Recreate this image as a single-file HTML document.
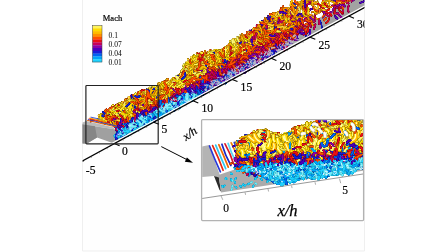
<!DOCTYPE html>
<html><head><meta charset="utf-8"><title>Mach iso-surfaces</title>
<style>
html,body{margin:0;padding:0;background:#fff;}
body{width:448px;height:252px;overflow:hidden;position:relative;font-family:"Liberation Serif",serif;}
svg{position:absolute;left:0;top:0;display:block}
text{font-family:"Liberation Serif",serif;fill:#000}
</style></head><body>
<svg width="448" height="252" viewBox="0 0 448 252">
<defs>
<clipPath id="cm"><rect x="82.5" y="0" width="282" height="250"/></clipPath>
<clipPath id="ci"><rect x="202.2" y="120.2" width="160.8" height="99.8"/></clipPath>
<filter id="od" x="80" y="-5" width="290" height="230" filterUnits="userSpaceOnUse" color-interpolation-filters="sRGB"><feGaussianBlur in="SourceGraphic" stdDeviation=".45" result="b"/><feComponentTransfer in="b" result="d"><feFuncR type="linear" slope=".5"/><feFuncG type="linear" slope=".5"/><feFuncB type="linear" slope=".5"/><feFuncA type="linear" slope="3.5"/></feComponentTransfer><feMerge><feMergeNode in="d"/><feMergeNode in="SourceGraphic"/></feMerge></filter>
<filter id="oc" x="80" y="-5" width="290" height="230" filterUnits="userSpaceOnUse" color-interpolation-filters="sRGB"><feGaussianBlur in="SourceGraphic" stdDeviation=".45" result="b"/><feComponentTransfer in="b" result="d"><feFuncR type="linear" slope=".68"/><feFuncG type="linear" slope=".68"/><feFuncB type="linear" slope=".68"/><feFuncA type="linear" slope="3.5"/></feComponentTransfer><feMerge><feMergeNode in="d"/><feMergeNode in="SourceGraphic"/></feMerge></filter>
</defs>
<rect x="0" y="0" width="448" height="252" fill="#fff"/>
<rect x="82.5" y="0" width="282" height="251" fill="#fefefe"/>
<path d="M82.5 0V251H364.5V0" fill="none" stroke="#efefef" stroke-width="1"/>
<g clip-path="url(#cm)">
<polygon points="114.3,129.3 366,-7.6 366,5.7 118,140.6" fill="#a2a2a2"/>
<polygon points="82,122.8 86.3,121 114.3,127.4 114.3,129.3 82,124.3" fill="#bababa"/>
<polygon points="82,124.3 114.3,129.3 118,134 124,139 114,143.6 97,137.6 87,143.6 82,143.6" fill="#a0a0a0"/>
<polygon points="82,124.3 95,126.3 97,137.6 87,143.6 82,143.6" fill="#868686"/>
<polygon points="90,122.7 94,121.3 98,119.1 102,116.6 106,114.3 110,112 114,110 116,109.5 120,107.5 124,105.1 128,102.7 132,100.3 136,97.9 140,95.5 144,93.9 148,92.3 152,91 156,89.2 160,86.5 164,84.8 168,84 172,84 176,81.1 180,78.3 184,73.4 188,65 192,62.2 196,59.3 200,56.5 204,55.9 208,55.3 212,54.8 216,54.5 220,54.2 224,52.3 228,49 232,45 236,41.6 240,39.6 244,38.9 248,37.3 252,35 256,31.7 260,27.8 264,23.8 268,20.6 268,44 264,46.2 260,48.4 256,50.6 252,52.7 248,54.9 244,57.1 240,59.3 236,61.4 232,63.6 228,65.8 224,68 220,70.1 216,72.3 212,74.5 208,76.7 204,78.8 200,81 196,83.2 192,85.4 188,87.5 184,89.7 180,91.9 176,94.1 172,96.2 168,98.4 164,100.6 160,102.8 156,105 152,107.1 148,109.3 144,111.5 140,113.7 136,115.8 132,118 128,120.2 124,122.4 120,124.5 116,126.7 114,124.8 110,123.7 106,122.6 102,121.5 98,120.4 94,119.3 90,118.2" fill="#b83a10"/><polygon points="116,126.7 120,124.5 124,122.4 128,120.2 132,118 136,115.8 140,113.7 144,111.5 148,109.3 152,107.1 156,105 160,102.8 164,100.6 168,98.4 172,96.2 176,94.1 180,91.9 184,89.7 188,87.5 192,85.4 196,83.2 200,81 204,78.8 208,76.7 212,74.5 216,72.3 220,70.1 224,68 228,65.8 232,63.6 236,61.4 240,59.3 244,57.1 248,54.9 252,52.7 256,50.6 260,48.4 264,46.2 268,44 268,56.5 264,58.7 260,60.9 256,63.1 252,65.2 248,67.4 244,69.6 240,71.8 236,73.9 232,76.1 228,78.3 224,80.5 220,82.6 216,84.8 212,87 208,89.2 204,91.3 200,93.5 196,95.7 192,97.9 188,100 184,102.2 180,104.4 176,106.6 172,108.7 168,110.9 164,113.1 160,115.3 156,117.5 152,119.6 148,121.8 144,124 140,126.2 136,128.3 132,130.5 128,132.7 124,134.9 120,137 116,139.2" fill="#50108c"/><polygon points="116,131.2 120,129 124,126.9 128,124.7 132,122.5 136,120.3 140,118.2 144,116 148,113.8 152,111.6 156,109.5 160,107.3 164,105.1 168,102.9 172,100.7 176,98.6 180,97.1 184,96.3 188,95.5 192,94.6 196,93.8 200,93 200,93.5 196,95.7 192,97.9 188,100 184,102.2 180,104.4 176,106.6 172,108.7 168,110.9 164,113.1 160,115.3 156,117.5 152,119.6 148,121.8 144,124 140,126.2 136,128.3 132,130.5 128,132.7 124,134.9 120,137 116,139.2" fill="#1088e0"/>
<g fill="none" stroke-linecap="round" stroke-linejoin="round">
<path filter="url(#od)" stroke="#ff5000" stroke-width="2" d="M285.5 33.8q1.7 2.6 4.8 2M285.7 27.4q-2.4 -1.4 -5.1 -1.1"/>
<path filter="url(#oc)" stroke="#1ed2ff" stroke-width="4.5" d="M156.4 108.1q-.1 3.5 3.3 4.3M182 102.1q-1.8 .1 -3 -1.3M132.7 128.1q-3.5 .3 -5.9 2.7M146.2 115.9q.7 -2.6 3.3 -2.3M150 121.1q.8 -2.6 1.7 -5.3M126.1 132.9q-2.3 -1.4 -1.3 -3.9M136.4 120.8q-2.2 4.2 1.9 6.6M149.6 118.2q2.2 -3.1 6 -2.3M174 101.6q3 -1.7 6.1 -.4"/>
<path filter="url(#od)" stroke="#ff9100" stroke-width="3.5" d="M229.7 59.8q1.4 -2 3.2 -3.5M170.2 90.8q-1.9 .4 -3.6 1.4M237.6 42.2q1.6 -1.3 3.7 -.9M250.8 43.9q-1.5 2 -.3 4.3M236.6 54.2q2.3 .3 4.4 1.3M278.1 20.5q1.3 1.8 1 4.1M129.8 112.3q-.3 2.4 -1.2 4.7M242.4 46.1q3 -1 5.6 .7M274.5 41.3q-1.7 1.1 -1.2 3.1M261.5 51.2q-3.1 -1.4 -3.9 -4.6M193.1 66.4q4 1.1 3.2 5.1M272.1 16.4q.2 -2.2 2.4 -2.3M213.9 58.2q-1.1 -1.5 -2.9 -1.5M124 120.6q-1.5 2 -3.9 2.9M265.9 31.1q3.4 .7 4.3 -2.6M263.4 40q-1.8 -2.1 -.9 -4.8M228 57.1q2 -1.2 1.1 -3.3M219.6 62.7q.9 2.4 -1 4.2M205.8 62q-.5 3.9 3.3 4.9"/>
<path filter="url(#oc)" stroke="#1ed2ff" stroke-width="3.5" d="M178.4 101.1q-1.9 -2.5 -4.3 -4.5M154 114.2q.9 2.3 2.8 3.9M177.9 104.7q-2.5 -2.8 -.2 -5.8M148 120.1q0 -2.8 2.8 -3.1M171.7 104.6q-2.6 -.5 -3.8 -2.8M115.5 135.9q2.7 -2.1 6 -2"/>
<path filter="url(#od)" stroke="#ffdc00" stroke-width="4.5" d="M202.1 61.4q-3 1.2 -4.3 4.2M174.3 84.9q3.3 .7 3.3 4.1M164.9 88.6q-1.7 -.5 -3.4 .1M202.6 75.1q2.8 2 1.1 5M228.4 55.2q-1.9 1.1 -2.4 3.3M202 61.3q-3 -1.5 -5.7 -3.4M117 109.5q2.8 -.4 3.6 -3.1M126.6 114.1q2.8 .6 4.3 -1.9M214.6 53.7q3.8 .1 6.2 3M222.8 64.8q-3.3 1.3 -5.3 -1.6M215.1 51.5q.8 2.8 -1.3 4.7M265.5 22.7q-.2 3.1 -2.8 4.8M155.6 90.3q-3.1 1.7 -6 -.4M258.8 34.4q-2.9 -1.4 -5.5 -3.3"/>
<path filter="url(#od)" stroke="#eb0f14" stroke-width="1.2" d="M303.3 .9q4.2 -1.1 3.1 -5.2"/>
<path filter="url(#od)" stroke="#ff9100" stroke-width="1.6" d="M306.8 -2.9q-1.8 3.1 -5.2 4.1"/>
<path filter="url(#od)" stroke="#ff5000" stroke-width="3.5" d="M247.5 62.5q2.8 -1.6 1.3 -4.4M271.2 29.8q-.2 3.8 -3.7 5.2M113.9 118.6q-1.3 2.2 -2.7 4.4M129.5 102.4q-.3 -3.3 2.6 -5M225.3 49.9q2.9 -.6 5.8 .1M118.5 116.5q1.7 2 .7 4.4M168 81.2q-2.8 3.1 -.4 6.6M154.7 111.2q1.6 -2.2 2.2 -4.8M208.1 53q-1.6 1.7 -1.5 4.1M198.8 65.4q-1.1 1.2 -2 2.5M271.8 28.2q-2.9 .5 -4.8 2.7M197.5 71.6q-2.3 .7 -4.5 1.3M224.8 68.2q2.5 -3.1 6.3 -2.3M127 113.8q2.3 -3.6 -.9 -6.5M135.3 103.4q-1.5 -2.1 -.2 -4.3M127.6 119.3q2.1 -1.2 2 -3.6M159 95.7q2.1 1.4 2.7 3.8M200.7 59.6q-3 -2 -1.3 -5.1M182 78.1q.5 -2.2 2.7 -2.8M260 26.3q-1.1 2.3 -2.9 4.3M132.9 102.9q-.5 1.7 -.5 3.5M217.9 58.6q-1.3 2.2 .3 4.3M226.6 75.1q-.2 -2.3 -1.3 -4.3M218.9 67.3q.8 -2.6 2.8 -4.6M231.9 47q-.7 -2.7 1.8 -3.8M161.1 102.8q2.2 1.2 3.3 3.4M158.8 102.6q2.5 -1.3 3.6 -3.9M222.2 52.8q1.6 2.6 4.3 4.1M109 118.1q1.7 2.1 3.4 4.1M278.8 33.3q2 2.1 .8 4.8M237.8 39.2q-2.4 2.2 -1.7 5.4M106.1 122.2q-2.6 -1.3 -1.9 -4.1M220.8 62.2q2.1 2.1 5.1 1.6M266.2 50.8q-2.4 .6 -3.6 2.7M113.3 110.9q-1.4 2.5 -4.1 1.5M251.1 58.3q2.5 -2.4 .1 -4.9M277.7 35.3q.4 -2.9 3 -4.1M162.9 86.8q-3.6 -.6 -4.4 2.9M145.2 107.1q2.1 -3.1 .3 -6.4M268.6 49.6q-1.4 -1.8 -.1 -3.8"/>
<path filter="url(#od)" stroke="#141ed7" stroke-width="1.6" d="M284 46.8q-2.3 -2.5 -1.7 -5.9"/>
<path filter="url(#od)" stroke="#eb0f14" stroke-width="3.5" d="M224.5 70.8q2 1.3 3.6 3.2M218.4 72.4q-2.7 1.9 -3.8 5M145.2 107.2q-2.4 -1.1 -2.6 -3.7M251.8 35.6q-2.8 .5 -4.1 -2.1M272.9 20.2q-2 -1 -3.7 -2.6M125.9 122.3q-.7 -3.1 -.1 -6.2M272.7 42.5q.8 -2.3 1.9 -4.4M131.6 104q1.9 1.5 .7 3.6M145.3 110.2q.4 -3.7 -3.1 -5M206 62.5q.9 4.1 5.1 4.7M278.5 38.6q-2.3 -2.3 -1.5 -5.4M172.7 95.5q3.2 -1.3 5.4 -4M158.4 93.8q-2.6 2.4 -5.2 .1M225.8 68.4q0 3.7 2.3 6.6M209.6 60.6q-.8 3.5 1.6 6.1M219.4 74.6q2 -.4 3.4 -1.7M186.1 80q-1.8 1.6 -3.5 -.2M209.5 79.5q-3.4 .4 -3.5 3.8M249.9 50.3q.2 2.4 -2 3.3M175.4 78.9q-1.6 4.1 2.2 6.4M156.1 93.9q-.4 2.7 2.2 3.3M215 72.9q-1.7 -1.3 -3.9 -.9M149.1 107.8q2.2 1.4 4.8 1.6M171.4 87.7q.1 -3.6 2.7 -6M245 45.3q-3 -1.3 -6 -2.4M171.5 88.3q1.4 1.7 3.5 2.1M138.8 98.2q-2.2 -.9 -3.3 1.2M128.7 106.7q3.7 1 6.3 -1.8M166.7 92.5q2.6 -2.2 .5 -4.8M184.3 75.8q-1.6 -.9 -2.4 -2.6M194.2 71q2.5 -1 3.6 1.4M166.9 88.3q-1.3 -1.2 -3 -1.3"/>
<path filter="url(#od)" stroke="#ffbe00" stroke-width="2" d="M293.9 9.6q-5.1 -3.5 -1.8 -8.7"/>
<path filter="url(#od)" stroke="#ff5000" stroke-width="4.5" d="M225 67.5q-3.6 .8 -6.7 -1.1M156.6 101.3q1.5 .9 2.7 2.2M183.9 82.1q3.8 .3 4.4 4M217.8 65.8q-2.3 1.5 -1.2 4.1M188.6 79.9q3 -.2 4.9 -2.5M236.8 50.4q-4 -2.2 -2 -6.3M102.5 116.9q1.2 -2.5 3.8 -1.5M258.6 45.8q-1.8 .2 -3.5 .7M107.7 121.4q2.6 .2 5.1 -.2M121.8 118.5q-2.1 -2 -3.9 -4.2M140.1 118.3q-2.1 .5 -4.2 -.3M192.5 79q-1.6 1.5 -1.3 3.6M176.9 89.3q0 2.9 -.6 5.7M191.9 67.1q0 2.9 .8 5.7M265.7 28.6q.5 1.8 .6 3.7M230.9 65.2q1.3 -.8 2.8 -1.2M263.9 45.4q-3 1.3 -6.2 .8M238.4 56q2.8 1 4.5 -1.4M125.8 115.3q2.6 1.9 4.8 -.3M232.3 60.5q3.4 2.6 .9 6.1M175.5 83.9q-2.8 -.2 -3.6 2.4M252 41q-.3 -2.6 .7 -5M178.6 93.1q-.4 3.4 2.7 4.7M250.5 33.2q2.1 1.9 1.4 4.7M168.3 94.1q1.5 -1.9 2.6 -4.1M215.3 56.4q-1.7 1.8 -.8 4.2M258 47.4q-1.3 -2 0 -4M115.7 112q3.3 1.4 4.7 -1.9M245.3 54.6q-3.2 2.1 -5.3 -1.1M251.8 54.6q-.4 3.4 -3.8 3.1M228.2 49.8q4.2 1.6 6.6 -2.3M190.1 72.5q-2.6 3 -5.9 .8M166 101q-3.3 -2.2 -6.6 -.1M181.8 77.3q2.2 -1 4.1 -2.4M118.1 121.7q2.4 -2.2 4.5 -4.6M243.4 51.3q2.4 -1.2 4.6 .4M248.4 55q-.3 2 -1 3.9M188.1 72.1q-2.6 .9 -5.1 -.4M137.7 112q1.1 -2.3 2.4 -4.5M265.6 37.8q-1.4 3.3 -4.5 5.3M237 43.9q1.9 -.7 3.9 -.3M227 70.5q1.5 -3 1 -6.3M208.2 55.4q2.2 2 4.7 .5M234 66.5q3 -1.3 1.8 -4.3M148.5 106.6q-1.9 3.3 -5.7 3.4M150.7 99.4q-3.1 1.3 -5.3 -1.3"/>
<path filter="url(#od)" stroke="#eb0f14" stroke-width="2" d="M296.1 31q2.5 -.5 3.7 -2.7"/>
<path filter="url(#od)" stroke="#4b00be" stroke-width="3.5" d="M143.2 109.7q3.2 -.3 6.3 .6M212.2 86.1q-1.2 -3.1 1.7 -4.8M203.3 87.6q2 -1.6 4.6 -1.4M161.1 105.8q.4 -2.4 2.9 -2.9M122.9 127.6q-.8 -2.6 -3 -4.1M224.4 75.9q-.6 -1.7 -2.5 -1.9M256.2 30.3q2.1 1.2 4.5 1.8"/>
<path filter="url(#od)" stroke="#fff45a" stroke-width="4.5" d="M215.5 55.4q1.2 2.1 1.9 4.4M214.2 61.6q4.5 -1.1 3.6 -5.7M209.5 64q.4 -3 3 -4.5M130.4 114.6q.7 2.9 3.6 2.5M196.5 65.5q1.6 1.3 3.4 .3M212.6 57q2.6 -.7 5.2 -.9M188.5 71.1q-1.1 -3.2 -3.7 -5.4"/>
<path filter="url(#od)" stroke="#ffbe00" stroke-width="4.5" d="M135.5 96.7q2.6 .5 5.1 -.6M210.7 60.7q-.1 2.8 1.6 4.9M180.6 75.6q1.4 3.2 4.9 3.4M161.1 93.7q-1.9 1.2 -2 3.5M194.7 68.8q-1.8 -1.2 -3.8 -.4M272.6 36.2q-1.5 -2.9 .7 -5.3M163.4 94.9q-2.9 1.9 -6.4 2.7M239.4 40.6q-2.1 .1 -3.5 1.6M140.5 96.4q-1.1 2.3 -3.7 2M181.3 83.3q-2.5 -3.1 -6.2 -1.5"/>
<path filter="url(#od)" stroke="#4b00be" stroke-width="1.6" d="M297.8 23.9q-1.1 -3.1 -2.1 -6.2"/>
<path filter="url(#od)" stroke="#4b00be" stroke-width="4.5" d="M247.7 59.7q1 4.1 5.1 4.3M266.6 37.4q-3.8 -1.3 -6.9 1.2M250.4 58.8q-.4 1.6 -1.2 3.1M215.9 74.8q3.4 -1.9 6.9 -.2M206.3 84.4q2.4 -.9 4.9 -1.7M270.1 54q-.4 -2.4 1.6 -3.8"/>
<path filter="url(#od)" stroke="#8c00a5" stroke-width="2" d="M294 38.7q-3.4 -.7 -5.8 1.7"/>
<path filter="url(#od)" stroke="#141ed7" stroke-width="4.5" d="M151 90.1q-4 .2 -5.1 4M261.5 55.6q-.5 2.6 1.9 3.5M134.2 106q-1.5 3.1 -2.3 6.5M116.4 118.9q-2.8 2.1 -6 3.2M177.3 92.8q-2.6 -1.4 -1.8 -4.3M137.8 118.8q-1.6 -.7 -2.3 -2.2M188.3 80.5q2.8 2.1 5 -.7M192.6 66.7q2.5 -1.6 5.5 -1.5M223.7 56q3.6 2.1 6.8 -.6M235 56q4 1.1 5.3 -2.9M194.1 86.5q-2.6 .5 -5.3 1M222.4 60.7q2.2 3.7 -1.3 6.1M127.1 100.7q1.8 1.9 3.7 3.7M130.8 105q-3.9 -2 -6.4 1.5M128.8 115.4q-2 .4 -1.8 2.4M128.2 100.6q.3 2.7 -2.4 3M176 92.8q.2 -2.9 3 -4M121.2 118q1.5 2.6 2 5.5M183.9 95.8q-.6 -1.8 -.9 -3.6M195.7 74.6q3.3 -.7 5.3 -3.5M133 118.9q1.5 -1.7 3.8 -2M164.2 89.7q1.3 -3.3 .4 -6.8M190.3 75.7q1.3 1.4 2.8 2.4"/>
<path filter="url(#od)" stroke="#ffdc00" stroke-width="3.5" d="M140.5 106.7q-2.7 1.8 -3.4 5M205.4 57.3q2.6 .3 4.9 -1M141.2 107.5q0 3.7 3.4 5.1M179.3 81.8q-1.1 3 .7 5.7M205 60q1.1 2.8 4 1.8M139.8 102.7q-3.4 1.7 -3.9 5.4M187.8 80.2q-1.1 -2.5 -3.9 -2.2M154.4 100.9q-3 2.7 -1.4 6.5M171.7 85.5q-1.9 -.6 -2.2 -2.6M161.7 96.9q1.1 2.7 3.9 2.4M122.4 104q-1.6 3.5 .2 6.9M191.4 66.7q3.8 -.9 4.8 2.9M165.4 86.3q-1.1 2 -2.9 3.3"/>
<path filter="url(#od)" stroke="#ffbe00" stroke-width="1.6" d="M288.9 23.5q0 2.3 -1.4 4.2"/>
<path filter="url(#od)" stroke="#fff45a" stroke-width="3.5" d="M241.7 49.7q.3 -2.5 1.5 -4.7M121.8 105.3q.7 2 2.1 3.6M120.7 122.5q-1.1 -1.8 -2.2 -3.6M134 101.1q2.4 -.3 4.8 -.9M125.6 113q-1.1 2.3 -.5 4.7M191.9 68.4q-1.8 1.1 -3.5 -.1M158.3 90.6q1.7 3.5 -.5 6.6M189.7 77.3q3.4 -.2 5.5 2.5M138.9 107.4q-2.3 3.5 .7 6.3M233 51.7q1.2 -2.1 -.4 -4"/>
<path filter="url(#od)" stroke="#c8005a" stroke-width="4.5" d="M255.7 47.2q1.6 .4 3.1 .8M219.3 72q-1.9 3.4 .1 6.7M261.1 45.1q-.6 1.6 -.8 3.4M242.1 59.2q1.1 3.1 4.3 3.7M182.3 91.7q3.6 -.1 5.2 3M258.4 46.1q2.2 1.8 5.1 1.8M245.2 63.7q-1.5 -1.5 -3.1 -2.9M262.8 55.2q-1 -2.5 -3.2 -4.1M256.2 49q-1.9 .4 -3.8 -.1M265.6 40.1q3.6 1.7 2.7 5.5M261 38q.3 1.9 1.3 3.5M250.7 50.8q2.1 1.1 2.9 3.4M216.5 67.1q2.4 1.2 2.3 4M175 96.5q-1.7 -1.1 -3.3 .1"/>
<path filter="url(#od)" stroke="#ff9100" stroke-width="2" d="M293.3 28.8q3.7 -.7 3.3 -4.5M283.7 12.2q2.6 -.7 3.4 -3.2M282.8 19.9q-3 2.5 -1.1 5.8M277.3 33.3q1.7 -4 6 -3.8"/>
<path filter="url(#od)" stroke="#4b00be" stroke-width="1.2" d="M302.9 7.3q-2.2 .1 -3.8 -1.5"/>
<path filter="url(#od)" stroke="#c8005a" stroke-width="3.5" d="M269.5 50q.4 -1.6 1.5 -2.8M257.6 25.7q1.9 .6 3.3 2M203.5 75.3q3.4 .2 6.5 1.7M128.7 121.1q-1.3 1.9 -3.1 3.4M189.4 89q2.7 -2.1 1.3 -5.3M253.4 54.6q-2 .5 -4 1.1M234.8 72.3q-.3 -2.6 0 -5.1M222.3 76.6q-2.2 -2 -5 -2.7M210.8 77.6q-.7 3 -.7 6.2M237.1 70.8q-1.1 -2.1 .1 -4.1M265.5 57.9q-3.1 -1.4 -4.8 -4.4"/>
<path filter="url(#oc)" stroke="#6ef0ff" stroke-width="4.5" d="M145.7 118q.4 -2.2 -1.4 -3.7M176.5 101.9q-3.5 1.7 -5.8 -1.5M151.4 115.2q-3.6 -.9 -6.6 1.4"/>
<path filter="url(#od)" stroke="#ff9100" stroke-width="4.5" d="M235.1 53.9q1.4 2 3.7 1M170.7 95.9q-2 .9 -4 -.3M143.7 101.7q0 1.6 .9 3M157.1 98.2q2.3 1.3 4.2 3M124.5 119.8q-1.8 .8 -2.3 2.7M206.7 74q-1.3 -1.2 -1.3 -3M243.8 52.2q-1 -1.5 -2.8 -1.1M183.5 77.9q1.3 3.3 4.6 4.4M175.2 80.2q1.8 0 3.6 .1M237.3 43.2q.4 -2.1 1.5 -4M186 70q2.6 -.9 4.5 -2.9M126.2 102.1q1.4 2.3 2.3 4.9M193.7 66q-3.1 1.6 -5.8 4M262.2 33.7q.2 2.3 0 4.6M249.6 44.3q-2.6 1.7 -4.6 4.1M131.8 104.2q2.2 .4 2.7 2.5M199.8 75.5q-2.3 2.1 -2.8 5.3M249.8 34.4q-1 2.3 -2.5 4.3M270 32.3q3.6 -1.2 5.7 2M114.9 112.8q.2 -2.5 -2.3 -3M254.1 41.7q3.2 1.9 3.4 5.6M254.5 44.8q-.9 1.2 -1.3 2.7M273.8 39.9q1 -4.6 -3.5 -5.8M250.2 37q.5 3.3 -.1 6.6M164.1 92.5q-1.7 -1.6 -3.8 -2.5M251.5 41.3q-1 3.2 2.1 4.6"/>
<path filter="url(#od)" stroke="#ffbe00" stroke-width="3.5" d="M252.6 32.4q1.1 4.7 5.8 3.7M201 64.3q-1.7 -2.8 -4.9 -1.8M104.7 120.7q.3 -4 -3.6 -4.8M169.8 83.9q-2.4 2 -5 .2M227.9 58.8q-1.8 1.4 -3 3.4M152.2 100.9q1.6 2.4 3.1 4.8M131 110.4q-2.4 1.5 -4.7 0M261.3 37.3q1.7 .4 3 1.5M245.4 47.4q1.6 2.8 3.2 5.6M191.3 80.4q2.6 2.4 .7 5.5M263.3 39.7q.7 -1.5 2 -2.7M104.7 113.6q0 2 2 2.2"/>
<path filter="url(#od)" stroke="#8c00a5" stroke-width="3.5" d="M129.9 121.5q-1 -2.6 -3.2 -4.4M194.6 93.9q3.1 -1 6.3 -.8M197 93.9q-1 -2.6 -.7 -5.4M218.4 76.7q2.5 1 5.1 1.7M250 62.1q-1.8 -2.3 -1.8 -5.2M167.4 102.8q2.8 .3 3.2 -2.4M204 92.3q-2.1 -1.9 -1.1 -4.5M247.4 55q.1 1.7 -.5 3.3M210.5 78q1.3 2.5 3.3 4.5M180.5 96.1q-3.2 -1.2 -5.9 1.1M149 94.5q3.1 3 6.8 .9M190.3 82.8q3.4 1.8 1.8 5.3M219.8 79.7q1.5 .4 3 .3M227.7 57.1q.5 -3.8 4.2 -4.8M274.3 36.8q-2.4 .9 -4.9 .5"/>
<path filter="url(#od)" stroke="#141ed7" stroke-width="2" d="M279 29.6q1.8 1.2 3 2.9M290.8 42.9q-2.6 -.9 -4.7 -2.6"/>
<path filter="url(#oc)" stroke="#00a5fa" stroke-width="3.5" d="M176.1 101.7q2.1 1.6 4.7 1.4M122.9 131.9q-2.1 -2.7 -5.1 -4.3"/>
<path filter="url(#od)" stroke="#0064f0" stroke-width="4.5" d="M192.5 88q-2.6 1.7 -4.3 4.3M183.3 92.1q0 2.4 -.1 4.8M160 115.7q.7 -3.2 -.9 -6.1M156.2 115.1q-.1 -3.1 -3 -4.1"/>
<path filter="url(#oc)" stroke="#00a5fa" stroke-width="4.5" d="M137.7 123.2q2.2 1.4 4.8 1.7M151.1 115.1q-.8 -1.5 -1.4 -3.2M126.4 130.9q-3.1 2.5 -6.7 1M172.6 99.2q3.1 .3 6.1 -.4M141.7 125.7q.2 -2.6 -.2 -5.1"/>
<path filter="url(#oc)" stroke="#6ef0ff" stroke-width="3.5" d="M158.9 110.4q2.9 3.4 -.4 6.5M127.8 126.6q2.9 -1.2 2.3 -4.2"/>
<path filter="url(#od)" stroke="#eb0f14" stroke-width="4.5" d="M233.2 52.6q1.4 -2.9 4.5 -2.1M260.8 54q-2.5 1.3 -4.1 3.6M121.6 109.7q2.9 -.2 4.5 -2.7M235.9 60.2q-1.3 1.5 -3.2 2.1M242 43q1.3 3.6 -1.9 5.8M226.1 60.2q2.7 -.3 4.6 -2.2M190 74.8q-1.6 -2.8 .1 -5.4M113 118.4q-.8 1.4 -2.1 2.3M136.5 98.9q1.7 3.1 .8 6.5M193.6 74.1q1.2 -2.7 -1.2 -4.3M190 81.7q2.5 2.1 5.7 2.5M256.2 35.7q1.2 1.9 1.2 4.2M206.7 70q2.6 -.9 5.3 -1.9M205.4 76.9q-1.6 -1.1 -3.3 -2M142 109.4q-.8 -3.2 -3.7 -4.9M216.6 69.1q.1 -2.8 1.2 -5.4M128.2 103.4q3.6 .2 4.1 3.7M158.7 99.8q-1.5 -2.3 -4.2 -3M124.8 114.2q2.4 1.8 5.4 2M160 101.5q-2.4 -.2 -4.6 -1.4M136.4 103.8q-1.4 1.3 -3.3 1.5M222.1 70.2q3 2.4 5.6 -.3M172 90.6q1.4 -1.9 3.8 -2M173.1 83.3q2.5 -.3 4.9 -.6M194.1 62.3q-1.7 1 -3.2 -.4M213.4 55.6q-1.6 .7 -3 1.5M256.8 52q-2 2.5 -5.1 1.7M261.3 42.6q-1.6 1.2 -1.4 3.1M116 106.9q3.5 -2.3 6.4 .6M168.1 93.7q3.1 .9 5.7 -.9M223 54.8q-2.4 1.3 -4.2 3.4M217.9 53.1q1.1 4.6 -3.3 6M222.3 73.1q2.6 -1.5 5.6 -2.3M143 111.1q-.2 -3.3 -3 -5.1"/>
<path filter="url(#od)" stroke="#ff5000" stroke-width="1.6" d="M296.7 9q2.9 -2.9 1.6 -6.7M295.4 23.5q-1.2 2.4 -3.8 2.8M309.5 2.5q-2.2 .2 -4.3 .5"/>
<path filter="url(#od)" stroke="#0064f0" stroke-width="3.5" d="M139.6 124.6q2 -1.5 4.1 -2.8M120.1 122.9q-.3 2.6 -2.9 2.8M155.1 114q1.5 -3.2 -1.4 -5.1M163.9 103.7q-2.2 -1.9 -.6 -4.4M189.4 90.8q.9 1.4 .5 3.1"/>
<path filter="url(#od)" stroke="#8c00a5" stroke-width="4.5" d="M194.8 92.9q2.4 -2 5.1 -3.4M235.1 68.1q3.1 -1.4 5.7 .7M149.2 98q-3.3 .5 -6 -1.5M164.5 89.8q-1.6 1.3 -3.2 0M164.6 92.3q1 -1.8 -.5 -3.2M228.3 68.5q3.8 3.1 .7 6.9M222 67.6q2 2.1 2.9 4.8M187.3 94.6q-.3 -2.5 .4 -4.8M132.3 96.5q3.9 -.2 4.2 3.7M247.3 50.4q-.5 -1.8 -2 -3M215.4 75.8q-2.2 .1 -2.5 2.3M234.2 53.7q-.6 2 .2 4M246.6 50.7q1.6 1.7 3.7 2.5M212.9 75.6q-.2 2.5 -2 4.3M204.5 67.8q1.9 3.1 5.4 2.3M216.5 57.8q-2.1 -1.2 -1.3 -3.4M259.5 31.7q-3.4 .1 -6.8 -.3M210 84.3q-2.5 -1.6 -3.2 -4.5"/>
<path filter="url(#od)" stroke="#141ed7" stroke-width="3.5" d="M162.2 111.6q-3.1 .1 -4.1 3M148 93.2q1.2 2.7 -.8 4.9M119.9 113.2q1 2.6 1.7 5.2M237.5 45.4q-1.6 1.7 -3.5 3M140.6 96.3q.8 1.9 2.5 2.9M191.7 94.8q3.2 -1.2 3 -4.5M132.6 117.8q-2.4 2.9 -6.2 3.2M116.2 123.3q-1.9 -1.5 -.5 -3.5M177.2 92.8q1.5 2.7 4.5 1.9M174.3 96.6q1.5 -.4 3 -.2M201.8 68.4q-.2 -3.2 -3.1 -4.7M128.2 105.7q3.8 2.1 2.8 6.3M159 95.9q3.2 -2.2 6.7 -.4M143.7 120.7q-1.9 -1.1 -3.4 .6M276.2 50.5q-.2 -3.6 2.8 -5.5M217.1 53.9q3.9 -.2 6.1 3M131.7 99.8q3.2 -.9 5 1.9M118.3 128.3q-1.1 2.4 .9 4.3M196.9 95.5q-.8 -2.1 -.3 -4.2"/>
<path filter="url(#od)" stroke="#c8005a" stroke-width="1.6" d="M311.4 24.7q-3.6 -2.2 -6.7 -5.2M315 -3.1q-1.1 5.3 -6.5 4.4M286.8 35.5q-.9 3 -2.2 5.9M298.9 19.1q2.9 .2 5.1 2.1M291.9 34.4q4.3 -.4 4.7 -4.8M301.9 28.4q-2 4 1.7 6.5"/>
<path filter="url(#od)" stroke="#eb0f14" stroke-width="2" d="M286.1 36q2.3 4.7 7.2 2.9"/>
<path filter="url(#od)" stroke="#ff5000" stroke-width="2.5" d="M205.9 62.8q-1.7 1.4 -3.5 2.7M122.1 124.8q1.6 1.8 .3 3.8M206.8 66.9q.9 1.4 2.1 2.5M257.7 31q-2.7 -.1 -3.4 -2.7M178.6 78.6q3.2 .9 2.3 4.1M142.9 97.9q-2.3 -3.9 .3 -7.7M268.8 44.6q-3.2 -.1 -4.3 2.9M153.9 100.3q-3.5 -.3 -3.7 -3.8M260.3 45.6q-1.5 3.7 -4.8 5.9M149.4 89.5q-1.3 3.2 -4.8 3.8M200.4 76.6q-.3 3.5 -1.7 6.8M238.2 48.5q-2.8 -1.8 -6.1 -2.4M250.2 49.9q1.6 -2.7 4.3 -4.1M250.5 39.3q-1.8 -3.4 -3.2 -6.9M188.1 84.3q-1.1 2.9 1.3 4.8M183.3 75.2q1.8 .1 3.4 .9M156.6 101.2q-2.3 .6 -3.6 2.6M251 34.2q.5 1.5 .3 3.1M136.9 108.3q.6 2.5 2.9 3.7M150.1 92.5q.7 -1.6 2.5 -1.7M161.8 88.7q4.4 -1.8 4.3 -6.5M168.2 100.7q-1 3 -4 2M128.5 100.9q3.1 4.1 -.9 7.2M114.7 126.1q1 -3.9 -1.8 -6.7M212.9 55.2q.6 -1.9 2.6 -2M234 57.9q1.9 -2.7 2 -6M263 49.2q-.3 2.6 -2.7 3.5M148.9 92q3.3 2 7.1 2M237.4 48.3q-.7 3.3 -2.5 6.1M174.9 94.3q1.1 1.7 -.3 3.2M245.9 49.8q-4.8 1 -6.4 -3.6M127.1 121.2q2.3 -.8 4.6 -.2M197.8 77.7q3.9 -2.3 6.4 1.5M240.7 58.2q-2.8 .7 -5.3 -.7M269.6 20.6q-1.6 -.9 -1.4 -2.8M234.1 47.4q.5 3.3 3.8 3.8M119.4 126.1q-.1 -4.2 3.9 -5.6M146.6 97.3q.4 2.6 3 2.8M186.6 87.7q3.2 .7 6.5 .4M211.1 59.7q-.6 -3.1 -3.6 -4.3M255.2 45q3.2 2.5 7.3 2.8M235.6 66.4q1.2 -2.1 3.7 -2M242.6 62.4q-1.8 -.3 -2.3 -2.1M270.3 17.9q.5 2 2.5 2.5M142.9 92.2q.7 1.9 1.9 3.5M250.5 46.9q-.1 2.2 -2.2 2.6M156.9 103.1q3.2 .8 4 -2.4M270.4 14.4q2 1.4 3.9 2.8M262.8 48.6q-.7 -1.8 -2.2 -3M253.9 41.8q2.6 1 5 -.5M187.3 86.2q1.3 2.9 4.4 2.6M133.4 112.5q2.5 .2 4.3 1.8M256.1 50.3q2.3 -1.3 4 .7M254.1 42q1 -2.5 3 -4.4M203.9 54.6q1 3.9 4.4 6M172 87.7q1.3 3.6 4.7 5"/>
<path filter="url(#oc)" stroke="#00a5fa" stroke-width="3" d="M167.7 104.7q2.2 1.7 1.5 4.5M171.3 108.4q1.6 -3.7 5.6 -4.5M157 110.7q-.5 2 -2.4 2.9M186.8 93.5q3.7 .6 6 3.6M151.7 115.2q.9 -1.6 2.7 -1.3"/>
<path filter="url(#od)" stroke="#141ed7" stroke-width="3" d="M170.6 97.2q-1.9 -2.6 -1.7 -5.8M195.8 89.8q2.8 2.4 6.2 .8M194.3 90.3q-2.6 -1.7 -5.1 .2M271.9 51.2q1.5 -1 2.9 -2.3M203.3 84.9q-1.7 -2.1 -3.1 -4.4M233.8 55.2q2.3 -.9 4.2 .7M178.9 96.5q1 1.5 2.6 2.3M187.7 96.4q-3.9 1.4 -3.8 5.5M171.2 87.7q2.7 2.9 5.1 6.1M129.7 120.3q-.9 -2.5 -3.5 -3.3M190.7 97.8q-2 -2.8 -5.3 -1.8M218.6 52.9q-3.6 1.1 -6.3 3.7M134.5 127.7q-.3 -4.4 3.3 -6.9M115.4 122.2q-1.6 -2.2 -4.2 -2M236.4 70q2.1 0 3.6 -1.6M215.4 55.1q1.9 -1 3.1 .7M135.1 122q1.9 -.1 3.8 .5M175.2 102.1q-.6 1.5 -1.6 2.7M128.6 126.2q-3.8 -1.9 -6 1.8M242.1 52.2q-.5 3.3 -3.9 2.9M184.7 75.1q.6 1.8 2.3 2.6M160.2 105.6q.2 5.2 5.4 5.2M186.8 97.1q-4.3 -.9 -6.3 -4.8M145.6 99.8q-1.6 -1 -3.1 0M261.2 32.3q.2 -3.8 2.5 -6.8M138.7 122.7q-2.8 -3 -6.8 -1.8M152.8 95.9q-2.3 -1.2 -1.7 -3.7M130.6 117.9q-3.5 -1.1 -6.6 1M135.5 95.6q-.3 3.7 3.2 5M140.5 96.1q-.6 1.5 -.6 3.2M163.3 102.7q-3 -1.2 -5.5 -3.2"/>
<path filter="url(#oc)" stroke="#1ed2ff" stroke-width="3" d="M150.9 114.8q4.6 -1.8 3.8 -6.7M137.2 124.6q-2.7 -.3 -4.6 1.7M121.4 135.4q-2 0 -3.4 1.5M175.3 100.8q-2.2 -.3 -4.2 .4M165 109.6q1.9 -1.4 2.7 -3.6M179.4 95.4q-.2 2.3 1.7 3.5M158.7 111.8q2.4 3.6 -.7 6.6M187 101.2q-3.8 -1.2 -7.3 .5M175.4 101.8q.9 3.7 4.1 5.8M176.2 100.5q1.5 2.4 1.2 5.2"/>
<path filter="url(#oc)" stroke="#00a5fa" stroke-width="2.5" d="M161.9 114.8q-3.4 2.1 -7.4 1.2M173.3 104.4q.4 -2.5 2.7 -3.5M131.8 130q-3.6 .7 -7.2 .6M166.7 103.6q3.1 2.1 4.4 5.6M154.6 113.8q1.4 -1.4 3.1 -.4M162.4 112.5q1.1 -1.1 1.5 -2.6M143.6 119.9q-3.5 -.9 -4.9 2.5M179 101.9q2.4 -3.1 2.4 -7M173.8 103.1q1.9 -3.4 5.7 -3.4M132.2 128.5q-5.3 -.1 -6 5.1"/>
<path filter="url(#od)" stroke="#ff9100" stroke-width="2" d="M284.1 11q4.4 3 2.8 8.1"/>
<path filter="url(#od)" stroke="#ffdc00" stroke-width="1.6" d="M296.4 11.7q-1.5 -2.4 -3.1 -4.8"/>
<path filter="url(#od)" stroke="#eb0f14" stroke-width="2.5" d="M269.6 42q-1.2 -1.5 -.5 -3.3M127.3 126.9q-1.7 -1.4 -3.9 -1.7M235.1 42.8q2.2 3.5 6.1 4.6M107.9 117.1q-1.8 .1 -3.5 .7M145.8 91.3q-2.3 3.4 -6.3 4M271.5 39.9q-1.7 1.6 -3.1 3.6M137.4 105.3q-2.1 2.1 -5 2.8M109.7 118.3q2 3.6 5.9 2.4M126.7 115.4q-2 .5 -4 1M147.6 109.5q-1.8 -3.7 .9 -6.7M231.3 43q-1.3 1 -1.6 2.6M251.4 34.1q-1.6 1.5 -3.2 0M213.2 67q-.7 3.8 .1 7.6M145.7 107.6q2 1.9 3.1 4.4M210 77.8q1.8 1.8 1.8 4.4M255.7 36q-3.9 -1.2 -6.7 1.7M263.8 50.2q0 -1.6 -.2 -3.1M240.4 56.9q-1 -2 .8 -3.3M238.4 49.4q-3 .1 -5.4 2M167.5 97.7q-.1 -3.2 3 -4M228.7 61.5q2.8 2.5 4.1 5.9M153.1 95.3q.5 -1.8 1.4 -3.6M156.7 106.2q-.7 2.2 .9 3.9M210 57.4q3 .3 2.9 3.4M170.7 103.5q-3.7 -1.6 -2.6 -5.5M142.1 107.5q-.9 -4.4 -5.2 -5.8M195.6 59.7q1.5 -.2 3.1 -.2M231.3 56.9q2.9 -4.6 7.4 -1.7M231.4 66.2q1.8 1.8 4.3 1.8M270 50.3q-.3 -3.6 -4 -3.9M125.9 127.3q-1 -1.5 -2.7 -2M121.4 125.4q1.3 3.8 -1.8 6.4M271.1 20.8q-.8 3.8 -2.8 7.2M244.3 61.5q-1.6 -3.7 -1.6 -7.7M209.4 69.9q-1.8 -.2 -3.3 -1.2M135.5 120.6q0 -2.6 -2.2 -3.9M163.2 94.6q-3.5 .1 -5.2 -2.9"/>
<path filter="url(#od)" stroke="#ff9100" stroke-width="3" d="M225.4 63.8q-.4 -2.1 1.3 -3.3M279.3 25.2q-.7 -2.8 -2 -5.4M228.5 61.2q2.2 -2.3 5 -.9M219.4 59.9q2.2 3.5 6.1 2.2M264.5 39.1q-2 -.4 -2.7 1.5M150.4 104.8q-.1 -2.1 .4 -4.2M174.4 87.7q-2.7 -2.8 -1.3 -6.5M119.1 119.9q-.9 -3.8 -4.7 -2.9M174.6 81.7q-1.9 .3 -2.6 2.1M190.4 69.6q.7 3.8 1.5 7.5M211.7 59.4q2.3 -.5 4.7 -.2M272.7 33.5q-1.5 .6 -3 1.1M268.9 40.2q2.8 -.4 4 2.2M269.8 21.5q-1.7 3.8 -5.9 3.4M197.6 63q-.7 2.4 1 4.1M227.4 46.5q.4 3 1.5 5.9M250.6 46.8q-1.2 -2.5 -3.1 -4.5M266.5 26.1q-2.2 -.3 -4.2 .6M250 37.4q2.2 -1.5 3.3 -4M111.6 119.2q-2.8 .2 -5 2.1M122.5 111.2q1.5 -3.8 5.6 -4.6M258.6 33.1q.8 2 2.1 3.8M263.2 26.7q3.2 3 1.7 7.1M259 25.5q4 1.6 3.5 5.9M260.4 47.7q.7 -4.7 -3.8 -6.5M270.8 30.4q2.4 3.1 5.1 6M225.6 57.8q-3.1 -.1 -5.7 -1.8M107 120.4q2.5 -3.4 -.9 -6M109.1 119.6q-3.4 0 -3.9 3.3M123.9 119.1q-2 .2 -2.8 -1.6M205.1 69.1q1.4 2.2 3.9 2.9M257.2 36.5q-3 -.3 -5 1.9"/>
<path filter="url(#od)" stroke="#ff5000" stroke-width="3" d="M147.6 110.4q-1.8 .9 -3.5 2M144.4 98.1q2.9 2.7 .2 5.6M137.1 112q.5 -2.2 -1.6 -2.8M220.1 75.5q1.8 -1.3 1.3 -3.5M231.1 59.9q-.6 -2 -1.7 -3.9M137.8 106.7q3.8 3.3 7.2 -.5M139.6 117q-3 -3.7 -6.8 -.8M276.3 19.9q-2.1 3.2 -5.9 3.2M194.2 72.5q-3.3 .4 -5.7 -1.9M210 78.1q-2 -.6 -4 -1M165.7 92.8q-2.6 .5 -5.1 1.6M201.6 63.9q-2.1 .9 -2.7 3.1M156.9 102.1q-3.7 -2.4 -7.9 -1M210.9 68q-3 1 -3.4 4.2M171.1 88.2q-4.5 1.5 -3.7 6.2M255.5 53.3q3.2 -.1 4.9 2.6M146.9 95.5q2.2 -.7 3.4 1.3M231.2 47.5q-1.3 .9 -1.8 2.4M216.9 69.6q1.8 -.9 1.1 -2.8M235.7 54q3.5 1.2 3.1 4.8M277.9 28q3.5 2.5 2.8 6.8M185.4 93.2q3.4 -3 1.3 -7.1M182.9 79.6q2.2 .7 1.7 3M250.4 53.7q3.3 -2.2 2.1 -6M141.2 111.4q-1.7 1.5 -2.1 3.7M273 36.4q4.2 .8 7.7 -1.6M124.2 107.4q1.6 -1.7 .2 -3.5M231.6 59.4q0 4.4 3.6 6.8M190.3 91.8q-.6 -3.6 2.5 -5.6M161.8 97.6q-3.7 2.7 -2.7 7.2M198.8 84.7q-1.8 -2.4 -3.9 -4.6M258.8 40.2q-1.4 1.5 -2.7 3.1M167.6 81.6q1.5 3.4 4.5 5.6M200.3 76.4q-1.9 -.2 -3.6 .4M126.5 104.7q-1.8 -2.8 .8 -4.8M189.2 62.9q-3 2.5 -3.1 6.3M171.9 94.5q2.9 -2.5 .5 -5.4M263 37.8q.7 2.5 -.3 4.9M183.5 83.8q2.2 -2.2 4.7 -.5M114.5 108.7q3.3 1.1 6.7 .5M242.6 43.8q.1 -2.4 1.1 -4.5M136.2 117.8q-.5 -5.1 -5.6 -5.4M233.5 50.5q3.2 .4 4.5 3.4M244.9 55.8q3.9 -1.7 6.6 1.7M172.2 99q.9 -1.7 2.8 -1.6M207.8 75.7q4.1 -2.3 6.5 1.7M131.7 111.5q1.3 -2.7 4 -3.6M207.2 60.5q-4.4 -2.2 -7.5 1.7M205.9 57.5q5.2 -1.2 4.5 -6.4M276.3 31.7q.2 3.8 2.4 7M130.6 105.3q2.7 1.1 5.5 .7M230.8 68.6q.6 -2.1 -1.1 -3.5M206.5 66q-2.7 -3.8 .5 -7.3M116.3 119.3q0 2.6 2.1 4.4M275.8 19.7q-2.2 3.3 -5.6 1.2M251.3 57.5q-2.4 .7 -4 -1.1"/>
<path filter="url(#od)" stroke="#ff5000" stroke-width="2" d="M282.8 26q.3 -3.1 -1.5 -5.7M283.2 15.4q2.4 2.7 4.8 5.4M298.7 22.4q-.7 4.1 -2.3 7.8"/>
<path filter="url(#oc)" stroke="#1ed2ff" stroke-width="2.5" d="M117.1 131.5q-.1 4.7 4.6 4.9M153.6 109.8q0 3.9 -2.9 6.5M132.3 130q-2 1.7 -4.6 1.3M118.8 129.8q3.1 1.5 5 -1.4M140.1 127.3q-1.8 -2.4 -2.1 -5.4M137.6 119.6q2.4 1.7 1.6 4.5M126.3 126.7q-3.6 1.3 -6.4 3.9M156.1 115.5q1.5 -3.1 -1.4 -4.9M163.6 112.6q-1.7 -2.1 -4 -3.6M132.9 122.2q2.5 -2.5 6 -1.6M183.7 97q4.6 2.4 7.5 -1.9M175.4 104.4q1.5 2.1 -.5 3.7"/>
<path filter="url(#od)" stroke="#4b00be" stroke-width="3" d="M272.3 36.8q-1.8 1.8 -.1 3.7M117.8 131.1q0 -4.2 3.8 -6M155.4 105.7q-1.5 1.6 -3.3 3M146.7 113.5q-.2 -2.9 2.5 -3.9M277.7 23.7q1.2 2.1 .1 4.4M252.5 58.3q-2.1 1.9 -2.2 4.7M195.2 89.3q3.9 1.2 5.2 5M206.2 76.5q-.1 -1.6 -.7 -3M230.2 75.1q.4 -4.9 5.3 -4.6M264.2 37.7q-1.5 -4.4 2.5 -6.9M227.6 67.2q-.9 -2.4 -3.3 -3.3M253.1 58.7q-.6 3.7 -3.6 5.9M190.1 95.5q-3.3 .2 -6 -1.7M219.8 84.4q-2.5 -3.8 -.1 -7.6M194.2 92.2q-2.7 .4 -5.2 -.8M244.9 71.8q-3.9 -1.9 -5.1 -6M232.7 72.7q2.7 -.8 4 1.7M223.7 72.3q-2.7 4.4 1.4 7.6M162 102.4q-3.6 .4 -7.1 1.4M134.8 114.8q-1.1 2 -2.4 4M156 104.3q3 2.4 3.2 6.2"/>
<path filter="url(#od)" stroke="#8c00a5" stroke-width="2" d="M282.2 31.6q1.6 4.1 -1.8 6.9M282 26.4q-.1 3.6 3.2 5.1M290.1 36.1q-3.8 -3.8 -.2 -7.8"/>
<path filter="url(#od)" stroke="#fff45a" stroke-width="3" d="M159.1 94.9q-.3 -4.5 4.1 -5.2M121.1 108.5q2.1 0 3.1 1.9M229.2 63.9q-2 -2.8 -5.5 -2.6M218.1 55.2q2.1 .3 3.9 -.8M124.1 119.8q-2.5 .4 -2.3 2.9M180.4 77.8q2.4 -2.8 5.6 -4.9M190.6 72q.2 2.3 2.5 2.1M158.1 97.9q-3 -.3 -4.9 1.9M106.6 118.8q-3 -1.5 -5.2 -3.9M208 58q-3.4 -1.9 -5.9 -5M206.5 65.1q-.2 3.5 2.5 5.6M182 77.9q3.4 -3 7.6 -1.4"/>
<path filter="url(#od)" stroke="#ffbe00" stroke-width="3" d="M197.3 75.2q2.5 1.5 3.3 4.4M260.6 35.5q-1.9 .3 -3.9 .1M157.9 98.1q1.1 3.7 -2.5 5.1M262.4 34q1.8 -4 -1.9 -6.4M246.2 46.4q1.7 1.6 3.9 .7M179.5 88.4q4.4 1.1 6.2 -3.1M254.1 33.9q1.1 2.3 1.1 4.8M251.7 35.5q2.1 .7 4.1 1.4M116.6 113.4q2.4 -3.1 .8 -6.6M174.9 87.8q0 3.1 -2.8 4.5M217.5 50.5q-.6 3.9 -.9 7.7M281.3 20.1q-4.3 -2.2 -6.8 1.9M180.1 87.1q-4.1 -.7 -5.1 -4.8M120.9 117.7q.5 -2.4 -1.5 -3.9M166 81.4q-2 2.2 -3.8 4.7M170.7 86.3q2.1 -1.8 4.6 -.8M217.7 64.9q-2.7 1.3 -4.7 -1M258.7 46q2.3 -1 2.2 -3.6M265.2 32.6q-1.7 -4.8 -6.8 -4M168.2 88.8q1.6 1 3.4 .6M163.6 98.7q-.1 -3.6 -1.8 -6.8M192.6 71.7q3.3 -.8 5.3 2M192.3 72.7q2.5 2.2 1.9 5.5M257.7 40.1q1.6 -3.2 3.5 -6.4M149.5 95.8q1.6 3.7 5.5 2.6M222.5 55.2q-3.4 -.9 -5.1 -3.9"/>
<path filter="url(#od)" stroke="#141ed7" stroke-width="1.2" d="M305.8 35.9q.4 -3.8 3.8 -5.5"/>
<path filter="url(#od)" stroke="#c8005a" stroke-width="2" d="M284.2 16.9q2.8 0 3.8 -2.7M283.1 29.5q-3.2 -2.8 -.6 -6.2M300 24.3q-.6 4.9 -5.6 5.1"/>
<path filter="url(#od)" stroke="#fff45a" stroke-width="2.5" d="M144.3 102.3q5.4 .6 4.9 6M209.2 70.4q.1 -3.4 -2 -6.2M159.1 97.2q-2 -.4 -2.8 -2.4M228.8 55.7q1.9 2.9 2.7 6.3M157.7 94.8q-.1 3.3 2.6 5.1M139.3 96.7q2.2 2.2 .3 4.7M228.1 59.7q.2 3.4 -2.8 4.8M181.5 80.6q2.9 -1.6 6 -.7M186 75.7q-1.7 -2.7 -4.2 -4.8M188.7 75.1q.3 3.4 -.8 6.7"/>
<path filter="url(#od)" stroke="#ffdc00" stroke-width="3" d="M167.2 99.1q-1.2 -4.2 -5.5 -3.6M218.6 57.4q1.5 3.8 -.4 7.5M209.3 68.1q.4 -2 1.3 -3.8M112.2 115.9q-.2 -1.8 .7 -3.4M158.2 88.4q-.3 2.8 2.4 3.6M147.7 93.4q-2 -.5 -4 -.4M202.9 71.3q2 1.7 4.5 1.3M142.3 110.1q.5 -1.8 1.1 -3.5M120 111.4q2.8 .2 4.4 2.5M165.2 85.6q-.7 3.3 -4 4.3M245.7 41.9q-3.1 .6 -6.1 1.6M232.7 61q-3.8 -1.7 -3.7 -5.9M144.3 94.6q3.5 1.3 6.7 -.6M225.5 53.4q-2.8 -1.1 -5.7 -.1M177.2 81.1q-2.6 3 -5.5 5.8M128.5 115.7q-3.6 -.5 -7.1 -1.6M195.4 64.4q.5 -3.1 -.7 -5.9M227.4 61.3q-2.4 -1.2 -4.4 -3.1M110 112.4q1.9 -.4 3.7 .5M233.6 44.3q3 0 5.6 1.6M215.5 66.8q-2.7 0 -4 -2.4M213.4 61.7q-2.7 -.6 -5.3 -1.3M151.2 105.1q-2.6 -.5 -5 -1.5M153.2 93.7q1.6 2 3.8 3.3M184.4 68q3.5 -2.6 7.8 -1.6M173.8 84.1q-3.4 1.9 -2.7 5.7M166.4 93.8q.6 2.2 -1.4 3.3M111.8 122.5q1.7 -1.7 3.9 -2.8M228.3 58.1q4 -.9 4.2 -5M121.9 112.1q1.6 2.3 4.4 2.1M211.8 58.8q4.3 2.8 2.4 7.6M104.7 117.3q1.6 1.9 4.1 2.3M225.6 59.4q-2 -2.6 -4.2 -5.1M134.2 103.8q-3 -.5 -4.1 -3.3M189.1 67.3q-2.8 0 -5.2 1.6M235.2 39.7q3.2 1 5.8 -1.2M202.5 55.9q1.1 2.4 -1 4M221.9 53.5q4.4 .5 6.7 -3.4M161.5 89q-1.9 -1.4 -3.3 .4"/>
<path filter="url(#od)" stroke="#ffbe00" stroke-width="2.5" d="M247.4 50.1q-2.8 2.5 -6.2 .9M185.4 79.3q-1.5 2.4 -2.6 5.1M110.2 113.2q1 2.2 3.3 1.6M231.1 51.9q3.8 -1.9 4.4 -6.1M212.1 61.9q-2.2 -.3 -3.3 1.6M272.6 38.9q-1.9 -2.5 -4.4 -.7M259.5 43.7q-2.9 -.1 -4.4 -2.5M128.9 112.3q-.9 1.4 -.8 3M255.5 41q2.4 -.3 4.6 -1.3M154.6 98.2q5 .7 4.6 5.7M252.1 46.4q1.9 .6 3 -1M229.1 47.2q2.6 -.3 3.6 2.2M164.7 87.6q1.1 1.9 -.5 3.4M191.5 60.3q2.5 2.9 6 4.5M264.3 22.4q-1.2 4.3 1.7 7.8M115.9 114.1q-2 -3 -5.4 -4.2M177.4 79.6q-1 -1.9 .5 -3.5M131.4 105.7q-4.2 1.4 -7.9 -1M117.1 122.5q-2.4 -1.3 -2.2 -4.1M208.7 64.8q1 1.8 -.4 3.3M138.2 97.7q4.8 .5 4.7 5.3M133.9 106.8q2.2 -1.4 1.6 -3.8M252.2 31.6q1.8 -.6 3.7 -.9M262.6 37.4q.8 -2 1.3 -4.1M202.8 72.7q2.4 -1.7 4.4 .5M254.7 31.5q1.4 .6 3 .8"/>
<path filter="url(#od)" stroke="#ff9100" stroke-width="1.6" d="M297.5 2.2q2.4 1.2 2.8 3.9M285.1 15.9q1.9 -1 3.8 -2.2M302.9 21.4q-3 -.5 -4.4 -3.1M283 20.5q-.1 2.9 -2.8 3.9M283.9 40.1q4.1 3 8.2 0M347.4 1.2q-3.5 -3 -8 -2.9M288.1 14.2q4.1 2.4 7.1 -1.3M296.4 3.4q4.5 -1.6 8.9 .4M289.1 14q2.1 -.7 4.3 -.9M291 8.4q-4.5 -1 -9 .4"/>
<path filter="url(#od)" stroke="#0064f0" stroke-width="2.5" d="M202.8 89.1q-2.9 -1.9 -4.4 -5.2M187.7 93.5q-2.7 .6 -5.4 0M269.9 53.8q-1.5 -.9 -3.2 -.5M121.4 127.9q2 .3 2.3 2.3M201.9 85.9q1.9 -1.1 3.8 -2.3M168.2 102.8q-2.9 1.2 -5.5 2.9M152.8 119.1q2 -1.3 2.5 -3.6"/>
<path filter="url(#od)" stroke="#eb0f14" stroke-width="1.6" d="M278.5 17.3q4.4 -1.6 6.7 2.6M301 25.4q-2 1.8 -2.5 4.3"/>
<path filter="url(#od)" stroke="#ff9100" stroke-width="2.5" d="M253.4 43.3q-2.6 .6 -4.4 -1.4M247 47.7q3 -.2 3.6 -3.1M268 46.5q-.8 -3.8 -3.3 -6.8M161.7 91.1q-1.4 -1.8 -3.5 -2.4M268.2 25.2q2.7 -2.8 5.6 -.1M127.5 120.2q.6 -2.2 1.8 -4M256.3 39.8q-2.2 .1 -3.7 -1.7M250.4 35.3q-.3 4.3 4 5.1M152.9 88.7q3.7 1.9 6 -1.7M144.5 102.3q-2.2 .7 -2.8 3M201.3 74.7q-1.4 -1.8 -3.7 -2.3M238.8 48.8q3.6 -1.7 7.5 -1.8M167 84.1q.6 -2.2 .5 -4.6M170.5 88.4q2.3 1.3 3.2 3.8M267.3 29.6q-2.3 .7 -4 -1.1M238.7 46q-1.7 -.9 -1.5 -2.8M219.1 59.4q-3.2 .5 -3.9 -2.7M249 46.7q1 -2.8 -.5 -5.3M193.8 66.3q0 3.3 1.8 6.1M199.4 55.3q-2.5 1.3 -3.6 3.9M144.9 103.5q-1.1 2.3 -3.6 3M163.1 89q-3.8 .5 -7.6 -.4"/>
<path filter="url(#od)" stroke="#c8005a" stroke-width="3" d="M266.5 43.5q.4 -2.5 -.2 -5.1M272.8 42.3q1.8 3.3 5.2 1.7M183.6 87.8q2.1 2.8 1.5 6.2M191.3 89.8q.1 -3.2 -2.7 -4.8M168.5 103.5q-2.3 1.5 -4.8 .4M258.9 41.8q1.7 -1.3 .9 -3.2M267.1 50.4q2.2 .5 3.2 -1.5M223.7 76q-2 2 -2.8 4.7M276.8 41.6q-1.1 -3.3 2.1 -4.8M235 65q-1.5 1.6 -3.7 1.2M242.6 60.1q-1 1.6 -2 3.2M235 56.7q3.3 1.7 7.1 1.3M238.9 56.6q1.4 3.6 5.2 3.1M185 88.9q-1.5 1.1 -1.8 2.9M268.8 48.8q-4.4 -2 -7.5 1.7M276.6 49.5q2 -1.6 4.5 -2M212.6 78.1q1.7 -1.5 3.8 -2.1M206.7 79.2q1.5 -1.4 3.4 -.4"/>
<path filter="url(#od)" stroke="#ffbe00" stroke-width="1.6" d="M281.4 10.7q.9 3.4 4.4 3.9M280.2 23.8q1.3 2.1 3.4 3.3M298.3 22.7q2.2 -3 1.7 -6.7M284.5 35.1q-2.3 -5.2 2.6 -8M313 -5.3q2 3.2 -.7 5.8M277.1 27.2q4 2.1 8.4 3"/>
<path filter="url(#od)" stroke="#4b00be" stroke-width="2" d="M297.6 39.4q-1.5 -2.2 -.6 -4.7"/>
<path filter="url(#oc)" stroke="#6ef0ff" stroke-width="2.5" d="M172.5 100.7q-.4 2.2 1.4 3.4M132.6 131.1q-2 -2.1 -4.8 -2.6M131.7 127.1q2.1 -2.2 5 -1.3M129.2 128.4q1.4 -1.1 2 -2.7M151.4 116q-3.7 -1 -6.7 1.3M162.3 107.8q3.9 -1.2 3.5 -5.3"/>
<path filter="url(#od)" stroke="#141ed7" stroke-width="2.5" d="M203.7 59.5q3.8 -.6 6.9 -2.8M121.1 136.1q3 -2.1 2.9 -5.8M256.3 35.8q-4.1 -1.4 -6 2.4M138.7 97.4q2 1.8 3.9 -.2M242.8 41.3q2.4 3.3 2.1 7.4M130.2 107.3q-3.8 .2 -5.8 -2.9M115.3 118.6q-1.9 2.1 -2.3 4.9M130.9 110.7q2.1 3.1 3.2 6.6M187.7 95.7q3.4 0 4.2 -3.4M196.9 88.1q-2 1 -4.1 1.2M152.6 113.7q2.9 -.8 3 -3.7M183.1 99.1q-2.4 2.6 -3.6 5.9M266.5 37.9q-1 -1.5 .1 -3M171.1 98.5q2.1 -3 1.6 -6.6M135.2 117.8q-.6 -2.2 -1.1 -4.5M177.2 101.6q-3 -1.8 -6.2 -3M191.5 83.2q.6 -2.8 3.4 -3.5M101.4 115.8q-.4 1.5 -.8 3M148.9 112.7q4 -.3 5.6 3.4M177.2 88q.8 2.7 -1.4 4.5M245.6 51.6q-1.1 1.7 -2.8 2.6M179.4 88.3q2.9 -1.8 6 -.1M141 97.7q4 .3 4.1 4.3M132.7 101.7q-3.4 2.6 -1.8 6.6M132.2 101.4q.9 -3 .3 -6M121.2 105.3q3.5 -.4 4.8 2.9M155.7 91.5q1.8 .7 2.9 -.8M164.5 113.7q-3.7 2.4 -6.5 -1"/>
<path filter="url(#od)" stroke="#eb0f14" stroke-width="3" d="M128.2 104.1q-3.6 2.3 -6 -1.2M136.2 107.1q2.1 2 4.4 3.8M245 57.1q-3.3 .9 -6.7 1.3M177.8 92.3q-1.9 -.5 -2.9 1.1M125.6 117.9q.7 5.3 6.1 5M190.6 86.5q-.5 1.9 -.9 3.9M129.2 118.2q0 1.8 -1.5 2.8M208.6 82.4q-.4 -3.9 -2.4 -7.4M155.3 105.4q-2.3 .1 -3.8 1.9M163.4 83.7q-.5 3.1 .8 6M216.2 71.1q2.9 -2.9 5.9 -.2M261.5 30.9q4 .8 7.6 -1.2M189.2 67.7q1.8 -1.6 1.3 -3.9M124.2 114.9q3.3 -.7 6.4 -2M155.2 96.2q1.3 3 -1.1 5.2M251.4 36.3q1.8 -.1 3.1 1.3M253.2 61.1q1 -2.9 -1.8 -4.2M142.4 96q3.1 -1.4 5.5 -3.7M155 88.9q-.8 2 -3 1.8M247.2 58.6q-2.8 -.3 -3.9 -2.9M143.8 97.6q5.3 -.4 5.8 4.9M249.3 59.3q1 -2 .5 -4.1M202.5 73.6q-4.7 1 -6.1 -3.6M213.1 75q-1 3.1 -4.2 3.7M145.6 110q-1.8 1 -3.9 1.2M216.8 71.1q-.6 2.8 -3.6 3M228.1 57.8q-.1 2.7 -2.8 3.2M250.9 55.8q3.8 -2.3 2.5 -6.5M170.9 105.1q-2.2 -3.9 -.2 -7.9M163.8 88.4q.8 -3.4 3.1 -6.2M120 129.4q-.8 -1.6 0 -3.2M141.8 91.1q3.2 1.9 2.9 5.7M242 61q-1.1 4.3 -5.5 3.7M250.1 59.4q-.6 2.2 -2.9 2.3M116.5 114.2q-.7 -2.9 -3.6 -2.4M240.6 58.7q-3.5 -1.1 -6.2 -3.6M171.3 94.4q1.9 2 4.2 .5"/>
<path filter="url(#od)" stroke="#8c00a5" stroke-width="2.5" d="M189.6 91.5q2 2.3 1.2 5.2M182.3 73.9q3.7 2.9 1.8 7.2M253 56.3q5.2 .5 4.9 5.8M229.4 67q-1.8 -.9 -3.7 -1.4M258.4 43.7q-.9 4 .3 7.8M258.1 55.3q1.9 -1.3 2.5 -3.5M269.8 31.4q-.7 1.9 .9 3.1M110.6 122.9q1.5 -1 3.2 -1.4M267.3 25.4q3.5 .9 5 -2.4M259.2 53.2q1.4 -1.7 .4 -3.6M223.2 65.9q-.3 1.8 .5 3.4M234.8 64.7q3.4 -2 6.1 -4.9M253.7 52q3.5 .2 6.9 -.9M252.1 61.7q-3.9 0 -6.5 2.8M190.8 95.2q-.1 -2.1 1.3 -3.7M144.7 115.5q2.8 -3.6 1.2 -7.9M219.8 65.3q-2.7 2 -2.5 5.4M114.2 120.6q-.2 2.2 -2 3.3M108.8 115.8q1 4.3 -3 6.1M206.8 86.5q-.1 1.8 -.1 3.7M160.7 98.1q1.2 3.6 1.6 7.4M176.6 98q-2.1 -.3 -3.3 1.5M172 86q2.1 2 4.9 1.3M238 68.2q-2.6 -1.6 -1 -4.2M260.3 54.3q.3 2 -1.7 2.5M127.2 122.9q.7 -4.2 4.1 -6.8M202.3 82.6q-.5 -1.4 -1 -2.8"/>
<path filter="url(#od)" stroke="#ff5000" stroke-width="1.6" d="M293.5 34.4q-.7 2.8 -2.7 5M294.7 .1q.3 2.6 2.8 3.6M291 34.1q3.8 1.4 4.7 5.4"/>
<path filter="url(#od)" stroke="#8c00a5" stroke-width="1.6" d="M279 35.2q2.2 3.2 3 6.9"/>
<path filter="url(#od)" stroke="#ffbe00" stroke-width="2" d="M292.9 19.8q4.1 -1.9 3.6 -6.5"/>
<path filter="url(#od)" stroke="#4b00be" stroke-width="2.5" d="M252.4 36.4q.6 -3.5 -2.4 -5.3M127.3 117.9q2.6 1.6 5.1 3.4M149.5 108.9q-2.5 -1.3 -4.9 .2M218.1 85.8q1.1 -3.6 .6 -7.4M218.5 73.2q1.4 1.1 3.1 .8M193.8 89.7q-4.3 2.1 -4.1 6.9M202.4 93.5q-.2 -3.8 2.6 -6.4M272.7 25.4q2.3 .6 2.7 3M142.1 113.3q.8 2.6 2.8 4.5M197.8 90.8q-.1 -4.3 3.2 -7M188.4 94.9q-2.6 3.7 -6.7 1.9M123.1 128.3q-3.9 -1.8 -6.5 1.6M239.9 69.4q-2.5 1 -4.4 2.8"/>
<path filter="url(#od)" stroke="#ffdc00" stroke-width="2.5" d="M188.6 76.3q.1 -2.3 2.1 -3.2M210.3 69.5q.1 -3.3 -1.7 -6.2M193.9 55.9q2.1 1.2 4.1 2.5M150.4 104.1q-2.1 1.6 -1.2 4.1M174.4 80.5q2.6 -.2 3.5 -2.7M199.9 75.8q-3.1 -2.7 -1.2 -6.3M213.5 62.7q-1.7 .5 -3.2 -.6M145.3 99q-1.3 2.6 -3.1 5M184.1 75.2q.8 -1.9 2.1 -3.4M132.1 102.3q-2.2 1.6 -3.8 3.7M217.8 60.5q-1.4 3 -4.4 4.4M206.9 69q-3 2.5 -3.7 6.4M144.9 110.4q-.8 -3.7 -1.5 -7.5M188.8 68.6q-1 3 -4.1 3.8M217.6 55.1q-3.8 1.5 -3.5 5.6M185.3 69.2q2.1 3.6 5.7 1.5M149.5 99.5q-3.4 1 -3.6 4.5M186.1 80.6q-1 -3.1 -.2 -6.2M176.4 89.8q1.5 -3 4.5 -4.3M156.6 89q1.7 .1 3.4 -.2M159 92.2q1.1 2.1 -.4 3.9M205.6 76.2q-2.9 1.5 -6 .9M203.4 60.8q-1.5 -1.6 -3.1 -3M137.7 97.5q1.6 -.4 3.1 -1M127.1 105.8q1.9 2.6 4.2 4.9M185.3 81.2q-.5 -2.3 1.5 -3.7M113.4 107.6q2.6 .3 4.1 2.4"/>
<path filter="url(#od)" stroke="#c8005a" stroke-width="2.5" d="M212.3 82.1q-.8 -1.6 -1.9 -3M232 70.9q-.7 -3 -3.8 -3.4M205.2 84.3q-1.2 -2.1 -.6 -4.3M128.7 119.6q-1.3 3.4 1.5 5.6M217.2 70.8q2.5 -2.2 5.7 -2.1M166.9 105.8q-2.3 -1.8 -4.7 -3.4M280.1 35.5q-2.2 -1.5 -4.4 -3M188.8 93.8q-2.9 -1.1 -4 -4M227.1 66.5q-2.9 3.5 .5 6.5M239.3 64.2q-3.6 -1.3 -2.3 -4.9M216.4 68.6q-2.3 3 -2 6.8M187.1 92.7q-.6 -2.2 -2.8 -3M263 34.3q4.5 -1.6 7.6 2.1"/>
<path filter="url(#od)" stroke="#141ed7" stroke-width="1.6" d="M294.9 5.2q-.1 2.4 1.7 4.1"/>
<path filter="url(#od)" stroke="#0064f0" stroke-width="3" d="M140.9 119.2q3.6 .2 3.5 3.8M168 108.3q-2.4 2 -5.4 1M155.2 112.2q1 -1.3 2.3 -2.4M127.8 128.2q-2.8 1.7 -6.1 1.6M135.1 120.8q-2.5 -1.2 -1.9 -3.9M258.1 54.8q2.8 -.1 3.7 2.5M196.8 84q2.9 -1.1 2.1 -4M160.6 108.2q-1.8 -2.3 -4.7 -2.3M174.9 97.9q3.8 .5 7.3 2.1M136.5 124.7q1.3 -4.1 -.7 -7.9"/>
<path filter="url(#oc)" stroke="#6ef0ff" stroke-width="3" d="M128.4 125.1q-2.6 .8 -5.1 1.7M179.1 96.8q-2.9 2.1 -1 5.1M149.6 117.7q-2.2 -.7 -3.9 .8M140.7 124.6q-4.5 -1.4 -4.1 -6.2M163.7 106.7q.5 -1.7 1.6 -3.1M127.8 121.9q.9 2.9 3.4 4.5M130.7 124.8q2 -.8 3 1.1M135.5 121.2q-.2 2.7 -2.9 2.6M168.1 101.7q-3 2.3 -3.3 6.1M173.1 102.3q-.6 -2.4 1.5 -3.7M145.9 119.7q-2.9 -1.2 -2.5 -4.3"/>
<path filter="url(#od)" stroke="#8c00a5" stroke-width="3" d="M179.3 87.3q-1.3 2.4 -4 2.9M243.4 64.6q4 1.5 7.6 -.7M221.4 80.8q2.8 -.6 2.4 -3.4M220.9 79.4q-.1 -1.9 -1.7 -2.9M237.8 66.8q1.6 -1.6 3.8 -1.5M132.6 124.5q2 -3.4 -.7 -6.4M237 60q-1.7 -3.4 .4 -6.5M254 59q-3 2.5 -6.9 2.2M249 55.6q1.5 .6 2.9 1.2M259.4 46.7q.1 2.9 2.9 3.5M246.5 63.7q-.1 -1.9 -1.6 -3M181.7 93.7q3.1 -3.3 .9 -7.3M249.3 32.8q-.3 2.4 1.8 3.6M249.5 54.6q.4 2.4 2.8 3M120.6 109.6q-2.2 2.8 -5.6 1.9M147.9 109.5q1.7 1 .9 2.9M209.4 86.4q-.9 -3.6 2.4 -5.3M129.4 123.9q1.6 -.8 2.9 -2M266.3 52.6q2.3 1.2 3 3.6M263.8 28.5q4.3 .6 5.8 -3.5M119.8 117.5q1.9 -3.5 5.9 -2.9M238.9 67.6q2.3 -3 6.1 -2.2M223.3 60.9q-.2 -2.7 -2.4 -4.3M182.4 95.3q-3 -1.2 -5.6 .7M243 57.1q-2 2 -1.9 4.9M226.2 71.9q-3.2 .8 -4.8 3.7M251.8 55.6q.9 -3.4 -1.1 -6.4M209.5 71.4q0 3.9 -3.3 5.9M252.9 64.8q1 -1.7 -.3 -3.1M189.6 84.9q.2 3.5 3.7 3.4M236.2 68q-.3 -2 -1.5 -3.5M216.4 84.3q-1.6 -2.3 .2 -4.5M247.2 59.3q-1.9 .3 -2.7 -1.5M225.4 65.2q.8 1.6 2.5 2"/>
<path filter="url(#od)" stroke="#141ed7" stroke-width="1.2" d="M320 20.6q2 4 2 8.4"/>
<path filter="url(#od)" stroke="#8c00a5" stroke-width="1.6" d="M337.3 12.9q1.9 3.2 5.2 5.2M285.8 47.2q-4 -1.8 -7.4 1"/>
<path filter="url(#od)" stroke="#c8005a" stroke-width="1.2" d="M335.1 1.6q1.6 -2 .1 -4.1M333.7 13q2.4 1.1 4.9 .3M303.7 13.6q1.2 -2.8 1.5 -5.8"/>
<path filter="url(#od)" stroke="#c8005a" stroke-width="1.6" d="M314 29.1q.6 -2.4 1.4 -4.7M278.2 46.5q1.3 3.2 4.7 2.9M341.2 7.5q-3.5 -.8 -3.2 -4.4M286.7 30.7q1.3 4 -.7 7.7M304.4 29.6q-2.4 -1.4 -4.6 .3"/>
<path filter="url(#od)" stroke="#ffdc00" stroke-width="2.5" d="M206.1 54.8q2.9 2.6 6.9 2.6M198 58.6q1.4 -2.8 -.8 -5M124.4 107.1q.9 1.9 .4 4M216.8 53.7q1.4 1.7 -.2 3.2M196.8 69q-1.1 -3.8 2.1 -6.1M215.1 59.5q1.9 -.9 3.5 .6M129.8 106.4q-2.4 .2 -3.5 2.3M196.8 61.9q-2.6 -.3 -5.1 .3M151.3 102.7q-2 -1.2 -3.3 -3.2M195.3 77.1q1.9 1.5 4.4 1.3M175.5 81.2q1.5 -1.6 3.4 -2.7M168.7 88q.2 3.3 -2.6 5.1M150.4 97.6q3 -2.9 6.4 -.5M200.2 67.3q.6 -2.7 3.4 -2.2M176.9 83.9q.9 3.6 4.6 4M209.9 68.2q-.6 -3 1.6 -5M175.8 92.4q-1.3 -1.3 -1.9 -3M246.9 44.9q-4.3 -.2 -7.2 3M202.1 72.7q-3.9 -.3 -4.8 -4.2M164 88.2q2.5 -.7 5.1 -1M202.4 56.9q-4.8 -1.5 -6.6 3.2M154.2 89.6q3.5 1.6 4.1 5.4M116.4 117.4q3.8 1.4 2.5 5.2M179.1 79.1q1.7 2.2 .4 4.7M177 85.8q-1.9 -1.5 -4.2 -.8M137.9 95.9q-1.5 1.2 -3.1 2.1M168.6 98.1q-.7 -2.1 -1 -4.2M149.9 105.2q-.3 -4.7 -4.7 -6.1M123.9 109.4q2.4 2.4 3.3 5.7M146.8 102.4q-1.5 2 -3.6 .8M223.2 55.8q-2.4 .6 -4.7 0M164.5 81.7q2.2 3.6 6.1 1.8M208.7 65.7q.2 1.9 2 2.4M211.9 51.7q2.9 1.6 2.5 4.9M214.8 54.3q1.4 -1.9 2.6 -3.9M144.9 105.8q.4 -1.5 .7 -3M216.9 69.2q-1.9 -2.1 -4.1 -3.8M247.7 42.7q-.9 2.4 -2.2 4.7M125.6 116q1.6 -.1 2.7 -1.4M223 56q1.3 -1.6 2.4 -3.3M114 113.5q-2.7 -3.6 -1.2 -7.8M172.8 88.4q2.8 2.3 4.6 5.6M123.1 117.7q3.1 -2 6.7 -1.2M217.4 57.7q1.6 -2.7 4.5 -3.9M143.7 106.3q-1 -2.5 -.8 -5.2M132.4 105.2q1.8 -1.4 3 -3.3M210.7 71.3q-2.9 -.3 -5.4 1.1M156.2 91.6q3.6 .6 4.5 4.1M241.5 56.5q-3 -3.5 -7.2 -1.5M190.9 75.1q-3 4.4 -7.7 1.7M204.3 54.8q2.8 3.2 -.3 6.2M212.1 71q1.3 -2.9 2.6 -5.7M163 90.8q-4.5 .2 -5 -4.2M208.3 56.4q3.1 -1.2 2.6 -4.4M225.4 54.6q-1.9 3.8 -5.8 2.3M246.8 46.1q-3 2.4 -1.8 6.1M167.2 95.5q-4.4 .5 -5.3 -3.9M243.6 40.2q.5 -2.5 2.5 -4.2"/><path stroke="#ffffb0" stroke-width=".8" transform="translate(-.3 -.3)" d="M206.1 54.8q2.9 2.6 6.9 2.6M198 58.6q1.4 -2.8 -.8 -5M124.4 107.1q.9 1.9 .4 4M216.8 53.7q1.4 1.7 -.2 3.2M196.8 69q-1.1 -3.8 2.1 -6.1M215.1 59.5q1.9 -.9 3.5 .6M129.8 106.4q-2.4 .2 -3.5 2.3M196.8 61.9q-2.6 -.3 -5.1 .3M151.3 102.7q-2 -1.2 -3.3 -3.2M195.3 77.1q1.9 1.5 4.4 1.3M175.5 81.2q1.5 -1.6 3.4 -2.7M168.7 88q.2 3.3 -2.6 5.1M150.4 97.6q3 -2.9 6.4 -.5M200.2 67.3q.6 -2.7 3.4 -2.2M176.9 83.9q.9 3.6 4.6 4M209.9 68.2q-.6 -3 1.6 -5M175.8 92.4q-1.3 -1.3 -1.9 -3M246.9 44.9q-4.3 -.2 -7.2 3M202.1 72.7q-3.9 -.3 -4.8 -4.2M164 88.2q2.5 -.7 5.1 -1M202.4 56.9q-4.8 -1.5 -6.6 3.2M154.2 89.6q3.5 1.6 4.1 5.4M116.4 117.4q3.8 1.4 2.5 5.2M179.1 79.1q1.7 2.2 .4 4.7M177 85.8q-1.9 -1.5 -4.2 -.8M137.9 95.9q-1.5 1.2 -3.1 2.1M168.6 98.1q-.7 -2.1 -1 -4.2M149.9 105.2q-.3 -4.7 -4.7 -6.1M123.9 109.4q2.4 2.4 3.3 5.7M146.8 102.4q-1.5 2 -3.6 .8M223.2 55.8q-2.4 .6 -4.7 0M164.5 81.7q2.2 3.6 6.1 1.8M208.7 65.7q.2 1.9 2 2.4M211.9 51.7q2.9 1.6 2.5 4.9M214.8 54.3q1.4 -1.9 2.6 -3.9M144.9 105.8q.4 -1.5 .7 -3M216.9 69.2q-1.9 -2.1 -4.1 -3.8M247.7 42.7q-.9 2.4 -2.2 4.7M125.6 116q1.6 -.1 2.7 -1.4M223 56q1.3 -1.6 2.4 -3.3M114 113.5q-2.7 -3.6 -1.2 -7.8M172.8 88.4q2.8 2.3 4.6 5.6M123.1 117.7q3.1 -2 6.7 -1.2M217.4 57.7q1.6 -2.7 4.5 -3.9M143.7 106.3q-1 -2.5 -.8 -5.2M132.4 105.2q1.8 -1.4 3 -3.3M210.7 71.3q-2.9 -.3 -5.4 1.1M156.2 91.6q3.6 .6 4.5 4.1M241.5 56.5q-3 -3.5 -7.2 -1.5M190.9 75.1q-3 4.4 -7.7 1.7M204.3 54.8q2.8 3.2 -.3 6.2M212.1 71q1.3 -2.9 2.6 -5.7M163 90.8q-4.5 .2 -5 -4.2M208.3 56.4q3.1 -1.2 2.6 -4.4M225.4 54.6q-1.9 3.8 -5.8 2.3M246.8 46.1q-3 2.4 -1.8 6.1M167.2 95.5q-4.4 .5 -5.3 -3.9M243.6 40.2q.5 -2.5 2.5 -4.2"/>
<path filter="url(#od)" stroke="#8c00a5" stroke-width="1.2" d="M312.4 15.7q-3 3.4 -7.5 3M307.1 32.2q-2.8 .9 -5.7 .6M300.1 29.8q3.6 1.1 6.5 -1.3"/>
<path filter="url(#od)" stroke="#eb0f14" stroke-width="2" d="M234.3 72.4q-2.5 -2.8 -3.6 -6.3M234.2 55.1q2.7 .3 5.4 .2M260.2 48.1q3.2 .7 3.4 4M132.8 117.6q-.1 2.2 -2.1 3.1M160.3 94.4q-1.1 -1.2 -1.2 -2.9M254.6 47.8q2.7 .6 3.8 -1.9M142.5 103.4q-1.9 .3 -3.5 1.4M243.7 64q-2.7 2.8 -5.9 .7M301.4 23.9q-4.1 -3.3 -8.3 0M217.9 71.9q3.3 -1.2 2.8 -4.6M266.2 46.9q-.9 -1.9 -2.6 -3.1M117.6 119.6q-3.6 -.5 -5.9 2.2M213.6 71.5q-1.6 -2.7 -1.1 -5.8M274.1 45.6q-1.3 1.8 -3 3.3M271.9 41.8q.4 2.8 2.1 4.9M152.4 111.9q3.4 -.6 3.7 -4M236.1 66q-1.1 1.5 -2 3.2M227.4 72.8q1.3 -1.8 .1 -3.6M261.8 47.6q.6 -4.2 4.5 -6M230.7 62.4q4.2 .7 4.4 4.9M267.4 51.4q-.5 -3 .5 -5.9M243.5 58.8q1.9 3.9 6.2 4.3M113.4 107.6q2.2 .4 2.2 2.7M127.4 123.7q-2.8 -4.5 -7.5 -2.1M216.5 78.2q-1.9 -3.1 -4.4 -5.6M136.5 114.4q2.2 4.4 6.9 2.8M194.1 83.1q.7 3.7 4.4 4.3M184.4 91.6q-4.3 -1.1 -4.4 -5.6M248.5 48.9q2.7 2 1.2 5.1M208 76.9q2.3 -4.7 7.3 -3.3M126.7 116.3q.5 1.8 -.6 3.2M219.3 56q-.3 2.3 -.9 4.5M260.3 42.2q2.1 2.9 .3 5.9M217.8 55.2q.7 2.5 -.6 4.7M223.9 66q.9 2.5 2.9 4.2M250.7 59q-2.5 -4 -7.1 -3.1M119.8 126.6q.1 -4.2 -3.8 -5.8M248.2 35.4q1.6 2.9 -.2 5.7M290.8 17.5q2.7 -1.6 1.2 -4.4M179.1 94.4q-1.8 2 .1 3.8M241.5 61.8q-1.4 -2.5 .9 -4.1M134.8 96q1.5 -.8 2.5 -2.1M266.3 44.5q-1.3 2.1 -3.7 2M145 95q-2.2 -1.7 -.6 -4.1M196.5 57.6q1.5 -1.1 1.5 -2.9M135.4 116.1q-2.5 -1.8 -.7 -4.3M261.7 54.4q-1.9 -3.1 -5 -1.3M151.8 106.1q1.4 2.3 .4 4.9M220 62.5q-1.1 1.5 -1.5 3.2M280.8 25.1q-1.7 -.8 -3.4 .1M186.7 92.7q-.7 -2 1.2 -2.9M175.7 99.2q3 -1.3 2.7 -4.5M125.9 110.1q3 -.3 5.5 1.5"/>
<path filter="url(#od)" stroke="#0064f0" stroke-width="2" d="M211.7 89.3q-2.8 -2.6 -1.9 -6.3M177.6 98.2q2.2 -.4 2.7 1.7M186.7 88.6q2.4 3.2 -.4 6.1M221.5 80.6q-3.2 .8 -5.2 -1.8M165.1 111.3q2.6 -2.8 .8 -6.1M172.4 100.1q1.8 -4.4 6.2 -2.6M223.9 80.8q-2.4 3.4 -6.1 1.3M171.6 103.3q-1.3 -3.1 1.5 -5M187.9 94.4q-1.8 1.3 -3.8 2.6M248.1 66.5q2.6 .3 3.5 -2.2M134.8 128.9q-2.6 -4 -6.8 -1.8M203.1 89.6q-1.1 -2.7 1.4 -4M258.9 58q3.3 -2.2 7.2 -2.1M159.2 106.3q-3.7 -2.4 -6.4 1.1M196.2 92.6q-.4 3.1 -3.5 3M225.6 83.1q-3.6 -2 -3.5 -6.1M202.6 87.8q2 -1.6 3.7 -3.7M230.7 74q-1.2 -2.3 -3.6 -3.1"/>
<path filter="url(#od)" stroke="#ff5000" stroke-width="2" d="M294 38.4q.4 -4.3 2.2 -8.3M253.6 38.2q.3 1.8 -1.1 2.9M130.7 123.3q0 -3.6 3.3 -5M262.1 36.8q-.1 3.1 2.2 5.3M238.1 61.3q-1.5 2.7 -4.4 1.5M292.2 16.3q4.3 3.2 8.9 .4M160.6 103.5q-1.9 -.2 -2.4 -2.1M131.5 112.8q2.3 -2.9 1.9 -6.5M219 61.7q1.7 -1.1 1.1 -3.1M283.3 45.1q-2.2 -2.3 -5.4 -2.4M222.9 73.2q1.5 1.5 1.1 3.6M187.4 91.2q-1.7 .5 -3.4 .4M282.4 31.1q-.2 4.4 -3.5 7.2M294 23.5q-1.2 3.6 -1.1 7.4M276.2 44.8q2.4 -1.5 1.3 -4.1M200.9 63.6q2.6 .2 5.2 1M192.1 77.7q-3.3 1.5 -3.1 5M209.3 74.5q1.4 -3.6 2.5 -7.4M149.4 97.7q2.7 -2.3 3.4 -5.8M206.8 54.5q3.1 -1.3 6.2 -2.5M224 62.2q.5 3.3 3.8 3.2M244.2 56.8q-1.5 .6 -2.5 1.8M269.7 29.8q-.8 -4.4 -5.3 -4.4M132.2 115.3q1.7 -2.6 4.7 -1.9M256 28.3q-3.2 3.6 -.5 7.6M287.8 14q-5 -1 -6.6 -5.8M216.8 78.2q-3.9 .8 -7.2 -1.5M241.2 54.4q-.4 4.6 -5.1 4.4M242.3 36.2q1.9 .8 3.9 .5M111 114q2.4 -2.1 5.5 -1M205.7 75.9q-2.8 2.8 -5.4 5.7M242.6 58.6q3.5 -1.4 6.5 .8M243.1 45.3q-.4 -2.9 2 -4.6M223.5 49.7q1.5 1.8 3.3 3.2M236.2 70.2q-2.5 -2.2 -5.9 -2.5M201.1 77.3q-1.3 -1.7 -3.2 -2.8M210.4 58.4q1.4 -1 2.3 -2.5M172.1 87q-3.9 0 -7.5 -1.6M146.4 105.3q-1.9 1.4 -3.9 .2M164.7 92.5q2.2 1.4 4.4 .1M264.8 44.5q3.1 2.9 3 7.1M118.3 121.3q2 -5.2 -3.2 -7.3M201.3 78q.2 -2.4 -1.4 -4.3M130.4 103.7q-1.3 -2.4 -1.8 -5M180.8 76.6q.3 5.1 -4.8 6M268.7 21.9q-2 -.1 -3.7 -1M147.1 105.7q-.9 1.7 -1.6 3.4M169.3 97.4q2.3 -.5 3.8 -2.3M171.4 99.8q.7 -2.4 -1.6 -3.3M157.8 89.2q-2.1 -.4 -4.2 -.8M238.5 65q-1.8 .9 -3 -.7M267.4 29.6q-1.1 3.9 -5 3.1M289.4 28q-3.2 -.1 -5.6 -2.1M256.1 31.6q3 3.8 -.2 7.4M216.5 64.4q-2.3 .1 -4.3 -1M191.8 79.7q1.1 4.5 -2.8 6.9M113.7 114.2q-3.4 -2 -3.8 -5.9M213.1 66.2q2.6 3.9 .4 8M187.4 88.2q-3 -1.9 -1.3 -5M106.6 123.1q-.4 -1.9 .4 -3.7M269.1 37.7q-1.7 -2.6 -4.8 -2.4M110.7 117.9q-3 -2.4 -1.3 -5.9M122.7 112.2q2.3 1 1.5 3.4M243.9 55.5q-2.6 1.9 -3.4 5.1"/>
<path filter="url(#od)" stroke="#141ed7" stroke-width="1.6" d="M296.3 16.4q2.5 2.1 4.7 4.5"/>
<path filter="url(#od)" stroke="#eb0f14" stroke-width="1.2" d="M305.7 19q2.3 2.6 3.9 5.7M336.8 4.5q.8 3 3.9 3.5"/>
<path filter="url(#od)" stroke="#ff9100" stroke-width="1.6" d="M284.1 33q.5 -4.2 3.9 -6.8M312.4 4.9q2.3 1.6 1.3 4.2M318.2 3.6q-4.3 -.4 -8.5 .1M328.3 7.6q2.2 -.1 3.9 -1.5M290.1 13.9q-3 1.2 -2.7 4.4M296.8 12.6q1.8 6.1 -4.3 7.9M346.9 -3.8q2.8 3.2 7 2.2"/>
<path filter="url(#od)" stroke="#ffbe00" stroke-width="1.2" d="M305.4 4.4q0 -3 2.5 -4.6"/>
<path filter="url(#od)" stroke="#eb0f14" stroke-width="2.5" d="M135.6 115.8q-1.1 -4.2 2.4 -6.9M200.5 64q-.3 3.3 -.9 6.5M277 43.8q2.2 1.5 4.6 .4M164.3 105q-1.7 0 -3.3 -.6M188.6 81.6q2.3 2.2 5.3 1.5M230.5 60.4q1.6 3.1 2.4 6.4M238.7 56.9q-2.1 -1.8 -4.1 -3.7M214.1 76.3q-3.8 .1 -6.5 2.8M175.6 88q-1.6 -.4 -3.1 .4M260.7 52.9q0 -2.6 2.6 -2.8M113.1 111.3q2.4 .7 2 3.1M128.4 116.5q3.6 -1 7.1 -2.2M148.9 108.4q0 -2.3 1.3 -4.1M135.3 104.1q-2.7 1.6 -3.3 4.7M235.3 60.5q-3.9 -.3 -7.9 -.1M200.7 56.5q4.4 1 7.1 -2.5M244.3 57.5q.7 1.4 1.7 2.6M251.4 33.6q-1.1 3.5 .3 6.9M206.5 78.6q-1.7 .3 -3 -.8M223.2 62.8q3.2 -2.5 6 .4M178.1 90.7q-1.6 2.4 -4.2 1.3M228.4 54.4q4 1.7 8 -.1M143.8 109.2q2.4 .1 4.7 .6M248.3 48.2q2.2 1.1 1.4 3.3M124.7 112q-1 -1.7 -2.6 -2.9M258.6 54.6q-.2 -2 -2.1 -2.4M266.7 25.3q.8 3.4 -.7 6.5M278.2 15.4q.6 1.7 1.7 3.2M143.3 98.3q-2.6 -3 -6.4 -3.7M266 30.4q-3.7 -3.5 -.9 -7.8M214.5 61.2q-2.3 -1.8 -4.6 -3.6M175 96.5q-1.9 -.3 -2.8 -2M153.8 107q3.6 -1.8 6.1 1.4M260.1 56q1.5 -2.8 2.9 -5.7M127.1 115.4q2 -.5 4 -1.1M119.6 118.2q-4.7 .3 -5.6 -4.3M183.1 91.7q1.8 -1.9 1.1 -4.4M161.7 90.9q.5 2 2.3 3M214.6 80.3q4 -.9 4.5 -5M119.3 106.5q1.6 -3.3 5 -2.1M138.6 103.3q1.5 -1.2 3 0M139.9 106.3q-1.5 1.5 -2.8 3.3M217.9 58.4q-1.2 3.1 1.1 5.5M159.9 86.6q-3.5 -.8 -6.4 1.3M244.2 57.2q-.5 1.6 0 3.2M223.2 55.5q-2.1 .9 -4.2 2M161.9 102.8q2.8 -1.3 5.9 -1.5M173.7 92.9q-2.4 2.4 -5.1 4.4M214.1 75.8q2.6 1.1 3.4 3.7M228.5 67q1.4 -1.2 .9 -3M162.2 102.6q3.3 -2.9 7.2 -.9M233.4 64.8q-2.2 2.7 -5.4 4.1M229.8 64.3q.6 2.9 -1 5.3M248.1 37q-.3 4.1 2.8 6.8"/>
<path filter="url(#od)" stroke="#141ed7" stroke-width="2.5" d="M126.1 123.5q2.7 1.3 2.3 4.3M178 76.6q1.7 .6 2.9 1.9M228.6 59.5q.2 -1.7 .8 -3.2M160.8 86.7q2.4 -2.5 5.8 -2.8M185.3 96.2q-1.5 -1.2 -1.9 -3.1M221.7 59.2q2.4 0 2.9 -2.4M120.4 108.5q-.1 -2.5 -.1 -5M116.6 115.5q3 -.2 5.8 .5M118.7 113.5q-.4 1.5 -.4 3.1M196.3 86.3q2.4 .1 4.7 -.6M200.8 87.5q-2 2.6 -2.8 5.9M214.3 83.9q-2 1.1 -3.7 -.3M153.4 102.2q2.1 3 5.5 4.7M229.9 74.1q-1.5 2.2 -4.1 1.7M132.8 105q-1.8 3.1 .3 6.1M200.2 82.6q-1.5 -2.7 -4.5 -1.8M119.5 135.1q-2 -2.9 .2 -5.7M141 101.1q-.5 3.9 -4.3 4.7M114.7 112q1.4 -1.7 1.5 -3.9M178 91.1q1.8 -1.8 4.4 -2.3M183.7 102.4q-4 0 -7.5 -2M190.8 93.5q-2.8 2.9 -5.8 .2M161.9 94.8q-3.2 -1.7 -6.7 -1M195.8 96.2q-3.4 3.3 -7.5 .9M188.1 89.2q2.3 3.2 .8 6.8M175.5 90.1q4.4 -.2 5.4 4M129.2 117.9q-1.9 -3.1 -.1 -6.2"/>
<path filter="url(#oc)" stroke="#1ed2ff" stroke-width="2" d="M119.7 130q4.1 -1.6 7.2 1.5M149.8 114.6q-2.2 .6 -3.8 2.1M161.6 114.4q2.9 -1 2.4 -4M145.7 124.6q-3.5 -1.3 -7.2 -1M161.6 110.5q2.8 1.1 5.8 1.3M175.7 101.7q-2 2.1 -2.6 5M186.5 93.4q0 3.6 .5 7.2M174.8 101.3q4.1 -1 7.4 1.6M123.7 133.5q1.1 -3.7 -1.4 -6.6M175.4 103.3q1.4 -.7 2.5 -1.8M148.1 115.5q-3 -.6 -4.9 1.9M162.4 105.5q.8 2.2 3 2.6M165.4 102.6q1.8 3.5 .9 7.3M168.3 108.2q2.9 1.4 5.6 -.4M147.2 115.8q-1.3 1.1 -2.5 2.4M168.6 103.7q-1 1.9 -3 1.2M121 126.9q-.9 3.2 .2 6.3M175.7 106.5q-1.9 -3.5 -5 -6.1M130.4 128.3q2.6 .4 4.9 1.6M162.8 113q.9 -3.3 1.8 -6.7M161.6 103.4q1.7 3.5 5.6 3.2"/>
<path filter="url(#od)" stroke="#ff9100" stroke-width="1.2" d="M337.3 -4q-1.6 3.7 .1 7.3M305.4 2.6q-1 4.4 -2.9 8.4"/>
<path filter="url(#od)" stroke="#ffbe00" stroke-width="2.5" d="M192.2 67.5q-1.8 1.7 -.7 3.9M129.4 110.4q2 -.2 2.7 1.7M150.4 100.3q3.6 1.9 7.6 2M250.1 43.7q-1.6 -1.1 -3.3 -2.2M129 97.3q.4 3.3 2 6.3M225.5 62.1q-.1 -4.1 -3.9 -5.6M270.3 26.1q-1.6 -2 -3.8 -3M192.3 80.1q1.7 -1.3 1.2 -3.3M115 117.6q-1 1.8 -3 2.3M171.1 83.9q2.6 .2 3.1 2.7M230.8 58.5q-1.3 -1.1 -2.8 -2M210 73.8q-4 1.1 -5.8 -2.6M231.3 54.9q1.3 1.3 1.2 3.2M246.7 51q-1 1.4 -1 3.1M196.5 66.1q.6 3 3.7 3.4M130.8 102.4q2.9 -.5 3.6 -3.4M240.2 44.3q3.4 -.5 5.4 -3.3M109.3 115q1.2 -2.3 1.3 -4.8M130.3 103.9q-1 1.9 -2.9 2.8M191.3 66.1q-.7 -2.5 -2.9 -3.9M128.4 112.4q-2 1.6 -2.6 4.1M154.6 96.9q-3.1 3.1 -6.6 .4M247.7 45.5q-1.9 -2.6 .2 -5.1M192.3 79.5q-4.8 -.6 -6.2 4M181 88.7q2.1 0 4.2 -.5M196.4 78.4q-.5 -1.6 -.9 -3.3M99.1 115.6q3.7 1.3 7.6 .7M170.8 85q3.3 -1.6 6 -4.2M112.3 116.7q.2 3.3 -.4 6.5M244.5 37.8q1.1 1.5 2.2 3M220.1 50.7q.5 2.7 -1.3 4.6M253.3 46.6q-2.8 -2.6 -6.3 -1.3M279.1 27q-1.3 -3 -.7 -6.1M233.8 39.3q2.9 .7 3.2 3.6M233.3 58.2q-3.3 -.9 -6.5 .2M229.6 44q1.4 2.1 2.5 4.3M121.7 117.9q-3.8 -1.5 -7.4 .3M124.4 115q-2.6 -.8 -5.4 -1.3M124.7 116.7q1.3 -.9 2.2 -2.1M265.6 39.6q1.7 1 3.5 .1M241.8 48.3q1.5 -1.3 3 0M236.9 53.7q.5 -2.5 .1 -5M198.4 66.9q0 2.6 -.5 5.1M255.6 31.7q.3 2.4 -2.1 2.7M158.7 83.8q3.7 .4 3.8 4.1M256 49q-2.2 -2.2 -4.1 -4.6M194.2 72.6q2.1 .6 3.1 -1.3"/><path stroke="#ffffb0" stroke-width=".8" transform="translate(-.3 -.3)" d="M192.2 67.5q-1.8 1.7 -.7 3.9M129.4 110.4q2 -.2 2.7 1.7M150.4 100.3q3.6 1.9 7.6 2M250.1 43.7q-1.6 -1.1 -3.3 -2.2M129 97.3q.4 3.3 2 6.3M225.5 62.1q-.1 -4.1 -3.9 -5.6M270.3 26.1q-1.6 -2 -3.8 -3M192.3 80.1q1.7 -1.3 1.2 -3.3M115 117.6q-1 1.8 -3 2.3M171.1 83.9q2.6 .2 3.1 2.7M230.8 58.5q-1.3 -1.1 -2.8 -2M210 73.8q-4 1.1 -5.8 -2.6M231.3 54.9q1.3 1.3 1.2 3.2M246.7 51q-1 1.4 -1 3.1M196.5 66.1q.6 3 3.7 3.4M130.8 102.4q2.9 -.5 3.6 -3.4M240.2 44.3q3.4 -.5 5.4 -3.3M109.3 115q1.2 -2.3 1.3 -4.8M130.3 103.9q-1 1.9 -2.9 2.8M191.3 66.1q-.7 -2.5 -2.9 -3.9M128.4 112.4q-2 1.6 -2.6 4.1M154.6 96.9q-3.1 3.1 -6.6 .4M247.7 45.5q-1.9 -2.6 .2 -5.1M192.3 79.5q-4.8 -.6 -6.2 4M181 88.7q2.1 0 4.2 -.5M196.4 78.4q-.5 -1.6 -.9 -3.3M99.1 115.6q3.7 1.3 7.6 .7M170.8 85q3.3 -1.6 6 -4.2M112.3 116.7q.2 3.3 -.4 6.5M244.5 37.8q1.1 1.5 2.2 3M220.1 50.7q.5 2.7 -1.3 4.6M253.3 46.6q-2.8 -2.6 -6.3 -1.3M279.1 27q-1.3 -3 -.7 -6.1M233.8 39.3q2.9 .7 3.2 3.6M233.3 58.2q-3.3 -.9 -6.5 .2M229.6 44q1.4 2.1 2.5 4.3M121.7 117.9q-3.8 -1.5 -7.4 .3M124.4 115q-2.6 -.8 -5.4 -1.3M124.7 116.7q1.3 -.9 2.2 -2.1M265.6 39.6q1.7 1 3.5 .1M241.8 48.3q1.5 -1.3 3 0M236.9 53.7q.5 -2.5 .1 -5M198.4 66.9q0 2.6 -.5 5.1M255.6 31.7q.3 2.4 -2.1 2.7M158.7 83.8q3.7 .4 3.8 4.1M256 49q-2.2 -2.2 -4.1 -4.6M194.2 72.6q2.1 .6 3.1 -1.3"/>
<path filter="url(#od)" stroke="#ff5000" stroke-width="1.6" d="M297.6 25.1q-2.2 -3.1 -5.6 -1.4M289.3 20.1q.3 -2.9 1 -5.8M293.2 22.3q-4.1 -1.3 -7.8 .9M291.9 16.4q2.8 3 1.1 6.8M331.8 -4.8q.9 4.8 5.7 6.1M283.2 6.3q-1.6 2.4 -2.2 5.3M287.1 30q-3 -1.4 -3.3 -4.8M300.5 18q1.2 2.5 2.3 5.1M308.9 9.4q-1.3 2.5 -4.1 3.2M283.1 7.7q-3.6 1.6 -3.1 5.5"/>
<path filter="url(#od)" stroke="#0064f0" stroke-width="2.5" d="M181.7 98.7q2.7 1.5 4.6 4M137.2 122.4q-4.1 -1.6 -7.5 1.1M125.2 131.9q.2 -3.2 3.4 -3.8M184.7 96q-3 .6 -6 1M200 85.6q1 -5.3 6.3 -4.3M205.6 88.1q-2.9 -1.8 -4.8 -4.7M229.1 77q-2.6 -.5 -4.4 -2.6M134.6 118.5q1.2 -2.1 3.7 -2.1M166.6 97q.3 3.5 -1.2 6.6M126.8 126.8q-3.2 -2.9 -1 -6.7M149.2 111.9q0 -2.6 1.1 -5M188.7 95.9q2.7 -2.3 2.4 -5.9M127.3 118.1q3.7 1 7.3 -.4M154.7 116.7q0 -3 .9 -6M152.4 107.6q.6 3.4 -1.9 5.7"/>
<path filter="url(#od)" stroke="#4b00be" stroke-width="1.2" d="M307 31.6q-3.2 3.2 -7.4 1.5"/>
<path filter="url(#od)" stroke="#8c00a5" stroke-width="2.5" d="M194.7 81q-2.7 3.1 -.2 6.3M160.6 103.8q1.7 -2.7 2.4 -5.9M218.3 80.9q2 -.9 4.1 -.6M209.7 85.1q-4 -.3 -4.9 -4.2M226.2 77.3q2.3 .7 3.4 -1.5M123.6 116.5q-1.5 3.9 -5.6 4.4M206.2 84.9q-.6 -2.4 1.8 -3.1M126.6 111.2q-.8 -1.4 -2.1 -2.2M150.2 100.8q-.3 1.9 -1 3.8M253.8 65.5q-2.3 -2.7 -4.1 -5.7M157.8 99.4q-1.4 1.1 -3.2 .6M274.3 45.5q1.8 -.5 3.6 -.7M246.3 58.6q2.2 -2.9 5.7 -2.6M234.4 64.4q-3.6 1.3 -6.5 -1.1M144.2 101.1q-2.7 3 -3.3 7M236.3 61.7q-4.8 1 -4.9 5.9M272.5 50q1.4 -2.2 4 -2.7M125.4 113.6q2.6 2.1 1.3 5.2M190.7 93.2q-5 -.9 -5 -6M211.8 77.5q-1.9 -3.7 1.8 -5.6M237.8 72.9q-2.1 -.1 -3.6 -1.6M190.3 92.5q-2.7 .6 -3.3 3.3M200.6 77.5q-2.9 .7 -5.7 1.7M196.5 87.9q-4.2 2.6 -1.7 6.9M208.1 74.2q2.6 2 4.4 4.7"/>
<path filter="url(#od)" stroke="#8c00a5" stroke-width="2" d="M221.1 73.7q-.5 1.8 .1 3.5M198.2 82.2q1.8 -.1 3.2 -1.2M201.7 85.7q2 -1.3 3.6 -3M218.8 78.8q-2.9 -.7 -5.6 -1.8M138.6 115.1q-.2 3.3 1.5 6.1M209.8 77.5q-3 0 -4.6 -2.6M250.6 58.2q.6 3 2.5 5.4M228.7 73.8q-2 2.2 -4.9 2.8M244.9 66.6q2.1 -1.1 4.5 -.7M295.9 39.8q-4.1 -2.3 -7.5 1M110.5 110.2q.6 2.5 1.4 5.1M144.2 110.2q-1.4 -4.2 1.5 -7.4M140.7 114.1q-.9 1.8 -2.9 1.3M227.2 71.5q2.5 -3.5 6.7 -2.3M198.2 87.2q4 .8 4 4.9M173.6 98.2q2.4 -.3 4.6 -1.2M162.1 104q-1.3 -4.5 3.1 -6.1M263.2 36q2.3 -2.2 1.3 -5.3M120.8 128.7q-.3 -2.4 -1.5 -4.6M235.4 58.9q3.9 1.6 6.8 -1.6M159.3 103.6q-2.7 -2.8 -6.7 -2.8M173.9 100.7q-1.3 -3 -4.1 -4.7M123 122.1q-.9 -1.6 -1.2 -3.4M241.1 57.9q-.3 2.7 -2.4 4.3M232.1 75.4q3.1 .4 4.2 -2.5M262.4 46.2q-2.1 2.2 -5.2 2.1M228.7 67.9q-.5 -1.9 -1.6 -3.4M186.6 94.4q3 -1.2 2.2 -4.3M254.5 54.7q.2 3.7 3.8 4.8M255.5 58.1q4.3 3 7.9 -.8M292.8 15.5q-2 -5 -7.1 -3.1M173.7 95.8q3.3 -.2 6.5 .1"/>
<path filter="url(#od)" stroke="#fff45a" stroke-width="2.5" d="M175.9 81q0 1.9 .5 3.8M196.6 71.3q-2.1 -3 -5.7 -2.7M227.2 55.5q.9 2.3 -1.3 3.5M164.6 99.1q-2.8 1.7 -4.9 -.8M120.1 112.6q3.8 2.7 7.3 -.4M151.3 91.7q2.2 -1.8 3.8 -4.1M222.2 52.1q3.8 2 2.5 6.1M172.3 83.3q-1.2 2.3 -.8 4.8M135.4 112.2q2.3 .1 3 2.3M190.4 81.8q-3.8 1.6 -4.7 5.7M188.9 77.6q-2 1.3 -.8 3.4M207 71.8q4.2 .1 7.3 -2.9M188.3 71.7q4.3 -.9 6 -5M119.7 103.3q.2 1.6 .6 3.2M200.5 71.8q.4 -2.1 -1.6 -2.7M128 100.6q-1.1 2.3 -.3 4.7M111.7 119q1 -2.7 -1.5 -4.1M180.9 79.7q-2.2 1.1 -2.5 3.5M220.7 63q-.1 -5 -4.9 -6.2M137.5 97.1q2.4 -.7 2.2 -3.2M201.2 65.6q.2 -3.3 1.9 -6.1M243.9 46.8q-.1 3.1 -3.2 3.4M181.8 78.1q1.4 -2.5 4 -3.6M138.7 105.1q-2.6 .9 -4.3 -1.2M150.5 99.4q-1.1 -1.6 -.8 -3.5M242.3 42.8q3 -3.7 -.5 -6.9M188.1 64.9q3.5 -1.1 4.7 2.3"/><path stroke="#ffffb0" stroke-width=".8" transform="translate(-.3 -.3)" d="M175.9 81q0 1.9 .5 3.8M196.6 71.3q-2.1 -3 -5.7 -2.7M227.2 55.5q.9 2.3 -1.3 3.5M164.6 99.1q-2.8 1.7 -4.9 -.8M120.1 112.6q3.8 2.7 7.3 -.4M151.3 91.7q2.2 -1.8 3.8 -4.1M222.2 52.1q3.8 2 2.5 6.1M172.3 83.3q-1.2 2.3 -.8 4.8M135.4 112.2q2.3 .1 3 2.3M190.4 81.8q-3.8 1.6 -4.7 5.7M188.9 77.6q-2 1.3 -.8 3.4M207 71.8q4.2 .1 7.3 -2.9M188.3 71.7q4.3 -.9 6 -5M119.7 103.3q.2 1.6 .6 3.2M200.5 71.8q.4 -2.1 -1.6 -2.7M128 100.6q-1.1 2.3 -.3 4.7M111.7 119q1 -2.7 -1.5 -4.1M180.9 79.7q-2.2 1.1 -2.5 3.5M220.7 63q-.1 -5 -4.9 -6.2M137.5 97.1q2.4 -.7 2.2 -3.2M201.2 65.6q.2 -3.3 1.9 -6.1M243.9 46.8q-.1 3.1 -3.2 3.4M181.8 78.1q1.4 -2.5 4 -3.6M138.7 105.1q-2.6 .9 -4.3 -1.2M150.5 99.4q-1.1 -1.6 -.8 -3.5M242.3 42.8q3 -3.7 -.5 -6.9M188.1 64.9q3.5 -1.1 4.7 2.3"/>
<path filter="url(#od)" stroke="#fff45a" stroke-width="2" d="M104.4 120.8q1.9 1.4 4.2 1.4M203.1 79.3q1.5 -2.4 3.5 -4.4M215.8 62.4q-4.1 .4 -7.3 3.1M176.7 77q-1.4 1.3 -1.1 3.2M216.5 60.6q-2.4 .5 -2.9 2.9M235.2 49.9q1.7 -2.9 3.7 -5.6M127.8 116.7q1.4 1 3.1 1M141.4 104.1q-2.5 1.8 -5.2 3.5M134.8 102.2q4.6 .6 6.3 -3.7M184.9 72q3.8 -1.5 7.2 .8M197.5 70.8q.1 -3.6 .4 -7.1M199.2 59.1q-.9 2.3 1.2 3.5M138.3 107.2q1.7 -.9 3.2 .4M240 39q-.9 -1.8 .1 -3.5M228.7 51.2q-2.1 3.5 .8 6.4M231 53.6q-.9 -1.2 -1.8 -2.6M154.9 90.2q1.4 -1.3 1.1 -3.3M135.9 99.2q-.5 1.9 1.3 2.9M150 100.4q.2 -2.2 1.6 -3.9M186.5 83.2q-3.5 -1.9 -4 -5.8M147.3 101.5q1.3 -1.8 3.4 -.9M141.8 94.3q-.6 3.8 .5 7.5M137.9 104.5q1.1 2.1 1 4.5M217 64.5q4 -.9 5.2 -4.8M252.4 37.4q1.5 -2.4 2 -5.2M184.5 68.6q-1.8 3.3 -.8 6.9"/><path stroke="#ffffb0" stroke-width=".6" transform="translate(-.3 -.3)" d="M104.4 120.8q1.9 1.4 4.2 1.4M203.1 79.3q1.5 -2.4 3.5 -4.4M215.8 62.4q-4.1 .4 -7.3 3.1M176.7 77q-1.4 1.3 -1.1 3.2M216.5 60.6q-2.4 .5 -2.9 2.9M235.2 49.9q1.7 -2.9 3.7 -5.6M127.8 116.7q1.4 1 3.1 1M141.4 104.1q-2.5 1.8 -5.2 3.5M134.8 102.2q4.6 .6 6.3 -3.7M184.9 72q3.8 -1.5 7.2 .8M197.5 70.8q.1 -3.6 .4 -7.1M199.2 59.1q-.9 2.3 1.2 3.5M138.3 107.2q1.7 -.9 3.2 .4M240 39q-.9 -1.8 .1 -3.5M228.7 51.2q-2.1 3.5 .8 6.4M231 53.6q-.9 -1.2 -1.8 -2.6M154.9 90.2q1.4 -1.3 1.1 -3.3M135.9 99.2q-.5 1.9 1.3 2.9M150 100.4q.2 -2.2 1.6 -3.9M186.5 83.2q-3.5 -1.9 -4 -5.8M147.3 101.5q1.3 -1.8 3.4 -.9M141.8 94.3q-.6 3.8 .5 7.5M137.9 104.5q1.1 2.1 1 4.5M217 64.5q4 -.9 5.2 -4.8M252.4 37.4q1.5 -2.4 2 -5.2M184.5 68.6q-1.8 3.3 -.8 6.9"/>
<path filter="url(#od)" stroke="#4b00be" stroke-width="1.6" d="M306.7 15.4q.6 -4.8 5.2 -6.6M308.2 37.2q2.9 -3 1.8 -7"/>
<path filter="url(#oc)" stroke="#00a5fa" stroke-width="2" d="M132.5 122.1q1.5 3.5 -1.2 6.2M137.5 120.3q3.4 1.4 6.8 2.9M127.1 123.5q2.6 1.7 5.7 2.2M178.4 99.8q-2.7 3.6 .8 6.5M150.5 116q1.4 3.1 3.8 5.7M165.7 111.7q-2.1 -.5 -4.2 -.6"/>
<path filter="url(#oc)" stroke="#6ef0ff" stroke-width="2" d="M129.6 127.4q3.1 -1.8 6.6 -3M153.5 111.5q3.3 1.4 5.1 4.5M142.3 120.2q3.1 .9 5.7 -1M191.8 98.9q-1.7 -.9 -3.3 -2.1M194.7 96.6q-2.3 .5 -4.6 .8M161.3 105.4q-.4 2.6 1.8 4.1M175.8 100.7q3.1 3.3 7.5 2.3M157.9 109.5q-.4 2.3 -2.1 3.8"/>
<path filter="url(#od)" stroke="#141ed7" stroke-width="2" d="M139.1 107.5q3.6 1.9 3.3 5.9M202.1 90q.5 -2.3 2.6 -3.2M149.7 118.3q-.3 -3 -3.3 -2.9M112.9 122.9q2.1 -.7 3.4 1.1M115.6 126.7q2.7 .8 5.4 .3M119.9 108.7q-2 1.8 -3.8 4M138.4 123.2q3.2 -1.1 6.6 -.9M258 30.4q1.8 -3.4 4.1 -6.5M105.9 120q1.7 2 4.3 2M209.8 81.8q1.8 2.5 -.5 4.6M266.5 23.7q-2.9 .1 -4.4 -2.4M174.5 91.5q1.5 2.6 3.7 4.5M151.8 112.1q-2.4 -.8 -2.9 -3.3M159 115q1.6 -3.2 1.4 -6.9M249 42.7q-2.8 1.5 -4.3 -1.3M131.2 111.3q-1.9 -.7 -1.4 -2.7M202.3 78.4q3.1 -.5 4.4 -3.4M242.1 66q3.4 .6 4.2 -2.7M196.3 92.3q-3.3 -2.9 -1.5 -6.9M168 91.5q2 .5 2.8 2.4M215.9 65.6q-.6 3.2 -2.1 6M121.6 125.8q-4.2 1.4 -3.1 5.8M200.4 91.8q-3.4 .5 -6.8 -.1M114.2 117.3q.1 1.9 1.4 3.3M134.7 115q-.7 -3 -.3 -6.1M214.6 56.9q-2.3 .7 -4.2 2.1M200.6 83.2q3 -1.1 4.2 1.9M163.4 98.6q.7 4.5 -3.4 6.4M174.8 95q2.7 -2.4 2.1 -6M184.6 86.2q-3.6 3.9 -7.8 .7M140.3 98.2q1.9 3.5 4 6.8M198.9 71.3q4 2 2.1 6.1M215.3 61.9q.8 -4.1 5 -4.1M157.8 100.5q.1 4.4 4.2 5.9M167.1 89.9q-.8 -2.6 -2.4 -4.7M248.7 61.4q3.8 -.4 7.2 -2M170.6 109.7q2.7 -.8 3.4 -3.6M155.2 109.3q3 -2.1 5 .9"/>
<path filter="url(#od)" stroke="#eb0f14" stroke-width="1.6" d="M283.7 35.4q4.3 .9 7.6 3.8M307.5 19.9q3.3 2.8 .9 6.4M284 37q.4 -3.7 4.1 -4.2M294.6 23.5q-1.2 2.3 -1.4 4.9"/>
<path filter="url(#od)" stroke="#ff5000" stroke-width="2.5" d="M270 24q-1.7 -1.4 -1.4 -3.7M200.3 81.1q-1 -2.5 -2 -5.1M202.1 55.3q2.3 2.8 5.9 1.9M241.7 49.1q-2.9 3.6 -7.3 2.1M227.7 57.5q1.4 4.5 -2.9 6.6M176 79.8q-3.3 .4 -4.4 3.5M233.9 49.3q.1 2.5 2.2 3.8M233.3 64.6q1.1 -3.7 4.5 -5.8M138.2 102.5q-2.5 .7 -3.9 -1.5M176.2 84.2q.2 2.2 2.4 2.2M178.8 92.9q-1.7 -3.1 -5.2 -3.4M229 63.7q-4.9 1.4 -4.6 6.5M250.8 47.5q1.6 -2.6 1.6 -5.7M166.8 96q-3.9 .9 -7.9 .6M209 58.6q1.9 1.6 4.2 1.1M238.8 54.6q.5 -2.4 -1.8 -3.4M108.9 117q2 -3 5 -4.8M250.7 38.7q3.8 -1.9 3.3 -6.1M256.5 46.4q-1.1 2.9 -3.1 5.2M266.3 22.3q-.4 1.9 -1.6 3.4M239.1 57.7q2.2 2.8 3.9 6M204.4 76.8q-3.4 -.8 -6.9 -1M134.3 101.5q-3.4 .7 -2.8 4.1M263.6 37.8q.5 4 4.5 3.6M104.8 118.4q3.1 -2.3 4.1 -6M153.6 105q1.2 -3.7 5.1 -4.1M265.3 43.3q-1.5 -3 .1 -6M200.9 59.6q1.5 2.9 1.6 6.2M111.7 107.8q-1 4.3 3.1 5.9M256.6 56.1q1.2 -2.8 3.4 -5M257 35.8q1 4.4 5.4 3.9M175.1 89.4q-3.1 2.6 -2.6 6.6M165.7 104.8q-2.3 -1 -4.4 .5M242.8 62.8q.6 -3.2 -2.4 -4.4M259.2 37.4q-1.6 .2 -3 1M247 43.5q-1.7 -3.4 -1 -7.2M182.5 84.8q-3.3 2.4 -1.1 5.9M232.9 54.6q-.2 3.5 3.1 4.7M265.8 29.1q1.3 -2.4 4.1 -2.1M219.1 53.9q-2.7 .7 -3.5 -2M232 64.2q1.8 2.5 -.4 4.8M245.2 55.4q-2.7 -.3 -3.8 -2.7M197.9 71.3q2.4 -2.3 4.8 -.1M159.8 95.8q.6 3.2 3.9 3.1M148.3 107.7q-4.3 .9 -5.8 5M178 95.4q-3.4 -.4 -6.1 -2.5M260.9 32.5q-2.1 .5 -4.2 .7M269.8 44.5q-.2 2.4 2.2 2.8M238.1 56.3q1.7 -2.5 .8 -5.3M229.8 68.6q2 2 3.2 4.5M177.6 90.9q-3.1 2.6 -4.4 6.3M188.2 81.4q-2.9 0 -4.8 -2.2"/>
<path filter="url(#od)" stroke="#c8005a" stroke-width="2" d="M244.8 63.5q-2.7 -3.9 1.3 -6.6M259.4 60.5q-2.2 -.9 -4.5 -.3M249.1 44.2q1.8 -1.3 3.9 -.7M279.3 38.6q2.4 3.4 6.3 1.9M273.2 43.7q-1 -2.2 .3 -4.2M239.6 67.2q-4.1 .2 -5.1 -3.7M124.4 123q-2.5 -.3 -4.9 .7M272.1 43.2q-1.3 3.2 .4 6.1M252.8 57q-3.8 .5 -7.5 1M296.3 25.2q-3.4 -.3 -6 1.8M272.8 41.6q-3.3 2.4 -6.8 .2M261 63.2q-.9 -3.7 -4.7 -4.4M142.3 113.8q-.2 -4.7 4.3 -6.1M285.2 38.9q3.4 .6 6.9 .8M249.7 48.3q-3.2 3.8 .3 7.4M233.6 57.7q.7 3.5 -1 6.7M180.8 93q4.4 1.2 6.4 -2.9M223.6 76.9q-3 -.8 -5.7 .7M286.1 43.2q2.1 4.4 -2 7M247.7 56.3q4.3 -2.7 2.2 -7.2M284.2 39.6q-2.9 -1.2 -4.4 1.6M138.6 112.7q2.5 1.3 4.3 3.4M160.2 110.3q-.5 -3.9 -2.4 -7.4M222.5 75.2q3.5 -2.5 6.2 .8M285.8 33.4q-4.3 1.8 -2.8 6.3"/>
<path filter="url(#od)" stroke="#ff9100" stroke-width="2" d="M155.6 91.6q-3.2 -.6 -5.8 1.4M240.6 54.3q3 -.6 3.9 -3.6M249.8 38.8q-2.9 -.8 -5.9 -.6M276.2 28.2q4.3 2.2 8.1 -.9M156.1 105.8q-2.2 -4.9 2.5 -7.6M233.6 59.4q-1.3 1.8 -3.6 2M120.8 125.1q1.7 -2.3 -.2 -4.5M250.2 44.2q1.2 2.4 3.4 3.9M239.9 48.2q2 1.5 3.9 -.1M164.1 96.1q0 3.4 -3.2 4.4M230.2 43.7q1.5 2.5 -.7 4.4M237.7 49q3.4 1.9 6.4 4.3M239.5 54.4q-4.1 -1.9 -2.6 -6.1M252.2 37.6q2.7 1.9 3.3 5.2M256.6 44q-.7 1.6 -1.5 3.1M229.6 56.4q2.1 -1.5 1 -3.9M206.5 66.3q2.1 4.7 -2.5 7M192.7 85q1 -1.7 2 -3.3M166 92.1q1.6 .5 2.5 1.8M171.9 81q.9 2.2 .3 4.5M255.3 49.6q-2.9 .5 -5.4 -.9M160.7 90.2q-.8 4.5 3.5 6.1M261.3 34.4q-2.4 -2.1 -5.4 -3.2M165.7 96.6q2.6 -1.2 1.8 -4M242.1 40.1q-2.5 2.6 -6 1.9M163.8 94.5q.5 -3 3.5 -3M264 44.5q-3.9 .5 -5.5 -3M265.4 39.6q-4.6 -.7 -5 -5.3"/>
<path filter="url(#oc)" stroke="#00a5fa" stroke-width="2.5" d="M125.2 125.6q3 .1 5.9 -.9M166 104.6q-1 3.2 1.3 5.7M163.1 115.1q-2.7 -.8 -5.3 -2M172.4 105.9q-2.2 1.8 -3.6 4.1"/>
<path filter="url(#od)" stroke="#ffbe00" stroke-width="2" d="M216.2 61.2q1.6 1.3 3.4 2.1M191.8 73.5q-5.3 .7 -4.9 6M269.8 39.4q-1.8 -3.3 -.2 -6.6M217.9 61q-4.4 -.6 -4.4 -5M198.4 75.2q-3 -.4 -5.8 -1.8M206.7 58.5q.4 -1.8 1.2 -3.5M226.9 53.4q1.6 -2.9 4.9 -3.1M206.9 69.6q-.3 4.3 3.8 5.7M296.7 15.9q.6 -3.9 -1 -7.6M148.5 99q0 2.4 2.2 3.4M260.1 26.2q-.7 2.8 -3.1 4.3M215.8 65.1q-1.7 -.8 -3.2 .2M179.3 77.2q-2.3 2.6 -4.9 4.9M195.4 68.7q-3 3.5 -6.7 .7M152.1 91.2q-.5 2.6 .9 4.8M262.8 38.2q3.3 -.8 6.7 -1M276.4 18.7q-3.3 -2.5 -7.4 -2.3M177.2 91.6q.4 -2.1 -.8 -3.8M276 25.9q-.9 2.8 -3.2 4.6M140.1 100.3q2.1 .6 2.8 2.6M176.6 92.6q-2 -.8 -3.5 .6M188.1 59.5q.3 3.1 .9 6.2M206 60.1q.4 1.5 1 3M203.5 68q-.8 -3 1.8 -4.6M156.5 92q-.1 2.7 2.1 4.2M226.5 51.2q1.2 2.5 -1.1 4M250.9 51q-1.1 -1.6 -2.5 -2.9M165.9 90.9q1.1 -2 3.2 -3M127.6 100.2q-1.2 1.6 -1.7 3.6M204.5 67.1q-3.2 -2.9 -7 -1M126.3 106.5q-2.7 -1.4 -5.6 -2.6M253.9 32.3q-.9 3.8 1.3 6.9M254.8 38.6q-1.9 2.8 -2.5 6.1M196.4 67.7q-4.2 -1.8 -7.3 1.6M235.5 44.4q2.8 .3 3.4 -2.4M163 86.2q4.1 .5 6.3 3.9M126.2 102.7q4.1 -.3 6.8 -3.3M242.1 44.2q-2.5 2.9 -6.2 1.9M160.7 97.3q-2.2 1.4 -1.9 4M155.4 92.1q3.4 -1.1 6.8 -.4M127.3 108.1q-1 -3.1 .3 -6.1M121.3 103.2q2.3 -1.8 5 -.6M257.7 39.2q-.7 -2.6 -1.6 -5.2M213.8 67.3q-.1 -3.9 -1.8 -7.5"/><path stroke="#ffffb0" stroke-width=".6" transform="translate(-.3 -.3)" d="M216.2 61.2q1.6 1.3 3.4 2.1M191.8 73.5q-5.3 .7 -4.9 6M269.8 39.4q-1.8 -3.3 -.2 -6.6M217.9 61q-4.4 -.6 -4.4 -5M198.4 75.2q-3 -.4 -5.8 -1.8M206.7 58.5q.4 -1.8 1.2 -3.5M226.9 53.4q1.6 -2.9 4.9 -3.1M206.9 69.6q-.3 4.3 3.8 5.7M296.7 15.9q.6 -3.9 -1 -7.6M148.5 99q0 2.4 2.2 3.4M260.1 26.2q-.7 2.8 -3.1 4.3M215.8 65.1q-1.7 -.8 -3.2 .2M179.3 77.2q-2.3 2.6 -4.9 4.9M195.4 68.7q-3 3.5 -6.7 .7M152.1 91.2q-.5 2.6 .9 4.8M262.8 38.2q3.3 -.8 6.7 -1M276.4 18.7q-3.3 -2.5 -7.4 -2.3M177.2 91.6q.4 -2.1 -.8 -3.8M276 25.9q-.9 2.8 -3.2 4.6M140.1 100.3q2.1 .6 2.8 2.6M176.6 92.6q-2 -.8 -3.5 .6M188.1 59.5q.3 3.1 .9 6.2M206 60.1q.4 1.5 1 3M203.5 68q-.8 -3 1.8 -4.6M156.5 92q-.1 2.7 2.1 4.2M226.5 51.2q1.2 2.5 -1.1 4M250.9 51q-1.1 -1.6 -2.5 -2.9M165.9 90.9q1.1 -2 3.2 -3M127.6 100.2q-1.2 1.6 -1.7 3.6M204.5 67.1q-3.2 -2.9 -7 -1M126.3 106.5q-2.7 -1.4 -5.6 -2.6M253.9 32.3q-.9 3.8 1.3 6.9M254.8 38.6q-1.9 2.8 -2.5 6.1M196.4 67.7q-4.2 -1.8 -7.3 1.6M235.5 44.4q2.8 .3 3.4 -2.4M163 86.2q4.1 .5 6.3 3.9M126.2 102.7q4.1 -.3 6.8 -3.3M242.1 44.2q-2.5 2.9 -6.2 1.9M160.7 97.3q-2.2 1.4 -1.9 4M155.4 92.1q3.4 -1.1 6.8 -.4M127.3 108.1q-1 -3.1 .3 -6.1M121.3 103.2q2.3 -1.8 5 -.6M257.7 39.2q-.7 -2.6 -1.6 -5.2M213.8 67.3q-.1 -3.9 -1.8 -7.5"/>
<path filter="url(#od)" stroke="#ff5000" stroke-width="1.2" d="M303.6 9.7q2.7 2.6 5.7 .5"/>
<path filter="url(#oc)" stroke="#1ed2ff" stroke-width="2.5" d="M120.2 129.3q-.6 3.7 -1.7 7.3M123.9 123.7q1.6 3.3 5.1 4.7M179.9 97.7q2 1.3 4.3 .9M136.1 127.4q-2 -.7 -4.1 -1.5M152.4 115.2q3.9 -.9 3.3 -4.9M173.1 103.8q.1 2.2 .5 4.4M177.5 103.7q-1.9 .6 -3.7 .1M189.9 99.8q-.9 -1.3 -1.6 -2.6M161.7 107.6q3.5 -.5 6 1.9M168.7 107.7q2.6 -4.2 7 -2M180.9 99.5q-1.9 1.7 -4.3 2.2M165.7 104.7q1.3 1.5 2.3 3.1M162.4 110.9q.1 -3.4 2.4 -5.8M162.6 113.3q-1.9 -2.7 -.7 -5.8M181.6 99.2q-2.3 -1.4 -4.6 0M133.3 131q3.8 -2.4 4.2 -6.8M123 126.6q2.3 2 4.8 3.9M128.4 128.2q-4.4 .6 -7.6 -2.5M156.4 113.1q1.7 -1.7 3.7 -3.1M168 109.4q-.7 -3.1 -2.8 -5.6M144.5 115.2q3.7 -1.5 6.6 1.3M134.4 126q-3.2 1.3 -6.3 2.9"/>
<path filter="url(#od)" stroke="#4b00be" stroke-width="2.5" d="M193 88.8q2.7 -2.5 6.4 -2.5M200 92.2q-1.7 2.4 -4.3 1M246.1 46.1q3.9 -.1 6.9 2.4M219.4 79q3.4 1.8 6.6 -.3M224.5 75.7q1.3 3.3 4.8 3.7M216.1 79.9q2.8 -2.1 5.2 .4M248 65.1q2.7 -3.8 7.3 -2.9M138.4 117.3q-4.5 -.5 -5.1 4M178 89.6q-.9 4 2.9 5.5M155.8 108.8q-1.6 -3.5 -5 -5.5M198.6 83.3q3.7 .4 4.3 4.1"/>
<path filter="url(#oc)" stroke="#6ef0ff" stroke-width="2.5" d="M161.1 111.1q2.1 1.7 2.1 4.4M156.4 113.8q.3 1.9 -.8 3.4M123.9 125.3q.7 3.1 -2.2 4.5M179.1 99.2q1.7 -2.2 4.4 -1.7M161.8 113.4q2.9 -3.9 -.2 -7.6M125 125.2q-2 1.7 -3.1 4.1"/>
<path filter="url(#od)" stroke="#c8005a" stroke-width="2.5" d="M225.6 70.4q2.8 -1.7 6 -2M211.4 77.9q-.1 -2.7 2.6 -2.8M207.8 83.1q.6 -4.6 5.2 -5.1M266.5 19q-3.4 1.7 -2.7 5.4M235.2 73.7q0 -3.9 -3.7 -5.1M116.4 129.3q4.5 .8 7.5 -2.6M276.6 46.3q-1.8 1 -3.9 .8M242.5 61.2q.4 -1.6 -.3 -3.1M238.6 63.7q2 1.9 3.9 3.8M253.2 59.8q-.8 -2.8 1.1 -4.9M207.1 77.7q3.8 -.4 7.7 0M274.5 33.7q2.3 3.2 4.5 6.5M254.6 47.6q3.3 .8 5.5 3.5M177.4 92.2q-2.5 .9 -3.5 3.3M250.1 54.1q-4 -.6 -6.1 2.9M224.5 70.8q-.9 3 2 4M228.4 60.9q.1 3.3 -2.3 5.7M204 83.3q-.4 -3.4 -3.8 -3.1M153.4 111.4q-3.3 -2.5 -2.7 -6.6M250.9 53.9q-.1 -2.6 1.6 -4.5M246.7 68.5q-4.1 -1.1 -6 -4.9"/>
<path filter="url(#od)" stroke="#4b00be" stroke-width="2" d="M218 84.9q-1.6 -3.3 -4.4 -5.5M229.8 72.8q1.6 3.6 5.2 2.3M186.8 95.6q-2.1 -1 -3 -3.3M254.9 62.4q.5 -4.4 4.9 -5.3M216.3 82.1q-1.3 -1.7 -1 -3.8M191.3 84.7q1.9 1.4 2.5 3.6M199.6 83.3q-.8 -1.7 -1 -3.5M125.4 120.8q4.3 -1.1 6 3M289.1 20.1q1.6 2 4.1 1.7M206.5 87.3q-1.1 1.9 -3.2 2.9M131.4 123.2q-2.6 -3.1 -1.6 -7M259.7 55.8q4.1 -.9 7.5 1.6M160.1 102.9q-1 1.9 .7 3.2M191.4 83.5q4.2 .4 6.9 3.5M132.3 124.4q.7 -5 -4 -6.9M213.6 75.5q-2.5 -2.9 -6.2 -3.9"/>
<path filter="url(#od)" stroke="#ffdc00" stroke-width="2" d="M181.5 77.9q-3.1 1.6 -6.5 2.5M217.2 54.1q1.8 -4 6.1 -2.7M131.8 100.7q-.5 1.8 .3 3.5M227.6 56.6q3.6 1.7 3.2 5.7M166.8 100q1.8 -2.4 1.2 -5.3M211.2 55.2q1.7 .9 1.5 2.9M115.7 114.3q-1.3 -1.3 -1 -3.2M204.6 69q.2 2.1 -1.4 3.5M219.6 51.4q-3.9 -.2 -5.4 3.4M134.8 112.7q-.2 -3.3 .4 -6.5M224.4 58.3q2 .7 4 .3M245.2 43.2q-1.5 3.1 -2.8 6.3M144.6 91.9q-1.4 3.4 .3 6.7M112.1 113.9q.1 2 0 4M114.3 124.5q2 -2 2.4 -4.9M187.4 65.3q-1.9 3.3 -2.6 7.1M198.9 79.2q1.3 -2.3 -.1 -4.6M237.5 55.7q-2.2 2.8 -5 5.1M129.1 102.1q-3.8 1.2 -7.6 2.2M181.3 89.9q2.2 -1 3.1 -3.3M101.8 118.8q1.1 2.9 3.9 4.3M191.9 61.1q1.8 -3 5.1 -1.8M140.3 92.5q-1.7 2.7 -4.4 4.4M232.1 46.2q1.2 -3.3 -2 -4.8M178.6 77.6q3.2 -2.4 7.1 -3.1M166.7 89q-4.6 -.7 -6.3 3.7M177.1 86.6q-1.9 -1.4 -3.8 -2.7M275.5 21.3q2.5 2.7 3.4 6.2M209.1 60.8q-.7 1.9 1 3.1M215.2 56.3q-2.5 1.4 -1.3 4M219.4 65.3q.2 -1.8 1.7 -2.8M188.7 78.2q-2.1 0 -4.2 .1M168 88.9q3.3 -.7 3.7 -4M114.7 107.6q-1.6 1.8 -3.5 3.3M117.1 114.4q1.3 2.2 3.7 3M178.2 83.6q-.5 -3 -1.1 -5.9M159.7 95.1q2.9 4.1 -1 7.3M209.4 60q2.6 -2.2 6 -1.8M177.1 87.9q-.2 3.8 2.7 6.3M118.5 112.3q2 -1.2 3.1 -3.2M238.3 47q2.9 2.3 .9 5.4M185.2 67.2q.9 4 5 4.1M194 62.2q1.2 3.2 0 6.4M171 93.5q.4 -2.1 2.6 -2.1M112.9 114.2q-3.8 1.9 -7.5 -.1M230.6 54.9q1.3 2.1 1.1 4.7M202.2 71.4q-2.2 -1 -4.6 -.4M165.7 85.5q-2.4 -.8 -4.2 1M156.7 92.7q-2.8 -1.1 -5.6 -.4M180 85.2q.7 -1.5 1.8 -2.8M190.8 84.9q-2.2 -.4 -4.4 -1M197.9 81.4q-2.3 -1.7 -1.1 -4.3M141.4 103.6q-.9 -3.3 2.1 -4.9M102.8 117.3q1 2.8 4 2.2M171.2 94q-3.2 .8 -4.9 -2.1M213.2 60.1q-1.7 3.2 1.5 5M195.9 69.4q-3.8 3 -6.9 -.7M272 27q-1.2 2.2 -3.6 3.3M138 97.3q-2.4 2.9 -5.9 4.1M161.3 85.5q2.6 -.1 5.2 -.1M178.3 85.4q-.8 3.3 -3 5.9M207.3 68q5 1.1 6.4 -3.9"/><path stroke="#ffffb0" stroke-width=".6" transform="translate(-.3 -.3)" d="M181.5 77.9q-3.1 1.6 -6.5 2.5M217.2 54.1q1.8 -4 6.1 -2.7M131.8 100.7q-.5 1.8 .3 3.5M227.6 56.6q3.6 1.7 3.2 5.7M166.8 100q1.8 -2.4 1.2 -5.3M211.2 55.2q1.7 .9 1.5 2.9M115.7 114.3q-1.3 -1.3 -1 -3.2M204.6 69q.2 2.1 -1.4 3.5M219.6 51.4q-3.9 -.2 -5.4 3.4M134.8 112.7q-.2 -3.3 .4 -6.5M224.4 58.3q2 .7 4 .3M245.2 43.2q-1.5 3.1 -2.8 6.3M144.6 91.9q-1.4 3.4 .3 6.7M112.1 113.9q.1 2 0 4M114.3 124.5q2 -2 2.4 -4.9M187.4 65.3q-1.9 3.3 -2.6 7.1M198.9 79.2q1.3 -2.3 -.1 -4.6M237.5 55.7q-2.2 2.8 -5 5.1M129.1 102.1q-3.8 1.2 -7.6 2.2M181.3 89.9q2.2 -1 3.1 -3.3M101.8 118.8q1.1 2.9 3.9 4.3M191.9 61.1q1.8 -3 5.1 -1.8M140.3 92.5q-1.7 2.7 -4.4 4.4M232.1 46.2q1.2 -3.3 -2 -4.8M178.6 77.6q3.2 -2.4 7.1 -3.1M166.7 89q-4.6 -.7 -6.3 3.7M177.1 86.6q-1.9 -1.4 -3.8 -2.7M275.5 21.3q2.5 2.7 3.4 6.2M209.1 60.8q-.7 1.9 1 3.1M215.2 56.3q-2.5 1.4 -1.3 4M219.4 65.3q.2 -1.8 1.7 -2.8M188.7 78.2q-2.1 0 -4.2 .1M168 88.9q3.3 -.7 3.7 -4M114.7 107.6q-1.6 1.8 -3.5 3.3M117.1 114.4q1.3 2.2 3.7 3M178.2 83.6q-.5 -3 -1.1 -5.9M159.7 95.1q2.9 4.1 -1 7.3M209.4 60q2.6 -2.2 6 -1.8M177.1 87.9q-.2 3.8 2.7 6.3M118.5 112.3q2 -1.2 3.1 -3.2M238.3 47q2.9 2.3 .9 5.4M185.2 67.2q.9 4 5 4.1M194 62.2q1.2 3.2 0 6.4M171 93.5q.4 -2.1 2.6 -2.1M112.9 114.2q-3.8 1.9 -7.5 -.1M230.6 54.9q1.3 2.1 1.1 4.7M202.2 71.4q-2.2 -1 -4.6 -.4M165.7 85.5q-2.4 -.8 -4.2 1M156.7 92.7q-2.8 -1.1 -5.6 -.4M180 85.2q.7 -1.5 1.8 -2.8M190.8 84.9q-2.2 -.4 -4.4 -1M197.9 81.4q-2.3 -1.7 -1.1 -4.3M141.4 103.6q-.9 -3.3 2.1 -4.9M102.8 117.3q1 2.8 4 2.2M171.2 94q-3.2 .8 -4.9 -2.1M213.2 60.1q-1.7 3.2 1.5 5M195.9 69.4q-3.8 3 -6.9 -.7M272 27q-1.2 2.2 -3.6 3.3M138 97.3q-2.4 2.9 -5.9 4.1M161.3 85.5q2.6 -.1 5.2 -.1M178.3 85.4q-.8 3.3 -3 5.9M207.3 68q5 1.1 6.4 -3.9"/>
<path filter="url(#od)" stroke="#ffbe00" stroke-width="1.6" d="M292 19.6q2.4 -1.4 2 -4.1"/><path stroke="#ffffb0" stroke-width=".5" transform="translate(-.3 -.3)" d="M292 19.6q2.4 -1.4 2 -4.1"/>
<path filter="url(#od)" stroke="#ff9100" stroke-width="2.5" d="M270.7 41.6q-.6 -2.1 -.5 -4.2M152.6 88.7q0 2 -.9 3.8M220.1 58.8q2.8 -1.7 5.9 -3M279.5 26.9q-3.9 .5 -6.2 3.7M237.5 41q3.2 -1.2 3.8 -4.6M237.7 44q-2.4 -.1 -2.8 2.3M219.6 52.9q-4.6 -1 -6.9 3.1M250.3 40.7q1.9 .8 3.5 -.5M106.5 120.3q-2.1 -.6 -4.2 -1.6M220.4 60.5q-2.3 1.8 -5 .7M245.2 47.2q-1.9 -2.3 -4.7 -3M246.9 37.9q.1 1.6 .7 3M179.9 80.5q-.4 4.4 3 7.2M252.2 39.2q-1.7 -.6 -3.4 -1.2M253.7 31.5q4.2 2.6 2.9 7.3M234.4 43.8q2 -.1 4.1 -.1M247.7 46.4q2.7 -1.5 1.2 -4.2M260.3 51.7q-2.2 3.1 -.4 6.4M277.2 45.5q-3.4 1 -6.8 1.9M243.5 41q-2.3 3.6 -1 7.8M261.7 35.9q-1.3 -1.2 -3 -1M236.3 51.9q-1.2 -1 -2.8 -1.4M165.8 83.1q2.5 0 3.7 2.2M217.3 61q-1.6 -.2 -2.7 -1.5M151.1 91.4q2.4 -1 4.9 -.5"/>
<path filter="url(#od)" stroke="#4b00be" stroke-width="1.6" d="M142.3 114.6q-4.6 -.1 -6.6 4M236 66.3q-2.1 2.4 -.2 4.9M208.6 87.3q-1.2 1.1 -1.4 2.8M207.3 90.5q-3.6 .4 -7.3 0M243.1 62.6q1.5 1.7 3.2 3.2M252.7 60.7q1.5 .8 3 .1M168.3 94.9q2.4 3.5 6.2 1.6M150.1 111q-4.4 0 -6.3 4M195.1 84.5q4 -.3 6 3.3M137.4 120.2q-.3 -1.9 1.1 -3.2M337.4 18.7q-1.6 -.9 -2.4 -2.6M294.2 28.1q-4 .9 -7.1 -1.8M249 69.9q-4.9 -1.2 -3.9 -6.1M297 24.5q.5 -4.9 -4.3 -5.7M216.5 82.5q-1.8 .7 -1.9 2.6M283.6 16.5q-1.6 -4 2.1 -6.3M174 101.1q.4 -3 2.9 -4.8M224.9 66.8q-3 .3 -6 -.4M233.1 63.6q1.4 5 6.4 3.7M216.6 75q2.3 -.8 1.8 -3.2M205.5 86.2q-2.1 1.2 -1.3 3.5M300 18.5q2.2 -2.2 4.4 -4.5"/>
<path filter="url(#oc)" stroke="#6ef0ff" stroke-width="2" d="M124.2 130.9q-.7 -1.8 -2.6 -1.8M128.7 124.8q-2 2.5 -1.2 5.6M173.7 106.6q-2.8 -1.4 -3.1 -4.5M146.1 121.6q-1.6 -1.3 -1 -3.3M171 108.3q-1.2 -1.5 -2.2 -3.1M154.1 110.5q2.4 2.5 -.1 5M153.5 118.7q-.9 -1.7 -1.4 -3.6M171.3 108.8q-2.2 -4.9 2.7 -7.1M163 107.9q-2.2 1.6 -4.8 1M161.1 115.6q.6 -2.8 -1.6 -4.7M153.6 117.7q-1.6 -3.3 -3.6 -6.3"/>
<path filter="url(#od)" stroke="#ffbe00" stroke-width="1.2" d="M312.5 1.1q-.6 2.1 -.2 4.3M312.9 -.6q-3.7 1.2 -7.1 -.7M312.6 2.9q2.6 -.6 5.1 -1.7"/>
<path filter="url(#od)" stroke="#eb0f14" stroke-width="2" d="M137.2 104.7q-1.2 3.3 -3.2 6.2M198.8 70.8q-1.7 -2.4 -2.4 -5.3M168.2 91.6q3.8 0 5.6 3.4M226.3 70.9q1.6 -2.5 4.4 -3.4M243.5 42.2q1.2 4.9 -3.6 6.3M259.1 53.6q-2.5 1.8 -5.4 2.9M101.3 120.3q2.6 -1.1 4.7 -2.9M174.1 93.4q2.5 -1.7 5.2 -2.7M272.6 31.3q1.3 -1.9 3.3 -.8M133 121.2q-.1 -1.5 -.2 -3M261.7 54.2q4.4 .6 6.3 -3.5M246.3 52.4q.4 4 -2.5 6.7M226.9 61.4q2 2.9 1.4 6.4M137.7 93.5q-1.9 2.8 -2.6 6.1M143.1 102.4q.5 4.2 4.1 6.6M118.7 126.4q-2.5 -3.2 -1.2 -7.1M154.2 105.8q-1.4 .8 -2 2.3M148.1 94.4q2 -3.5 5.4 -5.7M137.2 111.1q-1.3 -3.2 -4.7 -3.9M275 39.1q-1.5 -3.3 1.6 -5.3M266.6 22.3q1.2 1.1 2.2 2.4M161.6 92.8q2.2 -2.8 .6 -6M177.7 94.4q1 4.3 -3.2 5.8M247.3 53.5q1.5 1.9 3.3 3.5M152.6 107.5q-2.4 -.6 -3.4 -2.9M242 49.1q1.3 -2.8 1 -6M179.8 87.3q-4.4 3 -7.7 -1.3M270.3 46.8q2.2 2.3 4.7 .2M146.2 105q-.4 3.9 -2.3 7.3M199.3 61.4q-.3 4.7 3.9 7M259.8 48.5q-2 .1 -3.6 1.1M132.2 114.7q5.3 -.4 6.1 4.8M230 59.3q2.3 -1.5 3.2 -4.2M168.2 97.4q-.9 -1.3 -2 -2.3M196.5 61.4q3.8 -3.3 1.3 -7.7M226.8 67.6q.6 -1.9 2 -3.4M187.5 83.4q-1.4 2.7 -4.2 1.6M163.1 88.9q-1.3 -2.9 -4.2 -4M155.3 96q2.1 -1.4 2.8 -3.9M254.8 56.6q-2.2 -3.2 -3.2 -6.9M274.3 48.1q-3.9 -1.5 -6.6 1.7M140.7 98.5q-3.7 .8 -6.9 -1.5M138.4 115q3.4 1.2 6.7 -.4M106.5 120.2q2.2 -.8 4.5 -.3M255.2 33.6q.5 -2 -1 -3.6M133 104.9q-1.3 1.2 -1.5 2.9M214.1 82.5q.2 -4.4 -3.8 -6.2M120.3 112.1q-2.5 .4 -3.9 -1.7M148.9 108.4q1.7 .6 3.1 1.7M251 53.6q-3 -1.5 -1.7 -4.6M116.4 113.8q-1.5 -2.5 -4 -.9M228.6 60.1q-1.1 4.1 2.6 6.3M141.3 96.8q5.4 1.1 4.5 6.5M144.8 90.8q3.6 1.8 3.3 5.9"/>
<path filter="url(#od)" stroke="#ff5000" stroke-width="1.2" d="M308.1 17.9q1 3.3 1.3 6.8M348.9 1q1.8 -2.9 5.2 -2.3M305.5 15.1q-2.1 1.9 -4.1 3.9"/>
<path filter="url(#od)" stroke="#c8005a" stroke-width="2" d="M218.1 71q3.7 1.6 6.7 -1M253.5 52.4q3.3 1.5 4 5.1M210.9 70.5q1.6 2.9 4.7 4.1M134.7 117.1q2.6 .3 5 -.9M254.3 64.5q.3 -2.3 .1 -4.6M273.8 40.6q-1.6 -.9 -3 -2.1M175.7 97.1q-2.8 -.3 -5.6 -.7M234 67.5q2.7 1.6 5.6 .6M200.4 82.1q3.8 -1.1 5 -5M251.3 50.7q0 3 -2.8 4.2M234.7 66.5q-2.4 1.2 -3.8 -1.1M241.3 62.6q.5 -3.2 -.1 -6.3M239.8 67.5q-3.1 -3.2 .1 -6.4M159.1 107.5q-.4 -2.5 -2.4 -4.1M236.7 66.6q-2.1 3.4 -6.1 4M235.5 70q-1.2 -2.6 1.2 -4.1M259.2 43.9q-1.5 3.3 1.8 4.8M277.7 41.4q3.9 -1.4 7.3 -3.9M263.1 47.8q1.4 -1.4 1.8 -3.3M278 33.9q-1.2 3 .6 5.8M221.4 68.3q3.4 .3 6.8 -.2M212.6 76q.5 -2.1 2 -3.5M175.8 97.7q4.9 -1 4.7 -6M239.8 61.8q-1.7 -2.4 .4 -4.4M122.9 124.8q1.6 -.8 2.7 -2.2M232.4 68.6q-2.1 2.6 -4.1 5.3M216.9 75.8q-4.3 1.4 -3 5.7"/>
<path filter="url(#oc)" stroke="#1ed2ff" stroke-width="2" d="M156.3 117.5q1.9 -2.2 3.3 -4.7M178.8 102.8q-1.2 -4.7 3.3 -6.7M166.1 108.9q-1.8 .1 -2.6 1.7M176.6 100.7q3.7 -1.1 6.2 1.9M152.4 114.3q-1.6 2.6 -.6 5.4M171.3 104.9q2.7 3.7 7 1.9M119.1 127.7q2.4 2.4 2.3 5.8M166.4 108.7q-3.3 -3.5 -.4 -7.4M164.3 110q-4.5 2 -7.6 -1.9M138.2 119.7q-1 1.2 -2.5 1.8M174.9 101.3q1.6 -1.1 3.4 -1.9M128 129q-1.8 -.7 -2.9 .8M163.3 108.5q-.9 1.4 -1.9 2.6M164.4 112.5q-3.4 -1.8 -6.4 -4.2M162.5 107.1q-.6 5.1 4.5 5.9M134.1 123.8q-4.5 .8 -3.9 5.3M156.1 115.5q-3.4 .9 -6.3 -1.1M124.2 123.4q4 1.1 5.3 5.1M149 113.8q-2.9 -.1 -4.8 2.1M117.6 136.8q2.6 -.1 4.8 -1.6"/>
<path filter="url(#oc)" stroke="#6ef0ff" stroke-width="1.6" d="M178.9 96.7q3.1 .8 5.4 3.1M135.1 121.6q1.6 -.3 3.1 -1M130.2 121.4q3.9 -.3 7.9 -.1M127.2 125.7q-1.3 3.6 -4.8 5.2M158.7 110.7q-.8 3 -3.9 2.8M131.7 130.1q.2 -3.2 -2.2 -5.3M124.2 133.8q-1.9 .2 -2.7 -1.6M127.9 135.9q-4 -1.8 -3.1 -6.1"/>
<path filter="url(#od)" stroke="#4b00be" stroke-width="2" d="M270 20q2.4 2.2 .5 4.9M237 67.2q-4 1.3 -6.6 4.5M273.5 55.5q-.7 -3.7 -2.8 -6.9M186.2 88.1q3.7 1.5 7.4 -.1M262.7 42.7q-2.7 .5 -2.6 3.3M263.6 36.8q.9 -2.4 3.2 -3.4M147.5 110.1q.8 4.3 -3 6.4M215.7 73.6q3 -.7 4.2 2.2M204.1 81.5q-.8 3.3 -4.2 3.7M126.4 122.4q1.3 -2.6 1.7 -5.5M129.5 121.9q-1.7 -2.6 -1.2 -5.6M163.8 105.6q2.5 -2 4.7 -4.3M232.6 71.7q-1.8 -1.5 -3.6 -2.9M244.4 59.6q-3.6 -1.3 -7.3 -.1M185.8 97q2.8 -.3 3.4 -3.1M182.5 99.1q3.6 -1.9 3.5 -6M274.9 50.5q1.1 -2.8 -.1 -5.6M233.2 57.1q1.5 4.4 6.1 3.5M267.8 35.5q2.1 .7 3.8 2M127 117.1q2.9 1.5 3.5 4.8M179.6 95.6q1.9 .3 3.8 1M230.3 63.6q-2 1.7 -1.2 4.2M167.9 97.5q1.6 1.8 3.8 .9"/>
<path filter="url(#od)" stroke="#ffdc00" stroke-width="1.6" d="M124.7 102.3q-3.6 2.6 -1.9 6.7M220.3 53.5q1.5 -.8 2.9 -1.5M200.8 59.6q2.4 3.4 6.3 1.9M286.5 15.1q2.7 -3 2.9 -7M171.5 84q-.3 3.4 -.1 6.9M164.5 90.8q-2 -3.4 .1 -6.8M148.4 103.4q4 1.6 6.4 -1.9M255.5 40.7q-2.7 .7 -4.6 -1.4M138.6 108.6q-2.3 1.4 -4.8 .6M205.3 53.9q-.8 3.4 1.5 6M178.6 84.1q-2.4 2 -4.6 4.3M227.4 48.8q3 -1.7 4.8 -4.6M142.1 106.8q.3 -4.5 4.9 -4.6M194.1 78.7q-2.6 1.6 -5 3.6M181 77.5q1.3 -1.6 3.4 -1.5M235 41.2q1 2.1 .5 4.4M166 89.6q1.7 .2 3.2 .9M215.9 63.6q-1.3 -1.9 .4 -3.4M158.4 88.2q3 -.6 4.2 -3.4M170.6 87.8q-3.6 2.5 -6.8 -.4M175.5 84q-1.2 1.3 -1.2 3M221 53.8q-1.3 3.6 1.2 6.6M172.1 92.5q-2.4 -2.2 -3.2 -5.5M175.4 91q-2.4 -2.8 -6 -1.8M111.5 120.8q.4 -2.8 3.3 -2.8M289.4 14.3q-2.8 1.3 -4.1 4.2M113.5 124.7q1.7 -1.1 3.3 .2M235.3 50.1q-2.6 1.6 -4.5 4.1M149.9 91.9q2.8 1.8 3.8 4.9M157 93.9q-3.9 -.8 -6.2 -4.1M213.9 62.9q-1.8 3 .2 5.9M100.8 114.7q4.7 .6 4.7 5.4M116.1 109.6q1.9 -.7 3.9 -1.3M116.6 121.5q4 .9 8 -.4M143.1 104.5q-.6 -2 .2 -3.9M247.3 41.3q1.1 1.6 .1 3.2M163.2 92.3q-1.9 -3.4 -4.6 -6.2M120.3 117.3q-2.6 -.1 -3.9 2.1M136.8 110.6q2.6 -3 6.2 -4.5M196.2 72.6q-3.2 -.6 -6.5 -.8M223.2 57.3q2.2 1.8 3.7 4.2M195.2 69.9q-2.8 -2 -6.2 -2.3M159.6 87.5q1.5 -.7 2.2 -2.3M203.8 68.5q-1.3 -.9 -2.7 -1.6M173.5 87.9q-2.5 .6 -4.7 1.8M269.3 20q-1.6 1.1 -3.1 2.4M221.3 64q-2 1.9 -4.7 1.4M184.3 73.9q2.9 2.4 .6 5.3M139.8 92.8q2.4 2 5.4 1.1M182.7 80.9q-1.1 3.6 -4.7 2.6M182.9 69.8q-.4 4.4 3.8 5.5M127.9 112.7q-.1 -3.8 -3 -6.3M131.2 111.2q-3.2 -1.1 -4.6 2M233.3 39.9q2 -1.3 3.7 .4M202.8 65.9q.3 3.6 .6 7.2M201.6 66.3q3.5 1.7 7.3 2.6M224.7 62.3q-1.7 -2.4 -.1 -4.8M212.2 69.2q0 -2.2 -.7 -4.2M219 56.5q-.4 3.2 -3.6 3.3M162.6 85q-3.9 .9 -3.3 4.9M147.3 91.2q1.8 1.1 3.1 -.5M250.9 38.6q3.2 -3.6 7 -.6M224.7 55.9q-.7 1.6 .2 3M213.2 50.9q-3.1 1.3 -2.5 4.7M173.3 87.1q1.8 -3.6 3 -7.3M144.3 104.5q.6 -2.8 3.3 -3.9M154.1 101.9q-1.7 -3.4 -3.2 -6.8M126.6 103.6q2.4 -1.7 3.3 -4.5M106 119.7q2.6 1 4.8 2.6M153.5 101.3q-1.6 4 2.3 6M105.3 122.8q1.6 -.5 3.1 0M107.9 122q-2.3 -2.8 -5.8 -3.5M203 62.3q-2.3 3.2 -5.9 1.5M134.2 98.5q-1.6 1.5 -3.4 2.8M213.4 57.1q-3.8 1.4 -6.4 4.6M166.2 80q-.1 2.1 -1.6 3.6M272.6 28.9q-4.7 .9 -3.9 5.6M156.9 91.4q.9 -3 1.7 -6.1M123.9 115.6q3 .8 4 -2.1M215.9 58.1q1.6 .5 3.2 .9"/><path stroke="#ffffb0" stroke-width=".5" transform="translate(-.3 -.3)" d="M124.7 102.3q-3.6 2.6 -1.9 6.7M220.3 53.5q1.5 -.8 2.9 -1.5M200.8 59.6q2.4 3.4 6.3 1.9M286.5 15.1q2.7 -3 2.9 -7M171.5 84q-.3 3.4 -.1 6.9M164.5 90.8q-2 -3.4 .1 -6.8M148.4 103.4q4 1.6 6.4 -1.9M255.5 40.7q-2.7 .7 -4.6 -1.4M138.6 108.6q-2.3 1.4 -4.8 .6M205.3 53.9q-.8 3.4 1.5 6M178.6 84.1q-2.4 2 -4.6 4.3M227.4 48.8q3 -1.7 4.8 -4.6M142.1 106.8q.3 -4.5 4.9 -4.6M194.1 78.7q-2.6 1.6 -5 3.6M181 77.5q1.3 -1.6 3.4 -1.5M235 41.2q1 2.1 .5 4.4M166 89.6q1.7 .2 3.2 .9M215.9 63.6q-1.3 -1.9 .4 -3.4M158.4 88.2q3 -.6 4.2 -3.4M170.6 87.8q-3.6 2.5 -6.8 -.4M175.5 84q-1.2 1.3 -1.2 3M221 53.8q-1.3 3.6 1.2 6.6M172.1 92.5q-2.4 -2.2 -3.2 -5.5M175.4 91q-2.4 -2.8 -6 -1.8M111.5 120.8q.4 -2.8 3.3 -2.8M289.4 14.3q-2.8 1.3 -4.1 4.2M113.5 124.7q1.7 -1.1 3.3 .2M235.3 50.1q-2.6 1.6 -4.5 4.1M149.9 91.9q2.8 1.8 3.8 4.9M157 93.9q-3.9 -.8 -6.2 -4.1M213.9 62.9q-1.8 3 .2 5.9M100.8 114.7q4.7 .6 4.7 5.4M116.1 109.6q1.9 -.7 3.9 -1.3M116.6 121.5q4 .9 8 -.4M143.1 104.5q-.6 -2 .2 -3.9M247.3 41.3q1.1 1.6 .1 3.2M163.2 92.3q-1.9 -3.4 -4.6 -6.2M120.3 117.3q-2.6 -.1 -3.9 2.1M136.8 110.6q2.6 -3 6.2 -4.5M196.2 72.6q-3.2 -.6 -6.5 -.8M223.2 57.3q2.2 1.8 3.7 4.2M195.2 69.9q-2.8 -2 -6.2 -2.3M159.6 87.5q1.5 -.7 2.2 -2.3M203.8 68.5q-1.3 -.9 -2.7 -1.6M173.5 87.9q-2.5 .6 -4.7 1.8M269.3 20q-1.6 1.1 -3.1 2.4M221.3 64q-2 1.9 -4.7 1.4M184.3 73.9q2.9 2.4 .6 5.3M139.8 92.8q2.4 2 5.4 1.1M182.7 80.9q-1.1 3.6 -4.7 2.6M182.9 69.8q-.4 4.4 3.8 5.5M127.9 112.7q-.1 -3.8 -3 -6.3M131.2 111.2q-3.2 -1.1 -4.6 2M233.3 39.9q2 -1.3 3.7 .4M202.8 65.9q.3 3.6 .6 7.2M201.6 66.3q3.5 1.7 7.3 2.6M224.7 62.3q-1.7 -2.4 -.1 -4.8M212.2 69.2q0 -2.2 -.7 -4.2M219 56.5q-.4 3.2 -3.6 3.3M162.6 85q-3.9 .9 -3.3 4.9M147.3 91.2q1.8 1.1 3.1 -.5M250.9 38.6q3.2 -3.6 7 -.6M224.7 55.9q-.7 1.6 .2 3M213.2 50.9q-3.1 1.3 -2.5 4.7M173.3 87.1q1.8 -3.6 3 -7.3M144.3 104.5q.6 -2.8 3.3 -3.9M154.1 101.9q-1.7 -3.4 -3.2 -6.8M126.6 103.6q2.4 -1.7 3.3 -4.5M106 119.7q2.6 1 4.8 2.6M153.5 101.3q-1.6 4 2.3 6M105.3 122.8q1.6 -.5 3.1 0M107.9 122q-2.3 -2.8 -5.8 -3.5M203 62.3q-2.3 3.2 -5.9 1.5M134.2 98.5q-1.6 1.5 -3.4 2.8M213.4 57.1q-3.8 1.4 -6.4 4.6M166.2 80q-.1 2.1 -1.6 3.6M272.6 28.9q-4.7 .9 -3.9 5.6M156.9 91.4q.9 -3 1.7 -6.1M123.9 115.6q3 .8 4 -2.1M215.9 58.1q1.6 .5 3.2 .9"/>
<path filter="url(#od)" stroke="#eb0f14" stroke-width="1.6" d="M136.5 112.8q3.4 2.5 6.4 -.4M262.3 29.4q-3.1 1.3 -4.9 4M222.2 65.5q3.9 1.8 7.8 -.1M306.1 6.2q1.2 2.6 2.9 4.9M161.9 93.5q1.9 3.3 4.7 6M191.9 82q1.9 3 4 6M123.9 117.4q2.4 1.1 4.1 3.2M259.5 43.4q-2 1 -2.3 3.2M259.7 46.6q-2.7 -2.6 -5.7 -4.7M212.5 73.5q-3.8 -.3 -5.5 3.1M148.8 98.2q-3.3 -1 -5.9 1.2M166.7 106.6q1.3 -3.6 -.3 -7.1M201.1 83.8q-3.6 0 -6.8 -1.7M261.1 36.6q-.6 -3.8 2.1 -6.5M174.3 84.2q-.4 3.6 -2.8 6.4M289.8 31.6q-2.9 -1.6 -1.7 -4.6M283.3 34.4q-3.3 1.8 -6.5 3.9M123.7 112.4q-.6 -3.3 -4 -3.8M284 39.7q-1.8 3.1 -5 4.7M206 78q2.6 1.3 5.5 2.2M242.1 62q-2.6 -4.3 -7.2 -2.3M299.1 23.3q1.3 3.2 4.5 2.2M201.4 65.9q-2.1 -1.6 -2.6 -4.2M136.5 96q-2.3 .4 -2.2 2.7M233.8 70.2q-3.3 .8 -4.9 -2.2M183.7 92q-2.1 -2.4 -2.4 -5.7M245.6 59.1q2.5 1.8 1.5 4.7M237 56.4q-2.3 -1.7 -5 -2.7M287.5 35.8q3 1.4 5.6 3.5M220.1 72.4q-2.7 -2.3 -5.8 -.4M239.5 66q-1.5 -2.2 .6 -3.8M214.4 61.1q-3.4 .2 -4.8 -2.8M246.6 50.3q1.3 -4.2 5.7 -3.9M338 .2q4.4 -.4 5.7 3.9M243.6 54.1q-2.2 .6 -1.8 2.8M273.2 47.6q-1.8 1 -3.3 -.5M153.9 91.8q3.1 2.1 2.3 5.7M212.1 62.9q3.2 2.6 7.2 1.5M130 122.3q-1.7 -.8 -3.5 -1.3M270.5 18.6q1.6 1.1 1.3 3M335.2 1.7q-.9 3.8 2.3 6M264.4 22.3q2 -2.7 5.3 -3.2M286.7 39.4q-2.4 1.1 -4.4 -.6M254.9 52.2q3 -.3 5.5 -2M242.8 56.7q-2 .9 -2.9 2.9M225.7 66.4q-.7 1.9 -.7 4M210.3 71.6q4.3 1.3 7.7 -1.6M252.9 55.7q-1.4 1.6 -1.8 3.7M152.7 108q-2.3 2 -.8 4.6M219.1 75.3q-.8 -2.1 -3 -1.5M241.2 43.7q-1.7 -1.1 -1.6 -3.1M124.9 108.7q1.7 .5 3.3 -.3M173.4 97.5q-1.8 .4 -3.7 .7M119.3 117.4q-.8 -2.4 .6 -4.5M329.3 9.3q-3 2.1 -6.6 1.9M306.1 34.1q0 -3.7 -2.8 -6.2"/>
<path filter="url(#od)" stroke="#fff45a" stroke-width="2" d="M204 76.7q.8 -2.2 -1.1 -3.5M193.6 63.4q.8 -2.2 3 -2.8M236.6 43.6q-2.7 .3 -3.7 -2.2M168.1 90.2q-2.5 3.1 -6.4 3.2M183.8 79.5q-2.9 -1 -5.1 1.2M132.6 101.3q-.4 3.7 -3.9 5M147.3 101.8q1.6 3.6 5.3 5M201.8 63.2q.5 1.9 .4 3.9M169.4 83.8q1.8 -.9 3.7 -.1M246.8 36.8q-3.8 1.4 -3.5 5.4M198.8 75q-2.7 3.1 -.6 6.6M143.9 100.1q2.8 .9 5.8 1.1M142.4 103q.2 2 .2 4M162.5 103.1q-.7 -2.6 -.7 -5.3M146.2 95.3q3.9 -1.6 7.3 .9M142.2 105.2q-1.5 -2.1 -1.7 -4.6M114.5 117q-.6 -4.3 -4.9 -4.6M235.1 58.2q-1.9 -3.4 .7 -6.3M169.6 84.5q2 2.3 4.8 1.3M218.3 61.2q1.8 .6 3.2 -.8M113.5 113.9q-1.2 1.7 -1.8 3.8M158.2 102.9q2.5 -.9 1.7 -3.5M210.5 68.1q-2.3 -1.5 -5 -.9M136.1 108.1q-1.9 .8 -3.8 1.3M193.5 77.3q-2.1 -.3 -3.8 1M229.9 52.3q2.4 -1.4 4.9 -2.7M226.6 61.6q-.5 1.9 -2.1 3.1M200.7 71.8q-.9 2.8 -3.8 2.8"/><path stroke="#ffffb0" stroke-width=".6" transform="translate(-.3 -.3)" d="M204 76.7q.8 -2.2 -1.1 -3.5M193.6 63.4q.8 -2.2 3 -2.8M236.6 43.6q-2.7 .3 -3.7 -2.2M168.1 90.2q-2.5 3.1 -6.4 3.2M183.8 79.5q-2.9 -1 -5.1 1.2M132.6 101.3q-.4 3.7 -3.9 5M147.3 101.8q1.6 3.6 5.3 5M201.8 63.2q.5 1.9 .4 3.9M169.4 83.8q1.8 -.9 3.7 -.1M246.8 36.8q-3.8 1.4 -3.5 5.4M198.8 75q-2.7 3.1 -.6 6.6M143.9 100.1q2.8 .9 5.8 1.1M142.4 103q.2 2 .2 4M162.5 103.1q-.7 -2.6 -.7 -5.3M146.2 95.3q3.9 -1.6 7.3 .9M142.2 105.2q-1.5 -2.1 -1.7 -4.6M114.5 117q-.6 -4.3 -4.9 -4.6M235.1 58.2q-1.9 -3.4 .7 -6.3M169.6 84.5q2 2.3 4.8 1.3M218.3 61.2q1.8 .6 3.2 -.8M113.5 113.9q-1.2 1.7 -1.8 3.8M158.2 102.9q2.5 -.9 1.7 -3.5M210.5 68.1q-2.3 -1.5 -5 -.9M136.1 108.1q-1.9 .8 -3.8 1.3M193.5 77.3q-2.1 -.3 -3.8 1M229.9 52.3q2.4 -1.4 4.9 -2.7M226.6 61.6q-.5 1.9 -2.1 3.1M200.7 71.8q-.9 2.8 -3.8 2.8"/>
<path filter="url(#od)" stroke="#c8005a" stroke-width="1.6" d="M231.4 67.8q.2 -2.4 -1.7 -3.9M249.8 50.3q1.2 2.8 4.2 3.6M199.8 83.7q4.3 2.2 6.6 -2.1M197.2 87.6q-.8 -1.6 -.1 -3.3M241.2 56.4q-2.5 1.8 -4.6 4.1M231.9 65.8q-2.9 3.8 .1 7.6M245.1 61.1q-1.7 1.3 -.7 3.2M319.3 18.9q-.5 2.7 .1 5.4M278.2 44.2q1.2 1.6 -.2 3.1M272.1 37.8q-.7 3.3 1.5 6M348.5 11.7q-1.2 -3 .1 -5.9M191.7 89.3q-5.4 .6 -6.4 -4.8M262.2 50.4q.1 -3.3 2.4 -5.7M318.9 11q1.5 -.9 1.7 -2.7M145.2 112.4q-2.7 2.7 -6.3 3.7M246.7 63.9q-2.3 -.1 -4.5 -.6M236.8 65.1q-3.1 -3.2 -7.3 -1.8M244.4 55.9q2.2 -3.6 6.1 -2M205.5 75q2.5 -2 5.4 -.5M184.7 90.2q2.6 -1.1 1.5 -3.7M267.4 30.8q-1.4 .9 -1.7 2.6M342.6 13.9q1 -3.9 .5 -8M280.4 41q3.4 -3.2 2.8 -7.9M224.7 72.2q4 -.1 5.9 3.5M337.1 6.7q-1.6 1.9 -3.5 3.7M295.8 27.9q-1.5 4.6 2.5 7.3M251.5 53.5q-.5 2.6 2 3.4M335 2.8q1.4 3.7 5.2 4.4M307 5.6q.5 -2.2 2.8 -2.3M261.7 23.8q-1.7 1 -1.5 2.9M211.7 72.8q3.9 -.7 7.5 1M136.3 119.5q.7 -2.3 3.1 -2M343.9 -.3q1.6 2.8 4.6 3.8M218.5 76.7q-2.9 -1.4 -5.9 -2.3M261.8 54.9q2.8 -1.8 6 -1.5M212.3 83.9q1.3 -3.5 3 -6.9M219.8 70.9q-3.3 2.7 -1.6 6.6M209.7 80.1q1.8 2.8 2.7 6"/>
<path filter="url(#od)" stroke="#ff5000" stroke-width="1.6" d="M313.1 7.4q2.6 1.6 3.3 4.6M207.9 69.3q2 .4 4 .3M237.1 70.1q.4 -2.8 -1.3 -5.1M225.2 56.5q1.2 1.7 3.2 2M283.2 20.6q1.8 2 1.2 4.6M213.6 74.1q-4.5 -1.3 -7 2.6M202.5 55.1q2.6 4.5 -1.7 7.5M258.3 50.1q-.8 3 -3.8 2.4M152.1 98.6q-2 -.7 -3.7 -1.9M156.8 92.7q1.7 .5 3.5 .7M227.4 71q-3 1.8 -4.1 5.1M162.3 95q.8 -2.4 1.9 -4.7M107.3 112.2q-.3 -1.9 1.4 -2.7M179.6 85.3q-1.2 1.4 -.5 3.2M258.3 29.9q.8 -2.9 3.8 -2.9M292.1 10.1q.1 -1.7 -.7 -3.1M288.8 33.7q2.6 -3.1 .7 -6.6M240.9 38.8q.1 -1.9 1.8 -2.7M118.1 120q3.7 1.8 2 5.6M250.1 43q3.1 -.9 4.3 -4M178.4 90.9q1.4 1.2 2.5 2.6M259.5 43.1q-2.6 -.9 -5.2 -1.5M244.3 48.8q.9 1.5 .7 3.3M161 107.1q4.5 -1.1 3.5 -5.7M148 92q2.4 .2 3.9 2.1M245.2 35.3q5 -1.8 7.4 3M304.6 5.7q-2.3 2.3 -.4 4.8M190.8 85.6q-4.2 .8 -7.7 -1.7M165.5 89.6q-1.8 4.3 -6.3 3.5M125.7 120.4q-.7 1.7 -.7 3.5M340.2 2.8q3.4 2 2.9 6M189.4 80.7q-2.7 1.5 -4.8 3.7M215.1 74.6q-2.9 1.8 -6.4 1.9M274.2 18.2q-.4 2.2 -2.7 2.1M228.2 69.1q.7 1.9 2.7 2.1M246.4 60.9q-.2 1.9 1.2 3M175.5 89.8q1.7 3.5 1.5 7.5M141.8 103.7q.9 -2.9 2.6 -5.4M138.2 92.4q.5 2.8 -1.7 4.6M281.5 35.5q-1.2 1.7 -1.9 3.7M186.8 81.4q2 1.8 4.1 3.6M251.1 40.3q3.2 1.1 4.8 4.1M146.5 116.2q-1.5 -1.1 -1.3 -2.9M151.6 93.1q-1.1 3.1 -1.5 6.4M125.2 109.7q-5 1.2 -4.1 6.3M247.2 62.6q-1.3 -1.5 -2.2 -3.3M187 72.8q.7 -3.9 -1.4 -7.2M251.2 32.7q3.8 -.4 6.4 2.5M323.2 2.2q.7 -3 -2.1 -4.3M288.8 27.8q5.4 -2.1 8.5 2.7M120.2 122.4q1 -3.9 -1.4 -7.1M281.3 26.5q.8 2 2.9 2.4M228.3 59.9q1.4 4.3 5.8 3.2M180.9 81.9q-1.9 .3 -2.1 2.3M123.1 122.4q-3.5 -1 -5.1 2.3M128.1 117q-3.1 -1.7 -1.7 -5M255.1 56.9q-1.8 -.4 -3.7 -.3M138 108.8q-2.3 2.2 -3.8 5.1M105.5 110.1q-2.6 4.6 1.6 7.8M202.8 71.9q-.6 -2.2 -2.5 -3.6M324.5 13.4q-1.8 -1.5 -3.2 -3.3M159.8 89.9q2.2 3 1.4 6.7M263.6 47.4q-3 2.8 -7.1 2.2M270.6 24.8q-3.3 .1 -5.2 2.7M131.1 103.6q-2.7 3.1 -.3 6.5M105.7 117.4q3.8 -2 6.2 1.6M128.8 106.2q-2.5 -2.7 -4 -6.2M281 23.3q-1.9 3.7 .6 7M249.3 35q-1.9 -.6 -3.3 .8M279.4 35.4q1.4 1.1 2.7 2.2M265.4 45q-3.5 -.8 -5.4 -3.9M347.7 .2q2.3 -5.1 7.5 -3.3M237.1 47.3q-3.3 -1.9 -7 -2.8M166.9 102.1q-2.4 .3 -3.6 -1.7M299.3 25.6q4.6 .4 8.4 -2.1M210 80.4q-4.7 .2 -6.7 -4M238.5 54.8q.6 5.3 5.9 5.1M202.1 55.7q-.7 2.3 1.1 3.9M145.8 93.8q-1.1 4 -5.1 4.9M135 106.9q3.5 -3.2 7.4 -.5M133.1 94.9q4 -.9 5.9 2.6M104.3 122.6q-.9 -1.5 -2.6 -2M271.2 41.3q-.7 -3.6 -4.2 -4.5M190.5 81.5q-.2 -3.5 -2.4 -6.1M222.9 72.6q1.2 -1.9 -.5 -3.5M241 44.4q-1.6 5 3 7.4M161 95.6q-3.7 2.8 -2.8 7.3M250.4 40.6q2.5 3.3 -.1 6.5M174.3 90.7q4.4 -2.1 6.7 2.1M214.4 64.5q-1.7 2.8 -3.5 5.5"/>
<path filter="url(#od)" stroke="#ff9100" stroke-width="1.6" d="M293.3 2.9q-1.4 4.4 1 8.4M345.5 1.8q-5 1.2 -8.7 -2.5M115.7 124.7q1.6 -1.2 3.1 .2M312.7 25.1q-2.2 -3.8 -.8 -8M249.5 61.4q.4 -2.4 1.5 -4.7M117.3 117.5q1.8 1.3 3.9 .4M286.1 22q3.2 .5 6.3 1.3M271.5 20.2q1.2 -3.4 4.4 -5M162.2 97.9q-.1 -3.2 2.5 -5.2M278.9 32q-1.3 1.9 -1.2 4.1M297.6 21.6q-1.4 -1.7 -3.3 -.5M130.9 103.9q-.1 2.6 2.5 3M280.6 20.3q.9 -1.3 1 -2.9M155.1 98q0 -2.5 2.4 -3M282 25.2q.9 -1.6 .8 -3.4M292.8 18q-1.1 -4.2 3 -5.6M239.4 51.9q.6 -1.9 -1 -3.1M221.4 55.8q-.1 -1.7 -.3 -3.4M320.9 9.7q-3.4 1.1 -5.5 4M244.3 44.6q-.4 1.6 -.5 3.2M209.7 67.4q-2.2 -.7 -2.9 -2.9M146.8 96.6q.8 3.8 .1 7.7M266.8 28.6q-1.6 1.2 -1.2 3.2M267.3 43.4q2.6 -1.8 2.6 -4.9M205.7 68.4q1.3 -.9 2.1 -2.3M155.5 98.6q.9 1.9 1.5 3.9M264.9 18.4q.2 2.7 -.6 5.3M250.4 47.5q.1 2.3 1.8 3.8M108.1 116.4q1.2 2.9 2.5 5.8M163 96.7q-3.5 1.6 -3.9 5.3M290.8 19.1q2.5 -3.1 2.1 -7.2M122 119.3q-3.5 .8 -6.4 3.1M260.8 32.6q1.9 -.7 3.1 .9M194.5 83.7q.5 -1.5 1.4 -2.8M289.6 20.8q2.1 1.9 2.3 4.7M167.7 85.4q-1.7 1.2 -2.3 3.2M251.8 35q2.1 1.1 3.7 -.7M263.1 33.1q4.6 0 6.8 4.1M164.6 90.5q3 .9 2.6 4M146.1 93.1q3 2.3 5.4 -.6M211.7 72.7q2.2 -3.3 3.1 -7.2M187.7 71.8q-2.9 .7 -4.9 2.9M272.5 22q-2.5 1.7 -5.4 1.9M261.2 42.6q3.8 -3 2.4 -7.6M167.4 86.2q1.2 3.5 4.1 5.8M254.5 51.1q.5 -3.1 -.1 -6.3M226.6 47.8q1.8 -4.3 6.5 -4.2M261.2 32.6q2.2 -1.3 4.3 -2.6M142.4 95.5q-1.5 -1.7 .2 -3.2M209.7 50.8q2.4 1.8 2.4 4.8M277.4 19.2q-.8 -1.8 -.8 -3.8M136.4 112.6q.9 1.3 2 2.3M216.9 66.2q1.4 -3.2 -.2 -6.3M240.5 50.2q1.2 -2.5 .6 -5.1M241.1 60q1.4 -.5 2.9 -1.1M219.8 60.1q-1.5 1.2 -2.5 2.7M250.5 38q1.2 3.6 2.9 6.9M257.2 48q-.2 -2.8 2.4 -3.9"/>
<path filter="url(#od)" stroke="#0064f0" stroke-width="2" d="M247.4 66.7q-3.6 -.5 -3.5 -4.1M192.2 90q-2.3 -1.1 -4.8 -1.7M188.5 93.2q-3.9 2.9 -7.9 .1M192.9 88.8q1.9 -2.2 1.3 -5.1M255.5 58.2q2.7 -2.4 6.2 -1.4M174.5 97.3q-2.8 .1 -2.8 2.9M174.6 110.3q-3.5 -3 -1.1 -7M227.2 74q.6 2.4 3 2.8M214.8 79.6q3.5 1.4 5.3 4.7M199.3 94.8q-.6 -2.6 -1.7 -5.1M151.9 109.7q3.2 -1.7 6.4 0M128.2 122.4q-2.2 2.9 -3.3 6.4M156 118.8q-2.4 -3.2 -6.3 -2.9"/>
<path filter="url(#od)" stroke="#fff45a" stroke-width="1.6" d="M210.6 70.5q2.8 -.6 5.6 -.8M182.6 77.2q-3.5 2 -6.4 -.8M208 63.8q1.1 -2 .7 -4.2M232.9 56.4q.8 -3.8 -.3 -7.5M140.9 94.7q3.1 2.6 2.7 6.6M180.1 78.4q-1.4 3.5 1.2 6.2M236.5 47.9q-1.9 -4.1 .6 -7.9M303.9 14.4q1.8 -2.6 4.8 -3.8M216.6 63.5q-1.5 1.8 .1 3.6M140.4 104.5q-2.9 -.5 -3 -3.4M126.4 109.6q-1.7 3.6 -5.7 3.2M139.3 97.9q2.2 3.8 6.5 3.2M242.4 47.8q-3.4 -.2 -6.2 1.8M217.9 60.2q-.7 4.5 3.7 5.6M175.8 76.7q3.1 2.6 1.9 6.5M198.6 71.1q2.7 -1.6 5.8 -.8M107.4 120q1.2 .9 2.7 1.5M222.9 50.5q1.4 -2.1 3.6 -1M176.5 85.6q-2 1.4 -.6 3.4M166.4 92.5q3.3 -3.6 7.7 -1.5M143.4 98.4q-1.5 1.2 -1.8 3.1M219.1 53.9q-1.1 2.7 -3.4 4.6M143.9 106.6q.4 -3.5 2.8 -6.2M192.7 64.7q-1.4 -3.4 -5 -3.2M242.1 50q-2.1 1.8 -4.9 1.6M138.8 95.4q2.6 -.9 5 .4"/><path stroke="#ffffb0" stroke-width=".5" transform="translate(-.3 -.3)" d="M210.6 70.5q2.8 -.6 5.6 -.8M182.6 77.2q-3.5 2 -6.4 -.8M208 63.8q1.1 -2 .7 -4.2M232.9 56.4q.8 -3.8 -.3 -7.5M140.9 94.7q3.1 2.6 2.7 6.6M180.1 78.4q-1.4 3.5 1.2 6.2M236.5 47.9q-1.9 -4.1 .6 -7.9M303.9 14.4q1.8 -2.6 4.8 -3.8M216.6 63.5q-1.5 1.8 .1 3.6M140.4 104.5q-2.9 -.5 -3 -3.4M126.4 109.6q-1.7 3.6 -5.7 3.2M139.3 97.9q2.2 3.8 6.5 3.2M242.4 47.8q-3.4 -.2 -6.2 1.8M217.9 60.2q-.7 4.5 3.7 5.6M175.8 76.7q3.1 2.6 1.9 6.5M198.6 71.1q2.7 -1.6 5.8 -.8M107.4 120q1.2 .9 2.7 1.5M222.9 50.5q1.4 -2.1 3.6 -1M176.5 85.6q-2 1.4 -.6 3.4M166.4 92.5q3.3 -3.6 7.7 -1.5M143.4 98.4q-1.5 1.2 -1.8 3.1M219.1 53.9q-1.1 2.7 -3.4 4.6M143.9 106.6q.4 -3.5 2.8 -6.2M192.7 64.7q-1.4 -3.4 -5 -3.2M242.1 50q-2.1 1.8 -4.9 1.6M138.8 95.4q2.6 -.9 5 .4"/>
<path filter="url(#od)" stroke="#0064f0" stroke-width="1.6" d="M139.3 118.6q1.8 1.4 .9 3.5M219.5 80.6q1.6 -.3 2.9 -1.3M211.9 82.2q.7 3.2 -1.6 5.6M139.7 121.9q-3.1 -2.9 -7.4 -2.4M224.2 78.7q1.9 -2.5 4.6 -4.3M135.9 120.4q-1.6 1.9 -1.3 4.4M175.8 101.5q-.8 -2.7 -3.7 -2.6M121.2 131q3.1 -1.9 4.6 -5.3M175.6 95.9q3.7 .2 4.7 3.7M206.7 86.2q2.5 2.7 6 1.5"/>
<path filter="url(#od)" stroke="#ff5000" stroke-width="2" d="M134.3 116.5q-4.7 -1.6 -3.7 -6.4M124.9 102q-1.4 2.2 -2.7 4.4M228.4 59.5q-5.4 -1.1 -6.6 4.3M177.1 87q4.7 -1.4 3.9 -6.2M183.7 71.3q-.7 2.3 .7 4.3M172.8 101.7q3 -3.1 .1 -6.2M144 104.5q3.3 .5 5.4 3.1M257.6 44.5q-2 -2.3 -2.2 -5.4M171.1 97.6q1.6 -1.3 .9 -3.2M156.3 93.6q5.2 -1.7 7.2 3.3M131.1 111.7q-3.5 -1.5 -7.1 -.7M247.8 57.4q4.3 1.4 6.1 -2.7M259.4 43.4q2.8 3.5 7 2.1M148 107.5q1.4 1.5 .4 3.3M251.8 56.3q.8 -3 -2.2 -3.8M182.6 93.7q-2.2 -2.9 -5.2 -.8M194.6 63.6q3.8 1.9 2 5.8M126.2 112.8q3.9 -.1 6.7 -2.8M264.6 30.1q2.3 -1.9 4.3 -4M135 102.7q-1.1 -2.5 1.1 -4.2M228.1 50.2q-1 2.2 -1.4 4.7M265.4 37q-2.7 -.6 -4.4 -2.9M255.3 50.3q2.3 .4 4.7 .8M157 87q1.7 .9 3 -.5M147.9 92.5q.1 -2.2 2 -3.2M246.1 40.4q-2.1 .7 -3.6 -.9M248.9 46.4q-2.5 -.9 -2.9 -3.5M107.2 110.9q0 3.9 .1 7.7M240 51.6q2.7 -1.5 3.5 -4.5M261.8 45.2q2.1 .8 3.8 2.2M111.1 115.9q-3.7 .6 -3.2 4.2M232.8 54.6q1.1 -3.9 -1.9 -6.6M266.4 32.4q.9 2.8 3.1 4.9M141.1 118.3q.8 -2.8 -2 -3.6M202.1 52.4q-2.4 2 -3.4 4.9M168.3 83q-2.9 -2.9 -6 -.3M123.8 117.1q3 -.8 6.2 -1.1M204.9 77q1.9 .4 3.6 -.6M179.3 91.6q3.8 3.7 7.7 .1M165.5 87.6q-.6 -2.4 -1.3 -4.7M138.2 103q-3.2 .4 -5.3 -2.1M237.1 43.5q.6 3 2.2 5.5M201.7 79.9q-2.3 -4.3 1.8 -6.9M256.9 38.3q-3.1 -.2 -6.2 -.2M188.5 92.1q-4 1.2 -8 -.2M194.5 80.8q-.8 1.6 -2.5 2.2M249 47q1.7 4 -.5 7.6M160.8 93q.1 4.1 -3.7 5.8M250.8 31.9q2.3 -.1 3.7 1.7M225.7 56.9q-2.6 3.5 -6.7 1.9M142.8 109.8q-2.1 -1.2 -3.4 .9M153.3 93.1q-1.6 -1.1 -3.5 -.7M233.2 59.2q-3.6 2 -2.7 6M163.9 100.2q-2.5 -1.7 -3.9 -4.3M268.1 36q2.8 .2 5.7 .2M132 122.8q-1.1 -3 -1.6 -6.2M254.9 48.3q2 -1.2 4.2 -1.9M274.6 39.2q.7 3.3 4 2.7M220.6 72.3q2 -4.2 6.6 -4.1M261.6 40.4q-3.4 -1.6 -2.7 -5.2M181.9 86.8q-1.5 2.4 -2.2 5.2M272.2 37q-1.6 -3 .9 -5.4M166.9 83.8q-1.4 4.6 -6.2 4.8M129.6 112.4q1.6 .2 3.1 .6M277.6 34.1q0 2.9 -2.2 4.6"/>
<path filter="url(#od)" stroke="#ffbe00" stroke-width="1.6" d="M278.9 32.1q-3.6 -1.7 -5.2 -5.3M116.6 125.5q1.2 -1.1 2.6 -2.1M115.2 114.2q-1.1 -1.9 -3.1 -2.8M248.8 47.9q2.8 -3.2 1 -7.1M198.3 60.4q.1 3.9 2.2 7.2M149.3 92.7q-3.1 .8 -6 -.4M191.8 56.8q2 2.3 2.4 5.3M252.9 48.7q2.6 -.8 2.6 -3.5M315 6.9q1.3 1.7 1.7 3.7M301.6 8.5q2.9 2.6 .6 5.7M276.3 26.2q.8 2.7 2.8 4.8M230.3 54.4q2.9 -1.9 1.5 -5.2M317.2 9.3q2.4 -3.4 .2 -6.9M195.8 80.7q-1.6 -1.5 -.2 -3.2M298.6 1.8q2 .6 3.4 2.3M161.4 96.6q2.5 -2 3 -5.1M232.1 53.1q4 .1 5.4 3.8M296.4 14.8q-3.9 .6 -4.9 -3.1M173.1 80.6q1.7 3 4.8 1.5M180.7 73.6q-1 2.9 1.7 4.4M134.4 109.5q-2.2 -2 -2 -4.9M141.3 98.3q-2 3.7 -6.1 3.1M270.3 42.5q-3.3 -3.5 -.5 -7.4M204.6 72.4q-2.2 .7 -4.5 .4M245.1 44.4q-1.4 1.9 -3.1 3.5M224.7 56.8q-3.6 .7 -6.9 -1M195.2 57.1q3.1 -2.9 6.6 -.4M186.3 74.2q1 2.3 3.1 3.6M160.9 101.9q.2 -3.7 3.3 -5.7M152.3 87q.3 3.3 3.3 4.6M118.4 108.8q-2.3 2.3 -3.2 5.4M221.5 60.4q2.4 -3.8 6.8 -3.1M217.8 53.8q2.8 -.3 5.6 -.4M203.2 70.8q.2 -3.4 3.2 -4.7M203.7 74.9q1.5 3.2 -.3 6.3M126.1 109q2.2 -.5 3.4 -2.4M337 3.3q5.4 .3 7.4 -4.8M258.2 33.2q-1.1 -2.3 -3.2 -3.8M235.8 54.8q1.2 -3.7 4.4 -6M209.8 64.1q2.8 -1 2 -3.8M237.4 37.3q-3.8 3.3 -1 7.5M307.8 12q-.7 2.4 .4 4.6M179.1 90.1q-2.7 -2.6 -6.2 -1.6M193.3 77q.1 2.1 -.6 4.1M326.2 1.3q-4.1 .6 -5.1 4.6M146.9 101.5q1 -1.5 1.5 -3.3M247.6 37.2q3.6 -1.8 7.3 -.4M245.5 51q1.4 -1.1 1.4 -2.8M199.7 73.5q1.8 -1.2 3.6 -2.3M190.8 57.6q3.7 .2 4.4 3.8M227.1 64.2q1.3 -1.7 -.2 -3.1M264.8 21.6q4.2 1 5.9 5M180.6 85.2q2.1 3.4 5.5 5.6M228 58.9q-3.7 .1 -7.3 -.8M308.7 17.6q5.6 .4 7.1 -5M131.9 112.9q2.1 -.8 4.2 -1.7M281.4 32.5q-2.8 -2 -5.4 .4M224.7 47.5q3.9 -.9 7.3 1.2M226.1 63.3q-2.2 -3.5 -5.7 -1.5M218.4 53.3q2.6 -.6 4.8 -2M149.1 100q2.5 4.2 -1.5 7M282.9 12.3q2.1 1.6 4.7 1.1M257.7 41.2q.8 3.3 -2.2 4.7M238.5 46.8q.6 -3.5 4.1 -4.1M125.5 119.7q-4.5 -.1 -6.4 -4.2M148.4 101.7q3.9 .2 5.7 3.6M194 81q-2.1 2.1 -4.6 3.9M268.5 40.5q-.6 -2.2 1.3 -3.5M205.3 71.4q-.7 -2.1 .7 -3.8"/><path stroke="#ffffb0" stroke-width=".5" transform="translate(-.3 -.3)" d="M278.9 32.1q-3.6 -1.7 -5.2 -5.3M116.6 125.5q1.2 -1.1 2.6 -2.1M115.2 114.2q-1.1 -1.9 -3.1 -2.8M248.8 47.9q2.8 -3.2 1 -7.1M198.3 60.4q.1 3.9 2.2 7.2M149.3 92.7q-3.1 .8 -6 -.4M191.8 56.8q2 2.3 2.4 5.3M252.9 48.7q2.6 -.8 2.6 -3.5M315 6.9q1.3 1.7 1.7 3.7M301.6 8.5q2.9 2.6 .6 5.7M276.3 26.2q.8 2.7 2.8 4.8M230.3 54.4q2.9 -1.9 1.5 -5.2M317.2 9.3q2.4 -3.4 .2 -6.9M195.8 80.7q-1.6 -1.5 -.2 -3.2M298.6 1.8q2 .6 3.4 2.3M161.4 96.6q2.5 -2 3 -5.1M232.1 53.1q4 .1 5.4 3.8M296.4 14.8q-3.9 .6 -4.9 -3.1M173.1 80.6q1.7 3 4.8 1.5M180.7 73.6q-1 2.9 1.7 4.4M134.4 109.5q-2.2 -2 -2 -4.9M141.3 98.3q-2 3.7 -6.1 3.1M270.3 42.5q-3.3 -3.5 -.5 -7.4M204.6 72.4q-2.2 .7 -4.5 .4M245.1 44.4q-1.4 1.9 -3.1 3.5M224.7 56.8q-3.6 .7 -6.9 -1M195.2 57.1q3.1 -2.9 6.6 -.4M186.3 74.2q1 2.3 3.1 3.6M160.9 101.9q.2 -3.7 3.3 -5.7M152.3 87q.3 3.3 3.3 4.6M118.4 108.8q-2.3 2.3 -3.2 5.4M221.5 60.4q2.4 -3.8 6.8 -3.1M217.8 53.8q2.8 -.3 5.6 -.4M203.2 70.8q.2 -3.4 3.2 -4.7M203.7 74.9q1.5 3.2 -.3 6.3M126.1 109q2.2 -.5 3.4 -2.4M337 3.3q5.4 .3 7.4 -4.8M258.2 33.2q-1.1 -2.3 -3.2 -3.8M235.8 54.8q1.2 -3.7 4.4 -6M209.8 64.1q2.8 -1 2 -3.8M237.4 37.3q-3.8 3.3 -1 7.5M307.8 12q-.7 2.4 .4 4.6M179.1 90.1q-2.7 -2.6 -6.2 -1.6M193.3 77q.1 2.1 -.6 4.1M326.2 1.3q-4.1 .6 -5.1 4.6M146.9 101.5q1 -1.5 1.5 -3.3M247.6 37.2q3.6 -1.8 7.3 -.4M245.5 51q1.4 -1.1 1.4 -2.8M199.7 73.5q1.8 -1.2 3.6 -2.3M190.8 57.6q3.7 .2 4.4 3.8M227.1 64.2q1.3 -1.7 -.2 -3.1M264.8 21.6q4.2 1 5.9 5M180.6 85.2q2.1 3.4 5.5 5.6M228 58.9q-3.7 .1 -7.3 -.8M308.7 17.6q5.6 .4 7.1 -5M131.9 112.9q2.1 -.8 4.2 -1.7M281.4 32.5q-2.8 -2 -5.4 .4M224.7 47.5q3.9 -.9 7.3 1.2M226.1 63.3q-2.2 -3.5 -5.7 -1.5M218.4 53.3q2.6 -.6 4.8 -2M149.1 100q2.5 4.2 -1.5 7M282.9 12.3q2.1 1.6 4.7 1.1M257.7 41.2q.8 3.3 -2.2 4.7M238.5 46.8q.6 -3.5 4.1 -4.1M125.5 119.7q-4.5 -.1 -6.4 -4.2M148.4 101.7q3.9 .2 5.7 3.6M194 81q-2.1 2.1 -4.6 3.9M268.5 40.5q-.6 -2.2 1.3 -3.5M205.3 71.4q-.7 -2.1 .7 -3.8"/>
<path filter="url(#od)" stroke="#8c00a5" stroke-width="1.6" d="M250.9 56.1q3.1 -2.6 7.2 -2.4M245.3 54.1q-1.5 1.9 -3.6 .6M224.9 61.7q4.5 -.4 7.3 3M125.3 124.7q-1.5 -3.7 1.2 -6.7M135.3 106q2.2 -3.1 5.5 -1.2M248.5 61q-1.1 2.6 -.3 5.3M166.9 96.7q1.8 -.9 3.2 .6M244.7 38.3q3.8 -.1 3.9 -3.9M132.5 109.6q4.1 -1 5.4 -5M228.6 74.5q1 2.6 .9 5.5M145.4 113.8q-1.8 1.1 -1.6 3.3M228.3 69.4q1.2 -3.3 2.1 -6.6M297 26q-.8 -3.9 2.3 -6.5M279.6 22.5q-4.6 .4 -6.6 -3.7M254.6 61.2q-1.5 -.6 -3.1 -.1M341.2 4.7q2.2 .1 3.7 1.7M222.1 81.2q-1.5 -.8 -2.3 -2.3M298.4 32.2q.2 -2.5 1.7 -4.4M267.5 47q1.9 3 4.4 5.5M192 91.5q2.1 1.5 4.6 1.4M125.5 123.8q2 -.5 3.4 -2.1M176.6 97q2.1 -2.2 5.1 -1.3M307.7 16.3q3.6 1.1 6.2 3.8M294.5 27.2q.3 -3.1 -1 -6M285.8 41.4q.2 -2.1 .3 -4.3M136.4 113.3q2 2.1 4.9 1.9M129.5 101.6q2.2 2.1 1.9 5.2M241.3 62.6q.8 2.4 2.5 4.3M323.4 11.2q2.7 3.4 -.5 6.3M137.8 107.3q3.9 -.2 5.4 -3.7M172.7 94.8q-.4 2.5 -1.6 4.7M318.2 10.6q-.6 2.6 -3.3 2.5M248.4 57.4q.8 -2.8 3.7 -3.2M196.9 85.1q0 4.1 -3.4 6.3M256.4 51.5q.9 -1.9 2 -3.7M338.3 7.6q-3.7 -1.2 -5.6 2.2M236.2 61.4q-1.6 2.3 -3.5 4.4M118.3 113.9q-2.1 -.5 -1.8 -2.7M285.3 43.5q-.3 -3 -1.9 -5.5M226 69q-1.8 1.7 -.2 3.6M279 19.7q-1.3 4 1.9 6.6M234.5 77.7q-.2 -5 -5.3 -5.2M249.4 58.3q.3 2.1 2.4 2.6"/>
<path filter="url(#od)" stroke="#ffdc00" stroke-width="2" d="M253.2 43.7q1.9 1.1 4 .6M114.6 117.5q2.4 -1.7 2.1 -4.6M248.2 45.6q.3 2.7 -2.4 3.2M172 92.9q-1.8 -1.8 -1.7 -4.4M154.5 104q-1.2 -2.9 -1.4 -6M132.6 105.5q-.5 -2.4 -3 -2.5M148.5 99q-.4 2.1 .9 3.9M184 81.8q2.1 -1.5 4.1 .1M242 53q-1.7 -2.1 -4.1 -1M192.7 73.4q1.2 2.3 2.6 4.6M204.8 57.2q0 -3.9 -3.8 -4.5M199.6 73.9q2.2 2.8 5.6 3.7M122.1 111.4q-2 -3.1 -5.4 -4.7M226.2 53.9q0 2 -1.1 3.7M148.9 90.7q2.4 -.1 4.7 -.7M193.7 60.3q.8 -3.6 4.2 -5.1M133 109.4q.2 1.6 -.6 3M120.4 120q-2.5 1.6 -4.6 -.6M120.6 110.7q3.7 -.1 6.4 -2.7M164.8 85.1q2.7 2.8 .4 6M200.3 57.3q3.4 2 7 3.6M157.2 96.5q-4 2.7 -7.5 -.7M154 92.4q-3.1 .3 -6.1 1.1M229.2 52.8q2.7 2.2 5.9 3.6M122 107.7q-2.9 -.9 -2.4 -3.9M102.3 119q-.7 3.6 2.9 4.3M194.3 65.5q1.4 1.4 3 2.6M193 76.3q-3.9 -.5 -3.4 -4.4M126.3 111.1q.7 -2 2.7 -1.4M158.6 90.4q.7 -2.1 -.4 -4M227.2 56.9q.7 2.2 3 1.8M239.3 45.8q-.4 1.8 -1.1 3.5M139.6 98.5q1.3 3 4.5 3.6M176.6 85.9q1.9 -4.2 6.5 -3.4M281.3 21.9q3.8 -1.1 6.7 -3.8M252.6 45.8q-3.8 -1.4 -4.1 -5.4M216.1 72.4q-.5 -4.9 -5.4 -5.3M179.4 90.7q-.1 -3 2.6 -4.4M205.8 70.6q-.5 3.7 -3.3 6.2M194.8 80.4q-4.7 1.8 -3.7 6.7M219.9 52.6q-.4 2.8 -3.2 3M224.9 62.5q-.6 -2.1 -2.1 -3.7M220.1 56q-2.3 2.7 -1 6.1M119.9 113.3q-2.7 2.7 -5.5 .2M199.7 64.3q-.2 -3.5 1.9 -6.3M213.4 52.3q-1.9 .5 -2.4 2.4M173.4 94q-1.2 -2.6 0 -5.3M232.8 52.8q-.2 -3.3 -1.4 -6.3M110.3 110.2q2 1.8 4 .1M167.9 85.2q.7 -3.4 3.4 -5.5M97.9 121.5q2.7 -2.5 4.7 -5.6M167.4 86.9q-2.1 -2 -4.8 -1M209.4 63.2q-2 3.9 -6.4 3.8M240.4 48.4q4 -1.9 4.9 -6.2M124.8 104.4q-1.7 2.7 -.6 5.6M139.9 113q1.1 -3 3.3 -5.4M137.5 113q2.3 -3.7 -1 -6.7M124.5 114.4q-1.6 3.4 -3.8 6.3M115.7 117.8q.9 1.7 1.5 3.6M131.4 105.1q-1 -2.1 -1.4 -4.4M203.7 79.5q.3 -3.1 1.5 -6M171.2 81.1q-2.5 1.1 -5.1 2M211.3 52.6q-1.1 1.6 -1.1 3.5M158 97.7q-.8 2.9 1.9 4.2M115.6 109q2.4 .4 4.7 1.3M243 42.9q-2.1 -3.5 .1 -7M141 102.4q1.8 -2.5 2.8 -5.4M247.7 47.9q1.5 -.3 3 -.4M149 90.6q-1.1 1.8 0 3.7M127.5 103.7q2.4 4.1 -1.6 6.7M165.1 92.8q1.1 1.6 2.9 2.6M170 94.6q3.6 -3.1 .7 -6.9M135.6 93.6q-2.1 4.1 1.1 7.4M162.6 99.5q-1.8 -1.6 -4.1 -2M110.5 121.3q-.1 2.2 -2.2 2.7M214.9 56.1q-2.6 -2.2 -6 -1.9M243 52.2q-2.4 2.1 -5.4 3M109.1 119.7q.4 -3.7 1.2 -7.4M213.9 60.6q-.2 1.5 -1 2.9M145.5 91.7q.9 -1.4 1.9 -2.7M232.5 43.8q1.5 -2.1 3.3 -3.9M210.1 56.6q-2.2 -1.8 -1.4 -4.5M136 107.4q-.2 -1.9 1.5 -2.7M198.1 70.9q2.3 -1.8 4.8 -.2M243.8 47.9q1.2 3 4.3 2.5M185.3 90.2q-2 -1.8 -1.6 -4.5M218.9 63.8q-1.8 -4.2 -6.5 -4.4"/><path stroke="#ffffb0" stroke-width=".6" transform="translate(-.3 -.3)" d="M253.2 43.7q1.9 1.1 4 .6M114.6 117.5q2.4 -1.7 2.1 -4.6M248.2 45.6q.3 2.7 -2.4 3.2M172 92.9q-1.8 -1.8 -1.7 -4.4M154.5 104q-1.2 -2.9 -1.4 -6M132.6 105.5q-.5 -2.4 -3 -2.5M148.5 99q-.4 2.1 .9 3.9M184 81.8q2.1 -1.5 4.1 .1M242 53q-1.7 -2.1 -4.1 -1M192.7 73.4q1.2 2.3 2.6 4.6M204.8 57.2q0 -3.9 -3.8 -4.5M199.6 73.9q2.2 2.8 5.6 3.7M122.1 111.4q-2 -3.1 -5.4 -4.7M226.2 53.9q0 2 -1.1 3.7M148.9 90.7q2.4 -.1 4.7 -.7M193.7 60.3q.8 -3.6 4.2 -5.1M133 109.4q.2 1.6 -.6 3M120.4 120q-2.5 1.6 -4.6 -.6M120.6 110.7q3.7 -.1 6.4 -2.7M164.8 85.1q2.7 2.8 .4 6M200.3 57.3q3.4 2 7 3.6M157.2 96.5q-4 2.7 -7.5 -.7M154 92.4q-3.1 .3 -6.1 1.1M229.2 52.8q2.7 2.2 5.9 3.6M122 107.7q-2.9 -.9 -2.4 -3.9M102.3 119q-.7 3.6 2.9 4.3M194.3 65.5q1.4 1.4 3 2.6M193 76.3q-3.9 -.5 -3.4 -4.4M126.3 111.1q.7 -2 2.7 -1.4M158.6 90.4q.7 -2.1 -.4 -4M227.2 56.9q.7 2.2 3 1.8M239.3 45.8q-.4 1.8 -1.1 3.5M139.6 98.5q1.3 3 4.5 3.6M176.6 85.9q1.9 -4.2 6.5 -3.4M281.3 21.9q3.8 -1.1 6.7 -3.8M252.6 45.8q-3.8 -1.4 -4.1 -5.4M216.1 72.4q-.5 -4.9 -5.4 -5.3M179.4 90.7q-.1 -3 2.6 -4.4M205.8 70.6q-.5 3.7 -3.3 6.2M194.8 80.4q-4.7 1.8 -3.7 6.7M219.9 52.6q-.4 2.8 -3.2 3M224.9 62.5q-.6 -2.1 -2.1 -3.7M220.1 56q-2.3 2.7 -1 6.1M119.9 113.3q-2.7 2.7 -5.5 .2M199.7 64.3q-.2 -3.5 1.9 -6.3M213.4 52.3q-1.9 .5 -2.4 2.4M173.4 94q-1.2 -2.6 0 -5.3M232.8 52.8q-.2 -3.3 -1.4 -6.3M110.3 110.2q2 1.8 4 .1M167.9 85.2q.7 -3.4 3.4 -5.5M97.9 121.5q2.7 -2.5 4.7 -5.6M167.4 86.9q-2.1 -2 -4.8 -1M209.4 63.2q-2 3.9 -6.4 3.8M240.4 48.4q4 -1.9 4.9 -6.2M124.8 104.4q-1.7 2.7 -.6 5.6M139.9 113q1.1 -3 3.3 -5.4M137.5 113q2.3 -3.7 -1 -6.7M124.5 114.4q-1.6 3.4 -3.8 6.3M115.7 117.8q.9 1.7 1.5 3.6M131.4 105.1q-1 -2.1 -1.4 -4.4M203.7 79.5q.3 -3.1 1.5 -6M171.2 81.1q-2.5 1.1 -5.1 2M211.3 52.6q-1.1 1.6 -1.1 3.5M158 97.7q-.8 2.9 1.9 4.2M115.6 109q2.4 .4 4.7 1.3M243 42.9q-2.1 -3.5 .1 -7M141 102.4q1.8 -2.5 2.8 -5.4M247.7 47.9q1.5 -.3 3 -.4M149 90.6q-1.1 1.8 0 3.7M127.5 103.7q2.4 4.1 -1.6 6.7M165.1 92.8q1.1 1.6 2.9 2.6M170 94.6q3.6 -3.1 .7 -6.9M135.6 93.6q-2.1 4.1 1.1 7.4M162.6 99.5q-1.8 -1.6 -4.1 -2M110.5 121.3q-.1 2.2 -2.2 2.7M214.9 56.1q-2.6 -2.2 -6 -1.9M243 52.2q-2.4 2.1 -5.4 3M109.1 119.7q.4 -3.7 1.2 -7.4M213.9 60.6q-.2 1.5 -1 2.9M145.5 91.7q.9 -1.4 1.9 -2.7M232.5 43.8q1.5 -2.1 3.3 -3.9M210.1 56.6q-2.2 -1.8 -1.4 -4.5M136 107.4q-.2 -1.9 1.5 -2.7M198.1 70.9q2.3 -1.8 4.8 -.2M243.8 47.9q1.2 3 4.3 2.5M185.3 90.2q-2 -1.8 -1.6 -4.5M218.9 63.8q-1.8 -4.2 -6.5 -4.4"/>
<path filter="url(#oc)" stroke="#00a5fa" stroke-width="1.6" d="M125.3 135q-2.5 -1.8 -1.9 -4.8M150.6 115.7q2 1.5 3.6 -.3M187 97.9q2.6 -1.2 4.1 -3.5M152.9 117.1q-.8 -4.3 3.3 -5.6M177.7 100.5q2 -1.8 4.2 -3.3M124.3 133.5q-2.4 .8 -3.1 -1.6M120.8 131.6q3.5 1.9 3.8 5.9M171.7 106.3q1.3 1.9 3.6 2M132.3 123.4q2 -1.2 3.8 -2.4M159.8 109.8q-1.6 1.5 -2.8 3.3M159.1 111.2q-2.1 -2.2 -4.8 -.7"/>
<path filter="url(#oc)" stroke="#00a5fa" stroke-width="2" d="M145.3 120.6q-4.3 -.9 -5.4 3.3M174.3 99.1q1.7 1.3 3.8 1M162.1 114.6q3.4 -2.9 2.2 -7.2M179.8 95.6q.9 3.1 2.7 5.8M173.4 98q2.9 .8 5.9 1.1M122 131.9q-.8 -3.9 2 -6.8M137.9 119.7q5 1.8 3.5 6.9M168.7 103.9q0 1.8 .6 3.5M161.7 107.3q1.6 -2.2 3.9 -.8M123.2 132.4q-2.1 -2.2 0 -4.4"/>
<path filter="url(#od)" stroke="#8c00a5" stroke-width="2" d="M259.3 57.1q.3 -2 .5 -3.9M256.2 52q-2.1 -2.4 -5 -1.1M220.1 70.9q-2.2 1.8 -5 1.3M233.8 64q1.1 -1.3 1.7 -3M120.1 130.9q-2.4 -3.9 -.3 -7.9M230.3 71.5q-4.2 .5 -7 -2.7M240.3 58q-2.1 .3 -3.5 1.7M232.4 71.6q1.7 -3.4 1.2 -7.2M187.7 89.1q-3.3 -2.9 -.7 -6.4M230.4 71.5q1.6 2.3 4.2 3.1M185.1 97.1q-3.4 -2.8 -1.2 -6.7M200.7 86.7q.7 3.4 4.2 3.3M257.8 49.4q.9 -2.8 3.8 -2.2M276.1 48.4q-2 -3.6 1.4 -5.9M289.9 29.6q2.3 .9 4.3 2.5M168.2 101.3q-4.3 .3 -4.4 4.6M174.4 93.6q-3.4 2.5 -4.1 6.7M213.3 81.4q.4 -1.9 1.9 -3.2M205.4 81.6q1.5 .5 3 1M217 76.8q.1 3.6 -3.4 4.3M266.9 29.2q1.4 -4.7 -3.2 -6.2M226.5 73q3 .3 4 -2.6M209.9 74.9q4.6 -1 6 3.4M258.8 52.1q2.5 -3.1 6.3 -2.1M177.6 87.2q2.5 3.5 6.8 3.9M203.2 86.8q3.4 1.4 5.6 -1.4M135.1 106.3q3.3 -1.3 5 1.8M278.9 44q.7 -2.1 2.2 -3.7M171.3 101.7q-2.9 -2.4 -6.5 -1.2M188 91.5q3.1 -1.9 4.6 -5.2M218.8 73.7q1.3 -2.1 3.5 -3.1M187.3 90.3q2.7 1.1 1.7 3.8M214.5 69.6q-3 .1 -3.4 3M241.3 59.4q3 -1.2 4.2 1.8M270.8 26.7q-2.2 1 -3.7 2.9M229.4 77.2q1.2 -4.7 -3 -7.2M153.8 105.2q4.3 .7 4.1 5.1M140 101.9q.1 -3.3 2.6 -5.6M183.1 94q-.5 1.9 -1.8 3.3M119.2 116q2.5 1.6 3.4 4.5M142.6 114.9q.3 -3.1 2.1 -5.7M161.8 100.9q-4.1 2 -4.5 6.5"/>
<path filter="url(#od)" stroke="#141ed7" stroke-width="2" d="M151.2 89q3.8 -1.4 5.4 2.3M170.9 100.5q-2 -.7 -3 -2.6M161.4 108.9q-2.1 -4 1.6 -6.5M100.8 116.6q1.3 -1.4 3.1 -.7M168 86.6q4.2 1.2 6.1 5.1M162.8 109.4q-1.7 2.2 -4.1 1M116.4 139q-1.6 -4.8 3.2 -6.7M245.7 50.4q1.1 1.5 1.2 3.3M226.6 63.2q-1.8 1.3 -3.7 2.5M155.9 104.8q-1.9 3.3 -3.9 6.5M181.3 101.3q-3.2 3.2 -7.5 1.7M136.6 105q-4 -1.4 -2.7 -5.4M237.3 51q.8 1.7 1.9 3.4M174 96.3q-3.3 1 -6 3.1M271.5 26.1q1.3 -1.2 3 -1.1M202.3 92.3q.6 -1.7 2.2 -2.5M126.3 118.2q-1.4 -4.4 -6 -3.6M231.5 70.5q-.3 2.5 1.5 4.2M192.8 85.4q1.8 -.2 3.5 -1M182.7 90.4q2.6 0 5.1 .4M144.5 113.7q.5 -3.8 2.2 -7.3M125.4 134.8q-3.8 1.1 -7.2 -.8M193.8 97.5q-1.8 -1.5 -.8 -3.7M203.3 87.3q-.8 -1.5 -2.1 -2.6M268.4 25.7q-3.7 -3.1 -1.4 -7.4M174.9 96.3q.2 -1.8 .5 -3.5M185.1 98.6q-1.4 .8 -2.5 2M175.4 100.9q-3.3 -.1 -6.2 -1.6M158.1 108.2q3.4 1.7 6.5 3.9"/>
<path filter="url(#od)" stroke="#141ed7" stroke-width="1.6" d="M273.8 53.1q-2.1 -.3 -1.9 -2.4M161.6 100.3q-3 -2.2 -1.2 -5.4M131.4 111.1q-1 -3.3 -.9 -6.7M160.8 107.1q2.5 -.2 5.1 .1M181.3 99q1.4 -.9 1.9 -2.5M172.6 105.4q-1.2 -1.2 -2.7 -2M169.7 107.8q-.9 3.7 -4.6 4.7M234.9 47q.1 2.7 1.3 5.2M160.8 108.2q1.8 1.4 3.2 3.2M294.1 28.4q-4.3 2.4 -7.2 -1.6M154.4 114.9q-.2 3 .1 6M259.1 63.8q-4.5 1 -6.9 -2.9M247.4 62.1q2.4 -1.1 4.9 -.4M108.9 116.2q-3.5 -1.2 -6 -4.1M239 64.4q5.1 .6 4.9 5.7M177.9 101.1q-3 2.6 -4.6 6.3M119.7 110.3q2.4 1 5 .8M281 44.6q2.1 1.9 .7 4.4M202.4 83q-2.6 -3.7 -.9 -7.8M196.8 71.4q-2.5 1.3 -4.7 -.4M270.6 47q1 2.2 2.5 4.1M295.9 7.6q-1 -2 -2.1 -4M273.7 54.3q-2.5 .3 -5.1 .4M195.3 92.7q.1 -2.9 -2.3 -4.5M200.2 84q-.8 -2.1 1.2 -3.2M279.3 15.5q2.2 1.3 4.1 -.5M127.8 124.4q.5 4.4 -3.1 6.9M137.7 112.3q2.6 -2 5.5 -.6M255.9 58q-1.1 2.2 -3.3 1.3M223 77q-.6 2.2 1.1 3.8M189.3 91.6q-.9 3.2 -1.4 6.5M137.9 120.1q-.9 2.5 -3.4 1.6M209.7 88.6q-.5 -3.3 -3.3 -5.3"/>
<path filter="url(#od)" stroke="#ff9100" stroke-width="2" d="M166.4 98.5q-1 -3.1 1.5 -5.2M106 118.4q1.6 -2.1 3.8 -3.5M240.4 52.7q-1.6 3.3 -2.8 6.6M223.9 54.3q-.4 2.8 -2.2 4.9M254 36.1q-2.1 -2 -4.4 -3.9M258.2 30.2q-2.3 -.9 -4.7 -1M262.4 25.8q-2 .4 -3.9 .7M158.2 98.9q.9 -3.6 4.7 -3.2M199.7 79.6q1.1 -3.9 1.6 -7.8M235.5 52.4q-3.6 3.1 -7.7 .7M197.9 73q1.5 -3.3 2.3 -6.8M263.1 29.6q2 2.2 4.7 3.2M142.7 101.1q-2.3 -.4 -4.6 -.2M134.6 104.4q2.3 4.4 -1.3 7.8M294.5 16.8q2.7 -2.7 2.9 -6.6M139.8 97.9q2.6 1.9 4.9 4.2M200.4 74.2q-2 .8 -4 1.6M271.6 32.5q1.4 3.3 4.3 5.4M199 61.9q2 -1.7 3.7 .2M136.4 97.1q3.5 .1 4.4 -3.4M267.9 39.1q-2.6 -1.4 -4.8 .5M272.6 37.8q2.4 .9 3.5 -1.4M293.9 19.5q-4.1 0 -7.2 -2.7M101.3 121.1q-1 -2.3 -3.3 -1.6M125 116.8q-2.5 .7 -3.4 3.1M152.9 93.5q1.1 1.9 2.4 3.6M116.9 120q-.5 2.6 -1.7 4.9M247.2 42.4q4.1 -.7 7.8 1.4M273.4 37.6q-4.7 -.1 -6.4 -4.4M239.1 54.4q-.6 -2 -2.4 -3M197.1 66.5q-2.3 .4 -2.4 2.7M273.8 17q1.7 -.9 3.5 -.2M243.2 43.4q3 .1 5.3 -2"/>
<path filter="url(#od)" stroke="#ffbe00" stroke-width="2" d="M239.4 53.6q-4.2 -2.3 -6.8 1.8M189.7 80.3q-3.6 -3.1 -1.9 -7.6M241.9 47.5q-.7 -2 .4 -3.8M141.3 95.7q2.4 .8 4.3 2.6M237.4 45.6q3.8 .3 6.7 2.8M245.6 39.8q4.2 .6 6.7 -2.7M118.7 105.4q2.1 .7 4.1 -.2M115.6 118.4q-2.6 2.6 -5.9 1M103.5 120.9q3.5 -2.2 2.5 -6.2M255.4 43.8q.9 3.2 4.1 4.1M160.1 88.9q-3.6 -.2 -7.1 -.6M235.7 47.3q-4.1 1.2 -3.7 5.4M198.1 57.9q4.2 .2 4.4 4.4M202.4 68.7q-.8 2.1 -3 1.7M166.6 93.6q1 -4 5 -3.2M245.4 43.7q-2.4 -1.8 -4.2 -4.2M258 44.9q-.9 -3.2 -1.4 -6.6M196.5 67.8q2.1 -.7 4 -1.8M225.2 64.5q-1 -1.7 -2.4 -3.2M226.4 59.8q-2 -3.4 .3 -6.6M187.8 66.1q2.8 -1.8 4.4 -4.7M133.2 100.6q-2 4.4 -6.6 3M211.6 63.6q-.2 -3.6 -3.4 -5.5M126.7 113.4q-1.4 1 -1.7 2.7M264.3 26.9q.3 -3.4 -2.8 -4.6M173 89.8q-4.8 1.9 -7.5 -2.6M259.8 39.8q3.5 2.8 7.1 .2M145.8 103.9q-1.7 2.5 -2.4 5.5M130.7 103.8q.8 -2.2 3 -1.6M212.2 56.1q1.5 1.4 3.2 2.6M191 64.8q1.8 -1.6 3.8 -3M130.1 112q2.2 1.4 2.9 3.9M267.8 27.1q3.2 -3 7.5 -1.6M197 60.1q-4.1 1.8 -4.6 6.2M156.2 99.6q-.5 1.8 -.5 3.7M257.3 39.8q2.8 2.8 6.6 3.8M279 15.6q.7 -2.1 -1.2 -3.2M125.4 108.3q-.1 3.5 3.3 4.5M139.9 104.3q2.9 .6 4.7 -1.8M175.1 87.2q-4.8 .6 -4.4 5.4M262.1 22.6q2.2 1 4.4 .1M269.4 34.7q-4 .8 -4.7 4.8M140.9 102.8q5.2 -.4 6.3 4.7M163.2 94.7q-2.9 -.7 -4.6 -3.2M262.3 39.8q-1.3 1.5 -3.2 1.8M221.1 52q1.5 2.6 .8 5.5M240.2 47.4q3.6 -1.6 5.4 1.9M231.6 42.2q1.9 1.3 3.5 3M178 85.9q2.8 1.9 5.3 -.3M146.8 110.1q1.9 -2.3 -.1 -4.6M260.5 21.9q.6 2.4 1.9 4.6M255.1 43.1q2.6 -.1 5.2 -.5M252.9 49.2q-2.3 -.8 -3.6 -2.9M120.7 109.8q-2.1 -1.5 -4 .2M134.5 100.6q2.1 2 1.6 4.9M261.5 39.4q3.3 -.7 6.2 1M193.6 64.5q-3.1 -2 -6.8 -2.6M189.8 79.9q-.6 -3.8 -2.5 -7.2M184.7 83.6q2.4 .6 3.7 2.8M276.5 28.3q3.2 -1.7 4.7 -5M202.3 75.4q1.5 -1.7 3.7 -1M205.5 62.6q1.5 .4 3 .8M195.6 61.3q-4.3 1.5 -2.9 5.8M116 118.7q2.5 -1.5 4.4 .6"/><path stroke="#ffffb0" stroke-width=".6" transform="translate(-.3 -.3)" d="M239.4 53.6q-4.2 -2.3 -6.8 1.8M189.7 80.3q-3.6 -3.1 -1.9 -7.6M241.9 47.5q-.7 -2 .4 -3.8M141.3 95.7q2.4 .8 4.3 2.6M237.4 45.6q3.8 .3 6.7 2.8M245.6 39.8q4.2 .6 6.7 -2.7M118.7 105.4q2.1 .7 4.1 -.2M115.6 118.4q-2.6 2.6 -5.9 1M103.5 120.9q3.5 -2.2 2.5 -6.2M255.4 43.8q.9 3.2 4.1 4.1M160.1 88.9q-3.6 -.2 -7.1 -.6M235.7 47.3q-4.1 1.2 -3.7 5.4M198.1 57.9q4.2 .2 4.4 4.4M202.4 68.7q-.8 2.1 -3 1.7M166.6 93.6q1 -4 5 -3.2M245.4 43.7q-2.4 -1.8 -4.2 -4.2M258 44.9q-.9 -3.2 -1.4 -6.6M196.5 67.8q2.1 -.7 4 -1.8M225.2 64.5q-1 -1.7 -2.4 -3.2M226.4 59.8q-2 -3.4 .3 -6.6M187.8 66.1q2.8 -1.8 4.4 -4.7M133.2 100.6q-2 4.4 -6.6 3M211.6 63.6q-.2 -3.6 -3.4 -5.5M126.7 113.4q-1.4 1 -1.7 2.7M264.3 26.9q.3 -3.4 -2.8 -4.6M173 89.8q-4.8 1.9 -7.5 -2.6M259.8 39.8q3.5 2.8 7.1 .2M145.8 103.9q-1.7 2.5 -2.4 5.5M130.7 103.8q.8 -2.2 3 -1.6M212.2 56.1q1.5 1.4 3.2 2.6M191 64.8q1.8 -1.6 3.8 -3M130.1 112q2.2 1.4 2.9 3.9M267.8 27.1q3.2 -3 7.5 -1.6M197 60.1q-4.1 1.8 -4.6 6.2M156.2 99.6q-.5 1.8 -.5 3.7M257.3 39.8q2.8 2.8 6.6 3.8M279 15.6q.7 -2.1 -1.2 -3.2M125.4 108.3q-.1 3.5 3.3 4.5M139.9 104.3q2.9 .6 4.7 -1.8M175.1 87.2q-4.8 .6 -4.4 5.4M262.1 22.6q2.2 1 4.4 .1M269.4 34.7q-4 .8 -4.7 4.8M140.9 102.8q5.2 -.4 6.3 4.7M163.2 94.7q-2.9 -.7 -4.6 -3.2M262.3 39.8q-1.3 1.5 -3.2 1.8M221.1 52q1.5 2.6 .8 5.5M240.2 47.4q3.6 -1.6 5.4 1.9M231.6 42.2q1.9 1.3 3.5 3M178 85.9q2.8 1.9 5.3 -.3M146.8 110.1q1.9 -2.3 -.1 -4.6M260.5 21.9q.6 2.4 1.9 4.6M255.1 43.1q2.6 -.1 5.2 -.5M252.9 49.2q-2.3 -.8 -3.6 -2.9M120.7 109.8q-2.1 -1.5 -4 .2M134.5 100.6q2.1 2 1.6 4.9M261.5 39.4q3.3 -.7 6.2 1M193.6 64.5q-3.1 -2 -6.8 -2.6M189.8 79.9q-.6 -3.8 -2.5 -7.2M184.7 83.6q2.4 .6 3.7 2.8M276.5 28.3q3.2 -1.7 4.7 -5M202.3 75.4q1.5 -1.7 3.7 -1M205.5 62.6q1.5 .4 3 .8M195.6 61.3q-4.3 1.5 -2.9 5.8M116 118.7q2.5 -1.5 4.4 .6"/>
<path filter="url(#oc)" stroke="#1ed2ff" stroke-width="1.6" d="M185.6 99.7q-2.3 -.9 -3.4 1.4M171.7 103.6q.9 2.9 .1 5.9M123.2 134.2q-.8 -2.8 1.2 -4.9M131.4 124.7q2.8 -1.3 1.9 -4.3M130.3 129.8q2.5 -.8 5.1 -1.2M169.6 105.3q2.8 -2 1.7 -5.2M154.7 114.7q2.2 -1.8 1.8 -4.5M165.6 105.1q2.4 -1.7 4.3 -4M174.8 106.8q-3.3 -1.4 -6.9 -1.2M142.9 118.4q1.7 2.4 3.9 4.3M165.6 111.8q-1.6 -4.6 2.9 -6.4M148.9 123.6q-3.4 -2 -7.2 -3.1M143.8 115.9q3.8 .1 4.2 3.9M121.3 128.9q-.9 3.3 1.7 5.6M200.1 92.6q2.5 -2.7 6.2 -2.3M171.1 101.4q2.8 -.3 4.4 -2.6M159.4 110.2q3.3 .4 5.2 3.2M151.9 119.8q-2.8 -.3 -2.6 -3.1M168.4 106.7q0 -2.1 -1.5 -3.6M183.3 100.6q-.9 3.7 -4.3 5.3M122.8 134.9q-.4 -4.7 -5 -5.7M143.9 119.6q.1 2.5 1.9 4.2M173.7 101.7q-2.5 -.6 -4.7 .6"/>
<path filter="url(#od)" stroke="#eb0f14" stroke-width="1.2" d="M305.2 14q2.1 -3.8 2 -8.2M339.1 7.5q-.5 4.5 3.8 5.7"/>
<path filter="url(#od)" stroke="#ff9100" stroke-width="1.6" d="M211.4 68.8q1.3 1.7 1.1 3.9M242.3 40.3q-.8 2.1 -2.1 4M198 71.4q-2.1 .7 -3.5 -1.1M319.7 12.4q-.3 -1.4 .2 -2.8M151.2 97.1q-.3 1.7 -1.9 2.2M224.4 50.9q1.1 -1.8 2.6 -3.1M266.7 26.2q1.5 -1.9 3.5 -3.3M247.6 47.7q1.2 -3 3.3 -5.5M267.4 35.8q1.7 .1 2.7 1.5M285.1 31.9q-2.5 .6 -4.2 -1.3M163.1 95q1.8 .6 3.1 2.1M257.8 26.7q1.5 -1.8 3.7 -.8M135.8 110.1q-1.5 2.4 -2.6 5M314.6 16.3q.7 -2.7 2.1 -5.2M282 24.6q-2.8 .8 -5.7 .6M193.7 63q-2.3 .9 -4.7 .9M266.9 25.5q.5 -3.3 -.9 -6.4M307.7 2.1q-2.3 1.5 -4.8 2.7M205.6 80.2q-3.6 -1.8 -3.7 -5.9M263.3 44.3q-2.1 -1.5 -3.3 -3.7M266.7 47.6q3.9 .1 4.2 -3.8M240.6 52.8q-3.9 1.1 -5.4 -2.7M280.9 21.8q-.5 -2.7 1.2 -4.9M248.6 37.6q-2.4 0 -4.5 -1M261.9 33.3q1.5 -2.1 .2 -4.3M307.7 14.9q1.9 1.1 3.7 -.2M263.8 34q2.3 -1.9 3.2 -4.7M252.1 45.4q2.4 .4 3.5 -1.8M231.3 53.5q-.7 -1.6 -1.1 -3.2M228.8 62.7q-.6 -2.5 -2.1 -4.6M210.2 59.3q1.6 -1.5 3.8 -1.3M284.4 31.4q-1.2 -.3 -1.8 -1.3M299.4 28.2q.2 -3 -1 -5.7M284.2 32.2q1.3 -1.8 2.4 -3.7M259.4 32.3q-.8 2.8 1.7 4.2M257.4 45.1q1.9 .6 3.8 .1M246.5 44.2q-1 -.6 -1.2 -1.7M328 6.4q-1 -1.2 -1.7 -2.7M297.6 7.3q2.9 -.5 3.1 -3.4M149.5 91.7q2.5 -1.3 5.4 -1.2M235.2 56.9q-1 1.7 -2.9 2.2M212.5 68q-2.1 -.8 -4.2 -.1M207.6 71.2q2.3 -.3 4.4 -1.1M245.2 56.4q2.8 -1.2 4.7 -3.4M276.7 28.2q-1.6 3.4 -5.3 2.7M136.4 97.2q1.6 0 2.8 -.9M322.9 4.5q1.4 1.9 3.7 2M274.8 16.9q2.2 .9 2 3.3M264.4 36.8q-1.9 1.8 -4.4 1.2M262.5 42.2q-1.4 -.6 -2.2 -1.9M260.5 39.6q.7 2.3 2.4 3.9M186.6 84q1.3 .8 2.8 .7M289.6 11.8q-.7 -1.1 -.1 -2.4M171.3 88.1q.4 1.6 -.7 2.7M243.1 48.9q-1.8 1.6 -1.7 3.9M345.3 .8q-2.4 -1.8 -4.5 .3M296.6 24.8q-1.5 -.2 -2.3 -1.6M292.1 3.8q.7 2 2.8 2.1M150.1 102.4q1 .8 1.7 1.8M251.2 50q-.7 -1.2 .1 -2.3M282 29.3q-3.3 -.1 -6.6 -.7"/>
<path filter="url(#oc)" stroke="#1ed2ff" stroke-width="1.2" d="M134.2 126.9q-.9 -1.4 -.8 -3M125.2 128.8q0 -1.5 1.4 -2.1M183.9 103.3q-2.2 -2.8 -2.9 -6.4M168.7 111.9q1.6 -3.7 -2 -5.5M194.8 95.8q3.9 0 4.8 -3.8M140.7 120q1.7 -2.2 4.2 -3.4M125.5 134.5q-2.2 .4 -3.3 -1.6M130.5 127.8q.2 4 4.2 3.9M178.5 98.9q-2.3 .7 -4.5 1.7M120.5 135.7q.5 -2.1 -.3 -4.1M187.1 98.2q-.1 1.5 -1.6 1.9M155.1 110.1q-1.8 2.1 -.7 4.7M179.4 104.1q-2.2 -1 -3.8 .9M152.7 119q-1 .2 -2 .1M165.4 107.4q1.2 3.6 -.8 6.9M125.7 127.6q1 .4 1.8 1.2M182.5 94.5q-1.1 2.1 -.2 4.3M120.9 131.2q-.8 1.1 -2.2 .7M142 121.8q-1.2 -.7 -2.1 .3M186.9 95.5q2 3.1 5.5 2.2M125.9 129.2q-2.4 2.6 -.3 5.4"/>
<path filter="url(#od)" stroke="#fff45a" stroke-width="1.2" d="M192.7 82q-.6 2.1 -2.8 2.3M204.3 59.7q-1.9 1.3 -4 2.4M124.1 104.2q.6 -2.4 2.7 -3.8M132.2 107.3q-2.9 -2 -5.4 .6M139.4 93.9q3.4 .2 4.6 3.3M196.3 62.2q2 -2.3 2.4 -5.4M298.5 7.1q1.8 2.6 1.6 5.8M176.1 84.3q-.4 1.5 -1.8 2.4M199.4 79.7q-2.7 -.1 -2.8 -2.8M175.1 89q-1.2 3.4 -4.7 4M146 110.7q-.3 -2.3 -2.3 -3.5M198.7 73.8q-1.4 -.1 -2.5 -1M208.6 56.6q-.5 -4.3 3.7 -5M168.7 93.7q.2 3 3.1 3.7M208 54.3q.8 1.2 .8 2.6M188.1 70.1q.9 -1.1 1.3 -2.5M202.8 74.2q-1.3 .3 -2 1.4M135.3 106q4.3 -.4 5.3 -4.6M121.8 119.1q.3 -3.1 1 -6.1M154.9 89.5q1.5 -.3 2.6 .7M168.5 86.8q-1.3 .5 -2.2 1.6M205 57.9q0 -1.8 -.4 -3.6M185.8 69.6q2.9 -1.8 5.7 -3.7M118.8 107.9q1.5 -2 3.1 -3.9M229.4 55.2q-3.1 1.1 -5.9 2.9M229.6 48.6q1.6 -2.1 4 -3.5M156 95.7q2.3 -1.9 5.3 -2M213.7 51.9q1.6 3.1 3.9 5.7"/>
<path filter="url(#od)" stroke="#ffbe00" stroke-width="1.6" d="M239.2 47.9q.6 -1.2 1.7 -1.9M162 86.7q-.9 1 -2.3 1.1M245.9 35.8q1.2 .7 2.5 .1M285.3 20.4q2 -2.8 2.8 -6.2M212.3 56.5q-.2 -1.7 .6 -3.1M224.9 56.5q2.9 -.2 4 -2.9M175 91.2q-1.8 -2.4 -4.1 -4.3M122.4 104.8q-1.5 .1 -3.1 .4M126.3 105.8q-1.4 2.1 0 4.2M284.2 27.1q-.5 2 0 4.1M118.8 105.8q-.4 3.8 -3.9 5.2M214.7 57q-1 2.8 -3.4 4.6M331 -.6q3.1 .2 4.8 2.8M116.3 120.4q1.9 -.6 3.7 .3M165.6 88.2q-2.2 -2.1 -.4 -4.5M186.7 66.6q1.7 -.1 2 1.7M222.1 54.4q1.7 -2.2 1.5 -4.9M179.2 87.9q1.7 -3.3 .5 -6.9M274.6 17.2q1.3 -1.8 2.3 -3.8M246.5 42.7q2.9 -1.1 4.6 1.5M254.3 41.4q3.5 2.2 2.8 6.3M241.3 53.4q-2.3 -1 -3.5 1.2M274.4 19.9q1.8 1.1 1.4 3.1M241 45.4q-.4 1.9 -.7 3.8M275.6 17.3q2.9 -1.6 5.9 -2.9M269.8 30q1.1 -1.1 1 -2.8M155.1 104.9q-2.7 -.2 -2.6 -2.9M139.4 107.9q-.9 3.1 -4.1 3.6M125.9 109.4q.9 1.6 1.9 3.1M234.6 49.3q-1.8 2.1 -3.8 4.1M167.7 85.3q1.6 -1.7 2.8 -3.8M277.6 27.2q2.8 .4 5.5 -.5M126.6 104.5q2.2 1.2 2.1 3.8M234.2 50.8q.5 1.2 0 2.4M297.3 18.8q-.4 -2.9 1.4 -5.3M220.6 55.6q-1.4 .9 -2.9 .2M122 103.5q-1.5 1.5 -3.3 2.6M321.6 6.3q-.2 3.8 3.5 4M270.3 39.7q.9 -3.8 4.8 -4.7M165.6 87.2q-1.1 -1.6 -.9 -3.5M212.6 56.3q-3.2 -.2 -3.9 -3.2M173.7 90.3q-2.3 -1.1 -4.4 -2.4M286.2 26.5q-1.6 3.6 1.6 5.8M183.2 76.1q2.8 .3 4.9 -1.7M305.1 12.5q-1.5 -1 -1.7 -2.8M233.5 56.7q-1.5 -1.8 -3.4 -3.1M150.7 102.9q-1.1 -3.4 -4.5 -2.7M140.3 109.4q.9 .8 1.8 1.6M122.3 114.7q-3.5 1.4 -4.3 5M111.3 119q-.5 1.9 -2.4 2.2M163.3 84.7q1.4 -.1 1.3 -1.5M139.1 106.1q3.2 -.6 4.8 2.3M146.2 94.3q-1 -2.3 .1 -4.6M247.9 37.8q-.3 -2.8 .9 -5.4M230.9 55.6q-1.4 1.9 -3.3 3.5M201.7 70q-2.4 -.1 -3.3 2.1M261.6 45.8q-2.5 -2.2 -.7 -4.9M138.2 101.7q.5 3.5 3.6 5.3M223.1 54.8q-1.2 .7 -1.4 2M165.8 99.4q1.4 -1.7 .6 -3.7M148.8 105.4q-1.8 -3.7 1.6 -5.9M121.3 106.4q.5 -1.3 0 -2.5M184.7 73.7q-4.4 1.8 -2.9 6.3M266.6 23.5q3.1 1.6 6.5 2.3M233.8 50.7q1.6 2.9 .6 6.1"/><path stroke="#ffffb0" stroke-width=".5" transform="translate(-.3 -.3)" d="M239.2 47.9q.6 -1.2 1.7 -1.9M162 86.7q-.9 1 -2.3 1.1M245.9 35.8q1.2 .7 2.5 .1M285.3 20.4q2 -2.8 2.8 -6.2M212.3 56.5q-.2 -1.7 .6 -3.1M224.9 56.5q2.9 -.2 4 -2.9M175 91.2q-1.8 -2.4 -4.1 -4.3M122.4 104.8q-1.5 .1 -3.1 .4M126.3 105.8q-1.4 2.1 0 4.2M284.2 27.1q-.5 2 0 4.1M118.8 105.8q-.4 3.8 -3.9 5.2M214.7 57q-1 2.8 -3.4 4.6M331 -.6q3.1 .2 4.8 2.8M116.3 120.4q1.9 -.6 3.7 .3M165.6 88.2q-2.2 -2.1 -.4 -4.5M186.7 66.6q1.7 -.1 2 1.7M222.1 54.4q1.7 -2.2 1.5 -4.9M179.2 87.9q1.7 -3.3 .5 -6.9M274.6 17.2q1.3 -1.8 2.3 -3.8M246.5 42.7q2.9 -1.1 4.6 1.5M254.3 41.4q3.5 2.2 2.8 6.3M241.3 53.4q-2.3 -1 -3.5 1.2M274.4 19.9q1.8 1.1 1.4 3.1M241 45.4q-.4 1.9 -.7 3.8M275.6 17.3q2.9 -1.6 5.9 -2.9M269.8 30q1.1 -1.1 1 -2.8M155.1 104.9q-2.7 -.2 -2.6 -2.9M139.4 107.9q-.9 3.1 -4.1 3.6M125.9 109.4q.9 1.6 1.9 3.1M234.6 49.3q-1.8 2.1 -3.8 4.1M167.7 85.3q1.6 -1.7 2.8 -3.8M277.6 27.2q2.8 .4 5.5 -.5M126.6 104.5q2.2 1.2 2.1 3.8M234.2 50.8q.5 1.2 0 2.4M297.3 18.8q-.4 -2.9 1.4 -5.3M220.6 55.6q-1.4 .9 -2.9 .2M122 103.5q-1.5 1.5 -3.3 2.6M321.6 6.3q-.2 3.8 3.5 4M270.3 39.7q.9 -3.8 4.8 -4.7M165.6 87.2q-1.1 -1.6 -.9 -3.5M212.6 56.3q-3.2 -.2 -3.9 -3.2M173.7 90.3q-2.3 -1.1 -4.4 -2.4M286.2 26.5q-1.6 3.6 1.6 5.8M183.2 76.1q2.8 .3 4.9 -1.7M305.1 12.5q-1.5 -1 -1.7 -2.8M233.5 56.7q-1.5 -1.8 -3.4 -3.1M150.7 102.9q-1.1 -3.4 -4.5 -2.7M140.3 109.4q.9 .8 1.8 1.6M122.3 114.7q-3.5 1.4 -4.3 5M111.3 119q-.5 1.9 -2.4 2.2M163.3 84.7q1.4 -.1 1.3 -1.5M139.1 106.1q3.2 -.6 4.8 2.3M146.2 94.3q-1 -2.3 .1 -4.6M247.9 37.8q-.3 -2.8 .9 -5.4M230.9 55.6q-1.4 1.9 -3.3 3.5M201.7 70q-2.4 -.1 -3.3 2.1M261.6 45.8q-2.5 -2.2 -.7 -4.9M138.2 101.7q.5 3.5 3.6 5.3M223.1 54.8q-1.2 .7 -1.4 2M165.8 99.4q1.4 -1.7 .6 -3.7M148.8 105.4q-1.8 -3.7 1.6 -5.9M121.3 106.4q.5 -1.3 0 -2.5M184.7 73.7q-4.4 1.8 -2.9 6.3M266.6 23.5q3.1 1.6 6.5 2.3M233.8 50.7q1.6 2.9 .6 6.1"/>
<path filter="url(#od)" stroke="#fff45a" stroke-width="1.6" d="M152.6 95.4q-2.2 2.4 -5.4 3.2M176.1 86.1q.5 1.1 -.2 2M223 67.1q-.4 -2.4 -2.3 -3.8M194 80.9q2.2 -2.8 -.2 -5.3M172.1 82.2q2.2 .4 4 -1.1M137.1 101.5q3.9 -1.6 2.3 -5.5M235.9 46.4q-1.3 -2.7 -2 -5.5M144.1 96.2q-.1 2.2 1.3 3.8M196 73q-1.7 .7 -3.5 1M151.6 96.6q1.7 -1 3.4 -.1M139.6 104.9q2.3 -3.1 -.3 -6M130.5 112.5q-2.1 .1 -4 1M234 44.6q-1.9 -2 -1.9 -4.7M106.3 120.9q-1.8 -.3 -2.6 -2M203.9 66.5q-2 -.5 -4 .2M184.1 90.5q-.9 -2.3 .2 -4.6M153.1 102.3q-2.5 .3 -4.9 .4M211.3 52.6q-1.1 1.7 -3 .9M198.8 56.8q-.8 1.2 .4 2.1M153.5 98.8q-1.4 -.4 -1.5 -1.9M180.1 81.2q1.5 .1 2.6 -.9M236.9 37.5q1.1 2.3 2.4 4.6M245.1 51.2q-1 1 -.7 2.5M201.5 72.3q-2.4 -2.2 -5.4 -3.6M121.4 118.9q-.7 -1.7 .9 -2.5M176.6 89.3q1.6 -1.6 2.2 -3.7M271.3 28.9q-1.2 1.8 -3.1 .7M118.8 111.3q-.6 -1.9 -2.6 -1.9M134.5 108.6q.1 3.1 3.1 3.5M114.5 111.2q4 -.3 4.8 3.7M195 76.9q.3 3.4 -3 4.4"/><path stroke="#ffffb0" stroke-width=".5" transform="translate(-.3 -.3)" d="M152.6 95.4q-2.2 2.4 -5.4 3.2M176.1 86.1q.5 1.1 -.2 2M223 67.1q-.4 -2.4 -2.3 -3.8M194 80.9q2.2 -2.8 -.2 -5.3M172.1 82.2q2.2 .4 4 -1.1M137.1 101.5q3.9 -1.6 2.3 -5.5M235.9 46.4q-1.3 -2.7 -2 -5.5M144.1 96.2q-.1 2.2 1.3 3.8M196 73q-1.7 .7 -3.5 1M151.6 96.6q1.7 -1 3.4 -.1M139.6 104.9q2.3 -3.1 -.3 -6M130.5 112.5q-2.1 .1 -4 1M234 44.6q-1.9 -2 -1.9 -4.7M106.3 120.9q-1.8 -.3 -2.6 -2M203.9 66.5q-2 -.5 -4 .2M184.1 90.5q-.9 -2.3 .2 -4.6M153.1 102.3q-2.5 .3 -4.9 .4M211.3 52.6q-1.1 1.7 -3 .9M198.8 56.8q-.8 1.2 .4 2.1M153.5 98.8q-1.4 -.4 -1.5 -1.9M180.1 81.2q1.5 .1 2.6 -.9M236.9 37.5q1.1 2.3 2.4 4.6M245.1 51.2q-1 1 -.7 2.5M201.5 72.3q-2.4 -2.2 -5.4 -3.6M121.4 118.9q-.7 -1.7 .9 -2.5M176.6 89.3q1.6 -1.6 2.2 -3.7M271.3 28.9q-1.2 1.8 -3.1 .7M118.8 111.3q-.6 -1.9 -2.6 -1.9M134.5 108.6q.1 3.1 3.1 3.5M114.5 111.2q4 -.3 4.8 3.7M195 76.9q.3 3.4 -3 4.4"/>
<path filter="url(#od)" stroke="#0064f0" stroke-width="1.2" d="M156.9 106.7q1.1 -2 -.7 -3.4M200.9 91.9q-.3 -1.8 -2 -2.5M228.1 75.5q2.3 .8 2.4 3.2M127.2 121.5q0 2.3 -2.2 2.9M241.8 68.8q1.2 -1.4 2.6 -.3M219.1 82.7q-.7 -3 2.3 -3.8M150.9 118.6q-2.4 -1.1 -4.7 -2.5M232 75q-.8 1.1 -2.2 .9M250.7 63.9q.8 -1.7 -.5 -3M255.1 59.1q-.5 1.7 .1 3.4M214 78.5q-.1 1.9 .2 3.8M233.5 72.6q.6 1.9 2.1 3.3M119.7 123.1q-.2 1.1 .2 2.1M173.9 98.7q-.4 2.2 -.9 4.3M134.1 119.7q.7 -2.3 3.2 -1.9M195.1 89q3.5 1.5 3.2 5.2"/>
<path filter="url(#od)" stroke="#8c00a5" stroke-width="1.6" d="M175.2 97.2q2 -.9 3.5 -2.5M189.4 72.7q-1.6 1.4 -3.5 2.3M174 97.9q-3 .4 -3.4 -2.6M241.9 64.7q-3.2 2.7 -.9 6.2M215.4 77.8q-.8 -2.6 -2.8 -4.4M237 65.8q-.2 -2.8 -2.9 -3.7M247.3 68.9q-2.2 -1 -3.2 -3.1M257.6 61.9q-3.4 -.1 -3.9 -3.5M268.3 47.1q-1.1 -2.7 .6 -5.1M184.3 90.3q.5 -1.1 .3 -2.2M201.6 70.5q-3.6 -2.3 -2.4 -6.4M240.8 42.7q3.1 -.5 6.3 -.4M331.5 12q-1.9 1.3 -4.2 1.3M179.3 97.3q-1.7 -1 -1.2 -2.9M258.7 52q-.2 -2.6 1.7 -4.2M228.7 63.6q.7 -1.4 1.8 -2.5M352.9 .5q1.4 -1.9 3.7 -2.6M131.6 117.1q1.6 1 .8 2.6M218.8 73.4q2 -1.8 1.5 -4.5M230.1 68.5q.6 -2.6 1 -5.2M135 110.4q-.6 1 -1.2 1.9M201.3 81.4q1 -1.6 2.5 -2.9M197.6 85.3q3.1 -.9 6.3 -.6M249.2 55.6q.8 -2 2.9 -1.5M235 57.4q1.9 1.1 1.5 3.2M129.5 119.9q-.1 -2.2 1.8 -3.2M248.8 63q-.7 3.1 2.1 4.7M205.8 82.9q1.4 .5 2.4 1.6M210.5 83.7q-.2 -3.2 -1.4 -6.2M161.8 103.4q.8 -1.1 .6 -2.4M260.3 29.5q2.8 -.5 3 -3.4M208.8 80.8q-1.3 1.5 -1.7 3.5M128 116.1q-1.4 -.5 -2 -2M252.2 35.7q.4 2.2 -1.2 3.8M217.2 73.4q1.6 1.9 4.1 2M283.4 41.4q2.6 .4 3.6 -2M143.1 115.9q-2 .5 -4 .5M275.8 26.9q-.5 .9 -.6 1.9M205.2 85q-1.1 -1 -2.1 -2M155.9 108.3q3.4 1 5.1 -2.1"/>
<path filter="url(#oc)" stroke="#1ed2ff" stroke-width="1.6" d="M164.6 114.8q-2.5 -2.4 -2.9 -5.9M155.6 114.3q1.9 1.8 4 3.2M171.5 101.2q.2 3.5 -2.4 5.7M171.9 105.7q-1.1 -.5 -2.2 -.2M127.4 132.3q2.3 -1.4 1.5 -3.9M161.1 110.1q-.4 -1.6 -1.9 -2.3M178.4 103.5q-1.1 .4 -2 1M167.4 105.6q.1 1.7 1.8 2.1M196 96.4q-1.2 -.4 -2.4 -1M179.7 98.7q-1.9 .8 -3.8 1.7M127.3 130.8q-1.8 1.1 -3.8 .9M183.2 96q-.5 1.1 -1.6 1.4M175.5 100q1.6 0 3.1 .3M176.2 106.8q-2.6 -2.5 -1.3 -5.8"/>
<path filter="url(#od)" stroke="#eb0f14" stroke-width="1.6" d="M205.1 52.3q-1.1 2 -2.7 3.6M277.9 32.3q1.4 1.5 3.1 .3M204.6 82.8q.2 -3.1 -1 -6M209.2 79.6q-.8 2.7 -.6 5.5M222.9 60.4q2.5 2.8 .9 6.1M277.8 44.3q-1 -.8 -.9 -2M255.7 52.3q2.1 .3 3.6 -1.1M146.1 97.1q1.3 1 .7 2.5M270.9 40q-1.8 1.3 -3.2 3M148.7 102.7q-2.2 2.1 -.8 4.7M198.9 70.1q-1 -.4 -2.1 -.9M219.6 75.6q-1.9 -2.5 -4.5 -4.2M153.3 103.5q1.6 .3 3.1 .5M264.2 55.9q-.5 -3.1 -2.7 -5.3M139.6 102.9q2 1.5 4.6 1.9M289.6 27.1q-1.8 3.3 1.3 5.4M230.3 61.5q.7 3.2 -.3 6.2M307.2 32.2q2.1 -2.5 0 -5M223.9 70.2q.2 3.6 3.1 5.7M202.9 80.7q.6 -4.5 -3.8 -5.6M173.2 100.2q-1.6 .8 -3 -.1M204 79.6q1.8 .2 3.7 .4M128.9 115.2q-.6 1.5 -2.1 1.2M194.9 85.4q-1 -.5 -2.1 -1M280.4 22.4q.5 -1 .1 -2.1M164.5 103.3q1.9 -1.6 3.1 -3.8M203.4 59.6q-2.8 .6 -4.8 2.5M251.1 52.7q-.9 1.8 -2.9 1.4M231 46.8q-2.2 3.9 1.6 6.3M171 88.4q-.7 -4 3.1 -5.4M131.2 105.6q1.3 .6 1.2 2M248.3 53.3q-1.4 1.8 -3.7 1.9M318.2 3.9q3 1.7 5.4 4.3M144.2 107.4q2.4 -1.3 4.7 .3M163.6 108.4q-1.5 -2.9 -.8 -6.1M141.2 110.9q-1.6 -1.7 -3.5 -.5M206 79.7q.1 -2.3 -1.9 -3.6M280.7 40.8q-1.7 .8 -1.1 2.5M218.7 76q-2.8 1.5 -5 3.8M107.2 115.5q1.5 -1.1 1.4 -3M158.7 93.7q.9 -2.3 .6 -4.7M237.5 58.4q.2 -1.2 0 -2.3M259.3 40.2q.6 -2.8 3.2 -4M331.4 15.6q-1.3 -3.3 -4.9 -3.1M119.5 127.2q-3 -1.6 -1.5 -4.6M214.2 70.4q-.2 1.3 .5 2.5M261.5 31.2q2.2 -3 .6 -6.3M172.2 97.5q1.4 .6 2.3 -.6M286.3 31.7q-2 1.1 -3.5 2.9M121.6 123.3q.1 2.1 1.9 3.2M235.3 62.4q2.8 2.2 5.7 .1M267 44.7q-1.8 2 -4.4 1.9M228.5 66.8q2 .8 3.3 -.9M240.1 59.5q-2.6 .3 -4.4 -1.6M126 122.2q-1 -1 -1.5 -2.3M128.9 118.7q1.3 1.1 2.9 1.4M276.6 41.2q.9 1.4 -.4 2.4"/>
<path filter="url(#od)" stroke="#141ed7" stroke-width="1.2" d="M264.8 26.6q.6 3.6 3.6 5.6M166.3 102.8q1.7 -1.2 2.5 -3.1M126.7 125.1q-.5 2 1 3.5M176.5 94.3q1.1 2 3.3 1.4M260.7 33q-.3 -2 -1.9 -3.1M247.2 63.1q-2.2 -.6 -3.4 1.4M148.1 114.9q1.6 2 3.8 .6M131.7 106q1.5 -1.8 1.5 -4.1M193.2 91.9q-2.3 -2.2 -1.2 -5.2M171 106.3q1.5 1.4 2.9 0M158.9 94.9q1.3 3 -.4 5.7M174.5 99.7q-2.5 -2.1 -5.6 -1.1M287.7 45q-3.4 .1 -5.8 -2.3M213.3 83.1q1.3 .7 2.5 1.7M184.9 91q2.2 -2.4 5.2 -3.8M157.3 105.9q3.7 -1 3 -4.7M127.3 124.4q1.3 -1 1.5 -2.6M153.6 118q-3 .1 -4.5 2.6M122.8 133.4q-.2 -3.8 -3.9 -4.7M131.6 122.5q-1.7 .4 -3.2 1.5M242.4 66.5q1 -.9 2.4 -.9M242.2 49.1q.7 -1.9 2.8 -2.2M275.5 29.9q-1 -1.9 -.1 -3.9M279 48.5q-2.4 -2.1 -1 -5.1M199.2 88.2q0 1.7 1.3 2.9M223.4 62.9q3.6 -.2 4.1 -3.7M135.5 108.7q-1 -2.4 -.7 -5M156.5 106.7q-.9 -1.5 -2.7 -1.1M142.9 97.2q-1.2 -2.2 -3.6 -1.5M246.5 64.9q-3.9 -.7 -4.7 3.2M123.4 112.6q-2.4 -1.7 -4.2 .6M163.3 104.5q2.5 0 3.7 2.1M105.4 116.4q2.5 -.6 4.9 -1.5M193.2 92.8q-2.1 -2.8 -.8 -6M271.4 15.7q-1.1 .6 -1.4 1.8M218.3 81.1q-2 -1.9 -4.6 -.8M174.5 107.9q-1.8 -1.1 -1 -3M173.8 96.9q-1 -1 -.8 -2.3M277.6 46.2q-2.9 .4 -4.8 2.7M122.2 124.4q-2.3 -3 -.7 -6.5M135.6 119.3q-2.7 0 -5.3 -.7M140.8 121.6q-.1 2.2 -.2 4.5M156.4 101.8q-.9 -3.3 .6 -6.4M214.1 52.7q-1.2 2.8 -3.6 4.5"/>
<path filter="url(#od)" stroke="#4b00be" stroke-width="1.2" d="M208.6 82.6q1.9 1.8 4.2 .4M304.8 2.7q1.4 -3.2 -1.4 -5.1M241.8 68.7q-2 1.4 -3.6 -.5M249 44.6q4 -.7 5.7 3M182.4 95.8q-.2 -1.7 -1.9 -1.8M265.7 36.5q2.6 1.1 5.3 1.8M222.5 76.6q-.6 -1.1 -1.2 -2.1M230.3 70.5q.9 2.2 -1.1 3.4M291.6 43.5q-4.3 -1.8 -2.6 -6.1M175.6 94.6q1.7 -.2 2.1 1.5M205.3 85.5q0 1.9 -1.7 2.4M301.7 14.1q-2.8 -1 -4.4 1.5M203.7 90.6q-2.1 -1.7 -3.8 -3.8M215.3 75.9q4 -.3 6.2 3M247.9 58.6q-1.5 0 -3 0M221.3 79.7q2.9 1.1 5.8 .4M260.9 24.4q1.6 .9 3.1 0M279.1 29.1q1.4 2.9 3.1 5.5M199 87.6q-2.5 .3 -2.3 2.8M268.2 15.8q2.1 3.3 -.5 6.1M232.1 74.5q2.4 0 4 -1.7M158.3 105.1q.2 -1.4 .6 -2.7"/>
<path filter="url(#od)" stroke="#ff9100" stroke-width="1.2" d="M245.1 52.8q-1 2.3 -3.5 2M272.4 38.9q.8 -2 2.9 -1.6M309 19.5q-1.5 -1.4 -.8 -3.4M141.1 105.2q-1.7 -1 -3.3 -2.2M284.4 37.4q1.3 1.6 3.4 1.4M235.3 50.3q-2.9 1.1 -6 .9M198.9 62.5q2.3 2.1 4.4 4.3M118.1 104.8q.4 2.2 -1.7 3M126.2 104.6q.4 1.7 .7 3.4M343.7 -2.8q-.1 2.5 -1.4 4.7M154.7 91.4q-2 1.7 -4.6 1.4M242.1 33.7q1.6 3.1 3.7 5.9M245.5 36.3q-2.4 2.5 -5.9 3M235.9 49.7q1.5 .5 2.1 1.9M249.1 38.5q-2.2 2 -5.2 2.5M264.4 34.5q-.8 2.9 1.1 5.1M128.1 118.1q-3.2 .4 -5.9 -1.2M317.9 18.8q-2.8 -.5 -5.4 -1.4M149.8 95.2q2.9 .2 5.3 1.9M223.4 64q-1.3 -.5 -2.6 -.2M205.1 50.6q-1.1 2.9 .8 5.5M154.7 93q2 -2.6 5.2 -3.2M145.3 108.2q1.1 -2.6 -1.3 -4.2M262.2 39.8q-1.4 -1.1 -3.1 -1.3M283 8.1q.5 1.9 1.9 3.2M247.8 35.7q1.8 -1 3.9 -.5M312.1 12.1q2.6 -1.4 4.3 1M198.3 73.1q-2.7 .9 -2.3 3.8M301.7 17.5q-2 -.5 -4 -.2M239.5 48.8q1.8 -2.3 3.3 -4.8M112.5 113.2q-2 3.7 -6 2.6M284.6 12.4q-.6 3.1 -.2 6.2M281.6 22.9q1.3 -1.2 3.1 -1.5M266.1 22.4q-1.5 2.8 -3.3 5.5M258.6 29.7q1.2 .2 2.1 1M193.1 61.7q1.3 2.3 2.3 4.8M257.9 35.3q3.4 -.6 6.6 -2M265.7 32.2q-4.1 .4 -5.7 -3.3M242.2 52q2.2 2 5 2.9M242 51.9q-3 1.3 -6.2 .6M235.8 53.2q-2.8 2 -6.2 1.2M268.6 38.4q1.7 -1.6 1.6 -3.9M214.5 61.6q1.2 1.5 1.7 3.5M130.3 104q-4.3 -.5 -5 -4.8M315.3 14q1.5 0 2.5 -1M113.2 121.7q.1 2.7 2.8 2.8M217.4 64.7q-2.7 1.4 -2.1 4.3M155 100q-2.9 2.6 -2.3 6.4M257.5 31.3q-2.1 0 -4.1 -.6M265.2 26.9q1.6 -3.1 2.7 -6.4M159.4 92.8q2.3 1.7 4.9 .8M264.9 22.1q-.4 -1.7 .1 -3.4M340.3 -1q.6 -3 3.6 -3.1M215 65.2q-1.9 .3 -3.4 -1"/>
<path filter="url(#oc)" stroke="#00a5fa" stroke-width="1.2" d="M166.6 109.8q-1.8 1.3 -3 3.2M153.4 114.2q-3.2 0 -3.8 3.1M168.4 108.5q1.6 -2.9 4.1 -5.1M118.6 131.6q2.5 1.8 2.7 4.8M163.4 112.9q-.1 -2.9 -3 -3.2M179.7 103.1q-1.1 -2.3 -3.4 -3.5M189.3 94.8q.4 3.6 2.7 6.4M146.4 124.6q1.8 -2.7 1.3 -5.9M180.5 100.6q-2.9 1.7 -6.3 1.1M163.5 103.5q-2.6 1.9 -1.7 5M158.6 114.6q-1.3 -.7 -2.3 -1.8M137 125.9q-4 .5 -5.6 -3.2"/>
<path filter="url(#oc)" stroke="#6ef0ff" stroke-width="1.2" d="M170.9 99.7q3.1 1.5 3 5M181.9 97q3 -.8 5.2 1.4M174 102.6q1 .3 2 .3M187.6 94.2q-.9 1.7 .4 3.1M195.5 96.3q.5 -1.2 .2 -2.5M136.1 123.5q.3 1.4 1.7 1.8M165.8 105.8q-1.4 2.3 -3.3 4.3M168.7 102.4q2 2.5 3.8 5.2M134.2 125.4q-1.1 -3 -.5 -6.1M162.8 109.6q.7 3.3 -1.9 5.5M141.4 125.7q.7 -1.8 0 -3.6M143 117.5q-1.2 1.3 -2.7 .4M157.7 110.7q-2.7 -1.5 -4.6 .8"/>
<path filter="url(#od)" stroke="#ffdc00" stroke-width="1.6" d="M128.8 117.4q3.8 -.5 3.6 -4.3M225.6 57.6q.2 1.1 -.1 2.1M209.7 52.6q1.2 1.6 3.3 1.5M204.9 65.7q1.1 -1.1 2.5 -.6M140.3 112.9q-1.9 -1.1 -3.7 0M163.3 86.6q1.3 -.3 1.8 1M246.5 41.5q-.8 -2.4 -3.3 -2.3M212.1 65.1q-3 0 -5.3 1.9M142.8 94.9q3.6 1.8 6.3 -1.1M242.3 56q.6 -1.9 .7 -3.9M119.2 115.8q.9 -2.4 2.8 -4.1M225.9 50.4q2.2 -.2 2.1 -2.4M197.8 58.2q-.9 -.9 -.7 -2.2M194.4 63.9q2.6 1.5 4.9 -.5M115.6 116.6q-1.4 .5 -3 .5M225.8 51.6q-.5 -2.2 -.6 -4.4M181.2 88.3q-3.8 2.6 -6.6 -1.1M189 79q.5 -.9 1.2 -1.7M121.4 109.3q2.8 -1.6 3.7 -4.6M194.8 76.1q2.8 -2.2 6.2 -2.9M172.2 83.8q-2.1 -1.6 -4 .3M180.6 81q-.5 -2.2 1.1 -3.9M206.1 60.1q2.3 -.4 3.1 1.7M226.8 52.4q-1.7 -1.2 -.9 -3.1M244.6 48.2q-4 .5 -4.8 4.4M277.1 31.8q3 0 5.8 -1.1M253.3 29q-.1 3.1 -.9 6.2M241.9 46.5q3.9 -1 6.5 2.1M130.4 110q1.6 2.7 .4 5.7M177.3 88.8q-.2 -2.8 2.6 -3.4M118.8 105q-.9 3.7 2.5 5.5M225.5 55.2q-.6 -3.5 -3.2 -5.9M106.9 109.8q.5 2.2 2.5 3.2M172.6 86.7q4.2 1.8 2.5 6M175.1 86.7q.5 -1.2 .2 -2.5M162.9 85.3q.3 -1.5 1.8 -1.6M151.9 90.7q-2.2 -.9 -2 -3.2M205.6 61.3q4.6 -.7 5.7 3.8M204.3 66.5q-2.8 3.9 -6.8 1.4M147.5 95.3q.9 -1.6 2.4 -2.6M127 107.2q-1.5 -2.2 -4.1 -2.5M145.9 93.5q2.3 0 3.9 1.6M152 103.7q-1.2 -.2 -2.3 -.3M179.5 80.7q1.2 2.1 3.3 3.2M179.6 82.9q-1.7 .2 -2.3 -1.5M210.9 54.5q3.1 2.3 2.9 6.1M228.7 55.5q-1.4 1.2 -.6 2.9M161.4 92.6q1.7 1 3.4 2.1M172.1 90.2q-1.2 -.3 -1.9 .8M138.3 102.2q.5 2 -1.5 2.6M197.4 79q.6 -2.2 .7 -4.4M234.2 43.9q1.8 3.2 .6 6.6M186.4 72.4q.5 1.3 1.9 1.6M269.1 29.4q1.7 3.6 -1.7 5.6M227.5 54.8q-3.2 -2.1 -2.8 -5.9M119.4 112.8q2.3 .3 4.6 -.5M116.5 110.3q1.3 -2.2 3 -4.2M215 60.3q-1.7 -2.7 -4.4 -4.4M194.7 62.4q2.7 -2.3 1.4 -5.5M290.2 18.3q-1.3 1 -2.9 1.1M217.6 68.1q-.7 -1.6 -2.4 -1.4M124.8 112.4q1.8 1 .9 2.7M162.3 96.2q.3 1.3 .9 2.4M202.9 78.8q-3.4 -1 -6.3 1M157.8 99.1q2.3 -1.3 4.6 0M197.1 64.7q-3.4 -.8 -6 1.5M184.7 82.5q-2.9 1.2 -5.1 3.4M163.9 97.6q-1.5 -.5 -1.7 -2.1M199.8 67.8q-1.2 -1.9 .3 -3.6M153.6 86q1.1 3.4 4.8 3.2M226.6 57.3q-.3 -1.6 .6 -2.9M143.9 101.9q2.1 1.2 2.1 3.6M158.2 86.6q1.4 3.2 -1.2 5.5M147 96.8q-.5 -1.7 -2.2 -2.2M173.1 83.8q-1.9 .9 -3 2.7M123.6 118.7q1.6 -1.3 .8 -3.1M175.9 93q-.1 -1.8 .7 -3.5"/><path stroke="#ffffb0" stroke-width=".5" transform="translate(-.3 -.3)" d="M128.8 117.4q3.8 -.5 3.6 -4.3M225.6 57.6q.2 1.1 -.1 2.1M209.7 52.6q1.2 1.6 3.3 1.5M204.9 65.7q1.1 -1.1 2.5 -.6M140.3 112.9q-1.9 -1.1 -3.7 0M163.3 86.6q1.3 -.3 1.8 1M246.5 41.5q-.8 -2.4 -3.3 -2.3M212.1 65.1q-3 0 -5.3 1.9M142.8 94.9q3.6 1.8 6.3 -1.1M242.3 56q.6 -1.9 .7 -3.9M119.2 115.8q.9 -2.4 2.8 -4.1M225.9 50.4q2.2 -.2 2.1 -2.4M197.8 58.2q-.9 -.9 -.7 -2.2M194.4 63.9q2.6 1.5 4.9 -.5M115.6 116.6q-1.4 .5 -3 .5M225.8 51.6q-.5 -2.2 -.6 -4.4M181.2 88.3q-3.8 2.6 -6.6 -1.1M189 79q.5 -.9 1.2 -1.7M121.4 109.3q2.8 -1.6 3.7 -4.6M194.8 76.1q2.8 -2.2 6.2 -2.9M172.2 83.8q-2.1 -1.6 -4 .3M180.6 81q-.5 -2.2 1.1 -3.9M206.1 60.1q2.3 -.4 3.1 1.7M226.8 52.4q-1.7 -1.2 -.9 -3.1M244.6 48.2q-4 .5 -4.8 4.4M277.1 31.8q3 0 5.8 -1.1M253.3 29q-.1 3.1 -.9 6.2M241.9 46.5q3.9 -1 6.5 2.1M130.4 110q1.6 2.7 .4 5.7M177.3 88.8q-.2 -2.8 2.6 -3.4M118.8 105q-.9 3.7 2.5 5.5M225.5 55.2q-.6 -3.5 -3.2 -5.9M106.9 109.8q.5 2.2 2.5 3.2M172.6 86.7q4.2 1.8 2.5 6M175.1 86.7q.5 -1.2 .2 -2.5M162.9 85.3q.3 -1.5 1.8 -1.6M151.9 90.7q-2.2 -.9 -2 -3.2M205.6 61.3q4.6 -.7 5.7 3.8M204.3 66.5q-2.8 3.9 -6.8 1.4M147.5 95.3q.9 -1.6 2.4 -2.6M127 107.2q-1.5 -2.2 -4.1 -2.5M145.9 93.5q2.3 0 3.9 1.6M152 103.7q-1.2 -.2 -2.3 -.3M179.5 80.7q1.2 2.1 3.3 3.2M179.6 82.9q-1.7 .2 -2.3 -1.5M210.9 54.5q3.1 2.3 2.9 6.1M228.7 55.5q-1.4 1.2 -.6 2.9M161.4 92.6q1.7 1 3.4 2.1M172.1 90.2q-1.2 -.3 -1.9 .8M138.3 102.2q.5 2 -1.5 2.6M197.4 79q.6 -2.2 .7 -4.4M234.2 43.9q1.8 3.2 .6 6.6M186.4 72.4q.5 1.3 1.9 1.6M269.1 29.4q1.7 3.6 -1.7 5.6M227.5 54.8q-3.2 -2.1 -2.8 -5.9M119.4 112.8q2.3 .3 4.6 -.5M116.5 110.3q1.3 -2.2 3 -4.2M215 60.3q-1.7 -2.7 -4.4 -4.4M194.7 62.4q2.7 -2.3 1.4 -5.5M290.2 18.3q-1.3 1 -2.9 1.1M217.6 68.1q-.7 -1.6 -2.4 -1.4M124.8 112.4q1.8 1 .9 2.7M162.3 96.2q.3 1.3 .9 2.4M202.9 78.8q-3.4 -1 -6.3 1M157.8 99.1q2.3 -1.3 4.6 0M197.1 64.7q-3.4 -.8 -6 1.5M184.7 82.5q-2.9 1.2 -5.1 3.4M163.9 97.6q-1.5 -.5 -1.7 -2.1M199.8 67.8q-1.2 -1.9 .3 -3.6M153.6 86q1.1 3.4 4.8 3.2M226.6 57.3q-.3 -1.6 .6 -2.9M143.9 101.9q2.1 1.2 2.1 3.6M158.2 86.6q1.4 3.2 -1.2 5.5M147 96.8q-.5 -1.7 -2.2 -2.2M173.1 83.8q-1.9 .9 -3 2.7M123.6 118.7q1.6 -1.3 .8 -3.1M175.9 93q-.1 -1.8 .7 -3.5"/>
<path filter="url(#od)" stroke="#ffdc00" stroke-width="1.2" d="M212.3 63.6q-3.7 -2.5 -1.5 -6.3M122.7 114.7q2 -1 4.1 -.3M315.6 12.9q-1.3 -.3 -1.2 -1.7M127 114.7q-.8 3.7 -4.6 3.6M187.8 76.6q1.6 .4 3.2 .6M135.5 103.2q2.4 -4.1 6.6 -1.9M130.3 104.8q1.6 -1.8 3.7 -.7M134.7 101q.8 1.8 .6 3.8M191.5 60.5q1.3 -1.3 1.9 -3.1M158.7 93.6q0 1.6 -.6 3.1M227.8 59.2q1.3 -.2 1.9 .9M133.1 108.2q-2.3 -1.2 -4.7 -2M224.9 56.6q-1.1 -1.8 -2.8 -3.1M127.7 112.8q3 1.5 5.1 -1.2M119.1 111q-3.3 3.1 -6.8 .3M139.6 91.4q-.3 2 1.6 2.8M186.5 83q-3.6 -2.9 -1.2 -6.9M106.8 119.3q1.6 -1.5 1.5 -3.6M167.9 92.2q-.4 1.5 .9 2.4M230.5 54.1q1.4 1.3 3.1 .3M105.6 116.8q1.2 3.9 -2.2 6.2M152.9 98.4q-.1 -1.2 -.7 -2.2M144.7 101.9q1.7 -.9 3 .4M121.1 113.5q2.3 .6 3.6 -1.4M135.4 104.3q1.4 .2 1.3 1.6M279.3 15.6q1.9 .7 1.4 2.6M139.5 97.9q.7 1.9 .4 3.9M192.2 70.3q1 1.6 .1 3.2M148.1 94.8q.6 1.7 0 3.4M109.4 110.9q-2.2 .9 -1.6 3.2M174.4 90.8q-2.6 -.5 -5.2 -.2M225.5 63q.7 -2.1 1 -4.3M121.9 111.8q2.1 .9 4.2 0M122.5 105.9q-.5 -1.1 -1.2 -2.1M134.1 113.5q-2.7 -.5 -3.4 -3.1M206.9 64.6q-1.4 2.1 -.2 4.2M117.1 104.5q-2.3 2.1 -1.7 5.1M100.4 116.5q-.8 1.9 .7 3.3M162 82.2q1.6 1.3 3.3 .2M111.6 121.6q2.3 -.5 1.8 -2.8M127.2 107.1q2.1 -2 4.5 -.4M138.2 104.6q-1.8 -3.4 -5.6 -3.7M211.8 54.7q-1.2 0 -1.6 1.1M144.5 96.2q2.6 -1.2 5.2 -.2M263.2 38.5q-1.1 3 -4.3 2.6M108 113.5q.5 -1.1 -.1 -2.2M125.9 108.8q-.8 -2.6 1.7 -3.5M251 34.4q0 4.2 -4 5.2M200.1 57.3q-3.5 .4 -6.6 -1.1M181.6 77.2q-1 3.9 -4.9 3.4M111.8 116.2q-2.3 -2.2 -.3 -4.7M218.8 56.7q.7 -3.7 -2.3 -6.1M188.2 76.4q-.5 -3.9 3.4 -4.7M235.2 52.7q-1.5 3.1 -5 3.1M187.5 79.6q-1.9 2.5 .1 5M227 54.7q.2 1 .2 2.1M156.6 87.2q-2 2 -4.1 3.7M180 92.1q-.9 -3.7 2.8 -4.7M186.1 62.9q2.5 -.3 4.9 -1.1M151.5 99.7q.8 -2.3 3.2 -2.8M164 91.4q1.2 2.7 .1 5.3M131.3 104.2q-.8 3.2 -.9 6.6M102.2 118.6q-2.7 -1.7 -1.3 -4.6M241.5 39.2q2.7 .6 5.1 -.9M285.5 15.1q2.3 3.2 .6 6.8M144.6 96.9q.7 -2.1 2.9 -2M169.6 94.3q.3 1.2 0 2.4M102 121.8q-2.9 -1.2 -3.3 -4.2M162.9 86.7q-.9 1.1 .2 2.1M308.6 14.4q-.1 -3.4 -.4 -6.9M165.4 83.9q-2.8 .1 -4.9 1.9M190.9 63.5q-3 .2 -5.7 1.5M220.7 58.3q-3.9 .8 -4.8 -3M328.7 5.9q-3.1 1.2 -6.3 .2M178.2 82.2q-3.6 -1 -5.4 -4.3M158.2 98.9q-2.6 1.1 -2 3.9M230 43.4q1.5 2.2 3.8 3.6M145.1 108.5q-1.9 .8 -2.4 2.8M303.6 11.5q-.9 4 3.1 4.9M106.5 120.4q-1 -2.9 1.8 -4.3M184.1 82q-.2 -1.3 -1.5 -1.6M129 111.8q.2 -3.1 1.6 -5.9"/>
<path filter="url(#od)" stroke="#c8005a" stroke-width="1.6" d="M223.2 65.2q2.9 0 5.7 -.5M236.5 65.9q-1.4 3.9 -5.3 2.7M255.3 38.9q-.6 -3 1.4 -5.3M219.6 70.7q-1.4 0 -1.8 -1.2M236.5 68q.7 -.8 1.1 -1.8M326.2 14.1q.9 2 3.2 2M258.8 47.8q2.5 -1.6 5 -.1M292.6 38.7q-1.6 -2.3 -2.1 -5.1M260.7 51.8q-2.3 -.9 -1.9 -3.3M192.3 86.7q2.5 -.2 2.6 -2.7M201.3 84.6q-1.4 -2.1 -3.8 -2.9M281.2 33.8q2.3 .3 2.5 2.5M240.2 62.3q-3.7 -1.3 -4.1 -5.2M250.4 46.5q1.2 2.4 3.4 3.9M186.4 90.9q-2.2 -1.2 -3.5 .9M244.4 62.9q2.9 .3 5.7 -.5M269.9 51.7q-1.9 -2.8 -5.1 -1.6M266.2 25q.8 1.4 .6 3M189.6 87.7q.8 1.2 1.2 2.6M182.4 88.7q.3 1.7 2 1.8M344.4 .7q-2.5 .8 -3.9 -1.4M281.8 43.8q2 -1.2 4.4 -1.4M182.4 89.8q.4 4 -3.4 5.2M309.5 22.5q-2.8 -1.7 -3.9 -4.8M223.3 73q1.3 2.4 3.7 1.2M227.5 74.2q.9 -3 -2 -4.3M256.8 57.9q-.9 1.6 -2.7 2M242.2 65.3q-3.4 2.2 -5.7 -1.2M211.2 76.1q2.4 -.8 4.7 .1M276.3 33.5q1.5 1.5 3 3.1M215.5 77.1q-.1 2.1 .7 4M233.7 64.4q-.3 2.5 -.4 5.1M258.5 54.6q2.6 -1.4 1.9 -4.3M282.8 19.6q-.5 3.1 -3.7 2.6M194.6 86.2q-2 1.4 -4.3 2.1M154.6 105.8q-2.3 -.7 -3.2 1.5M292 34.7q-.4 -1.5 -1.3 -2.7M135 120.8q-.9 -3.6 2.3 -5.4"/>
<path filter="url(#od)" stroke="#8c00a5" stroke-width="1.2" d="M249.3 57.7q-1.3 1 -2.7 1.6M190.4 89.1q3.5 -.9 6.7 1M222.8 78.1q-2.9 -1.4 -5.6 -3.1M120.7 128.1q-.9 -.8 -.6 -1.9M236.4 73q-1.3 -.8 -2.7 -1.6M265.7 52q-2.9 -1.7 -2.5 -5.1M207.8 85q3.1 -2.7 6.5 -.3M255.9 55.3q2.2 .6 3.7 2.4M173.4 98q1.9 -.5 3.6 -1.4M198.8 92.1q-1.5 -2.9 .5 -5.4M199 80.3q-.8 1.7 -2.7 1.9M218.8 75.8q-.8 -1.6 -2.4 -.9M175.7 91.7q-1.8 -.8 -2.5 -2.8M160.1 106.9q-.5 1.7 -2.2 1.8M336.1 5q2.1 1.2 3.4 -.8M116.8 118.4q-3.1 .2 -5.4 2.4M275.8 43.6q-2.8 -1.5 -5.4 -3.2M231.8 62.1q-2.4 .5 -3 2.9M291.3 33q.5 -3.2 -2.6 -4.1M215.2 74.1q.6 -1.4 -.7 -2.1M182.4 96q2 -1.9 2.8 -4.6M236.7 63.4q.9 2.1 -.6 3.8M139.3 109.9q-2.4 -2.5 -1.2 -5.8M234.8 63q-.9 -2.3 0 -4.7M193.9 87.5q-1.6 -2.9 -4.7 -3.6M147.3 113.3q-1.9 2.1 -4.7 1.7M239.2 59.2q-2.6 .7 -4.6 -1.3M133.3 111.7q3.3 1.1 4.8 4.2M244.3 54.1q-.2 2.7 .5 5.3M181 94.3q1.2 -.2 2.4 -.4M171.4 99.8q2 -1.2 3.7 .6M121.6 120q.7 4.6 -3.9 5.8M236.7 55.4q1.6 2.4 1 5.2M146.2 107.1q-1.7 -1.5 -3.9 -2.3M258.3 50.1q-1.4 -1.4 -1 -3.3M207.8 68.2q-1.3 2.3 1 3.6M245.1 54.3q-.8 1.9 -2.9 1.7"/>
<path filter="url(#od)" stroke="#141ed7" stroke-width="1.6" d="M191.6 89q-.2 1.5 -.4 3M140.8 96.1q-2.8 1.8 -5.7 .2M267.2 56.6q1.4 -.2 1.4 -1.6M130.1 122.3q1.2 -2.4 3.2 -4.1M126.4 106.3q1.8 -1.2 3 -2.9M191.6 97q.4 -2.5 -1.9 -3.4M184.7 72.9q1.2 4.2 -2.8 6M249.3 64.2q-1.6 -.4 -3.1 .5M252 60.2q.7 -1.1 1.9 -.7M193.8 98.7q-.6 -3.6 1.2 -6.8M148.4 113.5q-1.7 1.5 -4 1.7M160.1 101.9q0 1.9 -1.5 3.2M183 99.9q-.7 -1.1 -.3 -2.4M151.6 94.3q-1.5 -3.3 -4.9 -4.7M150.4 118.3q2.6 -3.5 -.8 -6.2M239.7 43.1q1.7 .1 2.8 -1.1M179.3 99.6q-2.9 3.4 -.1 6.8M251.7 61.4q.8 2.1 3 2.7M184.8 97.2q-.2 -2 -.9 -3.9M197.1 85.9q0 2.8 -1.2 5.4M226.2 61.9q-2.1 -1.4 -1.1 -3.8M219 65.4q1.5 1 3.4 1M145.3 108.9q1.2 .9 2.2 -.1M181.3 99.6q1.9 .4 3.3 -.9M137.5 126.3q-1.1 .1 -1.9 .9M227.1 76q-.8 -.8 -2 -.7M149.8 117q1.5 -1.1 3.4 -.6M241.8 67.6q.1 2 -1.8 2.8M131.7 122.5q.1 -2.6 -2.2 -3.8M206.8 83.9q-1.4 2.6 -4 3.9M154.3 88.6q-1.7 1.1 -1.9 3.1M133.9 124.9q-1.2 2.5 -2 5.1M206.7 63.1q-.5 1.7 -1.1 3.3"/>
<path filter="url(#oc)" stroke="#00a5fa" stroke-width="1.6" d="M194.7 96.2q-1.4 -.4 -2.8 -1.1M140.4 125.5q-3.8 -1.1 -3.5 -5.1M159.3 117q1.4 -3.1 -1.6 -4.6M146.7 116.3q2.3 2.5 5.6 3.5M142.9 124.8q-.6 -.9 -1.5 -1.4M153.7 115.1q-.8 1.1 -1.6 2.2M160.5 115.7q1.6 -1.3 .8 -3.2M143.4 125.1q-2.4 -2.7 -5.3 -.7M147.9 112q1.2 2.7 4.2 2.5M166.8 111.2q-3.8 .9 -6.6 -1.8M183.2 95.8q2 3.2 .7 6.8"/>
<path filter="url(#od)" stroke="#eb0f14" stroke-width="1.2" d="M152 100.1q-1.4 -2.8 -4.4 -2.2M205.6 79.2q2.4 -.9 2.3 -3.4M253.9 30.4q-.5 1.5 -2 2M175.4 99.7q-.9 -1.3 -2.3 -2.2M186.8 80.4q-2.1 .1 -3.3 1.7M248 58q-2.7 -.7 -4.5 1.4M266.7 37.8q-1.2 -1 -.3 -2.2M154.1 102.6q1.9 2.3 4 4.6M119.2 110.4q-1.2 .5 -2.5 1M146 106.7q-2.3 2.7 -.5 5.7M243.7 50.2q.9 -1 2.2 -.6M240.1 54.6q2.1 1.1 4.4 1.8M116.9 121.5q.7 1.1 .1 2.2M252.7 50.2q.1 1.2 -.3 2.3M271.8 44q-.5 -2.2 -2.2 -3.5M276.2 48q2.3 -3 1.3 -6.6M275.6 46.9q1.1 -2.1 -.4 -3.9M258.2 41.8q1.2 2.2 3.7 2.4M111.8 117.3q-2.5 .8 -3.7 -1.6M348.2 -1.7q-1.4 .9 -2.6 2.1M242.3 58q-.9 3.2 -3.2 5.7M250.2 53q1.7 -.4 2.9 -1.7M178.9 93.4q-2 -2.5 -3.3 -5.4M287.6 39q-.3 -1.1 -1.3 -1.8M237.5 59.8q-1.9 -1.2 -.8 -3.3M299.7 25.8q.1 1.9 -1.3 3M324.3 2.9q.9 2.6 3.4 3.7M231.9 66.9q1.2 -2.6 2 -5.3M114.6 115.3q.6 2.9 3.5 3.3M283.5 40.2q1.9 3.1 -1.1 5.1M201.9 57.8q-1.9 1.8 -4.4 1.4M230.8 52.2q.9 2.2 -1.1 3.4M199.6 82.9q-.6 -2.8 -.1 -5.7M176.7 92q1 -.6 2.1 -.9M325.6 23.3q3.3 -1.5 3.5 -5.1M219.7 71.8q-1.2 -.9 -.5 -2.1M245.5 35.5q.3 1.5 1.6 2.3M167.8 89.6q.7 -1.3 -.3 -2.3M181 89.7q-2.4 -.9 -4.9 -.3M115.5 108.3q3.1 -.2 3.2 -3.3M138.2 99.9q0 1.4 0 2.8M138.2 108.9q-2.1 .4 -4 1.3M275.2 29.9q1.3 -1.1 3.1 -1.1M297.8 33.6q-1.9 -.3 -2.3 1.5M220.4 64.7q2.1 -1.5 4.2 .1M334.1 13.8q1.2 -2.3 .7 -4.9M187 84.8q1.4 1.1 2.6 -.1M176.4 99.5q-1.3 -.6 -2.1 -1.8M212.3 71.1q1.2 1.8 2.6 3.6M211.1 76.3q.8 -1.4 2.2 -2.2M123 119.6q-.4 -3.3 -3.4 -4.5M107.5 121.8q4.5 0 5 -4.4M293.1 30.8q2 1 3.1 -.9"/>
<path filter="url(#od)" stroke="#ff5000" stroke-width="1.2" d="M146.8 115.1q-1.4 -1.3 -.2 -2.7M199.7 54.3q.2 2.9 -2.2 4.6M222.8 53.7q-.1 -3.3 1.2 -6.2M282.5 31.2q3.3 .7 6.1 -1.3M260.7 41.8q-2.5 -.3 -2.6 -2.8M186 83.8q1.5 .7 2.7 -.4M106.3 109.2q1.5 1.8 3.6 3M146.7 101.1q-1.7 -2.8 -2.7 -5.9M281.2 34q2.5 1.3 2.3 4.2M333.8 1.8q1.1 1.8 3.1 2.3M111.3 118q-2.5 -1.6 -4.2 .8M196.1 84.1q1.6 .4 2.4 1.8M192.5 64.3q-3.3 -1.1 -2.3 -4.4M223.7 56.2q-.2 -2.8 .1 -5.6M237.9 54.8q1.7 2 -.3 3.6M214.6 58.4q-.8 -3 -3.9 -3.2M324.6 14.7q-1 1.1 -1.9 2.2M173.3 94.9q-1.6 .6 -2.8 -.6M140.7 92.6q-.5 1.1 .1 2M243.6 42.8q-.8 2.2 -.8 4.5M339.2 1.4q-4.1 -.4 -5.7 3.4M259.8 48.9q0 2.3 -1.6 3.9M153.8 102.1q3.5 -.6 5.6 -3.4M294.1 31.1q.8 -2.8 -1.3 -4.9M289.7 31q3 .9 5.8 2.3M213.8 69.1q-2.6 -.7 -4.8 -2.2M168.5 90q-1.4 1 -3 .3M148 104.4q-.7 1.5 -2.1 2.2M247.3 57q-1.5 -1.9 -3.5 -3.3M339.5 .9q1.9 .3 3.1 1.8M250.2 44.6q.5 1.3 .9 2.7M271.8 47q-1.7 -1 -3.7 -.9M261.6 39.2q1 1.4 2.3 2.5M145.8 108.3q-2.5 -1.2 -3.9 1.2M243.3 47.3q-1.7 .8 -3.4 -.1M266.9 30.4q1.5 .4 3 .1M142.1 97.5q.7 -1.6 0 -3.3M271.8 34.7q.7 4.4 5.1 4.1M137.4 113.7q-2 1.7 -4.2 .2M240.9 61.6q3.2 -.1 5.5 2.2M245.9 55.4q-.2 -1.2 .6 -2.1M187.2 75.5q3.4 -1.9 6.9 0M257.2 48.5q-2.3 1.3 -4.7 .4M275.4 25.9q-1 -1.5 0 -2.9M138.8 102.2q2.2 -1.6 4.3 .2M306.5 13.5q-1.2 -2.7 -3.3 -4.8M125.1 112.5q-1.1 -.6 -1 -1.8M147.1 111q.8 -2.2 1.4 -4.3M205.3 63.5q-1.1 -2.3 -1.7 -4.8M245.6 47.8q-.2 -3.9 -4.1 -3.8M296.2 21q.8 1.9 .7 4M215.7 69q-.7 -2 -2.7 -2.2M186.3 83.1q1.5 1.1 .4 2.6M294.6 31.5q.1 -2 .6 -4M199.5 65.1q2.6 .8 4.2 3M188.8 83.8q2.2 -2.7 5.6 -2.1M183.7 72.3q-1.3 3 -3.5 5.4M175.7 82.9q.1 1.7 -1.5 2.2M231.4 59.4q3.1 -1.8 4.9 1.3M281.1 39.5q.6 3 3.6 2.4M221.8 74.8q-2.7 -1.2 -1.6 -3.9M248.7 43.9q1.6 1.9 2.2 4.3M135.7 102q1.8 2.4 2.9 5.2M260.5 33.6q1.9 1.2 2.2 3.4M157.5 98.6q2.2 -1.9 4.7 -3.4M183.4 94.6q1.9 -1.4 2 -3.8M250.3 46.5q1.3 .3 2.4 1.1"/>
<path filter="url(#od)" stroke="#0064f0" stroke-width="1.6" d="M188.6 94.9q-2.6 -1.6 -5.6 -1.1M142 112.8q-2.5 1.4 -2.4 4.3M249.6 65q2.1 -2 5 -2.3M173.4 98.4q.2 2.9 -2.6 3.6M229.3 71.2q2.8 2.9 6.6 1.4M166.8 112q-.6 -2.6 -.3 -5.3M130.2 121.6q-.3 -1.3 -1.5 -1.9M173.9 108.1q.8 -1.3 1.7 -2.5M203 95.1q-3.7 -1.2 -5 -4.9M207.5 87.5q-.5 -3 2.4 -4.1M216.9 80q-2.5 .6 -3.6 2.9M176.9 96.2q4 1.6 6.4 -2.1M139.3 120.8q2.8 .8 4.8 2.9M202.6 82.5q1.2 -3.5 -2.1 -5.2M168 99.2q1.2 1.9 .2 3.8M147.5 115.3q1 -.8 1.1 -2.1M160.1 104.4q1.1 -1.8 .5 -3.9M247.4 63.6q-.9 1.2 -2.1 2M229.4 72.4q-2 2.5 .1 4.9"/>
<path filter="url(#od)" stroke="#ffbe00" stroke-width="1.2" d="M249.5 45.8q-.1 3.8 3.4 5M219.7 55.8q.6 -3.4 -2.6 -4.7M141.2 98.4q-1.4 1.4 -2.9 2.8M220.8 61.8q-1.8 3 -.1 6M194 67.3q-1.5 -1.6 -3.6 -1.3M259.5 26.7q2.6 2.7 2 6.4M154.5 95q-1.6 -.1 -3.2 0M321.4 4.2q.1 -2.2 2.3 -2.6M192.7 63.4q2.9 -.3 5.1 -2.1M259.2 45.2q-2.1 -.9 -3.7 .8M108.3 116.9q2.7 1.4 2 4.4M169.6 84.9q1.7 -1.9 1.6 -4.5M257.5 39.8q1.5 .7 2.7 1.8M145.6 99.8q-1.8 2.5 -4.4 4.1M161.5 83q-.2 1.2 -1.3 1.6M289.1 28.7q-1.7 -1.2 -3.3 .1M281.4 19.7q1 -.2 1.9 -.8M129.6 119.5q1.5 -3.6 -2 -5.2M228.8 46.4q.4 3.3 -1.6 6M221.3 49.5q.9 3.4 .8 6.9M212.5 64q-1.9 -.6 -3.4 -2M141.3 94.8q0 -1.5 1.5 -2M200.9 67.5q2.8 -2.4 5.3 .3M168.4 89.8q2.1 1.6 .6 3.8M276.4 19.4q-1.3 -3.7 -5.2 -3.8M125.5 101q1.3 0 2.5 .6M329.4 2.2q-.2 1.3 .2 2.6M217.5 59.5q.5 1.6 .9 3.3M333.6 3.7q2.1 -2.3 .2 -4.8M141.7 108.1q4.3 .4 4.9 -3.9M259 40.5q1.4 1.3 3.1 .3M270.8 33.5q-1 3.7 -4.8 4.2M187.6 76.4q1.1 1.1 2.7 1.4M151.4 88.9q-1.3 1.9 -.2 4M151.9 91.5q-1.8 .4 -1.7 2.3M156.6 95.5q-1.8 -3.5 1.6 -5.4M193.1 64q-1.3 1.3 -2.8 2.2M260.8 36.3q-2.4 -1.1 -2.5 -3.8M196.7 77.8q-.8 -1.1 -2 -1.8M164.9 92.3q-1.2 -.1 -2 -.9M140.5 97.6q2.1 2.2 4.4 .2M188 75.5q.4 -2.1 2.4 -2.4M160.1 87.4q-1.3 -.3 -2.4 -1.1M148.4 102.7q-.3 1.1 -1.1 2M150.7 89.4q.9 1.4 2.4 1.1M211.1 56.8q-2.1 -3.2 -5.7 -1.8M326 2.1q3.4 -2.8 6.8 .1M155.1 94.5q.9 -4 5 -3.3M222 56.7q-.9 -2.6 1.4 -4.3M153.2 98.7q3 1.9 5.6 -.6M146.1 101.8q-1.6 2.9 -1.1 6.1M234.5 54.7q-.7 1.8 1 2.7M241.7 36.4q2 3.1 1.1 6.7M228.3 58.3q-1.7 .3 -3.4 .1M277 18.3q-1.2 2.2 -3.7 1.7M116.7 108.4q1.7 -2.7 4.5 -1.1M155.3 96q.5 2.5 -1.5 4M201.6 68.4q2.4 -1.5 4.8 .1M241.4 38q.9 1.6 2.6 2.5M246.5 44.6q2.5 .3 5 1M239 45.7q-2.3 2.9 -.5 6.1M266 35.2q.1 -2.3 2.3 -3.1M250.6 50.1q.7 -2.5 -.1 -5.1M202.3 79.5q-2.3 -1.4 -4.8 -.4M267.4 37.1q-.3 1.2 -1.6 1.3M300.8 7.9q.5 -3.3 .3 -6.5M188.2 68.4q2.7 2.4 2.5 6.1M289.1 27.4q2.5 -.7 4.8 -1.8"/>
<path filter="url(#od)" stroke="#c8005a" stroke-width="1.2" d="M158.6 104.5q-1.5 -.4 -1.4 -2M227.2 64.1q2.5 .8 4.8 -.3M232.2 59.2q2.7 -1.1 5.4 -.3M210.6 83.3q1.2 .9 2.7 1.1M268.2 52.1q-2.4 -1 -5 -1.6M210 74.6q-2.1 .2 -4.1 -.5M229.1 64.5q.2 -1.6 -1.1 -2.4M216 77.9q.9 -2.7 .8 -5.5M231.9 70.1q.9 -2 3.1 -1.9M211.9 71.3q.6 3.4 4 4.1M168 104.8q-2.6 -2.2 -4.5 -5.2M173 96.2q1.1 -1.6 2.7 -2.7M264.9 49.5q-1.5 .2 -2.5 -1M250.7 58.2q-2.6 -.8 -4.5 1.1M332.1 5.3q2.2 1.1 4.5 2M314.7 15.4q1.7 3.5 -.5 6.8M290.4 19q.9 -1.4 1.8 -2.9M209.5 76.2q3 .2 5.5 1.8M150.5 105.1q1.1 2.2 .6 4.6M236.9 71.7q1.5 -.2 1.8 -1.7M211.7 70.2q.1 3.3 -2.9 4.7M210.3 79.7q1.2 -.6 1.5 -1.9M275.1 47.1q1 .3 2.1 .5M235.2 60.9q-1.4 -1.1 -2.6 -2.6M253.4 36.5q-.3 2.2 -.7 4.3M308.4 22.4q2.7 1.6 2.4 4.7M170.2 98.5q2.7 2.9 6.6 2.1M351.6 -3.5q0 2.7 -.1 5.3M276.8 36.1q-2.1 2 -2.5 4.9M351.1 -1.4q-1.2 -.3 -1.5 -1.4M257.2 46.2q1 .3 1.9 .8M262.1 53.6q-2.2 -1.3 -1.6 -3.8M260.1 51.5q-1.9 -.9 -3.7 -2.1M301.4 24.2q2.1 .7 3.8 2.3M225.6 67.1q1.3 .5 1.1 1.9M272.9 45.1q1 -.7 2.1 -1.3M149.1 112.8q-1.2 -1.1 -2.6 -2"/>
<path filter="url(#od)" stroke="#ff5000" stroke-width="1.6" d="M251.9 40.3q1 1 2.3 .3M343.3 -.9q-1.4 -1.2 -2.2 -2.8M293.9 38q-1.9 -.9 -3.2 -2.4M247.7 58.4q-.9 -1.6 -2.7 -1.4M317.6 11.1q-1.1 -.3 -2.3 -.8M268.5 36.2q2.8 1.9 6.1 1.2M201.4 79.1q-3.4 1.4 -6.7 -.1M251.4 33.2q-1.8 -.7 -2.8 .9M348.2 -2.9q-1.5 1.2 -3.4 .9M164.1 95q-2.7 1.4 -3.3 4.3M139.1 102.6q-1.8 -2.3 -3.8 -4.3M206.1 62.8q.1 -1.1 .9 -2M223.9 57.4q-3 -1.7 -4.3 -4.9M166.5 89.6q-.3 -1.9 0 -3.7M150.3 98.3q1.8 1.1 3.8 .5M311.7 21.7q-3.1 -.1 -5.8 -1.8M271.7 48.7q1.2 -.9 2.8 -1.3M213.6 55.4q-1.5 .5 -2.8 -.5M147.1 96.3q-2.3 2.8 -.3 5.9M250.6 53.9q-.3 -2.1 -2 -3.4M234.9 61.9q-2.6 2.3 -6 3.1M233.1 59.2q-1.5 1.6 -2.4 3.6M199.7 62.6q0 3.6 -1.7 6.8M272.1 45.2q1.2 -1.8 3.1 -.8M155.6 100.9q.4 1.4 0 2.8M105.4 115.6q1.2 1.7 .3 3.5M164.5 83.1q2.8 3.2 -.1 6.2M235.4 68.1q-1.7 -.6 -1.6 -2.3M255.6 45.7q-3 1.4 -3.8 4.6M247.2 52.7q2.7 -2.4 2.7 -6M270.6 33.4q-2 -.7 -4 .1M256.3 51.9q1.6 .7 3.2 -.1M148.8 97.2q1.2 -3.9 -1.7 -6.7M269.2 49.8q-1.5 -.8 -2.6 -2.2M305.4 30.2q1 -.7 1.3 -1.9M281.5 30.5q1.3 1.2 2.7 0M253.7 34.8q1 -.9 .2 -2M288 25.6q.7 -1.7 2.5 -1.8M204.8 78q-1.7 .4 -2.7 -1M264.1 39.1q3.5 .1 5.1 3.2M151.7 104.9q1.1 .6 2.4 .4M248 46q1.6 2.1 .3 4.3M324.2 20.5q.2 -1.7 1.8 -2.1M166.6 93.5q1.8 -1.9 1.9 -4.4M240.7 59.2q1.7 -3.8 5.7 -2.8M275.8 29q-.5 2.5 -2.7 3.9M189 80.6q1.7 -.4 3.4 -.8M215.3 60.9q-2.7 -1.6 -3.4 -4.7M205.8 63.6q1.8 .1 3.4 .9M195.3 77.1q-3.9 .9 -4.9 4.8M131.5 102.1q2.4 -.5 3.3 1.8M147 103.6q-.9 1.6 -2.4 2.8M329 -2.5q-3.2 2.8 -6.9 .7M241.2 48.2q.5 3.2 -2.4 4.7M287.4 16.8q-2 -2 -.5 -4.4M229.9 58.8q2.9 -.9 5.9 -.9M128.5 121.5q-1 -2.1 -1.1 -4.3M265.2 34.2q1.2 -2.8 -1.1 -4.8M173.5 91.8q-.5 1.3 -1.9 1.1M218.7 64.6q3.1 -1 6 .6M147.2 93.4q-.1 3.4 3.3 4.1M206.6 75.5q-.9 2 .2 3.8M166.8 98.9q-.4 1.5 .3 2.9M114 116.1q-3.4 .6 -4.3 3.8M261.2 22.9q2.3 .5 4.5 1.4"/>
<path filter="url(#oc)" stroke="#6ef0ff" stroke-width="1.6" d="M135.9 126.4q-3.8 1.1 -5.8 -2.3M186.4 99q-1.2 -2.2 .5 -4M179 99.1q.1 -1.3 1 -2.2M165.8 105.1q2.5 .5 4.4 -1.2M141.9 118.9q-1.3 .7 -2.1 -.5M167.5 109.1q-.3 -2.1 -2.5 -1.9M141.8 124.3q1.1 -1.8 2.6 -3.3M140 125.8q1.1 -3.2 -2 -4.6M167.9 107.9q-.4 -2.1 -1.8 -3.7M143.4 120.8q-2.1 -1.1 -2.6 -3.4M187.3 100.8q.7 -3.4 .4 -6.9M167.5 107.8q3.5 -.9 6.2 1.4M192.6 98.9q2 -2.2 1.8 -5.2M131.6 124.2q-1.6 2 -.4 4.3M159.1 108.7q1.9 2.1 4.5 2.9"/>
<path filter="url(#od)" stroke="#4b00be" stroke-width="1.6" d="M250.3 59.2q2.9 -2.6 5.8 0M121.9 126.7q-2.2 .9 -3.6 -1.1M218.3 72.8q-2 3.3 1.3 5.3M279.7 12.4q3.2 -.9 5.9 1.1M191.9 89.6q-1.8 -.4 -2.2 -2.2M278.4 48q-2.3 -1 -2.7 -3.4M264.3 60q-.1 -2.8 -.2 -5.5M205.1 83.6q-1.8 .9 -3.8 .3M141.2 113.3q1.9 -3.9 5.8 -2.2M137.5 113.2q-.7 2.3 .1 4.7M195.1 92.4q-1.8 -1.6 -4.1 -1.5M246.8 66.4q-.2 -1.3 -1.6 -1.6M252.2 42.5q-1.2 -1.4 0 -2.7M208.3 82.2q1.9 2.3 4.9 2.5M274.8 35.3q-2.4 1.6 -4.5 -.2M360.3 2.8q2.9 -.4 4.9 -2.5M335.1 .6q-1.1 -1.8 -3.2 -1.2M304.6 3.3q.5 1.6 .5 3.4M250.4 64.7q-2.4 .4 -4.2 2M149.5 112.6q2.5 -1.8 5.2 -3.4"/><path stroke="#b8b8cc" stroke-width="1" d="M286.1 42.6l.6 1M259.1 55.9l1 .6M211.8 83.8l.8 -.9M255.1 63.7l-1.2 -.2M231.7 76.6l-1.2 .1M266.8 51.9l-1.1 .4M298.5 37l.1 -1.2M221.8 79.1l-1.1 .5M255.6 58.6l1.2 -.3M260.4 60.6l1.2 .2M227.5 74l-.3 1.1M258.4 60.8l-.8 .9M267.5 52.9l.9 -.8M219.1 82.8l.9 -.8M267.9 53.3l-.2 1.2M230.6 75.3l-.3 1.2M264.8 58.3l-.3 1.2M215 80.2l-1.2 .2M253.9 64l1.2 .3M254.7 63.3l.2 -1.2M236.6 74.6l1.2 -.2M265.3 52.2l-.6 -1M282.7 44.7l.1 1.2M286.8 43.9l.9 -.7M205 89.1l1.2 -.1M287.4 44.3l-1 .7M261 57.3l.6 -1M271.1 54.5l.4 1.1M212.6 80.9l1.2 0M248.3 63.1l.8 .9M232.8 75.9l-1.2 .2M260 60.1l-1.1 -.5M223.7 81.4l.7 1M263.5 56.8l.7 -.9M286 43l-.7 1M261.9 53.5l-1.1 .5M222.4 78.5l.2 1.2M254.1 59.6l0 1.2M272.8 52.9l-1 .6M255.4 64.1l1.2 .1M234.8 73.8l.2 -1.2M291.4 40.3l-1.1 .4M228.1 73.6l.7 1M207.6 85.4l-.7 -1M209.7 87.2l.8 -.9M235.3 73.7l.9 -.7M298.9 36.2l.1 1.2M287.5 45.2l.4 -1.1M234.5 72l.7 -1M222.4 82l-.1 1.2M212.6 85.4l-.9 .8M222.8 74.8l1.2 -.2M255.8 62.5l.1 1.2M233.7 71.8l.9 -.8M298 39.8l.8 -.9M271.3 52.2l-.5 1.1M241.5 67.4l-.7 .9M234.6 70.1l1.1 .3M225.1 78.3l.6 -1M281.7 48l1.1 .5M211.6 84.3l-1 -.6M270.4 50.8l-.5 -1.1M251.4 62l-1.2 -.1M289.6 41.7l1 .6M251.6 63.7l.4 -1.1M210.6 87.8l-.7 1M245.9 66.1l-1.1 .5M279 49.7l1.2 -.1M218.8 83.6l-.8 .9M230.5 77.8l-1.1 -.5M231.1 74.7l-.5 1.1M235.4 68l1.2 .3M211.1 81.5l1 -.6M294 36.4l-1.1 .4M269.9 53.5l.4 1.1M282.8 44.4l.7 -.9M285.5 47.7l-.1 -1.2M247.6 61.4l1.2 .3M279.3 45.7l1 .7M246.6 68.8l.3 1.2M209.8 86.6l-.6 -1M238.1 70.6l.4 -1.1M254.3 59.8l.9 -.8M226 77.3l-.4 -1.1M251.9 60.4l.8 .9M251.3 62l-1.1 -.5M290.9 42.2l1.2 .2M252.5 65.3l-1.2 -.2M226.2 78.9l.2 1.2M268.9 54.6l-1.2 -.1M264.2 59.4l.4 1.1M257.9 60.8l-1 .6M278.8 49.2l-1 .7M269.8 53.5l.4 -1.1M230.6 72.4l-1 .7M264.7 54.4l-.1 1.2M286.1 46.4l-1 -.6M291 43.4l.3 1.2M229.5 72.8l-.4 -1.1M205.6 90.6l.4 -1.1M237 72.1l-1.2 0M209.7 86.5l.3 -1.2M271.7 48.5l.3 -1.2M269.5 54.8l-.9 -.8M278.2 51.3l-1.1 -.5M279.5 49.3l-.7 1M269.1 54.1l.3 1.2M232 75.8l-1.2 -.1M254.9 63.4l.5 -1.1M231 72.3l.2 1.2M280.6 44.1l-1 .6M291.1 44.4l-1.2 .2M273.7 47.6l1.2 0M285.3 45.1l1.2 -.2M287.4 41l-1 .6M261.8 53.8l-.5 -1.1M220 82.7l-.1 1.2M256.4 57.5l-.3 1.2M281.3 50.1l.6 1M269 51l-.9 .8M238.6 67l-.9 .8M260.3 57.2l-.6 -1M251.1 60.3l-.8 -.9M239.8 70.2l-.3 1.2M253.7 62.5l.5 1.1M248 62.6l0 -1.2M274 48.1l-.9 -.8M213.2 84.4l-1.2 .1M280.5 46.7l1 -.6M294.6 36.2l.2 -1.2M258.5 62.1l.1 1.2M253.6 62.9l.5 -1.1M249.9 64.7l-.3 -1.2M255 57.4l-1 .6M259.6 59.8l.2 -1.2M246.6 65.9l-.3 -1.2M254.9 61.9l-.7 1M293.2 36.9l.9 -.8M278.1 47.5l-1 -.7M229.4 73.5l.9 -.8M295.8 35.7l-.7 -1M221 77.8l-1.2 -.1M279.7 50l1.1 -.5M205.9 90.2l.1 -1.2M206.4 86.8l-.2 1.2M206.7 85.1l.8 .9M231.1 70.9l1.2 -.1M231.6 74.5l.2 -1.2M239.6 72.3l.8 .9M250.7 62l-.5 1.1M210.8 87.5l-.4 -1.1M236.8 68.1l1.1 -.4M279.1 48.9l.8 .9M217 79.5l.6 1M254.3 59.9l-1.1 -.4M242 66.8l.6 1.1M248.5 66.7l-.4 -1.1M276.1 49.4l.5 1.1M265.6 52.3l-.4 1.1M288.7 39.8l-.2 1.2M221.4 80.7l.9 -.8M244.2 65l-.8 .9M255.2 61.4l-1 .6M254.7 61.3l.8 -.9M219.1 81.9l-1.1 .6M287.7 44.5l.3 -1.2M272.4 52.7l.3 1.2M292.4 41.2l1 -.7M269.3 55.3l-1 .6M266.9 55.8l.5 -1.1M227.8 72.6l.9 .8M254.4 61.8l1.1 -.4M243.2 69.1l-1.2 0M266 52.8l-1 .7M240.2 69.6l1.2 .3M250 60.3l-.4 -1.1M269.4 49.7l-.1 -1.2M232.5 70l-.7 -1M218.5 82.5l.2 -1.2M290.4 38.5l.4 -1.1M241.5 71l1.2 .3M236.1 72.6l-1 -.6M234.5 68.9l.3 1.2M265.8 55.2l1 .7M272.7 47.9l-1.1 -.5M296.3 36.7l-.4 1.1M232.4 71.4l-.2 -1.2M291.4 42l.8 -.9M243.7 68l.8 -.9M239.1 65.9l-.9 .8M214.9 83.5l-.4 -1.1M223.5 79.2l-1.2 -.2M238 67.2l-1.1 -.5M295.1 42.3l-.1 1.2M213 87.3l-.2 -1.2M217.4 84.6l.7 -1M216.2 81.2l-1.2 .2M240.4 69.1l.9 -.8M211.5 87.3l.9 -.8M249.3 65.6l1.1 .4M206.3 85.3l-1.2 .1M265.3 52.6l-.7 1M210.9 81.2l.9 .7M239.8 70l-.7 .9M225.9 80l-.8 .9M255.3 57.4l.1 -1.2M216.2 83.3l-.2 1.2M277.3 50.2l.3 1.2M247.9 61.3l.9 .8M278.4 50.7l.6 -1M259.4 61.7l1.2 0M288 42.8l.6 -1M212.8 83.8l.1 1.2M205.5 85.1l-1.2 -.1M225.5 79l-.4 -1.1M216.7 82l-.8 -.9M231.1 74l.4 1.1M289.1 40.6l-.1 -1.2M227.8 76.6l.2 1.2M217.1 81.8l1 -.7M244.4 70l-1.2 -.1M233.2 71.8l0 1.2M212 83.9l0 -1.2M216.9 83.9l.7 -1M249.7 66.4l1.2 0M241.1 65.7l-.4 -1.1M269.7 50.8l-1.2 .3M265 58.8l.6 -1M218.9 82.5l-.5 1.1M290.3 41.6l0 -1.2M215.7 81.9l-.4 -1.1M284.6 46.2l-.6 -1.1M253.7 64.2l-.9 .8M280.9 46.8l-.3 1.2M244.8 63l1.1 .4M268.5 53.2l1.1 -.6M227.9 71.9l1.1 .4M251.3 60.3l1 -.6M298 39.9l-1.2 -.2M293.1 42l-1.2 0M289.5 40.5l1.2 .2M228.3 78.6l-1.2 .2M270.1 52.3l.2 -1.2M218.7 77.6l-1.2 .1M214.9 80.5l.7 1M270.3 53.4l.8 -.9M251 64.4l.8 -.9M230.3 75.6l-1.2 .3M213 84.6l-.9 -.8M224.6 73.8l-1.1 .4M239.5 72.2l.3 1.2M235.7 73.9l-.2 1.2M285 41.3l.9 .7M294.7 38.6l1.2 .2M213.5 84l-.5 -1.1M288.9 43.5l-.8 .9M293.6 36.7l-.2 -1.2M259.4 61.2l1.1 -.5M237.9 72.6l-1.2 -.1M228.6 74.2l1.2 .1"/><path stroke="#b4eeff" stroke-width=".9" d="M129 125.7l-.8 -.9M174 103.8l.5 -1.1M171.6 107l1 -.7M187.5 92.9l-1 .6M188.5 100l-.2 1.2M159 108.8l.9 .8M191.7 93l1.2 .2M145.1 121.5l-.4 1.1M165.3 106.4l.6 -1M120.9 131.3l-.5 1.1M144.8 118.2l-.7 1M121.7 128.7l.5 1.1M161.3 108.5l-.4 -1.1M186.7 94.1l-1.1 .4M163.6 108.1l-1.1 -.6M117.1 135.3l1 -.7M142.7 116.6l-1.2 -.3M132.7 128.5l.1 -1.2M151.4 115.4l-1.2 .3M117.1 136.8l-.6 -1M156.5 113l.8 -.9M177.5 101l1.1 -.5M173 108.4l.9 -.8M132.6 123.4l-.5 -1.1M130.2 128.5l-.1 1.2M164.1 110.3l.4 -1.1M150.4 120.2l-.3 1.2M172 100.4l-.4 -1.1M192.1 95.1l-.9 -.8M118 133.9l.7 1M119.2 134l.1 1.2M146.6 117.1l.1 1.2M165.2 110l-.6 1M174.4 100.4l-.3 -1.2M175.8 104.7l.2 1.2M151.5 117.1l-.3 -1.2M161.2 107.1l0 -1.2M182.7 95.5l-.8 -.9M167.3 105.7l-1 .7M140.4 123.7l-.8 .8M150.8 114.1l.2 -1.2M121.3 128.6l.9 -.8M168 103.8l-.9 -.8M125 134.2l-1.2 -.2M191.6 90l1.1 .6M174.5 107.3l.7 -1M182.9 100l0 1.2M163.9 108.7l-.8 .9M189.8 95.3l.5 1.1M187.2 98.7l-1.1 .5M121.5 134.5l-1 -.6M171.9 102.3l-1.2 -.3M142.5 116.6l-.5 -1.1M185.9 100.9l-1.2 .3M145.4 123.7l1.2 -.3M141.8 116.8l.1 -1.2M177.1 106.1l1.1 -.5M138.2 120l-1.1 .5M148.9 113.1l1 .7M149.1 115.4l-1.1 .5M141.9 125.5l.8 -.9M175.6 99.4l1.1 .5M129.3 126.3l-.3 -1.2M193.5 92.2l-.8 -.9M164.2 108.3l.6 -1M171.6 102.1l0 -1.2M157.3 111.6l-.4 1.1M123 131.4l-.1 1.2M136.6 121.3l-1.2 -.2M184.3 100l.8 .9M189.3 98.9l1.1 .5M173.3 99.6l.5 -1.1M129.7 125.5l.2 1.2M164.7 111.8l.4 1.1M120.4 134.4l-.6 -1M180.9 99.9l.6 1M131.9 125.1l1.2 .1M157.7 112.2l-1.2 .2M127.2 129.1l1 -.6M131.3 129.7l-1.2 .2M170.3 104.5l-1.2 0M180.6 101.2l.1 1.2M122.6 135.7l1.2 0M185.6 101.4l1.2 .2M129.8 127.6l.4 1.1M138.7 118.4l-.3 -1.1M129.4 125.9l1.2 -.3M128.9 126l.4 -1.1M166.3 104.9l-1.2 .2M165.1 109.4l-.1 -1.2"/>
<path stroke="#e86000" stroke-width="1" d="M87.5 120.4L115.5 126.8"/>
<path stroke="#2838c8" stroke-width=".9" d="M88.3 119.6L116 125.9"/>
<path stroke="#e83010" stroke-width="1" d="M89.1 118.8L110 123.4"/>
<path stroke="#f8a000" stroke-width=".9" d="M90 118L104 121.2"/>
<path stroke="#3048d8" stroke-width=".9" d="M91 117.2L100 119.2"/>
</g>
<path d="M82 159.7L365 5.8" stroke="#fff" stroke-width="1.3" fill="none"/>
<path d="M82 161.2L365 7.3" stroke="#000" stroke-width="1.25" fill="none"/>
<path d="M114.3 143.6l5.3 2.1M153.7 122.2l5.3 2.1M193 100.8l5.3 2.1M232.2 79.5l5.3 2.1M271.1 58.3l5.3 2.1M310 37.2l5.3 2.1M348.7 16.1l5.3 2.1" stroke="#000" stroke-width="1.1" fill="none"/><path d="M82.7 161.1l1.2 .6M90.6 156.8l1.2 .6M98.5 152.5l1.2 .6M106.4 148.2l1.2 .6M122.2 139.6l1.2 .6M130.1 135.3l1.2 .6M138 131.1l1.2 .6M145.9 126.8l1.2 .6M161.6 118.2l1.2 .6M169.5 113.9l1.2 .6M177.3 109.7l1.2 .6M185.2 105.4l1.2 .6M200.9 96.9l1.2 .6M208.7 92.6l1.2 .6M216.5 88.3l1.2 .6M224.3 84.1l1.2 .6M240 75.6l1.2 .6M247.8 71.3l1.2 .6M255.6 67.1l1.2 .6M263.4 62.9l1.2 .6M278.9 54.4l1.2 .6M286.7 50.2l1.2 .6M294.5 45.9l1.2 .6M302.2 41.7l1.2 .6M317.8 33.3l1.2 .6M325.5 29.1l1.2 .6M333.2 24.8l1.2 .6M341 20.6l1.2 .6" stroke="#444" stroke-width="0.6" fill="none"/>
<text x="90.7" y="174.4" font-size="11.6" text-anchor="middle" stroke="#000" stroke-width=".2">-5</text>
<text x="124.9" y="154.5" font-size="11.6" text-anchor="middle" stroke="#000" stroke-width=".2">0</text>
<text x="164.5" y="133.4" font-size="11.6" text-anchor="middle" stroke="#000" stroke-width=".2">5</text>
<text x="207.3" y="112" font-size="11.6" text-anchor="middle" stroke="#000" stroke-width=".2">10</text>
<text x="246.4" y="90.7" font-size="11.6" text-anchor="middle" stroke="#000" stroke-width=".2">15</text>
<text x="285.3" y="69.5" font-size="11.6" text-anchor="middle" stroke="#000" stroke-width=".2">20</text>
<text x="324.3" y="48.6" font-size="11.6" text-anchor="middle" stroke="#000" stroke-width=".2">25</text>
<text x="362.7" y="28.1" font-size="11.6" text-anchor="middle" stroke="#000" stroke-width=".2">30</text>
</g>
<rect x="92.5" y="25.5" width="9.5" height="3" fill="#fff45a"/>
<rect x="92.5" y="28.3" width="9.5" height="3" fill="#ffdc00"/>
<rect x="92.5" y="31.1" width="9.5" height="3" fill="#ffbe00"/>
<rect x="92.5" y="33.9" width="9.5" height="3" fill="#ff9100"/>
<rect x="92.5" y="36.7" width="9.5" height="3" fill="#ff5000"/>
<rect x="92.5" y="39.5" width="9.5" height="3" fill="#eb0f14"/>
<rect x="92.5" y="42.3" width="9.5" height="3" fill="#c8005a"/>
<rect x="92.5" y="45.2" width="9.5" height="3" fill="#8c00a5"/>
<rect x="92.5" y="48" width="9.5" height="3" fill="#4b00be"/>
<rect x="92.5" y="50.8" width="9.5" height="3" fill="#141ed7"/>
<rect x="92.5" y="53.6" width="9.5" height="3" fill="#0064f0"/>
<rect x="92.5" y="56.4" width="9.5" height="3" fill="#00a5fa"/>
<rect x="92.5" y="59.2" width="9.5" height="3" fill="#1ed2ff"/>
<rect x="92.5" y="25.5" width="9.5" height="36.5" fill="none" stroke="#444" stroke-width="0.5"/>
<text x="112.5" y="21" font-size="8.5" text-anchor="middle" stroke="#000" stroke-width=".2">Mach</text>
<text x="108.5" y="38" font-size="7.5">0.1</text>
<text x="108.5" y="47" font-size="7.5">0.07</text>
<text x="108.5" y="56" font-size="7.5">0.04</text>
<text x="108.5" y="65" font-size="7.5">0.01</text>
<text transform="translate(190.3,134.3) rotate(-35)" x="0" y="3" text-anchor="middle" font-size="12" font-style="italic" stroke="#000" stroke-width=".2">x/h</text>
<rect x="85.9" y="85.5" width="72.3" height="58.3" rx=".8" fill="none" stroke="#222" stroke-width="1.2"/>
<path d="M161.3 146.6L188 160.2" stroke="#000" stroke-width="1" fill="none"/>
<polygon points="193,162.8 184.8,161.7 186.9,157.6" fill="#000"/>
<rect x="201.6" y="119.6" width="162" height="101" rx="1" fill="#fff" stroke="#b2b2b2" stroke-width="1.3"/>
<g clip-path="url(#ci)">
<polygon points="202,146.5 209,145 221.3,179 214,176.1 202,177" fill="#b4b4b4"/>
<polygon points="214,176 219,177.5 221,191.5 219.5,190" fill="#2a2a2a"/>
<polygon points="218.5,175 236,169 260,164 364,150 364,170.7 221,192.4" fill="#ababab"/>
<polygon points="238,141.2 242,139.4 246,138.2 250,137 254,135.7 258,134.3 262,133 266,133.8 270,134.6 274,135.5 278,136.5 282,137.5 286,136.9 290,134.7 294,132.5 298,130.2 302,127.8 306,125.9 310,125.6 314,125.3 318,125 322,124.7 326,124.3 330,124 334,123.9 338,123.7 342,123.6 346,123.5 350,123.6 354,123.7 358,123.8 362,123.9 366,124 366,150.8 362,151 358,151.2 354,151.5 350,151.7 346,152 342,152.2 338,152.4 334,152.7 330,152.9 326,153.2 322,153.4 318,153.6 314,153.9 310,154.1 306,154.4 302,154.6 298,154.8 294,155.1 290,155.3 286,155.6 282,155.8 278,156 274,156.3 270,156.5 266,156.8 262,157 258,157.2 254,157.5 250,157.7 246,158 242,158.2 238,158.4" fill="#b83a10"/><polygon points="238,157.4 242,157.2 246,157 250,156.7 254,156.5 258,156.2 262,156 266,155.8 270,155.5 274,155.3 278,155 282,154.8 286,154.6 290,154.3 294,154.1 298,153.8 302,153.6 306,153.4 310,153.1 314,152.9 318,152.6 322,152.4 326,152.2 330,151.9 334,151.7 338,151.4 342,151.2 346,151 350,150.7 354,150.5 358,150.2 362,150 366,149.8 366,159.8 362,160 358,160.2 354,160.5 350,160.7 346,161 342,161.2 338,161.4 334,161.7 330,161.9 326,162.2 322,162.4 318,162.6 314,162.9 310,163.1 306,163.4 302,163.6 298,163.8 294,164.1 290,164.3 286,164.6 282,164.8 278,165 274,165.3 270,165.5 266,165.8 262,166 258,166.2 254,166.5 250,166.7 246,167 242,167.2 238,167.4" fill="#50108c"/><polygon points="250,165.7 254,165.5 258,165.2 262,165 266,164.8 270,164.5 274,164.3 278,164 282,163.8 286,163.6 290,163.3 294,163.1 298,162.8 302,162.6 306,162.4 310,162.1 314,161.9 318,161.6 322,161.4 326,161.2 330,160.9 334,160.7 338,160.4 342,160.2 346,160 350,159.7 354,159.5 358,159.2 362,159 366,158.8 366,168.9 362,169.5 358,170.1 354,170.7 350,171.3 346,171.9 342,172.5 338,173.1 334,173.7 330,174.3 326,175 322,175.6 318,176.2 314,176.8 310,177.4 306,178 302,178.6 298,179.2 294,179.8 290,180.4 286,181 282,181.5 278,180.3 274,179.1 270,177.9 266,176.7 262,175.5 258,174.4 254,173.2 250,172" fill="#1898e8"/>
<g fill="none" stroke-linecap="round" stroke-linejoin="round">
<path stroke="#2838d8" stroke-width="1.7" d="M209.5 146q4.9 12.9 10.9 25.8"/>
<path stroke="#e82810" stroke-width="1.7" d="M212.6 145.6q6.1 12.3 10.5 24.7"/>
<path stroke="#30c8f0" stroke-width="1.7" d="M215.7 145.1q4.9 11.8 10 23.6"/>
<path stroke="#f06800" stroke-width="1.7" d="M218.8 144.7q5 11.2 9.5 22.4"/>
<path stroke="#1828c8" stroke-width="1.7" d="M221.9 144.2q3.1 10.7 9 21.3"/>
<path stroke="#d81828" stroke-width="1.7" d="M225 143.8q5.7 10.1 8.6 20.2"/>
<path stroke="#58d8f8" stroke-width="1.7" d="M228.1 143.3q2.9 9.6 8.1 19.1"/>
<path stroke="#f08000" stroke-width="1.7" d="M231.2 142.8q4.8 9 7.6 18"/>
<path stroke="#3040d0" stroke-width="1.7" d="M234.3 142.4q2.6 8.5 7.2 16.9"/>
<path filter="url(#oc)" stroke="#6ef0ff" stroke-width="4" d="M367.5 160.4q-2.1 2.4 -5 1M269.2 179.9q-3 -3.9 0 -7.9M295.8 163.3q0 4.1 -2.6 7.3M308.6 174.1q-.1 -3.4 -2.2 -6.2"/>
<path filter="url(#oc)" stroke="#1ed2ff" stroke-width="5" d="M335.5 169.9q-3.4 -1 -5.8 -3.7M293.7 171q-1.3 2.4 .5 4.4M326.1 172.1q-.3 1.6 -1.5 2.8M273.5 165.2q3.6 .6 5.1 3.9M327.5 163.7q-3.3 1.9 -4.8 5.4M278.3 173.6q-2 3.3 -4.9 5.7M267.4 162.6q1.6 4.8 -2.6 7.6M323.8 170.5q-.2 4.2 -4.4 4.2M299.9 177.1q-1.5 -4.3 2.5 -6.4M307.9 168.8q2 -1.6 .7 -3.9M314 171.8q2.3 -.1 3.3 2M277.9 165.8q-2.3 2.8 -5.8 3.7"/>
<path filter="url(#od)" stroke="#8c00a5" stroke-width="5" d="M330.6 160.3q.5 -4.2 3.5 -7.2M355.1 154.7q1.9 2.7 -.3 5M300.5 138.1q-.7 4.1 -4.7 5.3M358.9 154.9q2.9 -.1 5.8 -.8M314.3 134q1.4 -2.5 1.8 -5.4M322.8 156.8q.3 3.5 -2.7 5.2M249 143.4q1 -2.8 1.6 -5.7M330.6 142.9q-2.1 2.5 -5 1.1M320.4 132.3q3.4 -2.9 2.1 -7.2M286.1 160.9q-1.2 -2.8 -1.4 -5.8M310 153.5q1.7 -2.2 4.5 -2.9M343.5 153.7q1.5 2.9 -.4 5.5"/>
<path filter="url(#od)" stroke="#c8005a" stroke-width="4" d="M248 163.2q-.9 2 -1.8 4M316.7 159q-3.8 -2 -4 -6.3M307.3 159.8q-.1 -3.2 -2.3 -5.6M254.9 168.1q1.9 1.6 3.5 3.4"/>
<path filter="url(#oc)" stroke="#00a5fa" stroke-width="4" d="M358.1 136.7q-.9 2.5 -3.6 2M304.8 174.8q4.3 -1 6.8 2.7M325.8 172.9q1.5 .3 3 .9M316.9 168.8q2.2 -2.9 3.6 -6.3M363.4 163.2q-.2 -2.3 1.6 -3.8M307.7 170.6q4 -.9 5.2 -4.8M365.3 166.2q-2 -2.4 -4.5 -.5M364.1 167.3q-1.7 -2 -4.1 -2.9M348.4 166.4q-2.2 -3.2 -.4 -6.6M273.9 174.9q-2.4 -1.4 -3.8 -3.9M309.6 173.1q.1 -2.9 -2.8 -3M312.8 135.9q-2.7 .6 -3.5 -2M280.5 178.1q-.9 -1.9 -.5 -3.9M271.6 175.4q-2 -1.7 -4 .1M329.2 154.2q-5 .2 -6 -4.7M303.8 163.9q3.1 -.3 5.6 -2.1"/>
<path filter="url(#od)" stroke="#8c00a5" stroke-width="4" d="M288.5 147.9q-1.2 1.5 -.4 3.2M345.3 154.7q.3 3.4 -1.5 6.4M340.5 145.3q-3.3 2.2 -6 -.7M309.6 146.6q-4 3 -7.5 -.5M258.1 133.4q1.2 4.2 -1 7.9M312 152q-2.1 -1.6 -2.3 -4.2M338.1 153.1q-1.9 1.2 -1.3 3.4M245.5 163.3q-2.4 -.6 -4.8 -.2M339.8 135.6q-1.9 -.2 -3.3 1"/>
<path filter="url(#od)" stroke="#eb0f14" stroke-width="5" d="M255.2 162.5q3.2 -1.8 6.9 -1.4M274.9 142.2q2.9 -4.7 7.6 -1.9M267.7 152.1q2.5 .3 3.2 2.8M271.6 155.7q-3.9 1.2 -5 5M311.3 129.4q-.2 3.8 3.4 4.8M241.8 143.9q3 -1.1 5.7 .7M342.1 147.9q-2 .6 -3.7 1.7M347.5 143.6q-2.6 3.9 -6.7 1.5M334.6 149.3q-1.2 3.2 -4.5 4.2M329.5 126.1q4.3 -.2 5 4M255.3 135q-1.3 2 -3.4 3.1M323.6 129.8q-1.2 1.5 -3 2M278.7 157.7q-2.7 1.2 -5.4 0M257.6 158q3.5 1.4 6.9 3.1M363.5 131.4q-.3 -4.3 3.8 -5.6M301.9 135q-2.1 -3.4 -3 -7.2"/>
<path filter="url(#od)" stroke="#fff45a" stroke-width="4" d="M351.2 141.1q3.6 -1.8 7 .3M347.5 130q-1.9 .8 -3.8 -.2M353.3 145.5q-2 .9 -3.5 -.8"/>
<path filter="url(#od)" stroke="#c8005a" stroke-width="5" d="M354.1 153.6q-2.1 1.1 -4.2 2.2M363.7 149.9q-2.4 -.2 -3.8 1.8"/>
<path filter="url(#od)" stroke="#ffbe00" stroke-width="4" d="M262.7 144.7q.5 3.7 -3.1 4.7M316.6 138q.9 -2.2 2.5 -3.9M248.8 158.6q-1.9 1.8 -1 4.2M256 141.2q3.6 2.1 7.2 0M265.1 145.3q1.4 3.4 4.3 5.7"/>
<path filter="url(#od)" stroke="#ffbe00" stroke-width="5" d="M329.3 141.5q-2 -3.8 -6.3 -3.4M325.7 136.2q1 -3.5 .1 -7.1"/>
<path filter="url(#od)" stroke="#141ed7" stroke-width="5" d="M269.5 146.9q-2.4 -.5 -2.3 -2.9M263.1 141.1q-2.9 3.9 -6.9 1.2M347.9 133q1.3 -3 0 -6.1M258.2 154.9q2.2 -.6 2.9 1.6M364.5 158.2q.8 -1.6 -.1 -3.1M351.4 134.7q-.9 -1.3 -2 -2.5M267.5 160.4q1.4 -3.5 -.7 -6.6M348.4 139.6q-1.8 -1.7 -1.6 -4.1M286.9 144.2q2.1 -.1 4.2 -.8M345.5 155.2q2.6 -2.7 5.8 -.7M254.2 142q1.7 .8 3.6 1.2M349.3 152.8q-3.3 -2.3 -7 -.8M329 149q3.9 .1 7.7 -1.2M290.9 140.5q-1.6 3.4 -.3 7M254.5 144.2q.6 -2.8 3.4 -3.6"/>
<path filter="url(#od)" stroke="#0064f0" stroke-width="4" d="M265.4 152.8q-1.4 .7 -2.7 1.7M313.9 163.1q-1.1 -1.8 -3.3 -1.7M350.9 154.6q1.9 1.8 .2 3.8M337.1 138.5q-1.9 -1 -4 -.9M285.4 160.1q-3 -.1 -3.3 -3.1M325.6 128.2q1.5 2 1.7 4.5M329.3 169.5q1 -4.2 -2.4 -7M258.5 164.2q-1.9 -2.5 -3.7 -5.1M363.2 167.4q-1.6 -2.6 -4.6 -2.3M290.8 162.2q-3.2 3.1 -.5 6.6M300.6 174q-1.5 2.2 -2.5 4.7M262.9 167.2q3 2.7 5.2 6M291.1 168q1.7 -1 1.6 -2.9"/>
<path filter="url(#od)" stroke="#ffdc00" stroke-width="5" d="M312.6 146q-4.7 -.7 -6 3.8M266.2 150.9q-.2 -2.1 -1.1 -4.1M323.7 147.1q-3.9 1.5 -5.4 5.4M334.4 135.7q2.6 -1.4 4.4 -3.7M367.3 134.8q-1.8 -.1 -3.6 -.2M296.7 129.9q1.3 2.2 .5 4.7M365.7 132.1q-2.8 0 -3.7 -2.7"/>
<path filter="url(#od)" stroke="#ff9100" stroke-width="5" d="M254.3 147.2q-3.2 -2.2 -6.4 -4.4"/>
<path filter="url(#od)" stroke="#eb0f14" stroke-width="4" d="M298.9 148.5q-1.2 1.2 -2 2.6M342.3 145.5q3.2 1.9 6.8 3M265.2 137.4q.6 -2.3 -.1 -4.5M245.3 143.5q1.7 3.5 4.4 6.2M259.2 158.6q2.8 -.1 5.1 1.4M312.8 136.4q3.6 -2.3 6.8 .5M354.7 133.2q-3.6 0 -6.7 -1.8M343.2 124.8q.6 -1.5 1.3 -3M338.9 121.8q1.5 .5 2.6 1.6M266.9 142.4q.9 -2.2 -.5 -4M352.3 131.9q2.2 .5 4.3 1.3M339.6 160.9q4.1 -.1 7.3 -2.6M249.6 137.3q-2.7 1.6 -2.6 4.7M253.8 143.4q-3.1 .7 -3.1 3.9M288.6 150.8q-3.3 1.5 -6.6 3.2M327.3 135.7q-3.8 1 -5.9 -2.3M304.8 150.9q1.9 1.6 1.6 4M345.1 146.2q-.8 2.3 -3 3.2M278.7 145.8q-.1 1.9 -1.7 3.1M308.1 144.1q3.6 2.7 3.1 7.1M283.6 143.7q1.9 .8 2.2 2.9M317.5 122.3q-3.7 1.8 -4.1 5.9M319.1 148.3q-1.7 -1 -3.6 -1.7"/>
<path filter="url(#od)" stroke="#ff5000" stroke-width="5" d="M359.7 140.2q-1.7 2.2 -.8 4.8M320.6 157.3q-1.4 -3 -.9 -6.3M347.2 136.1q2.3 -.2 4.6 -.6M340.4 140.2q2.6 .4 5.1 1.1M247.6 150.3q2.3 -3.7 -1.1 -6.5M313.8 133.7q-2.4 2.4 -3.4 5.7M309.6 149.9q.8 2.8 -1.4 4.7M323.5 152.3q-1.7 -1.9 -.2 -4M334.2 153.2q2.9 -2.3 3.1 -6M342.9 124.6q-.5 1.8 -2.1 2.7M279.3 161.4q2.4 -.7 4.7 .3M290.9 155.3q1.5 1.2 3.2 .2M247.5 148.4q-3.4 1.6 -5.9 4.4M320.3 153.5q-1.6 -2.3 -4.2 -3.1"/>
<path filter="url(#od)" stroke="#0064f0" stroke-width="1.5" d="M235.1 160.4q.8 0 1.5 -.3"/>
<path filter="url(#od)" stroke="#0064f0" stroke-width="5" d="M355.6 137.8q2.2 2.9 5.7 3.7M318.7 132q-1.2 5.2 4 6.6M290.5 171.4q.9 -1.9 -.2 -3.6M259.7 157.4q4.4 1.8 3.4 6.4M345.7 130.8q2.3 3.6 6.5 3.4M273.9 178.4q-1.4 -3.7 .4 -7.2M353 126.5q1.8 1 3.5 -.2M356.4 158q.7 3.3 4.1 3.7M321.9 136q.4 -2.9 2.8 -4.6M318.8 159.6q.9 -2.7 -1.6 -4M349 158.5q-5 -1.5 -7 3.4M257.9 145q-.1 1.8 1.4 2.8"/>
<path filter="url(#oc)" stroke="#6ef0ff" stroke-width="5" d="M356.3 166.2q1.6 -.6 3.3 -1.1M312.2 175.6q-1.4 -3.9 1.4 -6.9M296.9 171q-2.9 -.7 -5 -2.9M292.1 161q-3.4 1.7 -2 5.3M357.4 156.6q1.5 3.5 .8 7.3M347.9 159.3q.3 2.7 -2.3 3.6M337.6 167q-.8 -3.1 -.1 -6.2M286.4 177.1q.6 -1.6 1.8 -2.8M275.3 179.3q2.3 -1.7 4 -4M332.6 169.4q-3.1 -2.2 -3.4 -6M282.7 173.6q-3 1 -4.6 3.8"/>
<path filter="url(#od)" stroke="#ff5000" stroke-width="4" d="M245.3 155.4q-1.7 1.5 -.4 3.4M260.7 136.4q-1.8 1.7 -4.1 .9M252.2 134.4q2.2 1.4 4.5 2.6M306.1 142.7q2 -1.5 2.9 -4M361.3 160q3 -1.4 2.2 -4.6M265.4 144.9q-3.3 -.2 -3.3 -3.6M347.9 122.4q4.1 -.3 5 3.7M270.5 164.1q-1.8 -.5 -2.7 -2.3M323.3 125.8q-3.8 2 -3.6 6.3M302.1 130.5q.7 -1.8 1 -3.7M263 149.3q-1.9 -.3 -3.3 -1.4M298.8 134.8q-2.7 -2.7 -4.2 -6.3M336.6 158.3q-3.3 -.7 -2.9 -4.1M291.6 138.9q-1.6 -1 -2.7 -2.5M304.5 144.6q3.8 .5 4.9 4.1M324.6 143.2q0 -2.7 -2.4 -3.7M287 155.2q-1.1 -2.6 .9 -4.5"/>
<path filter="url(#od)" stroke="#4b00be" stroke-width="5" d="M269.3 159.5q.6 3.6 -1.1 6.9M297.7 156.8q2.7 -2.2 5 -4.7M362.2 157.6q-3.9 -1.1 -4.9 -5.1M299.1 160.3q2.8 2.3 5.9 .6M346.2 154.3q-4.5 -.1 -7.1 3.6M339.9 158.2q-2 -.7 -3.1 1.1M360.1 134.3q-2 -2.7 -5 -1.2"/>
<path filter="url(#od)" stroke="#ff9100" stroke-width="4" d="M360.5 125.5q-4.4 -.2 -4.6 -4.6M238.4 165.4q3.1 -2.9 2.2 -7.1"/>
<path filter="url(#od)" stroke="#4b00be" stroke-width="4" d="M355.1 160.7q4.6 .1 6.8 -3.9M290.5 141.9q-2.2 -1 -1.2 -3.2M251.7 143.1q3.8 1.8 6.8 -1.1M325.6 156.5q.7 -3.3 1.9 -6.5M283 138.8q2 -1.2 1.1 -3.4M303.2 165q-1.6 -3.4 1.7 -5.1M344.9 145.1q1.2 1.1 2.7 1.9M351.1 152.1q-5 .8 -6.6 -4"/>
<path filter="url(#od)" stroke="#fff45a" stroke-width="5" d="M261.6 132q-1.1 3 -4 4.1M257.4 148.9q1.3 -2 1.2 -4.5"/>
<path filter="url(#od)" stroke="#4b00be" stroke-width="1.5" d="M236 155.6q.4 -.8 1.3 -.7M236.5 142.2q.3 -.7 .5 -1.4"/>
<path filter="url(#oc)" stroke="#00a5fa" stroke-width="5" d="M306.6 170.8q-.4 -2 -2.1 -3.2M278.1 182.4q4.5 -2.2 3.1 -7M274.2 175.8q-1.7 .1 -3.2 -.8M289.9 177.2q-2.3 1.1 -3.8 -.9M276 150.9q1.9 -.9 3 -2.7M270.5 176.6q2.2 -3.5 6.3 -3.7M315.5 173q2.4 1.8 4.8 .1M356.2 130.2q1.5 -3.1 -.4 -5.9M266.7 174q3.7 -1.1 5.9 -4.3M279.2 167.2q-2.7 -.3 -5.3 -.9M364.2 162.4q.9 2 3 2.2M286 172.3q2.4 -1.9 5.3 -2.7M336.6 147.9q-1.6 -.8 -2.8 -2.2M364.4 147.5q-.4 -3.9 -1.2 -7.7M283.6 145.8q-4.4 .1 -5.4 -4.2M281.2 179.8q-1.2 -1.9 .1 -3.8M333.6 140.4q0 2.6 -2.1 4M340.8 125.4q2.2 2.7 5.2 .9M279.6 170.3q-3.1 -.8 -6 .3"/>
<path filter="url(#od)" stroke="#141ed7" stroke-width="4" d="M343.5 127.4q.4 2 1.7 3.6M308.1 156.8q2.9 .2 4.3 2.6M241.7 158.8q1.9 -1.7 2.5 -4.2M302.3 127.9q.6 3.6 .7 7.3M364.3 141.5q2.6 -2.7 1.1 -6.2M346.7 122.9q1.3 1 3 .7M286 153.3q-.7 1.5 -.8 3.2M327.7 129.1q3.3 -1.7 5.8 1.1"/>
<path filter="url(#od)" stroke="#ffdc00" stroke-width="4" d="M313.7 149.5q5.2 -1.5 3.8 -6.8M312.7 140.3q2.7 1.9 4.9 -.5M354.1 123.3q-1.5 1.9 -.3 3.9M340.4 153.9q-.7 2.1 0 4.1M267.2 135.1q-1.3 3.3 -4.7 2.3M247.8 158.5q-2.7 1.7 -5.7 .7M276.4 146.6q-3.3 1 -4.9 4.1M304.4 146.5q2.1 2.7 5.1 4.3M308.2 154.7q-1.6 -1.2 -2 -3.1M285.8 145q-1.1 -2.6 -4 -2.4M320.5 140.8q-.2 -3.1 2.8 -3.8M341.7 135.3q.3 3.4 1.1 6.8M249.8 145.8q-1.7 3.5 -3.4 7"/>
<path filter="url(#oc)" stroke="#1ed2ff" stroke-width="4" d="M270.9 171.1q1.2 -1.8 2.4 -3.6M299.4 170.3q1.7 -2.9 2.8 -6.1M339.1 172.2q2.7 -2.1 5.9 -3.4M318.2 172q2.2 1 3.9 -.6M280 178.3q-2 .3 -2 2.2M337 173.9q-1.1 -4.6 3.1 -6.9M331.4 164.4q1.9 -3.1 5.3 -4.4M342.6 166.2q2.5 -2.7 5.9 -1.4M298.3 179q-1.9 -2.9 -5.2 -1.8M281.7 166.7q.4 -4.5 4.7 -5.9M307.6 164.4q0 2.4 -.4 4.8M347.9 158.6q.7 3.2 3.9 4.1M257.7 162.7q-1.6 3.6 -3.7 7M305.2 160.9q1.8 2.5 4.7 3.5"/>
<path filter="url(#od)" stroke="#8c00a5" stroke-width="3" d="M313.5 129.5q1.6 1.2 3.3 2.1M321.7 140.1q-2.2 -1.3 -4.1 -3M347.9 131.6q1.3 -1.2 1.8 -3M345.8 161.9q2.3 -1.9 3.9 -4.4M328.8 154.4q3.2 1.8 5.6 -1M344 156.1q4.9 .1 5 5M248.7 170.6q2.5 .9 3.6 -1.6M288.5 136.4q2.7 1.7 3.8 4.7M305.1 127.6q1.4 3.5 .7 7.2"/>
<path filter="url(#od)" stroke="#8c00a5" stroke-width="4" d="M263 161.2q-4 1.9 -2.4 6M293.1 147.1q-3.3 2.9 -6.6 .2M360.1 155.8q4.5 -.2 5.7 -4.6M314.6 162.9q.8 -2.1 .6 -4.3M284.9 136.5q-3 1.5 -2.4 4.8M262.6 173.4q-3.4 -1 -3.2 -4.5M327.2 155.7q-.9 2.2 -.1 4.4"/>
<path filter="url(#od)" stroke="#ffdc00" stroke-width="4" d="M266.9 141.2q.1 2 -1.7 2.8M353.1 125.5q-5 .7 -6.6 -4.1M329.3 129.9q-1.1 2.4 .6 4.4M317.3 137.1q-1.2 3.7 -5.1 3M305.6 142q-1.5 -.8 -2.8 -1.9M365.3 127.5q-4.7 .5 -5.6 5.2M364.8 134.9q-.3 -2.4 1.4 -4M329.4 133.2q-1.4 -5.2 3.3 -7.6M355.4 140.5q-3.8 1.7 -2.9 5.7M349.6 144q-1.2 -4 2.1 -6.4M310.4 132q-4.5 1.5 -8.6 -.8M361 124.4q-.2 3.1 1.2 5.9M357.4 130.4q-3.5 -.8 -6.6 .9M252.1 145.2q5.7 -1.5 7.3 4.2M307.3 137.5q-2.1 3.1 -3.5 6.7M364.9 150.7q-2.7 .1 -3.8 2.6M327.2 130.5q-.5 -1.8 .8 -3.1M284 141.5q3.6 1 6.3 -1.6M281.7 162.3q1.6 -1.6 0 -3.3M330.3 146.1q2 -2.2 0 -4.5M244.9 138q1.6 -.7 3.4 -.3"/>
<path filter="url(#od)" stroke="#ff5000" stroke-width="3.5" d="M317.8 129.8q-.2 -2.2 1.7 -3.3M364 139.7q0 -3.1 -3.1 -3.7M330.1 134.7q4.8 -2.2 4.1 -7.4M340.9 128.6q-2.4 .6 -4.2 2.3M361.4 135.2q-1.1 3.2 -2.5 6.3M367.5 125q-4.9 1.4 -3.6 6.4M283.1 155.7q1.6 1.8 3.8 .7M309.1 124.6q-.1 1.7 -.7 3.2M265.2 136.1q-1.5 3.5 -4.8 5.6M254.2 143.7q-3.4 -3.8 -8.4 -2.7M258.4 143.9q-1.7 -.2 -3.1 -1M293.8 162.5q2.4 .6 4.7 -.5"/>
<path filter="url(#od)" stroke="#4b00be" stroke-width="3" d="M246.3 157.9q-.3 3.7 1.9 6.7M287 136.6q0 4.1 -3.4 6.2M318.7 124.6q1.5 -1.1 1.1 -2.9M246.5 151.4q-3.6 -2 -7.5 -.5M296.9 134.5q-4.8 1 -5.7 5.9M273.2 151.7q-2 1.3 -4.3 2M278.9 156.8q2.6 1.8 5.8 1.9M312.2 130.5q-3.8 1.2 -5.5 -2.3M317 156.6q.8 1.8 -.3 3.5M353.9 157.2q1.5 -1.8 1.3 -4.1"/>
<path filter="url(#od)" stroke="#eb0f14" stroke-width="3" d="M364.9 138.2q1.3 -3.4 .6 -7M359.1 144.4q2.9 1.3 4.2 4.2M265 140.7q2.4 3 -.3 5.7M250.3 162.4q3 -.3 5.5 -2M298.1 159.2q-2.4 -.2 -3.4 2M342.3 131.3q2 -2.2 4.8 -1.2M314.6 155q3.8 2.3 2.8 6.6M270.9 161.2q-1.3 1.7 -3.1 .7M347.6 135.2q-.4 -2.8 -1.5 -5.5M334 132.2q-3.6 -1.9 -3.9 -6M326.6 139.1q-4.2 1.1 -7.6 -1.7M309.5 128.2q-4.1 -1.1 -5.7 2.8M356 151.3q-2.4 -4 -7 -3.7M359.1 147.7q2.1 -3.4 .6 -7.2M353.3 137.6q-2.5 -1.9 -1.1 -4.8M367.1 122.8q-2.4 -.7 -4.9 -.6M308.8 129q-1.1 2.3 -3.1 4M259.8 164.6q-5.3 -.2 -7.2 4.7"/>
<path filter="url(#od)" stroke="#4b00be" stroke-width="4" d="M338.8 149.4q5.1 -.2 5.4 4.9M324.7 120.5q1.6 3.9 -.9 7.2"/>
<path filter="url(#oc)" stroke="#00a5fa" stroke-width="3.5" d="M334.5 164.6q-3.9 2.4 -8.3 3.2M333.7 124.8q2.6 2.5 6 1.5M300.1 166.5q-1.8 1 -4 1.1M257.5 162.5q.3 4.4 -3.6 6.5M285.7 168.9q.6 -2.9 3.6 -3.1M327.4 167.2q-.8 4.1 2.6 6.5M317 133q.7 2.5 1.7 4.9M256.2 176.2q-1.2 -3.8 1.8 -6.5M272.2 164.1q-2.8 3.7 -7.4 4.7M309.7 165.3q-.2 -2.1 1.8 -2.8M291.9 170.5q1.7 -1.1 3.6 -1.6M289 172.5q-1.8 -1.5 -3.9 -.4M299.5 175.1q2.2 .1 3.6 -1.6M346.1 162.8q-2.7 1.8 -5.3 .1M304.7 169.3q0 3.6 -2 6.6"/>
<path filter="url(#oc)" stroke="#1ed2ff" stroke-width="3.5" d="M344.6 172.1q2 -3.2 5.3 -5M342.2 172q-1.7 .4 -3.3 0M320.8 170.6q2.3 1.4 4.9 .9M260.6 162.7q4.2 1.7 5.3 6.1M328.2 166.8q3.1 -.9 6.2 -1.1M335.9 159.9q-4 1.2 -8.1 2.1M353.2 160.9q1.9 3.2 3.5 6.7"/>
<path filter="url(#od)" stroke="#c8005a" stroke-width="3" d="M261.8 163.3q2.6 2 5.8 1M316 153.4q.5 2.1 2.6 1.8M244.3 164.2q-.9 -2.6 -1.5 -5.3M341.1 153q-1.8 -.9 -3.2 .4"/>
<path filter="url(#oc)" stroke="#1ed2ff" stroke-width="3" d="M355 159.9q.3 3 -.8 5.8M335.6 160.9q-3.6 1.4 -7.5 1.6M294.7 180.5q-3 -3.1 -1.7 -7.2M237.4 170.5q4 -1.5 8.1 -3.1M306.6 170.7q-2.4 1.2 -5.1 2M356.5 161.3q-1.9 1.4 -3.9 .2M285.8 174.2q-4.3 .3 -6.7 3.9M273.6 167.7q2.9 3 6.1 .2"/>
<path filter="url(#od)" stroke="#141ed7" stroke-width="3.5" d="M347.3 127q2.1 -2 4.7 -.6M270.3 152.2q2.6 1.7 4.9 3.8M260.8 156.6q-1.9 -1.4 -4.4 -1.4M271.7 148q2.7 -.6 4 1.8M277.7 160.8q.3 -1.5 1.1 -2.9M264.3 155.8q3.7 -2.1 7.8 -3.3M265.9 158.6q.5 3 -2.5 3.8M273.8 161.4q-3.3 -.9 -6 -3.1M318 150.8q1.6 3.5 -1.3 6.1M336 154.5q-.5 -3.7 -4 -4.9M341.4 147.9q2.1 1 4.5 1.1M268 156.4q2.6 2.2 5.1 4.5M305.9 162.9q2.6 -.7 5 -1.9"/>
<path filter="url(#od)" stroke="#4b00be" stroke-width="3.5" d="M295.7 157.6q-4 3.6 -7.7 -.4M317 138.7q.5 4.3 -1.2 8.3M303.4 161.1q-2.2 -3.3 -6.1 -2.9M282.9 160.5q.8 -3.7 4.1 -5.5M248.6 156.5q-2.6 -1.4 -2.3 -4.3M319 145q-3.1 -.7 -5 -3.3M255.5 139q0 1.9 -.2 3.7"/>
<path filter="url(#oc)" stroke="#6ef0ff" stroke-width="3.5" d="M291.7 176.3q-2.8 -2.2 -6.4 -2.4M337 161.9q-4.1 .4 -5.1 4.4M270 177.5q-.2 -3 0 -5.9M312.8 167.6q-2.5 -1.9 -4.7 -4.1M288 181.3q-4.3 0 -4.5 -4.3M317 173.4q2.8 -1.8 3.4 -5.1"/>
<path filter="url(#od)" stroke="#0064f0" stroke-width="3" d="M317.2 136.2q-1.1 3.6 1.5 6.3M292.3 134.4q3.2 -.1 5.8 1.6M352.1 155q2.7 -3.8 -.8 -7M319.5 165.3q4.6 -2.5 3.2 -7.5M252.7 152q.9 1.3 2.2 2.2M272.3 174.8q-3.9 .3 -4.6 4.1M357.7 142.2q-2.4 1.4 -4.6 3.1M259 138.3q-2 -.4 -3.9 .5M330.5 162.6q-2.1 -3.7 .2 -7.3M258.7 151.5q2.1 -1.3 2.1 -3.8M307.5 166.4q3.5 2.9 2.5 7.4M340.1 131.4q3 -2.6 3.4 -6.5M360.7 154.2q-2.5 2.5 -1.1 5.8M332.9 124q-2.3 -1.2 -4.9 -.6M272.1 165.9q2.1 3.1 2.7 6.9"/>
<path filter="url(#od)" stroke="#ff5000" stroke-width="3" d="M311.5 139.7q3.9 -.3 4.6 3.6M263.9 154.9q1 -3.9 -2.7 -5.7M319.1 131.1q1 -1.8 2.9 -2.7M329 145.8q2.8 -4.2 7.5 -2.4M322.5 128q2.5 -2.3 5.9 -2.5M324.8 141.8q.3 -3.4 -.1 -6.9M314.2 148.7q-1.2 -4.5 -4.9 -7.2M313.8 128.2q1.9 -3.5 2.7 -7.4M300.5 136.6q-1.8 -3.6 -5 -6M277 155q1.5 2.9 1.2 6.1M263.1 141.2q-1.1 2 -3.3 2.7M338.4 141.1q-.7 -1.4 -1.7 -2.6M335.8 135.6q.9 2.3 3.4 2"/>
<path filter="url(#od)" stroke="#eb0f14" stroke-width="3.5" d="M354.5 147.5q-2.4 3.2 .7 5.6M339.3 143.4q1.9 -.5 3.4 -1.6M243.5 141.2q0 2.4 -.8 4.6M294 151.9q1.7 5.1 6.8 3.4M291.8 158.7q.3 -2.5 -1.9 -3.8M281.9 139.6q1.6 1.5 3.7 1.4M354.4 156.9q2.2 .1 3.7 -1.6M358.8 130.5q0 -4.8 4.6 -6M245.4 150q3.3 .9 6.7 1"/>
<path filter="url(#od)" stroke="#8c00a5" stroke-width="3.5" d="M285.5 134.8q2.6 .3 4.9 1.6M260.1 164.1q1.2 1.9 3.3 2.4M249.7 167.4q2.1 -4.7 -2.6 -6.8M321.2 141.9q-2 -3.6 -5.7 -5.4M364 153q1.3 -1.5 3 -2.2M255 159.3q.8 -1.6 .2 -3.4M328.9 155.4q-2.5 -2.7 -6.2 -2.7M317.3 162.8q.8 -2 .4 -4.2"/>
<path filter="url(#od)" stroke="#fff45a" stroke-width="3.5" d="M331.4 138.2q3.3 .1 6.2 -1.5M304.1 139.8q4 -1.7 8.4 -1.5M243.9 145.1q-2 3.8 1.2 6.7M251.8 140.7q1.4 -2.9 -1.2 -4.9M357.5 147.3q3.1 -2.7 6.6 -.6M263.6 142.8q4.2 -.7 5 -4.9M349.9 126.6q-3.6 2.1 -6.8 -.5M366.9 123.4q-2.6 -.2 -5.1 -1M282.9 145.9q4 -1.9 8.4 -2.6M244.8 146.4q3.2 -1.4 5.4 1.4M316.4 130q-.9 2.6 -1.1 5.3"/>
<path filter="url(#od)" stroke="#141ed7" stroke-width="4" d="M304 160.2q-2.6 0 -4.8 1.3M246.2 135.9q.2 5.6 5.8 6.4M258.3 140.4q-1.6 4.2 -4.6 7.7M362.3 125.4q-1.8 4.9 2.8 7.3M348.1 131.7q4.5 -1.1 6.9 -5.1M321.2 145.4q-1.6 -2.6 -4.3 -4M255 156.8q.9 3.3 -1 6.2M354 141.7q1.6 1.4 1.1 3.5M306.4 136.6q.4 2.6 1.1 5.1M263.5 145.4q3.2 -2.5 7.2 -2.1"/>
<path filter="url(#od)" stroke="#ffdc00" stroke-width="1.5" d="M238 141.2q-.7 .2 -1.4 .4"/>
<path filter="url(#oc)" stroke="#6ef0ff" stroke-width="3" d="M323.8 164q.1 4.1 3.2 6.8M307 171.7q-4.1 -1.7 -8.4 -.7M273.7 177.6q1.9 -.8 4 -1M280.8 169.3q-3.3 1.1 -4 4.5M334.5 167.6q-1.6 -1.5 -3.6 -.8M282.4 170.6q1.2 1.4 2 3.1M313.3 170.3q-.3 2.3 -2.5 3.1M343.5 166.2q1 -4.1 -2.5 -6.5M342.2 174.7q-2 -3.1 -.3 -6.4M276.5 165.7q2.1 1.8 3.7 4.1"/>
<path filter="url(#od)" stroke="#fff45a" stroke-width="4" d="M315.8 128.5q2.2 .5 3.1 -1.5M349.7 150.8q-2.5 -2.5 -.5 -5.5M286.4 145.2q-.1 3.3 -2.9 5.1M272.7 154.6q1.1 -1.8 3.2 -1.6M258.3 144q2.3 1.3 2.9 3.9M327.2 129.3q-.6 4.6 4 5.4M317.9 148.7q-1.3 -5.6 -7.1 -5.5"/>
<path filter="url(#od)" stroke="#ffdc00" stroke-width="3.5" d="M259.5 142.1q-2.8 .9 -2.5 3.9M303.1 135.4q1.2 3.3 2.5 6.5M358.6 124.4q1.9 -1.1 3.7 .1M301.9 142.1q3.9 -1.1 3.8 -5.2M333.7 139.8q-.2 -3.3 3 -3.9M255.7 133.1q-3 1.8 -3.7 5.2M285.1 137.6q1.6 5 -3.3 7.1M348.8 146.3q3.4 1 6.8 -.2M336.6 149.1q-3.2 .6 -4.3 3.6M276.2 140q2.4 2.4 .9 5.4M292.9 136.2q-3.1 -.5 -3.1 -3.6M324.3 143.4q-.3 1.8 -1.8 2.9M335.9 130.5q-.3 1.5 -1.1 2.9M316.3 143.3q-.2 2.6 -2.7 3.3M251.8 147.5q-.4 1.9 -1.7 3.5"/>
<path filter="url(#od)" stroke="#eb0f14" stroke-width="4" d="M338.3 150.4q.3 -1.7 1.6 -2.9M261.4 134.5q-2.7 -.6 -3 -3.4M332.3 133.6q-2.4 2.6 -5.4 4.5M283.1 159.3q-1.2 -2 .4 -3.6M264.5 152.3q3.7 -.3 6 -3.2M326.3 131.6q2.5 -1.9 5.3 -.5M267.4 145.5q2.8 -4 -.8 -7.3M305.3 160.9q-3 -.1 -5.3 -2M320.5 147.7q2.5 -1.6 4.4 .8M335 124.2q-2.1 -.1 -4.1 -.9M352.1 155.7q-2.6 2.9 -.3 6M250.8 149.3q1 -2.1 3.2 -2.7M242.9 146.9q2.7 -.2 5.3 .4M297.6 159.1q2.6 -4 1.4 -8.7M361.5 141.4q-2.8 -2.4 -.7 -5.4"/>
<path filter="url(#od)" stroke="#ff5000" stroke-width="4" d="M276.2 144.9q-.9 1.5 -2.3 2.5M291.2 149.2q3.6 1.7 6 4.9M346.5 151.6q1.9 -4.5 6.7 -5.4M274.3 137.4q-2.9 -.5 -3 -3.4M362 159q3.1 .4 5.9 -.8M362 134.8q2.1 3.5 4 7M242.5 161.5q4.1 -.7 8.1 -2M264.1 147q-2.9 -.6 -4.7 1.7M326.6 153.3q-1.4 -1.9 -2.6 -3.9M294.1 151.9q-.7 2.4 -1.1 4.9M320.2 139.3q1.3 3.2 4 5.3M321.9 153.3q1.8 -4.8 -2.1 -8M328.9 155.4q-2.3 -1.9 -4.8 -3.5M245.8 141.8q-2.6 -.6 -5 .6M344.9 137.4q2.1 -.8 3.8 .8M355.1 144.4q4.5 -2.1 3.9 -7M260.5 156.3q-.8 -2.1 -1.1 -4.3M355.6 138.1q2.5 .9 4.1 3"/>
<path filter="url(#od)" stroke="#c8005a" stroke-width="1.5" d="M236.1 166.6q0 -.7 0 -1.5"/>
<path filter="url(#od)" stroke="#ff9100" stroke-width="4" d="M263.7 149q-2.4 -3.5 .3 -6.9M352.7 139q2.5 .2 4.4 1.8"/>
<path filter="url(#oc)" stroke="#00a5fa" stroke-width="3" d="M352.6 167.4q-1.2 3.7 -4 6.4M298.6 142.9q2.1 .9 1.2 3.1M336.8 166.2q1.5 1.7 3.4 2.8M303.9 164.4q.2 1.7 .4 3.3M272.3 166.9q2.4 1.2 5 1.3M344.3 171.2q-1 -5.2 -6.3 -5.2M280.2 168.1q-2.9 .8 -5.5 -.8M328.8 142.9q-1.1 2.2 1 3.5M288.7 173.4q.9 -4.5 -1.5 -8.4M367.5 143.6q-1.8 .7 -3.4 1.7"/>
<path filter="url(#od)" stroke="#141ed7" stroke-width="3" d="M321.3 133.1q1.2 -3.3 3.7 -5.8M251.6 172.9q3.2 -3.1 7.5 -4.2M296.4 148.3q3.2 2.8 2 6.8M260.6 150q2.2 -2 .9 -4.6M296.5 157.7q2.2 -.3 3.9 1.1M245.8 161.2q-.5 5.5 -6 5.5M317.4 158.4q1.5 .3 3.1 -.1"/>
<path filter="url(#od)" stroke="#fff45a" stroke-width="3" d="M292.2 154.4q-2 -1.8 -4.5 -.7M269.1 135.3q-2.9 -2.6 -6.8 -2.2M329 130.4q4.6 2.8 2.1 7.6M288.2 151.8q4.7 2.5 7.9 -1.8M358 135.7q-1.2 4.6 -5.2 7.1M301.7 130.3q-4.2 2.3 -5.1 7M265.5 153.2q3.5 4.2 8.5 1.9"/>
<path filter="url(#oc)" stroke="#1ed2ff" stroke-width="4" d="M304.8 173.1q-.6 -2.2 .7 -4M282.7 175.9q1.9 4.6 -.8 8.8M278.6 162.8q-1 1.3 -.9 2.9M339.5 168.2q2.4 -4 6.7 -2.3M271.1 168.8q-1.7 1.1 -3.4 -.1M268.3 174.1q3.1 1.1 3.4 4.4M262.1 167.2q4.9 1.7 6.7 -3.2M323.5 163q-2.1 .4 -4 1.5"/>
<path filter="url(#od)" stroke="#ffbe00" stroke-width="4" d="M328 140.5q3.1 1.8 4.7 5M354.7 134.6q3 1.5 6 .1M272 142.6q-.4 -3.1 -2.2 -5.7M337.9 126.2q-2.4 .1 -2.4 -2.3M285.2 140.8q-1.8 1.2 -2 3.3M251.9 140.6q-3.1 -2 -6.8 -1.6M353.4 134.5q-.4 -5.5 -5.9 -5.5M348.4 131.5q.5 -2 2.5 -2.5M262.7 147.4q4.2 -1.1 4.9 -5.3M350.2 153.2q.6 -3.8 1.8 -7.6M366.1 146.2q-3 0 -3.2 3M241.4 142.4q-.3 2 -.2 4.1M267.2 143.7q-2.3 .5 -4.2 1.9M350.2 154.4q-.7 1.8 .3 3.5"/>
<path filter="url(#od)" stroke="#ff9100" stroke-width="3" d="M247.7 143.1q-1.2 3.1 -3.8 5.2M264.5 131.7q-3.8 -.7 -5.5 2.8M329.3 125.2q-2.8 1.3 -5.5 2.7M335.5 147.5q2 -3.3 1.8 -7.1"/>
<path filter="url(#od)" stroke="#ffbe00" stroke-width="3.5" d="M314.3 123.1q.3 4.1 -3.8 4.5M308.9 142.7q2.8 2.2 5.7 .2M323.2 130.9q.5 -1.6 .6 -3.2M342.2 147.7q-2.9 -1.3 -4.7 1.2M359.2 127.8q2.1 -.9 2.2 -3.3M270.1 144q.2 2.6 1.9 4.6M296.9 156.5q3.4 -1.9 6.4 -4.4M330.3 143.9q-2.5 1.2 -4.9 -.3M325.6 139.8q-2.9 -1.7 -5.7 .2M331 148q3.9 -1 7.6 .5M313.1 131.8q2.7 3.6 2.7 8.2M342.4 140.6q-2.3 -2.2 -1.7 -5.4M332.7 139.1q-3.6 -2.4 -1.4 -6.1"/>
<path filter="url(#oc)" stroke="#6ef0ff" stroke-width="4" d="M281.5 175.4q2.7 -3.2 6.8 -2.5M247.9 170.7q-1.7 -4.2 -6.1 -3M357.7 160.4q2.9 2.9 5 6.4M309.8 161.9q2.8 2.5 3.4 6.2M341.5 167q5.1 2.6 8.4 -2.1M316.7 168.4q.7 3.4 2.9 6.2M352.3 167q-2.3 1.5 -3.7 3.9"/>
<path filter="url(#od)" stroke="#0064f0" stroke-width="4" d="M315.3 152.4q1.9 .2 3.6 1.1M265.8 143.9q-.7 3.9 -1.6 7.8M315.1 126.9q-2.9 .2 -4.3 -2.3M335.1 169.3q2 0 3.4 -1.4M301.3 134q-2.1 -.7 -3.5 -2.3M257 153.2q-4.8 1.1 -6.2 5.9M309.7 159.6q-2.7 -3.5 -.6 -7.5M282.5 158.1q1.7 2.2 -.3 4.1M312.3 164.7q1.8 -1.5 4 -2.3M252.1 157.4q1.1 2.8 -1 5M295.4 177.7q-3.7 .3 -4.1 -3.4M274.9 181.7q-4.4 -2.6 -2.1 -7.2M301.6 133.7q.9 -3.5 4.5 -2.9"/>
<path filter="url(#od)" stroke="#c8005a" stroke-width="3.5" d="M363.8 152.8q-.5 -3.2 -3.8 -3.1M258.7 162.1q1.5 -2.6 1.6 -5.5M336 162.7q-1.2 -2.7 -.6 -5.5M348.6 157.1q.6 -4.2 4.8 -3.7M252.1 157q1.2 4.7 -3 7"/>
<path filter="url(#od)" stroke="#ffbe00" stroke-width="3" d="M272.9 141.7q3 -2.3 1 -5.5M291 159.1q2.2 -1.4 4.2 .3M309.3 132.4q.7 4.4 3.4 7.9M340.8 151.8q-2.3 -1.8 -2.7 -4.7M358.9 121.4q-.7 3.2 -2.3 6.1M319.9 145.2q-.4 -2.6 .8 -4.9M308.3 140q-.4 -2.2 -2.4 -3.3M319.3 140.4q-1.8 -.9 -3 .7M354.4 132q-.4 2.8 2.1 4.3M297.9 152.6q-.5 -4.6 1.7 -8.6M316.6 131.6q2.7 1.8 5.5 .1M317.5 131.1q-1.5 -2.6 -4.1 -4M272.3 138.3q2.3 2 1 4.7M315.6 144.1q2.8 1.5 6 1.7M291 150.3q.9 -2.9 2.6 -5.4"/>
<path filter="url(#oc)" stroke="#00a5fa" stroke-width="4" d="M295.5 168.4q2.1 3 5.6 1.7M343.4 168q3.1 -2.9 7.1 -4.3M342 148.3q-5.2 -.9 -6.3 -6.1M332.6 173q-.9 -3.7 -1.5 -7.4M342.6 168.9q2.8 -.2 3.7 2.4M312.3 177.2q4.5 -1 3.9 -5.6M293.7 181.1q1.7 -2.8 -1 -4.7M300.9 169.6q-3.1 -.4 -4.3 -3.3M338.4 144.2q-1.2 3.5 2.1 5.3M323.4 169.3q-3.5 -3.6 -7.2 -.2M291.1 164.9q3.6 1.7 2.8 5.6M281.7 164.8q-.4 3.9 -2.2 7.4"/>
<path filter="url(#od)" stroke="#c8005a" stroke-width="4" d="M320.6 158.5q-1.5 -1.9 -1.3 -4.3M290.9 164.1q-.2 -2.1 .8 -3.9"/>
<path filter="url(#od)" stroke="#0064f0" stroke-width="3.5" d="M275.1 169.5q-1.4 -1.6 -1.8 -3.6M320.2 152.1q2.5 1 4.6 2.7M346.4 146.6q.2 2.2 2.1 3.2M293.4 156.9q-.9 -2.7 -2.5 -5M315.7 146.7q1.7 -2.5 4.2 -.9M299 147.4q1.5 .6 3 .6M309.3 142.7q2.1 3.2 1.1 6.9M257 144.4q.5 -3.9 3.4 -6.7M305.3 156.2q.8 -3.8 0 -7.6M252.6 155.7q1 -1.9 2.5 -3.2M337.4 166.3q3.3 -.7 4.6 2.5M276.7 157.1q.7 2.3 3 1.7M337.5 156.3q1.2 4 5 5.7M255.3 136.2q3.8 1.4 7.8 .6M337.7 136.3q-1.1 -3.1 -4.3 -3.9M272.4 173.7q3.5 1.4 7.2 1.3"/>
<path filter="url(#od)" stroke="#ffdc00" stroke-width="3" d="M275.5 141.3q-3.2 -2.9 -7 -.7M287.3 147.6q.1 -1.8 1.6 -2.6M346.1 146.4q2.7 1.3 5.5 .1M254.7 135.9q3.7 1.1 4.8 4.8M338.5 155.8q-1.3 1.3 -3 .8M235.8 164.9q3.3 -1.2 5.9 1.2M307.2 139q-2.2 1 -3.3 -1.1M315.8 134.2q-2 -1.1 -3.5 -2.7M324.2 137.2q.6 2.3 3 2.4M349.7 127q-2.7 3.3 -.8 7.2M286.7 150.4q-3.9 2.1 -8.1 3.6M292.9 135.4q-.7 -2.2 -2.9 -1.9M351.1 128.5q-1.5 2.4 -4.3 2.1M287.5 139.1q1.6 1.9 4.1 2.3M335.7 138.2q4 .4 7.8 1.9M361.9 128q3 1.4 2.6 4.7M255.7 157q3.7 -2.6 7.9 -3.9M309.6 140.2q-1.8 -1.5 -3.1 -3.5M351.5 134.8q-1.8 -.5 -1.9 -2.4M346.1 140.8q2.4 -1.3 5.2 -1.7"/>
<path filter="url(#od)" stroke="#ff5000" stroke-width="3" d="M297.4 161.2q-4.1 2.9 -8.3 .2M295.5 135.9q-.5 -3.6 -2.8 -6.4M293.4 155.7q-3.1 2.2 -4.5 5.8M318.7 155.9q-3.9 .2 -7.3 -1.8M263.6 159.2q-2 -3.4 -5.9 -4.1M337.6 158.2q-2.3 -4 -1.2 -8.4M366.9 159.9q-4.3 -.6 -8.1 -2.5M363.7 126.6q-2 .8 -4 1.4M360.3 143q-2 -4.7 1.9 -7.9M318.4 131.2q-3.2 -2 -4.6 -5.6M361 132.3q-4.3 -1 -6.2 -5.1M240.1 159.2q1.4 -4.2 5.8 -4.4M289.5 142.5q2.6 3.2 6.1 5.5M294.1 148.6q-1.7 3.3 -5.3 2.7M344.1 152q-1.9 .6 -3.3 -1M351.6 121.1q-4.4 3.8 -1.1 8.5M313.6 152.6q1.3 -4.4 5.4 -6.6M267.1 149.3q.8 2 1 4.2M280.7 145q2.5 4.1 -1.5 6.8M315.9 136.1q-2 -3.6 -2.6 -7.7"/>
<path filter="url(#od)" stroke="#0064f0" stroke-width="2.5" d="M292.6 173.4q3.5 1.7 6.5 4.1M329 165.6q2.2 -2.9 1.9 -6.6M320.3 176.9q.2 -4.1 -2.4 -7.3"/>
<path filter="url(#od)" stroke="#4b00be" stroke-width="3.5" d="M260.5 158.2q-1.7 -3.5 1.1 -6.1M285.6 152.6q.6 4.4 -1.7 8.2M278.2 144.7q-1.5 -3.7 -5.3 -2.3M361.2 156q4.3 .7 6.7 4.4M335.5 149.6q-2.8 3.7 -1.2 8M336.8 132.3q3.1 1.1 6.2 -.1M295.1 130q-3.2 2.7 -1.7 6.6M280.2 164.9q-.3 -2.1 -2.3 -3.1M255.8 168.9q-2.1 2.6 -1 5.9"/>
<path filter="url(#oc)" stroke="#1ed2ff" stroke-width="1.5" d="M234.4 167.5q.2 .8 .7 1.3"/>
<path filter="url(#od)" stroke="#4b00be" stroke-width="2.5" d="M342.5 138.6q-.5 4.3 -1.2 8.5M247.7 160q2.3 -.1 2.6 -2.4M246.1 156.5q-.5 2.6 1.7 4.1M316.5 153q-1.3 -3.8 -4.3 -6.6M317.4 150.6q-2.4 -4.1 -7 -5M352.1 158q-3.7 -2.5 -8.1 -2.8M264.9 155.9q.5 2.5 -.2 5M266.4 155.1q-.9 -3.4 1.7 -5.7"/>
<path filter="url(#od)" stroke="#ffbe00" stroke-width="3.5" d="M238.5 166.4q4.1 -2.7 8.7 -.9M322.4 128.9q2.6 -1.3 2.5 -4.2M331.2 132.5q-1.5 1.5 -.9 3.6M327.5 128.1q-.3 4.6 -3.4 8M277.9 142.3q-3.2 3.5 .2 6.7M265 133.9q-1.1 2.9 1.6 4.4M342.1 157.2q-1.6 -3.7 .3 -7.3M311.7 137.3q.8 1.6 -.2 3.1M347.3 144.3q2.7 -2.3 .5 -5.1M348.9 141.8q2.7 -3.5 6.7 -5.5M247.5 142.2q2 3.9 -.2 7.6M266.4 149.3q-1.2 -2.6 1.1 -4.4M341.5 140.1q-3.9 -3.3 -8.2 -.5M315.8 131.8q-1.7 -1.1 -3.5 -1.8M309.3 140.5q-2 4.5 2 7.4M356.4 130.4q-1.2 2.3 -3.5 1.3"/><path stroke="#ffffb0" stroke-width="1.1" transform="translate(-.3 -.3)" d="M238.5 166.4q4.1 -2.7 8.7 -.9M322.4 128.9q2.6 -1.3 2.5 -4.2M331.2 132.5q-1.5 1.5 -.9 3.6M327.5 128.1q-.3 4.6 -3.4 8M277.9 142.3q-3.2 3.5 .2 6.7M265 133.9q-1.1 2.9 1.6 4.4M342.1 157.2q-1.6 -3.7 .3 -7.3M311.7 137.3q.8 1.6 -.2 3.1M347.3 144.3q2.7 -2.3 .5 -5.1M348.9 141.8q2.7 -3.5 6.7 -5.5M247.5 142.2q2 3.9 -.2 7.6M266.4 149.3q-1.2 -2.6 1.1 -4.4M341.5 140.1q-3.9 -3.3 -8.2 -.5M315.8 131.8q-1.7 -1.1 -3.5 -1.8M309.3 140.5q-2 4.5 2 7.4M356.4 130.4q-1.2 2.3 -3.5 1.3"/>
<path filter="url(#oc)" stroke="#00a5fa" stroke-width="2.5" d="M265.4 178q-3.2 -1.8 -1.8 -5.2M282.6 173.4q-.5 -2 -2.3 -3.2M242.2 152.8q-3 -.7 -5 -2.9M286.3 148.7q-4.8 -.9 -8.6 2.3M330.3 172.1q-4.1 -1 -7.9 -2.8M261.6 156.2q2 .1 3.3 -1.5M334.1 172q2.8 .5 4.4 -1.8M353.3 134.9q2.5 3.9 6.9 2.4M302.1 175.9q-1.7 -.7 -3.1 .4M327.5 158.8q-1.9 3.3 -4.8 5.6M281.6 142.2q-2.4 -.1 -4.7 .7M260.2 173.1q1.9 1 3.7 2.1M339.9 169q-1.8 1 -3.8 .9M362.6 158.8q3.8 2.1 3.1 6.4"/>
<path filter="url(#od)" stroke="#ff9100" stroke-width="3" d="M328.8 129q2.7 1.9 4.8 -.6"/>
<path filter="url(#od)" stroke="#8c00a5" stroke-width="2.5" d="M326.3 157.1q3.2 2 6.8 .7M352.7 135.2q2.1 4.8 7.3 4.7M315.8 146.6q-.8 2.7 -.2 5.4M300.2 143.5q2 2.3 1 5.2"/>
<path filter="url(#od)" stroke="#0064f0" stroke-width="3.5" d="M282.2 152.8q1.4 2.1 -.1 4.2M337.6 154.6q-1.3 -1.5 -2.6 -3M323.1 173q-3.9 -.4 -6 -3.6M357.9 122.3q2 0 3.8 .9M279.7 141.5q1.4 -3.4 -1.4 -5.9M296.8 147.7q.3 2.7 -2.2 3.6M316.7 159q1.2 1.4 2.9 2M336.4 170.8q1.1 -2.2 .2 -4.5M316.7 140.1q3 -1.1 3.6 -4.3"/>
<path filter="url(#oc)" stroke="#6ef0ff" stroke-width="2.5" d="M290 171.2q2.4 1 4.8 2.3M282 164.9q-.7 4.8 3.3 7.7M297.8 161.8q5.6 -1.4 7.6 4M321.9 166q-.7 3.2 .4 6.3M279 179.6q-1.7 0 -3.3 .3M255.4 169q-3.5 1.5 -5.3 -1.8M320.9 170.8q-3.6 -.5 -6.9 -2M308.7 168.6q-3.4 .6 -6.2 2.7M283.3 178.4q1.9 -2.7 4.9 -3.9M331.8 164.2q2.8 -2.2 5.7 0"/>
<path filter="url(#od)" stroke="#141ed7" stroke-width="2.5" d="M300.5 144.5q.6 1.8 1.4 3.5M252.6 165.7q.2 -5.1 5.1 -6.4M367.5 149.5q.8 4.1 -3.2 5.5M248.9 145.6q4.4 .2 6.7 3.9M250.1 170.8q.2 -2.7 2.8 -3.4M273.7 154q.5 -3.4 3.4 -5.3M293.3 158.9q-1.4 -3.6 -.5 -7.4M348.1 150.1q.5 3.6 -1.4 6.6M282.8 162.4q1.6 -5.3 -3.7 -7M251.8 165.5q-4 2.7 -3 7.4"/>
<path filter="url(#oc)" stroke="#00a5fa" stroke-width="3.5" d="M268 136.5q-.8 3.6 2.2 5.6M298.5 163q2.5 -.9 4.7 .7M318.7 164.4q3.5 4.3 -.4 8.1M348.6 162.4q1.3 -4.9 6.3 -4M365 127.7q-4.1 -.8 -6.9 2.2M316.4 168.8q2.3 -.5 3.2 -2.6M291.4 179q2 -2.8 -.4 -5.2M337 168.8q3.3 -.8 5.5 -3.4M248 166.5q-3.6 4.3 .6 8M327.3 164.3q2.7 -.5 3.2 -3.3M334.7 158.8q-.2 2.5 1.6 4.3M352.7 170.1q-1.5 -2.7 -4.5 -2.3M320.7 132.1q-2.4 -.4 -4.6 -1.4M319.3 174.3q1.5 1.6 3.6 1.3M337.1 170.8q-2.1 -1.1 -2.3 -3.4M267.6 170.4q0 -6 5.9 -6.3M351 161.4q3.9 -1.3 6.9 1.6"/>
<path filter="url(#od)" stroke="#8c00a5" stroke-width="3.5" d="M320 153.3q-3 -.9 -3.9 2.1M249.4 148.9q1.3 3.9 5.4 4.5M285.5 152.7q-.5 4.4 -3.2 7.8M258.3 147q-4 -2.4 -7.2 1M368.4 156.1q-4.4 1.8 -7.1 -2.1M328.1 145.9q3.9 -2.9 8.1 -.5"/>
<path filter="url(#od)" stroke="#fff45a" stroke-width="3.5" d="M251.3 149q1.8 .3 3.7 .3M346.7 122.9q4.9 .2 5.5 5.1M329.6 127q-1.3 -3.3 1.7 -5.1M273.5 149.7q4.2 .2 6.1 -3.5M271 158.9q1.9 .3 3.4 -.9M352.5 136.2q3.4 .3 5.8 -2M250 148.4q3.9 1.4 7.1 4"/><path stroke="#ffffb0" stroke-width="1.1" transform="translate(-.3 -.3)" d="M251.3 149q1.8 .3 3.7 .3M346.7 122.9q4.9 .2 5.5 5.1M329.6 127q-1.3 -3.3 1.7 -5.1M273.5 149.7q4.2 .2 6.1 -3.5M271 158.9q1.9 .3 3.4 -.9M352.5 136.2q3.4 .3 5.8 -2M250 148.4q3.9 1.4 7.1 4"/>
<path filter="url(#oc)" stroke="#00a5fa" stroke-width="3" d="M359.8 166.1q-2.5 -.6 -3.5 1.8M251.6 167.3q-3.9 1.5 -7.1 -1.3M323.2 166.3q.1 -2.6 2.3 -3.9M326.1 176.9q-2 -3.8 -5.6 -6.2M291.8 180q4.1 -1.3 3.3 -5.6M272.7 175.2q2.1 1.7 .6 3.9M361 147.6q-2.5 -2.8 -5.9 -1.2M337.4 159.8q.8 2.1 1.2 4.3M310.2 168.7q-1.3 -1.9 -3.4 -1M313.4 166.9q1 -4 3.8 -7.1M341 161.7q1.6 -2.3 4.1 -.9M337 170.2q-3.7 1.4 -6.8 -1.2M295.9 174.6q3.2 -2.8 1.4 -6.7"/>
<path filter="url(#od)" stroke="#ffdc00" stroke-width="3.5" d="M286.6 143.3q2.1 5.5 7.8 4.3M342.9 151.1q-2.2 -3 -2.1 -6.7M309.4 132.2q-3.5 -1.7 -6 -4.7M361.9 128.5q-3.4 -.1 -5.6 2.4M321.3 134.2q-.1 -2.3 2.1 -3M358.8 125.7q-4 -.3 -5.9 -3.8M358.8 137.5q1.2 4.4 5.1 6.8M243 143.1q3.5 2.2 6.5 4.9M274.3 133.9q.1 4.2 2.9 7.3M302.7 143.7q-.8 -3.8 -2.9 -7.1M355.7 134q-2.4 -.6 -2.6 -3.1M298.4 142.4q2.1 -4 2 -8.5M313.6 140.9q0 2.7 2.3 4.2M318.8 137.4q3 -4.6 -1 -8.3M308.3 126.9q-.1 4.3 -2.5 7.9M301.1 148.5q-.3 1.9 -.2 3.8M331.2 145.4q2.4 -1.5 4.1 -3.7M294.1 131q3.2 .5 6.5 .4M340.1 135.9q-4.1 -1.7 -5.9 -5.8M320.5 141.1q-1.5 1.4 -3.5 2M264.9 140.7q3.3 2.2 7 .9M245.6 142.2q.5 4.5 3.8 7.5M277.6 133.9q-1.3 2.5 -2.7 4.9M252.4 149.7q-.5 -5 -4.8 -7.5M347.3 125.1q-.7 3 -3.6 3.9"/><path stroke="#ffffb0" stroke-width="1.1" transform="translate(-.3 -.3)" d="M286.6 143.3q2.1 5.5 7.8 4.3M342.9 151.1q-2.2 -3 -2.1 -6.7M309.4 132.2q-3.5 -1.7 -6 -4.7M361.9 128.5q-3.4 -.1 -5.6 2.4M321.3 134.2q-.1 -2.3 2.1 -3M358.8 125.7q-4 -.3 -5.9 -3.8M358.8 137.5q1.2 4.4 5.1 6.8M243 143.1q3.5 2.2 6.5 4.9M274.3 133.9q.1 4.2 2.9 7.3M302.7 143.7q-.8 -3.8 -2.9 -7.1M355.7 134q-2.4 -.6 -2.6 -3.1M298.4 142.4q2.1 -4 2 -8.5M313.6 140.9q0 2.7 2.3 4.2M318.8 137.4q3 -4.6 -1 -8.3M308.3 126.9q-.1 4.3 -2.5 7.9M301.1 148.5q-.3 1.9 -.2 3.8M331.2 145.4q2.4 -1.5 4.1 -3.7M294.1 131q3.2 .5 6.5 .4M340.1 135.9q-4.1 -1.7 -5.9 -5.8M320.5 141.1q-1.5 1.4 -3.5 2M264.9 140.7q3.3 2.2 7 .9M245.6 142.2q.5 4.5 3.8 7.5M277.6 133.9q-1.3 2.5 -2.7 4.9M252.4 149.7q-.5 -5 -4.8 -7.5M347.3 125.1q-.7 3 -3.6 3.9"/>
<path filter="url(#oc)" stroke="#6ef0ff" stroke-width="3" d="M300.7 171q3.7 -.4 4.5 -4M282.3 170.1q1 -2.3 -.8 -4M260.7 167.5q-3.1 .8 -5 -1.8M319.8 166.8q.3 -3.7 -2.6 -6M303.4 169.5q3 4.2 7.8 2.5M338.1 169.7q-2.2 0 -4.2 .8M314.9 176.5q2.5 -2.8 -.1 -5.4M303.7 169.3q.1 3.6 2.8 5.8M319.1 168.9q-1.5 -2.3 -3.5 -4.1"/>
<path filter="url(#od)" stroke="#ffbe00" stroke-width="2.5" d="M262.7 154.4q-.1 -3 2.9 -3.4M295 140.8q3.4 -.1 4.9 3M289.7 137.8q3.2 -3.4 7.9 -3.3M358.9 127.7q2.2 -1.4 1.4 -3.9M336.8 146.7q-2.9 -2.8 -2.4 -6.8M325.3 123.9q4.9 1.4 6.1 6.4M334.9 145.7q2.8 1.6 5.8 .3M264.2 161.7q2.9 -1.2 5.9 -2.4M315.5 147.2q.1 -4.1 -4 -4.2M340.8 137.3q3.5 -3.3 7.3 -.3M337.3 125.1q.6 -3.1 -2.3 -4.3M307.4 146.8q2.2 -1.3 2.5 -3.7M330.8 142.7q-1.6 -1.3 -1.5 -3.4M255.8 138.2q-1.8 -5.9 4 -8M347 148.4q.6 -4.4 -3.8 -5.1"/><path stroke="#ffffb0" stroke-width=".8" transform="translate(-.3 -.3)" d="M262.7 154.4q-.1 -3 2.9 -3.4M295 140.8q3.4 -.1 4.9 3M289.7 137.8q3.2 -3.4 7.9 -3.3M358.9 127.7q2.2 -1.4 1.4 -3.9M336.8 146.7q-2.9 -2.8 -2.4 -6.8M325.3 123.9q4.9 1.4 6.1 6.4M334.9 145.7q2.8 1.6 5.8 .3M264.2 161.7q2.9 -1.2 5.9 -2.4M315.5 147.2q.1 -4.1 -4 -4.2M340.8 137.3q3.5 -3.3 7.3 -.3M337.3 125.1q.6 -3.1 -2.3 -4.3M307.4 146.8q2.2 -1.3 2.5 -3.7M330.8 142.7q-1.6 -1.3 -1.5 -3.4M255.8 138.2q-1.8 -5.9 4 -8M347 148.4q.6 -4.4 -3.8 -5.1"/>
<path filter="url(#od)" stroke="#eb0f14" stroke-width="3.5" d="M294.6 147q-.6 4 1.8 7.3M306.3 153.4q-4.5 1.2 -7.2 -2.6M307 163.2q1.7 -4.4 6.4 -5.1M250.7 157.8q2.8 .3 5.7 .5M309.6 133q-2.3 -1.7 -2.7 -4.4M305.8 154.7q-1.7 1.1 -3.2 -.3M242.7 159.7q-3 .1 -4.3 2.8M362.4 151.9q2.9 -.6 4.5 -3.1"/>
<path filter="url(#od)" stroke="#ffdc00" stroke-width="2.5" d="M340.2 135.6q2 .6 4 1M306.2 136.2q-2.1 -2.3 .1 -4.5M303.1 136.8q3.4 .5 6.7 1.1M357.2 127.1q-2.4 -.2 -3.8 1.9M289.1 140.6q1.6 4.7 6.4 5.6M297.5 147.7q-4 .8 -5.9 4.4M274.3 139.1q1.6 2.5 -.7 4.4M247.7 143.4q-3.1 -.6 -5.3 1.7M319.2 136q-.6 2.4 -3 2.4M303.8 144q1.4 2.5 4.3 2.9M323.2 139.4q-5.3 -1.5 -4.3 -6.9M363.6 135.2q2.4 -5.3 -2.5 -8.6M333.3 124.4q2 .3 3.9 .9M318.6 144.4q.9 3.8 4.7 3.2M269.4 151.2q-1.7 -3.7 -4 -7.2M238.7 150.7q2.2 -.3 3.5 -2.1M284 142.5q2.5 2.9 .1 6M253.4 135q4.5 -.9 6 3.4M354.6 134.1q-3.5 3.4 -2.1 8M290.1 159.3q-5.5 2.4 -8.4 -2.9M353 134.1q3.6 -.1 6.8 -1.8M271 134.7q-.2 1.7 -1.5 2.8"/><path stroke="#ffffb0" stroke-width=".8" transform="translate(-.3 -.3)" d="M340.2 135.6q2 .6 4 1M306.2 136.2q-2.1 -2.3 .1 -4.5M303.1 136.8q3.4 .5 6.7 1.1M357.2 127.1q-2.4 -.2 -3.8 1.9M289.1 140.6q1.6 4.7 6.4 5.6M297.5 147.7q-4 .8 -5.9 4.4M274.3 139.1q1.6 2.5 -.7 4.4M247.7 143.4q-3.1 -.6 -5.3 1.7M319.2 136q-.6 2.4 -3 2.4M303.8 144q1.4 2.5 4.3 2.9M323.2 139.4q-5.3 -1.5 -4.3 -6.9M363.6 135.2q2.4 -5.3 -2.5 -8.6M333.3 124.4q2 .3 3.9 .9M318.6 144.4q.9 3.8 4.7 3.2M269.4 151.2q-1.7 -3.7 -4 -7.2M238.7 150.7q2.2 -.3 3.5 -2.1M284 142.5q2.5 2.9 .1 6M253.4 135q4.5 -.9 6 3.4M354.6 134.1q-3.5 3.4 -2.1 8M290.1 159.3q-5.5 2.4 -8.4 -2.9M353 134.1q3.6 -.1 6.8 -1.8M271 134.7q-.2 1.7 -1.5 2.8"/>
<path filter="url(#od)" stroke="#8c00a5" stroke-width="1.5" d="M235.4 160q.9 .4 1.4 -.5"/>
<path filter="url(#od)" stroke="#141ed7" stroke-width="3" d="M316 159.3q.9 1.4 1.4 3.1M328.9 154.5q-2.1 4.1 -6.6 4.6M336.5 158q.7 -1.7 2.5 -1.8M328.5 155.5q3.6 .4 6.7 2.2M292.2 157q2.4 -2 1.3 -4.8M268.4 164.1q1.2 -4.5 -1.4 -8.3M271.4 144.6q-1.6 -1.3 -1.4 -3.3"/>
<path filter="url(#od)" stroke="#c8005a" stroke-width="1.5" d="M237.5 165.6q-.8 .5 -.6 1.4"/>
<path filter="url(#od)" stroke="#ff5000" stroke-width="2.5" d="M361.8 138.4q-4 -1.6 -7.6 -4M353.1 140q-.6 2.9 -3.5 3.2M243.2 172q3.3 -2.8 7.5 -3.6M310.8 150.6q2.6 -1.8 5 -3.8M323 130.5q-4 -.1 -4.4 -4.1M347.9 154.4q.8 3.7 2.3 7.1M311.4 152.6q1.4 -2.7 .2 -5.5M302.1 149.3q-2.7 1 -4.8 3M355 151.2q-3 3.4 -7.2 5.3M289.2 143.1q.5 2.4 -1.6 3.6M309.6 142q-1.5 3.3 -5.2 2.9M295.4 154.5q-2.7 -3.2 -3.5 -7.2"/>
<path filter="url(#oc)" stroke="#00a5fa" stroke-width="1.5" d="M235.1 166.8q.7 .3 1.3 .8"/>
<path filter="url(#od)" stroke="#4b00be" stroke-width="3" d="M275.9 152.8q1.4 -5.2 6.7 -4.4M250.2 160.6q.3 -2.4 -2 -3.1M318.6 136.9q-1.1 1.7 -.1 3.4M279.2 158q-2.9 -4.2 -8.1 -3.9M304.6 159q-4.1 -3.5 -7.8 .4M259.1 169.7q-3.9 0 -6.1 3.2M351.7 157.7q-.3 -2 -.2 -4M341.9 159.3q-2.4 -5.8 -8.2 -3.4"/>
<path filter="url(#oc)" stroke="#6ef0ff" stroke-width="3.5" d="M287.8 167.9q.3 -2.8 2.8 -4.3M312.9 166.7q-1.2 2.6 .2 5.1M252.7 165.1q-.2 3.1 1.7 5.6M295 164q3.2 -1.2 6.6 -1.4M269.3 169.3q-1.7 .6 -2.7 2.1M340.6 170.8q-4.3 .1 -8.5 1.1M289.5 170.6q3.1 .5 3.5 3.6M260.8 177.2q2.1 -4.5 7.1 -5.3M315.8 168.7q1.8 -1.2 1.9 -3.4M279.6 176q-5.1 -2.6 -3.3 -8.1M282.3 171.6q-2.9 -1.1 -5.1 1M296.2 166.6q-4.8 2.8 -3 8.1M355.4 157.6q-1.7 2.2 -2.6 4.8M333.5 170.5q-3.5 2 -7 .1M336.5 161.8q1.5 -1.3 3.5 -1.8"/>
<path filter="url(#od)" stroke="#ffbe00" stroke-width="1.5" d="M236.4 143.4q.5 .6 .3 1.5"/>
<path filter="url(#od)" stroke="#c8005a" stroke-width="2.5" d="M349.1 162.4q-1.2 -3.9 1.8 -6.7M247.3 174.6q.8 -4.4 -.8 -8.6M302.8 152.7q-1.6 2 -4.1 2.4"/>
<path filter="url(#oc)" stroke="#1ed2ff" stroke-width="2.5" d="M278.1 161.8q.5 2.8 2.3 4.9M292.7 176.7q.2 3.7 -2.8 5.7M303.2 165.2q-3.7 4.6 -8.6 1.3M356.1 162q3.3 -1.4 5.4 -4.3M259.9 174.8q.9 -2 2.5 -3.4M301.6 167.8q.2 2.5 -2.1 3.4M321 168.2q2.8 .2 5.3 -1M330.7 164.8q-2 3.8 .9 7.1M278.1 179.2q-3.2 -1.1 -6.6 -1.4M248.4 170.8q1.5 -1.6 1.9 -3.8M282.1 174.1q-1.8 1.4 -4.1 1.5M281.4 164.2q-4.3 1.7 -4.4 6.3"/>
<path filter="url(#od)" stroke="#8c00a5" stroke-width="3" d="M294.1 159.3q-2.4 0 -4.1 -1.8M269.8 156.8q-2 .7 -3 -1.1M257.2 151.4q-3.6 4.8 1.1 8.5M276.4 156.5q-2 -.7 -3.7 .5M286.4 157.9q.3 4.5 3.6 7.7M353.9 127.9q-2.9 -2.5 -6.4 -.8M346.7 143.1q-2.1 -.3 -3.1 1.6M291.9 160.7q-1.8 .3 -3.1 -1M262.4 139.5q-2.9 2.1 -3 5.7M286.7 145q-1 2.2 -3.4 2.7M313.5 150.9q1.6 1.1 2.3 2.9"/>
<path filter="url(#od)" stroke="#eb0f14" stroke-width="3" d="M349.4 130.8q2.3 .1 2.9 -2.1M334.2 131.2q0 -4.6 4.4 -5.7M359.1 131.2q-4.4 1.4 -6.6 -2.7M333.8 152.5q-2.7 -1.7 -3.6 -4.7M296.5 154.9q1.2 -1.9 3.1 -.8M337.9 128q-.1 1.6 -.5 3.1M358.1 146.6q-1.2 1.7 .4 3M253.5 135.3q-1.1 3.3 -4.5 3.3M298.3 158.7q-.6 -4 2.2 -6.8"/>
<path filter="url(#od)" stroke="#ffbe00" stroke-width="3" d="M301.3 127.2q3.2 1.9 4.4 5.5M271.5 145.6q1.7 4.9 6.8 5.9M317.2 139.8q-.1 -2.1 .2 -4.1M271.7 146.7q3.1 -.1 3.1 -3.3M348.8 152.9q2.2 -3 5.8 -3.9M254.1 152.9q1.6 4.1 6 3.5M332.4 126.3q3 -1.5 6.3 -.8M265.8 135.6q3.5 0 6.1 2.3M301.2 145.3q-2.2 3.5 -3.3 7.6M328.7 145.9q-1.9 2.7 -2.2 6M341.5 139.2q2.9 -.6 4.2 2M293.7 155q-.1 3.2 -2.6 5M316 135.8q1.5 -1.3 3.3 -.5M260.2 133.9q1.8 -3.1 5.3 -3.8M300.1 149.1q-2 1 -1.1 3M285.7 135.8q2.5 1.8 5.5 1.3M273.9 165.8q.5 -2.2 .6 -4.4M340.8 153.1q1.4 -1.7 3.4 -2.6M369.2 149.2q-4.1 -3.1 -8.5 -.4"/><path stroke="#ffffb0" stroke-width=".9" transform="translate(-.3 -.3)" d="M301.3 127.2q3.2 1.9 4.4 5.5M271.5 145.6q1.7 4.9 6.8 5.9M317.2 139.8q-.1 -2.1 .2 -4.1M271.7 146.7q3.1 -.1 3.1 -3.3M348.8 152.9q2.2 -3 5.8 -3.9M254.1 152.9q1.6 4.1 6 3.5M332.4 126.3q3 -1.5 6.3 -.8M265.8 135.6q3.5 0 6.1 2.3M301.2 145.3q-2.2 3.5 -3.3 7.6M328.7 145.9q-1.9 2.7 -2.2 6M341.5 139.2q2.9 -.6 4.2 2M293.7 155q-.1 3.2 -2.6 5M316 135.8q1.5 -1.3 3.3 -.5M260.2 133.9q1.8 -3.1 5.3 -3.8M300.1 149.1q-2 1 -1.1 3M285.7 135.8q2.5 1.8 5.5 1.3M273.9 165.8q.5 -2.2 .6 -4.4M340.8 153.1q1.4 -1.7 3.4 -2.6M369.2 149.2q-4.1 -3.1 -8.5 -.4"/>
<path filter="url(#od)" stroke="#ff5000" stroke-width="3.5" d="M336.1 120.4q2.4 2.5 .9 5.6M298.6 140.1q-.1 -3.4 2 -6.1M337.5 124.6q1.2 3.5 3.7 6.4M301.8 139.3q.5 -1.7 .8 -3.5M273.1 156q-3.5 .3 -6.5 -1.6M247.8 152.8q3.1 1.6 6.4 2.7M267.3 144.6q-3 3 -4.1 7.1M349.9 124.5q-1.4 -.7 -2.5 -1.7M342.4 155.2q1.5 1.1 2.7 2.7M304.8 139.2q-1.3 -3.7 -2.7 -7.4M333.4 124.8q-1.6 1.7 -.8 3.9M264.6 145.5q-1.8 1.7 -1.8 4.1M311.7 140.9q-3 -2.7 -6.6 -4.5M271.5 143.3q0 -2.5 -1.1 -4.8M275.4 136.4q-3.1 .8 -5.7 -1.2M311.6 152q-1.9 3.9 -3.4 7.9"/>
<path filter="url(#od)" stroke="#0064f0" stroke-width="3" d="M338.8 140.6q1.5 2.3 1.2 5M320.8 168.1q1.7 1.2 3.2 -.3M276.6 165.7q-2.3 3.3 -6.1 4.6M308.4 171.8q4.1 -1.8 7.4 1.2M330.1 170.9q-.7 -2.4 1.7 -3.3"/>
<path filter="url(#oc)" stroke="#1ed2ff" stroke-width="3.5" d="M315.3 163.3q1.6 -1.6 3.7 -.8M366.7 161.3q-2.5 3.1 -2.5 7M281.3 161.7q4.8 1.3 4.9 6.2M345.4 161q-3.2 1.5 -4.9 4.5M307.1 162q.8 4.7 -3 7.5M324.4 169.8q1.5 4.2 -2.1 6.8M308.7 165q.9 -2.5 3.5 -2.2M343.2 168.5q-1.6 -1.2 -2.3 -3.1M276 171.3q3.7 3.7 1.8 8.5M319.6 160q-.8 3.4 2.2 5M287 162.5q1.8 1.5 4.2 1.8M310.9 173.4q-1 1.7 -.3 3.6M278.5 174.1q-2.6 .8 -4.7 2.5M315.7 166.2q-1.3 -1.5 -3 -.6M310.1 173.5q3.4 1 4 4.5M301.9 160.9q-.5 4.6 -4.4 7.1M291.7 166.8q2.8 1.9 5.4 4.1M271 163.3q.9 2.7 -1.5 4.3M349.4 165.8q-2.9 .3 -5.3 2"/>
<path filter="url(#od)" stroke="#ff9100" stroke-width="3.5" d="M272.3 142.9q2.4 .8 3.5 -1.5M354.5 135.8q5.4 .2 6.9 5.4M250 150.2q3.3 -2.5 4.3 -6.6M293.8 147q-.5 -2.5 1.7 -3.6M245.1 153.7q-.9 1.8 -2.8 1.3"/>
<path filter="url(#od)" stroke="#fff45a" stroke-width="3" d="M346.3 138.7q-.4 -4.7 4.2 -5.6M364.3 137.8q2 -4 2.2 -8.5M302.8 125.4q-.5 4.6 -4.5 7M289.7 149.5q0 3.3 -.4 6.5M363.4 129.8q-.6 -1.6 -.5 -3.4M275.8 148.8q-1.8 -4.1 -4.2 -7.9M350.3 148.1q-5.6 1.3 -7.7 -4"/><path stroke="#ffffb0" stroke-width=".9" transform="translate(-.3 -.3)" d="M346.3 138.7q-.4 -4.7 4.2 -5.6M364.3 137.8q2 -4 2.2 -8.5M302.8 125.4q-.5 4.6 -4.5 7M289.7 149.5q0 3.3 -.4 6.5M363.4 129.8q-.6 -1.6 -.5 -3.4M275.8 148.8q-1.8 -4.1 -4.2 -7.9M350.3 148.1q-5.6 1.3 -7.7 -4"/>
<path filter="url(#od)" stroke="#fff45a" stroke-width="2.5" d="M250.5 145q-4.6 -1 -6.7 -5.3M296.6 145.8q3.8 -1.2 6.5 -4.1M303.3 142.5q.5 3.6 .8 7.3M237 147.3q3.3 -1.9 7 -1M268.8 145.7q-1 2.8 -3.7 4.3M361.1 136.4q3.5 -.5 6 1.9M268.1 147.2q3.2 -.2 5.8 -2.1M348.8 139.1q3.5 4.6 -.5 8.6M346.4 125.3q-1.5 5.2 3.5 7.1M282.7 143.7q-4.3 1.9 -8.9 .7M243.2 145.3q-4 2.2 -6.3 -1.7M251 143q2.3 -3.8 -1 -6.8M298.5 130.5q5.4 .7 5.6 6.1M291.3 138.6q.5 3.2 -2.3 5M287.3 146.9q-2.4 -3.5 .5 -6.5M252.4 139.5q-3.2 -4.5 -8 -1.8M323.1 134.4q-1.2 -1.9 -2.9 -3.3"/><path stroke="#ffffb0" stroke-width=".8" transform="translate(-.3 -.3)" d="M250.5 145q-4.6 -1 -6.7 -5.3M296.6 145.8q3.8 -1.2 6.5 -4.1M303.3 142.5q.5 3.6 .8 7.3M237 147.3q3.3 -1.9 7 -1M268.8 145.7q-1 2.8 -3.7 4.3M361.1 136.4q3.5 -.5 6 1.9M268.1 147.2q3.2 -.2 5.8 -2.1M348.8 139.1q3.5 4.6 -.5 8.6M346.4 125.3q-1.5 5.2 3.5 7.1M282.7 143.7q-4.3 1.9 -8.9 .7M243.2 145.3q-4 2.2 -6.3 -1.7M251 143q2.3 -3.8 -1 -6.8M298.5 130.5q5.4 .7 5.6 6.1M291.3 138.6q.5 3.2 -2.3 5M287.3 146.9q-2.4 -3.5 .5 -6.5M252.4 139.5q-3.2 -4.5 -8 -1.8M323.1 134.4q-1.2 -1.9 -2.9 -3.3"/>
<path filter="url(#od)" stroke="#141ed7" stroke-width="3.5" d="M267.3 156.9q2.8 4.1 7 1.6M305.5 154.3q-4.2 0 -8 2M249.3 155.3q-.1 2.6 -.7 5.2M341.3 136.5q-4.8 1.9 -5.2 7M360.9 140.6q2.3 5 -2.4 7.8"/>
<path filter="url(#od)" stroke="#c8005a" stroke-width="3.5" d="M273.4 160q0 2 .4 4M329.5 155.4q-3.5 -.1 -5 3.2M307.5 152.8q-3.5 3 -8.1 3.1"/>
<path filter="url(#oc)" stroke="#1ed2ff" stroke-width="3" d="M315 171.2q5 2.5 3.5 7.9M339.7 162.9q-.7 2 -.5 4.2M273.3 168.7q4.4 .2 4.7 4.6M289.3 164.5q-.9 -2 -3.1 -1.4M304.3 165.1q-3 .8 -4.7 -1.8M324.9 169q-.5 -4.7 3.4 -7.4M354.4 165.6q2.8 -.8 5.3 -2.2M300.2 175q2.8 1 5.5 -.4M255.5 164.6q-1.7 4.4 -6.3 4.2M293.7 162.1q-.5 1.8 -1.4 3.5M281.5 171.2q4.2 -1.3 8.6 -2.1M317.1 174.5q-2.7 -4.6 -7.5 -2.3M364 164.7q-3.8 -1.3 -7.6 -.2M327.8 168q3.4 -.3 4.3 -3.6M280.4 179q3.5 -1.6 5.8 -4.5M346.9 166.3q-1.1 1.6 -1.8 3.3M265.3 171.7q.8 2.1 2.1 3.9M308.7 171.9q2.4 3.1 6.2 2.1M354.9 170.6q-3.7 -1.7 -7.6 -.8M322.7 162.8q-2.1 1.2 -4.5 .6M280 167.2q-.6 -2.6 -3.2 -2.4M278.5 175.7q-.8 1.8 -1.8 3.5"/>
<path filter="url(#od)" stroke="#ffdc00" stroke-width="3" d="M258.2 135.2q2.3 -3.1 6 -4.2M355.4 128.8q.8 -3.9 -2.7 -5.8M315.8 144.2q0 -3.9 3.5 -5.4M303.6 127q3.2 -2.5 7.1 -3.8M337 138.8q-3.8 1.1 -7.8 1.8M259.6 140.1q-4.7 -1.3 -8.2 2M270.5 137.6q0 1.9 1.9 2.3M345.6 123.4q.5 2.2 2.3 3.4M315.9 129.3q2.3 2 1.4 4.9M343.3 146.4q2.3 -1.2 3.4 -3.6M353.4 156.3q4.4 -2.1 7.9 1.4M283.7 137.8q-.7 -1.3 -1.9 -2.4M320.4 126.7q-.4 2.2 1.7 2.8M317.3 139.1q2.1 -.4 3 -2.3M344.5 125.3q-.4 -2.4 1.5 -4M354.5 134.6q1.3 1.7 3.4 2.4M329.8 141.3q2.3 -1.2 4.2 -2.9M314.4 149.9q-.4 -1.6 -1.3 -3M242.1 169q2.2 -3.6 .3 -7.3M265.9 166.5q0 -1.9 .5 -3.7M354.4 143.2q-3.3 -2.2 -6.7 -4.2M318 136.2q1.7 4.9 -2.8 7.5M310.7 144.5q.5 1.9 -1.3 2.7M314.3 139.6q2.3 -3.1 6.2 -3.3"/><path stroke="#ffffb0" stroke-width=".9" transform="translate(-.3 -.3)" d="M258.2 135.2q2.3 -3.1 6 -4.2M355.4 128.8q.8 -3.9 -2.7 -5.8M315.8 144.2q0 -3.9 3.5 -5.4M303.6 127q3.2 -2.5 7.1 -3.8M337 138.8q-3.8 1.1 -7.8 1.8M259.6 140.1q-4.7 -1.3 -8.2 2M270.5 137.6q0 1.9 1.9 2.3M345.6 123.4q.5 2.2 2.3 3.4M315.9 129.3q2.3 2 1.4 4.9M343.3 146.4q2.3 -1.2 3.4 -3.6M353.4 156.3q4.4 -2.1 7.9 1.4M283.7 137.8q-.7 -1.3 -1.9 -2.4M320.4 126.7q-.4 2.2 1.7 2.8M317.3 139.1q2.1 -.4 3 -2.3M344.5 125.3q-.4 -2.4 1.5 -4M354.5 134.6q1.3 1.7 3.4 2.4M329.8 141.3q2.3 -1.2 4.2 -2.9M314.4 149.9q-.4 -1.6 -1.3 -3M242.1 169q2.2 -3.6 .3 -7.3M265.9 166.5q0 -1.9 .5 -3.7M354.4 143.2q-3.3 -2.2 -6.7 -4.2M318 136.2q1.7 4.9 -2.8 7.5M310.7 144.5q.5 1.9 -1.3 2.7M314.3 139.6q2.3 -3.1 6.2 -3.3"/>
<path filter="url(#od)" stroke="#eb0f14" stroke-width="2.5" d="M311.2 154.7q.7 4.3 -3.4 5.7M341.6 132.6q3.1 2.1 6.6 2.9M294.5 139.1q-2.9 .2 -5.4 -1.3M250.6 154.8q-.9 1.6 -2.8 2.1M342.1 120.5q.6 2.3 -.1 4.5M313.8 153.9q-1.1 3.2 -4.4 3.6M252.6 137.3q-2.3 -.5 -4.5 .2M341.6 160.8q-.2 -3.6 -3.4 -5.3M270.7 140.3q-1.1 -2.2 .9 -3.7M298.4 131.1q1.1 2.4 2.9 4.3M320 129.6q-1.7 .7 -3 2M272 158q-1.9 -3.4 -5.4 -1.7M243.8 137.8q-3 4.7 1.5 8.1M279.5 142.1q-.9 -4.4 -1 -8.8"/>
<path filter="url(#od)" stroke="#ff9100" stroke-width="2.5" d="M266.5 140.7q-1.8 -3.4 .4 -6.6M346 136.1q-4.1 -1.6 -2.8 -5.7M322.1 143.4q-3 .7 -4.4 3.5M253.5 151.1q1.8 -.3 2.8 1.2M365.2 135q1.1 -1.9 -.2 -3.8M341 153.8q-.7 -5 -5.5 -6.5"/>
<path filter="url(#od)" stroke="#141ed7" stroke-width="3" d="M358.9 160.5q.8 -2.8 .3 -5.6M316.1 158.7q.5 -4.2 -2.9 -6.6M296.3 156.3q-2.3 2 -4.2 4.3M284.2 155.9q.4 4.7 5.1 5.5M295.1 156.7q-2.5 -.6 -2.6 -3.1M318.1 152.1q-.6 2.6 -3.2 2M355.3 151.5q-2.8 -.7 -2.6 -3.6M334.2 151.9q.1 3.5 1.2 6.7"/>
<path filter="url(#od)" stroke="#ff9100" stroke-width="3" d="M359.7 136.5q-.6 -1.5 -1.8 -2.6M332.6 147.8q-3.3 2.1 -6.9 .7M349.1 152.2q1.3 -2.7 2.7 -5.4M311.8 128.9q-2.7 -.4 -5.2 .6M248.6 155q1.3 -4.3 -2.1 -7.4"/>
<path filter="url(#od)" stroke="#fff45a" stroke-width="3" d="M319.4 131.1q3.3 .7 6 -1.2M289.6 140.9q-2.4 -2.6 -4.7 -5.2M238.9 147.8q2.2 .4 3.9 -.9M294.4 137.7q-1.3 -2.8 -.7 -5.9M358.9 122.4q-3.8 0 -7.5 1.2M343.3 130.5q-1.7 .6 -2.6 2.2M359.1 127.1q4.6 1.2 3.4 5.9M239.1 142.6q1.7 2.4 4.4 1.2M363.4 126.6q-3.3 1 -6.8 1.3M332.8 147.3q-3.2 1.3 -2.1 4.5M321.3 138.9q1.3 -1.6 3.3 -.9"/><path stroke="#ffffb0" stroke-width=".9" transform="translate(-.3 -.3)" d="M319.4 131.1q3.3 .7 6 -1.2M289.6 140.9q-2.4 -2.6 -4.7 -5.2M238.9 147.8q2.2 .4 3.9 -.9M294.4 137.7q-1.3 -2.8 -.7 -5.9M358.9 122.4q-3.8 0 -7.5 1.2M343.3 130.5q-1.7 .6 -2.6 2.2M359.1 127.1q4.6 1.2 3.4 5.9M239.1 142.6q1.7 2.4 4.4 1.2M363.4 126.6q-3.3 1 -6.8 1.3M332.8 147.3q-3.2 1.3 -2.1 4.5M321.3 138.9q1.3 -1.6 3.3 -.9"/>
<path filter="url(#od)" stroke="#eb0f14" stroke-width="3" d="M271.1 132.9q-2.7 1.2 -5.6 1.1M300.9 163.2q-2.3 -1.1 -4.9 -1.1M300.3 139.9q-.8 -1.8 -1.6 -3.6M316.3 147.2q-1.1 3.1 -1.1 6.3M254.6 168.5q-3.6 -2.3 -3.5 -6.7M324.6 147.8q-.5 1.8 -1.1 3.6M302.2 154.4q2.5 -2.2 4.1 -5.1M293.8 138.5q1.3 -2.8 4 -4.3M334.9 146q-2.4 -2 -5 -.2M349.5 159.8q4.6 -.6 4.2 -5.2M314.8 150.7q-.8 4.9 4 5.9M272.1 153.3q-3.5 .1 -7 -.5M287.6 137.5q-.1 4.6 4 6.8"/>
<path filter="url(#od)" stroke="#c8005a" stroke-width="1.5" d="M234.5 159.1q.9 .5 .4 1.4"/>
<path filter="url(#oc)" stroke="#1ed2ff" stroke-width="2" d="M271.5 169.7q2.3 3.7 6.6 4.3M355.3 164.6q-2.2 -1.1 -3.8 .8M322.9 169.5q-3.3 -.9 -4.2 2.4M337 160.8q-3.7 .6 -4.4 4.2M280 167.4q-3 -1.5 -6.1 -2.5M279.4 172q2.4 -.7 3.8 1.4M282.1 174q-1.9 1.9 -4.6 1.4M320.6 165q.6 -1.6 .1 -3.2M317.9 175.1q-2.1 .8 -3 -1.3M314.9 172.9q.7 -2.6 -1.5 -4.2M266.8 174q-1.9 -.1 -2.7 1.6M355.8 162.9q3.4 .5 5.4 3.4M276 162.2q2.7 1.4 3.6 4.3M331.1 166.8q1 -3.4 1.9 -6.7"/>
<path filter="url(#od)" stroke="#4b00be" stroke-width="2" d="M326.8 161.2q.3 -3.2 2.9 -5M322.4 144.7q2.2 2.8 5.5 1.6M351.5 150.4q-1.5 3.5 -5 4.9M276.2 158.3q3 -.3 5.4 1.4M279.3 153.5q-1.7 2.7 -4.5 1.2"/>
<path filter="url(#od)" stroke="#eb0f14" stroke-width="2" d="M328.3 137.9q2.3 2.7 -.4 5M364.2 126.7q-.1 -3.4 2.3 -5.9M321.6 153.9q1.5 .8 3.2 1.3M264.6 156.8q-3.1 .8 -6.3 1.2M299.1 152.9q-1.7 -2.4 -4.4 -1.2M358.3 150q-2.3 -4.7 -7.2 -3M347.9 136.2q2.9 .1 5.1 -1.9M295.3 160.4q2.7 -.7 4 1.8M262.8 131.4q4.5 -.4 5 4M352.1 146.8q1.4 -1.7 3.1 -.4M310.6 157.2q1.2 -1.1 2.9 -1M329.5 150.1q3.2 -1.4 6.2 .4M355.4 140.6q2.4 -.6 4.5 .7M240.2 140.9q2.4 1.6 4.2 -.7"/>
<path filter="url(#od)" stroke="#ff9100" stroke-width="2" d="M263.3 149q2.1 .1 4.1 -.3"/>
<path filter="url(#oc)" stroke="#6ef0ff" stroke-width="2" d="M335.1 161.9q2 .9 3.7 -.5M327.1 161.3q1.9 .3 3.9 .5M285.4 176.4q-2.7 1.3 -5.3 2.6M274.9 182.3q3.1 -2.4 5.2 -5.8M314.2 165.4q2.6 1.4 5.3 2.5M320.9 169.6q.1 -2.6 2.1 -4.2M338.1 170.1q-3.2 -.5 -5.4 1.8"/>
<path filter="url(#od)" stroke="#8c00a5" stroke-width="2.5" d="M257.7 159.8q-.2 2.3 -1.5 4.2M251 159.7q.8 2.4 -.2 4.8M309.8 162.4q.7 -1.4 .8 -2.9M262.9 137.7q-2.6 1 -3.6 3.7M309 150.9q-2 2.3 -4.6 3.8"/>
<path filter="url(#od)" stroke="#ffdc00" stroke-width="2.5" d="M358.6 144.8q1.8 3.4 2.9 7.1M283.8 139.6q-2.4 2.3 -1.3 5.4M317.4 155.5q.9 -1.5 .6 -3.3M290.3 136.9q3.5 1.6 5.6 4.9M300.7 144.2q-3.2 -2 -6.9 -1M325 134.9q2.1 1.5 4.5 .6M284.1 134.6q.1 3.2 -.2 6.4M290.7 165.4q-2.4 -1.8 -4.1 -4.2M285.8 139.6q1.4 1.2 1.1 3M293.1 147.2q.2 -2.3 2.5 -2.5M349.1 133.5q0 -2.1 .7 -4.1M292.6 135.8q-3.7 -1.5 -7.6 -2.5M353.1 122.4q3.5 1.8 7.2 3.2M322.1 143.6q2.6 0 3.4 2.6M306.2 150.4q-4.2 -1.8 -2.4 -6M325.2 130.5q-.4 2.2 1.7 2.9M332.8 136.1q-1.5 3.4 -5.2 2.7M349 139.2q1.2 2.7 -.1 5.3M334.3 122.1q.8 3.8 4.2 5.6M352.8 143.2q.9 -1.5 2.6 -2M301.7 133q3.8 -.2 7 1.7M312.6 133.9q-1.4 2.8 .9 4.9M330.1 152.3q-4.2 -.5 -6.2 -4.3M268 150.5q-.4 2.1 -2.3 3M321.2 131.9q-1.8 2.6 -4.6 .9M263.8 134.1q2.3 2.5 4.8 .2M293 137.2q.2 4.6 -4.3 5.8M350.2 127.8q1.1 -3.5 -.2 -6.9M316.8 153.6q2.7 -2 4.1 -5.1M303.9 146.2q-1.1 -3.3 -4.6 -2.8M295.2 133.7q-.2 -3.8 2.4 -6.6M342.8 128q2.2 2.5 3.1 5.6"/><path stroke="#ffffb0" stroke-width=".8" transform="translate(-.3 -.3)" d="M358.6 144.8q1.8 3.4 2.9 7.1M283.8 139.6q-2.4 2.3 -1.3 5.4M317.4 155.5q.9 -1.5 .6 -3.3M290.3 136.9q3.5 1.6 5.6 4.9M300.7 144.2q-3.2 -2 -6.9 -1M325 134.9q2.1 1.5 4.5 .6M284.1 134.6q.1 3.2 -.2 6.4M290.7 165.4q-2.4 -1.8 -4.1 -4.2M285.8 139.6q1.4 1.2 1.1 3M293.1 147.2q.2 -2.3 2.5 -2.5M349.1 133.5q0 -2.1 .7 -4.1M292.6 135.8q-3.7 -1.5 -7.6 -2.5M353.1 122.4q3.5 1.8 7.2 3.2M322.1 143.6q2.6 0 3.4 2.6M306.2 150.4q-4.2 -1.8 -2.4 -6M325.2 130.5q-.4 2.2 1.7 2.9M332.8 136.1q-1.5 3.4 -5.2 2.7M349 139.2q1.2 2.7 -.1 5.3M334.3 122.1q.8 3.8 4.2 5.6M352.8 143.2q.9 -1.5 2.6 -2M301.7 133q3.8 -.2 7 1.7M312.6 133.9q-1.4 2.8 .9 4.9M330.1 152.3q-4.2 -.5 -6.2 -4.3M268 150.5q-.4 2.1 -2.3 3M321.2 131.9q-1.8 2.6 -4.6 .9M263.8 134.1q2.3 2.5 4.8 .2M293 137.2q.2 4.6 -4.3 5.8M350.2 127.8q1.1 -3.5 -.2 -6.9M316.8 153.6q2.7 -2 4.1 -5.1M303.9 146.2q-1.1 -3.3 -4.6 -2.8M295.2 133.7q-.2 -3.8 2.4 -6.6M342.8 128q2.2 2.5 3.1 5.6"/>
<path filter="url(#od)" stroke="#ffdc00" stroke-width="3" d="M363 132.9q-.6 3.3 .4 6.6M297.9 151.2q1.7 2.1 4.3 3.1M299.2 136q-1.1 1.4 -.7 3.2M255.9 158.2q2.3 -.5 3.9 -2.2M345.9 152.3q2 -3.3 -.1 -6.5M257.8 137.2q2.1 .7 2.9 2.8M295.4 143.9q-2 -2.7 -5.4 -3.2M309 133.4q2.4 1 1.9 3.5M277.6 137.7q2.9 1.8 4.9 4.6M296.4 138.3q-4.7 -1.8 -7.1 2.6M320 131.1q-3.5 -2 -6.7 -4.3M262.1 135.8q-1.5 2.9 -.9 6.1M357.1 142q2.8 1 3.9 -1.8M284.1 156.1q2.4 -2.8 1 -6.1M241.7 149.8q-3.2 -2.3 -3.3 -6.3M355.3 133.7q.6 -1.8 2.4 -2.1M352.8 138.1q-2.4 -.5 -4.2 -2.2M353 146q2.3 1.9 2.8 4.8M340.3 130.1q2.5 -3.3 .6 -6.9M280 141.7q.5 -3.1 1.2 -6.1M290 147.2q1.6 -.7 3.1 -1.8M331.3 142.5q4.1 -2.3 7.2 1.2M307 123.1q0 2.4 1.1 4.7M308.3 136.9q-1.3 2.2 -3.7 3M305.8 141.1q-.5 -2.5 -1 -5M284.9 137.3q-.1 4.1 1.8 7.6M358.9 123.3q-2.5 1.7 -4.5 -.6M335.9 144.8q1.3 3.5 3.4 6.6M318.7 128.5q-2.3 2.5 -5.6 2.3M356.5 129.8q2.2 .4 4.4 .2M361.6 139.7q3.1 -1.7 4.4 -4.9M356.1 136.8q1.4 3 3.8 5.1M321.9 125.5q-2.9 .7 -3.5 3.5M355.3 151.5q-1.7 1.2 -3.4 0M314 137.2q-1.7 2.3 -.5 5"/><path stroke="#ffffb0" stroke-width=".9" transform="translate(-.3 -.3)" d="M363 132.9q-.6 3.3 .4 6.6M297.9 151.2q1.7 2.1 4.3 3.1M299.2 136q-1.1 1.4 -.7 3.2M255.9 158.2q2.3 -.5 3.9 -2.2M345.9 152.3q2 -3.3 -.1 -6.5M257.8 137.2q2.1 .7 2.9 2.8M295.4 143.9q-2 -2.7 -5.4 -3.2M309 133.4q2.4 1 1.9 3.5M277.6 137.7q2.9 1.8 4.9 4.6M296.4 138.3q-4.7 -1.8 -7.1 2.6M320 131.1q-3.5 -2 -6.7 -4.3M262.1 135.8q-1.5 2.9 -.9 6.1M357.1 142q2.8 1 3.9 -1.8M284.1 156.1q2.4 -2.8 1 -6.1M241.7 149.8q-3.2 -2.3 -3.3 -6.3M355.3 133.7q.6 -1.8 2.4 -2.1M352.8 138.1q-2.4 -.5 -4.2 -2.2M353 146q2.3 1.9 2.8 4.8M340.3 130.1q2.5 -3.3 .6 -6.9M280 141.7q.5 -3.1 1.2 -6.1M290 147.2q1.6 -.7 3.1 -1.8M331.3 142.5q4.1 -2.3 7.2 1.2M307 123.1q0 2.4 1.1 4.7M308.3 136.9q-1.3 2.2 -3.7 3M305.8 141.1q-.5 -2.5 -1 -5M284.9 137.3q-.1 4.1 1.8 7.6M358.9 123.3q-2.5 1.7 -4.5 -.6M335.9 144.8q1.3 3.5 3.4 6.6M318.7 128.5q-2.3 2.5 -5.6 2.3M356.5 129.8q2.2 .4 4.4 .2M361.6 139.7q3.1 -1.7 4.4 -4.9M356.1 136.8q1.4 3 3.8 5.1M321.9 125.5q-2.9 .7 -3.5 3.5M355.3 151.5q-1.7 1.2 -3.4 0M314 137.2q-1.7 2.3 -.5 5"/>
<path filter="url(#od)" stroke="#ff5000" stroke-width="3" d="M255.6 156.6q-.6 1.8 .7 3.3M310.9 160.2q3.1 -2.2 5.7 .7M359.3 158.6q2.1 -3.2 4.9 -5.9M306.2 153.1q3.7 -.6 6.9 -2.8M344.5 136.9q-3.2 -2.8 -6.9 -.7M353.7 150.2q-.8 1.5 -.6 3.2M345.5 148.5q.4 3.5 3.5 5.1M256.7 151.4q3.1 3 6.8 1M330.1 125.7q-.3 2.8 -2.9 4M360.7 150.1q3.1 -1.1 6.4 -1.1M258.4 151.7q-1.7 3.9 -5.9 3.7M266.2 149.5q-3.8 -1.3 -6.5 1.8M290.9 149.5q-1.2 2.6 -.2 5.4M351.4 126.4q-2 2.6 -3.2 5.7M340.8 135.5q-2.1 -3 -5.1 -5.2M266.1 142.4q1.2 -3.3 4.6 -2.7M262.8 152.1q.1 2.9 2.7 4.2"/>
<path filter="url(#od)" stroke="#8c00a5" stroke-width="3" d="M283.8 165.1q.5 -1.8 1.5 -3.5M235.4 158.8q1.5 3.8 5.5 4.2M237.9 165.9q2.7 -3.2 1.2 -7.2M298.2 140.4q-2.4 1.5 -4.9 .3M294.3 159q-1.3 -1.8 -1.5 -4"/>
<path filter="url(#od)" stroke="#ff5000" stroke-width="2.5" d="M313.9 154.2q-2.3 -.9 -4.7 -.8M275.3 142.8q-.5 2.8 2.2 3.8M287 149q-1.5 -2.2 -1.4 -4.8M278 148q0 -3.3 2.7 -5.3M257.4 142.9q4.6 .7 4.3 5.4M260.2 175.2q-2.5 -2.4 -6 -2.8M257.9 155.9q-2.6 -1.5 -5.3 -2.9M313.6 148.4q3 .2 3.3 3.2M280 148.9q4.9 2.6 7.6 -2.2M253.2 158.9q-2.2 3.4 -6.2 2.6M239 159.5q-.4 -3.8 3.1 -5.1"/>
<path filter="url(#od)" stroke="#eb0f14" stroke-width="2.5" d="M335.9 159.4q2.3 1.7 4.8 .2M266.8 152.5q-3.8 .4 -7.6 -.3M355.3 132.2q-.2 2.5 0 4.9M308.6 137.6q2.2 2.8 5.8 3.2M303.1 160q3.3 -.6 5.3 2.1M311.1 146.5q1.2 -1.7 3.3 -1.4M272.1 152q3.1 2.3 6 5M366.6 153.8q-1.4 -3.3 -2.8 -6.7M253.8 148.1q-1.8 1.2 -2.9 3.1M352.7 150.5q1.2 -1.9 3.5 -1.7M342.9 132.5q-2.9 -1.2 -5.9 -.4M293.6 155.7q1.9 -.9 1.3 -2.9M333.6 158.5q-3.3 -2.1 -6 .6M334.4 154.8q.8 -2.2 3 -2.7M345.3 147.6q3.5 0 6.1 -2.5"/>
<path filter="url(#od)" stroke="#ff9100" stroke-width="2.5" d="M259 137q-1.7 -1.4 -3.5 -.1M273.8 143q1.4 3.5 0 7M305.3 152.3q.9 -4.1 5.1 -5.1M300.1 135.1q-3.3 1.4 -6.3 3.4"/>
<path filter="url(#od)" stroke="#ffbe00" stroke-width="3" d="M291.8 146.9q1.3 3.2 4.7 2.6M328.6 133.9q1.4 -1.5 3.3 -.9M340.5 138.4q2.4 .9 3.2 3.3M356.8 141.1q2.6 4.5 7.5 2.7M281.7 147.3q-.7 -1.6 -.6 -3.2M305.8 130.1q2.2 -.1 3.8 1.4M333.2 135.1q-2.6 .9 -2.9 3.6M309.5 141.2q1.4 -3.4 -.3 -6.7M286.5 152q.9 -1.9 2.3 -3.4M322.5 139.9q0 2.5 -.8 4.9M297.1 151.7q2.4 -3.2 6.4 -2.7M327.1 147.1q.8 -3.8 -1.6 -7M344 131.1q-1.5 -2.7 .9 -4.6"/><path stroke="#ffffb0" stroke-width=".9" transform="translate(-.3 -.3)" d="M291.8 146.9q1.3 3.2 4.7 2.6M328.6 133.9q1.4 -1.5 3.3 -.9M340.5 138.4q2.4 .9 3.2 3.3M356.8 141.1q2.6 4.5 7.5 2.7M281.7 147.3q-.7 -1.6 -.6 -3.2M305.8 130.1q2.2 -.1 3.8 1.4M333.2 135.1q-2.6 .9 -2.9 3.6M309.5 141.2q1.4 -3.4 -.3 -6.7M286.5 152q.9 -1.9 2.3 -3.4M322.5 139.9q0 2.5 -.8 4.9M297.1 151.7q2.4 -3.2 6.4 -2.7M327.1 147.1q.8 -3.8 -1.6 -7M344 131.1q-1.5 -2.7 .9 -4.6"/>
<path filter="url(#od)" stroke="#0064f0" stroke-width="2.5" d="M339.6 151.5q4.2 1.6 4 6M338 150.7q1.5 3.5 4.1 6.2M244.3 158q.8 3.3 -.4 6.5M245.8 170.3q-1.2 -2 0 -4M326.1 164.7q-2.7 1.6 -2.7 4.7M342 150.6q-.4 -2.7 -.9 -5.4M331 147.9q3.8 2.6 1.3 6.5M273.4 172.3q3.2 1.6 6.2 -.4M264.2 158.9q2.2 1.4 2.8 3.9M256.3 172.6q2.5 -2.2 5 .1M337.8 136.7q-2.3 -2.2 -3.5 -5.1M307.4 152.5q2.9 2.8 6.6 4.2M286.6 183.7q-1.6 -3.4 -1.2 -7.1M348 133.9q-3.4 -1.6 -6.9 -3M306.1 174.9q.4 -3.1 2 -5.9M322.6 153.7q-1 -1.6 -.2 -3.3M258.1 156.5q-.1 2.8 2.6 3.5"/>
<path filter="url(#oc)" stroke="#00a5fa" stroke-width="3" d="M317.1 169.9q2.3 .9 1.4 3.2M305.9 169.1q1.5 -2.2 2.7 -4.6M355.3 161.3q.4 2.8 -2 4.4M302 175.1q-3.1 .8 -5.5 -1.2M355.6 167.3q.4 -4.1 3.7 -6.7M288.9 139.5q3.1 -1.2 6.1 -2.9M283.4 165.7q3.9 -2.9 7.8 .2M352.5 162.3q-3.3 -2.6 -7.4 -2.5M278.4 173.4q-3.7 .4 -7 -1.2M344 151.9q3.1 -2 6.4 -3.6M316.1 168.2q-3.7 3.4 -1.2 7.7M293.8 175q.3 1.9 1.9 2.9M349.6 167.8q-.8 1.8 -2.7 2M261.3 167.6q-3.9 -.3 -6.6 -3.2M261.3 167.9q-1.4 1.8 -.9 4.1M291 170.6q-2.9 -1 -5.6 -2.5M337.9 171.4q-1 -1.9 -2.3 -3.6M264 173.8q-1.4 -2.4 -.7 -5.1M298.6 174.9q0 -1.8 .7 -3.5"/>
<path filter="url(#od)" stroke="#fff45a" stroke-width="2.5" d="M330.1 158.2q-2.6 2.6 -5.5 .3M294.1 142.7q-.8 2.3 -3.2 1.9M273.8 136.7q-1.8 -2 -3.2 -4.2M241.6 149.9q3.4 -2.1 6.8 -4.2M258.3 146.4q3.2 -.6 5.2 2M263.8 137q.5 2.6 -2 3.4M263.2 149.4q1.9 -4.4 6.7 -3.5M323.9 130.3q-1.8 .2 -3.3 1.1M366.3 133.5q-1.8 2.1 -4.4 1.2M299.6 137.1q-1.9 .1 -3.5 1.1M360.7 146.4q-1.5 -.7 -3.1 -.1"/><path stroke="#ffffb0" stroke-width=".8" transform="translate(-.3 -.3)" d="M330.1 158.2q-2.6 2.6 -5.5 .3M294.1 142.7q-.8 2.3 -3.2 1.9M273.8 136.7q-1.8 -2 -3.2 -4.2M241.6 149.9q3.4 -2.1 6.8 -4.2M258.3 146.4q3.2 -.6 5.2 2M263.8 137q.5 2.6 -2 3.4M263.2 149.4q1.9 -4.4 6.7 -3.5M323.9 130.3q-1.8 .2 -3.3 1.1M366.3 133.5q-1.8 2.1 -4.4 1.2M299.6 137.1q-1.9 .1 -3.5 1.1M360.7 146.4q-1.5 -.7 -3.1 -.1"/>
<path filter="url(#od)" stroke="#ffbe00" stroke-width="1.5" d="M236.6 142.8q-.2 -.9 .5 -1.4"/>
<path filter="url(#oc)" stroke="#00a5fa" stroke-width="2.5" d="M292.6 167q-2.2 .8 -3.7 -.9M284.1 181.6q-4.2 -2.4 -1.8 -6.6M300.5 165.4q-1.3 -2.6 -4.2 -3.2M254.2 144.1q2.4 -3.5 -.8 -6.3M323.9 169.6q-4 .3 -4.4 4.3M289.9 173.9q3.9 -1.8 2.2 -5.7M361.6 157.1q-1.5 2.1 -2 4.7M354.6 166.1q1.3 1 2.5 2.3M255.3 169.7q2.6 -.9 4.7 -2.6M245.9 171q4.6 1 7.4 -2.8M252.5 164.6q-1.9 2.1 -3 4.7M341.4 169q-2 .2 -3.8 1M290.9 172.9q-1.2 -3.5 .6 -6.6M297.1 179.2q-2 .5 -3.2 -1.3M339.1 168q3.9 -1.2 6.6 -4.3M282.9 170.3q-3 2.7 -.5 6M324.1 149q3.7 .7 3.5 4.4M289.5 134.1q-4.5 -.7 -6.6 3.4M342.2 160.3q-.3 3.6 2.8 5.6M321.1 169q1.1 4.3 5.5 3.4"/>
<path filter="url(#od)" stroke="#ff9100" stroke-width="1.5" d="M237.9 152.5q-.7 .7 0 1.5"/>
<path filter="url(#od)" stroke="#c8005a" stroke-width="2.5" d="M330.4 150.6q4.1 .9 5.9 4.7M361.8 160.1q.5 -2.5 .7 -5.1M335.8 155.4q.6 -3.2 -1.9 -5.3"/>
<path filter="url(#od)" stroke="#0064f0" stroke-width="3" d="M296.9 137.3q-3.1 -1.2 -4.9 -3.9M290.4 170.6q-3.8 -.9 -6.5 2M324 161.9q-.2 -2.3 1.8 -3.6"/>
<path filter="url(#oc)" stroke="#00a5fa" stroke-width="2" d="M298.2 179.4q-3.8 .9 -7.7 .6M281.2 179.3q-2.3 -3.5 -2 -7.6M278.6 174.4q2.9 -2.9 6.3 -.6M307.8 176.4q-2 .3 -3.6 -1.1M248.9 151.3q-1.4 1.5 -1.2 3.5M365.6 165.9q-.7 -2.1 -2.7 -2.9M299.9 161.6q-.4 3.7 -.4 7.4M274.1 166.9q.4 -2.1 2.6 -2.5M320.2 170.5q-.2 1.6 -.9 3.2M308.4 170.4q.5 -2.4 .8 -4.9M279.2 175.3q-3.5 .3 -4 3.8M283.3 161.4q3.4 4.2 -.8 7.7M307.7 174.2q-1.4 1.8 -.7 3.9"/>
<path filter="url(#od)" stroke="#ffbe00" stroke-width="2.5" d="M348.5 145.3q-.6 -3.8 -4.4 -3.3M310.5 148.5q4.7 -.1 6.6 -4.4M346.3 144.9q2.4 -.4 4.2 -2.1M247.4 168.1q1.9 -2 .8 -4.5M331.9 127.9q-3.3 .7 -5.1 -2.1M332.3 137.2q-2 .1 -2.5 2.1M267.5 135.3q3.2 -.3 6.4 -.2M344.5 133.2q-3.1 1.4 -4.6 4.4M296.6 145.2q-1.2 2.9 -1.4 6M346.7 131.4q-3.4 3 -7.7 1.7M255.3 150q-3.7 3.1 -7.2 -.3M261.7 145q1.2 2 1.5 4.3M329.5 138.7q-4.5 2 -7 -2.3M267.3 130.9q-3.1 4.4 1.3 7.6M326.4 153.1q3 -.4 4.9 1.9M264.9 143.5q-1.2 1.4 -1.4 3.2M322.7 133.5q-1.9 .4 -3.8 .8M354.9 121.2q2.2 3.5 .5 7.3M369.1 148.9q-3.9 -.9 -7.6 .7M331.1 136.5q.5 -2.5 -1.7 -3.6M357 128.1q3 -1.1 4 -4.2M316.6 140.6q-3.2 -3.2 -.7 -6.9M317.9 136.3q3.3 .2 5.1 -2.6"/><path stroke="#ffffb0" stroke-width=".8" transform="translate(-.3 -.3)" d="M348.5 145.3q-.6 -3.8 -4.4 -3.3M310.5 148.5q4.7 -.1 6.6 -4.4M346.3 144.9q2.4 -.4 4.2 -2.1M247.4 168.1q1.9 -2 .8 -4.5M331.9 127.9q-3.3 .7 -5.1 -2.1M332.3 137.2q-2 .1 -2.5 2.1M267.5 135.3q3.2 -.3 6.4 -.2M344.5 133.2q-3.1 1.4 -4.6 4.4M296.6 145.2q-1.2 2.9 -1.4 6M346.7 131.4q-3.4 3 -7.7 1.7M255.3 150q-3.7 3.1 -7.2 -.3M261.7 145q1.2 2 1.5 4.3M329.5 138.7q-4.5 2 -7 -2.3M267.3 130.9q-3.1 4.4 1.3 7.6M326.4 153.1q3 -.4 4.9 1.9M264.9 143.5q-1.2 1.4 -1.4 3.2M322.7 133.5q-1.9 .4 -3.8 .8M354.9 121.2q2.2 3.5 .5 7.3M369.1 148.9q-3.9 -.9 -7.6 .7M331.1 136.5q.5 -2.5 -1.7 -3.6M357 128.1q3 -1.1 4 -4.2M316.6 140.6q-3.2 -3.2 -.7 -6.9M317.9 136.3q3.3 .2 5.1 -2.6"/>
<path filter="url(#oc)" stroke="#6ef0ff" stroke-width="1.5" d="M226.8 179q-.5 -.7 -1.3 -.8"/>
<path filter="url(#oc)" stroke="#1ed2ff" stroke-width="3" d="M329.1 174.9q-1.3 -1.1 -2.9 -1.7M270.2 179.1q-.4 -3.2 2.8 -4M307.6 166.3q-2.5 2.6 -3.9 6M294.2 170.9q2.3 2.1 4 4.8M332 168.9q1.2 1.9 .3 4M324.9 169.7q-.1 -4.4 -4 -6.3M353.6 166.8q-3.1 2.5 -1.2 5.9M345 167.2q4.3 .6 6.2 -3.3M344.1 169.1q-1.7 .8 -1.9 2.7M255.3 170.7q2.9 -1.2 5.9 -2"/>
<path filter="url(#oc)" stroke="#00a5fa" stroke-width="1.5" d="M235.3 167.7q.9 .5 1.5 -.4"/>
<path filter="url(#od)" stroke="#ff5000" stroke-width="1.5" d="M236.8 154.3q-.1 .8 -.3 1.5"/>
<path filter="url(#oc)" stroke="#1ed2ff" stroke-width="2.5" d="M311.5 165q-1.7 1.7 -1 4M313.5 175.9q-.8 -2.3 -2.2 -4.2M298.4 170.9q5.4 .2 5.6 5.5M250.4 168.7q-2.8 .1 -4 2.6M277.1 177.1q-1.9 -2.3 -2.6 -5.2M351.7 163.9q-3.1 .9 -3.1 4.1M332.4 169.5q4.3 -1.4 3.1 -5.8M342.3 166.7q-.7 -3.3 -1 -6.6M243.6 166.9q1 2.5 -1.3 3.8M326.2 173.6q3.5 .6 7.1 .8M295.6 166.9q3.1 1.9 6.7 .8M322.4 173.8q-1.1 -3.1 1.8 -4.5M313.1 175.1q2.5 1.6 4.6 -.5M279.6 170q2.7 2.6 6.1 4.1M308.2 174.1q2.7 -.2 5.1 .9M332.6 167.3q2 1.2 3.7 -.4M325 166.4q-3.3 -2.2 -5.9 .8M290.8 177.5q2 2.6 5.2 3M307.1 177q1.2 -4.4 5.7 -5.2"/>
<path filter="url(#od)" stroke="#4b00be" stroke-width="1.5" d="M235.1 151.1q.7 .4 1 1.1"/>
<path filter="url(#od)" stroke="#ffbe00" stroke-width="2" d="M259.3 134.3q1.2 2.3 3.8 2.2M296.3 148.1q2.8 -2.8 1.6 -6.5M278.5 145.6q-.7 -3.3 1.4 -5.9M251.7 145.9q3 .6 2.4 3.6M294.3 154.1q-2.3 .4 -4.2 -.8M293 133.5q-1.2 3 -4.2 3.9M314.5 134.9q-2.4 -.6 -3.9 -2.5M351.6 153.7q2.7 -3.5 .1 -7.1M253.9 147.5q2.7 3 .5 6.3M259.5 142.9q1.9 -1.3 2.1 -3.6M275.2 150.3q-1 1.6 -1.4 3.5M323 149.3q2.1 -1.7 4.3 -3.2M342.4 125.9q-.8 -1.7 -.6 -3.5"/><path stroke="#ffffb0" stroke-width=".6" transform="translate(-.3 -.3)" d="M259.3 134.3q1.2 2.3 3.8 2.2M296.3 148.1q2.8 -2.8 1.6 -6.5M278.5 145.6q-.7 -3.3 1.4 -5.9M251.7 145.9q3 .6 2.4 3.6M294.3 154.1q-2.3 .4 -4.2 -.8M293 133.5q-1.2 3 -4.2 3.9M314.5 134.9q-2.4 -.6 -3.9 -2.5M351.6 153.7q2.7 -3.5 .1 -7.1M253.9 147.5q2.7 3 .5 6.3M259.5 142.9q1.9 -1.3 2.1 -3.6M275.2 150.3q-1 1.6 -1.4 3.5M323 149.3q2.1 -1.7 4.3 -3.2M342.4 125.9q-.8 -1.7 -.6 -3.5"/>
<path filter="url(#od)" stroke="#4b00be" stroke-width="2.5" d="M321.9 155.2q.9 2.3 .6 4.7M352.1 163.4q2.6 -3.8 .2 -7.7M259.1 173.7q-1 -2 -2.7 -3.4"/>
<path filter="url(#od)" stroke="#ff5000" stroke-width="2" d="M342.8 137.2q-.6 4.2 3.1 6.1M323.7 131.7q-4.1 -1.2 -6.1 -5M308.5 130.6q-2.4 -.6 -3.9 -2.7M314.2 139.8q-2.2 -.8 -3.7 .9M273.5 162.2q1.3 1.1 2.2 2.6M250 157.5q-.9 -3 2.1 -4M364.6 155q-.7 4 -4.7 4.6M247.9 148.9q2.4 -1.1 4.6 .4M252.5 139.2q-2.9 .4 -3.4 3.2M321.6 135.9q1.1 2.2 3.2 3.4M266.1 154.6q3.6 0 6.5 2.1M353.7 142q-1.5 -2.1 -3.2 -4M281.5 154.1q-2.2 1.6 -3.7 -.6M294.6 156.1q-.3 -2.3 1.2 -4"/>
<path filter="url(#od)" stroke="#4b00be" stroke-width="3" d="M238.8 160.5q1.8 -1.4 2.6 -3.5M317.7 156.6q-1.7 1.1 -2.1 3.1M292.7 161.1q.1 -2 -1.8 -2.7M300.2 163.8q1.2 -2.7 1.9 -5.6M305.1 160.4q-3 .5 -4.9 2.9M339.3 155.5q0 2.7 2.1 4.4"/>
<path filter="url(#od)" stroke="#ffdc00" stroke-width="2" d="M321.9 158.5q-1.2 -2.6 -3.3 -4.6M249.9 141.9q1.6 3.2 .3 6.5M303.4 151.6q-2.3 -1 -2.5 -3.5M264.5 137.2q-1.7 2 -1.8 4.5M289.4 142.6q-2.9 3.2 -.9 7.1M361.4 127.5q-4.1 -.2 -5 -4.3M330.1 138.7q2.2 .1 3.1 -1.8M365 125.5q-2.3 2.9 -5.5 4.8M295.4 133.6q-3.1 -2.1 -1 -5.3M355.9 127.3q2.2 -.8 2.7 -3M253.8 131.3q1 2.3 2.9 3.9M309.1 131.5q-.4 3.2 2.7 4.3M288.1 150.3q-3.1 -1.3 -6.5 -.5M272.9 150.4q4.1 .7 3.6 4.8M331.9 145.9q-2.8 -.5 -4.1 2M288.1 137.2q-2.5 -1 -5.1 -1.6M353.2 140.5q-3.4 1.9 -2.3 5.6M318.7 144.2q-2 -3.1 -5.7 -3.4M363.5 145.5q0 -3.3 -.2 -6.6M326.3 143.2q.8 1.8 -.8 3.1M242.5 149.4q3.2 -3.4 .3 -7M297.5 140.3q-2.4 -3.8 -6.7 -2.5M328.5 141.2q-3.1 1.3 -2.6 4.7M266.3 139.2q-2.7 .5 -3.2 3.2M301.2 150.9q2.8 3.1 6.9 3.4M300.5 152.5q.4 -1.7 -.8 -3.1M361.8 140.5q-3 .7 -5.9 1.4M304 135.9q.3 -3.2 3.6 -3.1M328.9 133.2q1.7 1 3.7 .9M303.6 126.7q-2.3 1.8 -2.6 4.7M278.5 140.5q-.8 2.3 .6 4.4M259.9 137.7q2.1 -2.4 2.4 -5.6"/><path stroke="#ffffb0" stroke-width=".6" transform="translate(-.3 -.3)" d="M321.9 158.5q-1.2 -2.6 -3.3 -4.6M249.9 141.9q1.6 3.2 .3 6.5M303.4 151.6q-2.3 -1 -2.5 -3.5M264.5 137.2q-1.7 2 -1.8 4.5M289.4 142.6q-2.9 3.2 -.9 7.1M361.4 127.5q-4.1 -.2 -5 -4.3M330.1 138.7q2.2 .1 3.1 -1.8M365 125.5q-2.3 2.9 -5.5 4.8M295.4 133.6q-3.1 -2.1 -1 -5.3M355.9 127.3q2.2 -.8 2.7 -3M253.8 131.3q1 2.3 2.9 3.9M309.1 131.5q-.4 3.2 2.7 4.3M288.1 150.3q-3.1 -1.3 -6.5 -.5M272.9 150.4q4.1 .7 3.6 4.8M331.9 145.9q-2.8 -.5 -4.1 2M288.1 137.2q-2.5 -1 -5.1 -1.6M353.2 140.5q-3.4 1.9 -2.3 5.6M318.7 144.2q-2 -3.1 -5.7 -3.4M363.5 145.5q0 -3.3 -.2 -6.6M326.3 143.2q.8 1.8 -.8 3.1M242.5 149.4q3.2 -3.4 .3 -7M297.5 140.3q-2.4 -3.8 -6.7 -2.5M328.5 141.2q-3.1 1.3 -2.6 4.7M266.3 139.2q-2.7 .5 -3.2 3.2M301.2 150.9q2.8 3.1 6.9 3.4M300.5 152.5q.4 -1.7 -.8 -3.1M361.8 140.5q-3 .7 -5.9 1.4M304 135.9q.3 -3.2 3.6 -3.1M328.9 133.2q1.7 1 3.7 .9M303.6 126.7q-2.3 1.8 -2.6 4.7M278.5 140.5q-.8 2.3 .6 4.4M259.9 137.7q2.1 -2.4 2.4 -5.6"/>
<path filter="url(#od)" stroke="#0064f0" stroke-width="2" d="M285.4 142.3q-.7 -3.1 1.4 -5.4M352.4 152.9q.1 2.6 2.8 2.7M283.7 170.3q-2.2 2.1 -4.7 3.6M319.7 172.8q1.8 .6 3.5 -.3M328.3 175.8q-1.2 -1.7 -1 -3.8M278.2 147.2q1.1 2.1 1 4.4M307.2 154.5q-.6 3.9 2.4 6.3M363 168.1q2.4 1.2 4.5 -.5M283.8 176.5q3.8 1 7.6 .1M277.1 151.4q3.3 .7 6.1 2.6M332.3 172.4q2.6 -.2 3.2 -2.8M343.5 166.5q-4.2 -.8 -6.6 -4.3M296.4 164.5q-1.7 -1.7 -3.4 -3.4"/>
<path filter="url(#od)" stroke="#141ed7" stroke-width="1.5" d="M236.7 166.3q-.2 -.7 -.6 -1.4"/>
<path filter="url(#od)" stroke="#141ed7" stroke-width="2.5" d="M356.6 156.3q-3.3 .8 -6.5 -.3M247.4 136.8q-1.4 4.6 2.7 7.1M245.3 153.7q-2.5 1.1 -5.1 2M365 157.1q-1.7 -3.2 .8 -5.9M301.2 155q-.4 2 -2.5 2.2M242.3 161.5q-.6 2.5 1.9 3.4M309.8 142.6q-2 -4.5 1.9 -7.4"/>
<path filter="url(#od)" stroke="#fff45a" stroke-width="2" d="M344.2 153q.5 -2.9 2.9 -4.6M315.4 145q-3.7 -.2 -7.4 -.4M361.5 121.1q-1.1 1.2 -2.5 1.8M345.4 139.2q1.1 -2.7 -.7 -5M314.1 126q1.4 2.3 3.9 1.3M341 130.3q-1.7 -2.8 .3 -5.3M319.8 129.2q-2.8 -.5 -5.7 -.8M323.2 138.9q4.8 2.2 2.6 7M301.7 140.8q1.6 -.2 3.1 .3M295.8 130.7q5.4 .5 5 6M247.4 135.8q4.2 1.2 3.2 5.4M325.4 145.9q.8 3.3 3.5 5.4"/><path stroke="#ffffb0" stroke-width=".6" transform="translate(-.3 -.3)" d="M344.2 153q.5 -2.9 2.9 -4.6M315.4 145q-3.7 -.2 -7.4 -.4M361.5 121.1q-1.1 1.2 -2.5 1.8M345.4 139.2q1.1 -2.7 -.7 -5M314.1 126q1.4 2.3 3.9 1.3M341 130.3q-1.7 -2.8 .3 -5.3M319.8 129.2q-2.8 -.5 -5.7 -.8M323.2 138.9q4.8 2.2 2.6 7M301.7 140.8q1.6 -.2 3.1 .3M295.8 130.7q5.4 .5 5 6M247.4 135.8q4.2 1.2 3.2 5.4M325.4 145.9q.8 3.3 3.5 5.4"/>
<path filter="url(#od)" stroke="#8c00a5" stroke-width="2" d="M305.3 164.4q1.3 -3.8 -1.9 -6.3M268.6 161.7q-3.8 .4 -5.6 3.8M313.1 151.1q1.7 3.4 5.2 1.7M246.5 168.9q-1.3 -.8 -2.7 -1.5M366.1 129.9q-1.9 -2 -4.2 -.6M360.2 128.9q4.2 -1.7 4 -6.2M339.7 157.1q-3.2 -1.7 -5.3 -4.6"/>
<path filter="url(#od)" stroke="#141ed7" stroke-width="2" d="M348.9 142.5q3.4 -.6 3.9 -4.1M326.9 151.2q-2.1 1.2 -2 3.5M262.2 140.3q1.5 -.8 2.9 -1.8M327.5 162.3q.7 -2.4 1.7 -4.6M286.3 162.6q-3 3.6 -6.6 .7M266.2 141.1q-.2 -3 1.9 -5.1M291.7 154.1q-.3 2.1 1.3 3.4M352.3 146q2.4 0 4.3 -1.5M303.3 152.9q-2.4 .5 -4.1 2.3M289 159.2q-2.2 .3 -4.4 .5"/>
<path filter="url(#oc)" stroke="#6ef0ff" stroke-width="3" d="M274.2 175q2.5 -.6 5 -1.7M344.4 165.9q1.7 -1.1 3.8 -1.1M290.2 168.5q2 .8 3 -1.1M348.4 164.7q-4.3 2.2 -7.5 -1.5M309.4 175.3q3.6 0 7.1 .7M340.2 162.4q-1.8 .5 -3.4 1.4M362.3 163.8q.1 -2.5 2.1 -4.1M336 159.8q-.4 2.5 2 3.3M317.5 168.7q-3.3 2.1 -7.2 2.7M334 169.4q-.4 -3 -3.3 -3.4"/>
<path filter="url(#oc)" stroke="#6ef0ff" stroke-width="2.5" d="M303.9 165q1.8 -1.3 3.5 -2.6M314.7 170.1q-.4 1.7 .3 3.2M331.4 163.5q-2.3 .9 -4.7 .6M350.1 169.5q-1.5 -1.7 -3 -3.3M290.5 175.5q1.9 .3 3.6 1M314.1 169.9q4 -2.5 1.5 -6.5M274.8 171.5q1.5 1.4 .8 3.3M302.1 173.2q2.7 -.9 4 1.6M301.9 168q-2.1 -.9 -3.6 .9M349 169q-2 1.5 -2.3 4M310 172.1q3.1 -2.4 1 -5.6M273.4 177.7q-2.1 0 -4.1 -.5"/>
<path filter="url(#od)" stroke="#c8005a" stroke-width="3" d="M266.4 157.2q3.1 3.6 .1 7.4M282.7 157.7q3 .3 3.1 3.3M312.4 160.9q-.5 -2 -1.5 -3.8"/>
<path filter="url(#oc)" stroke="#1ed2ff" stroke-width="1.5" d="M244.6 186q.4 -.7 1 -1.1M241.1 186.8q-.4 -.8 -1.3 -.7M224.9 185.4q-.9 .3 -.9 1.2"/>
<path filter="url(#od)" stroke="#0064f0" stroke-width="2" d="M340.6 154.2q-1.6 3.4 .3 6.6M310.1 171.3q2.8 -.9 5.1 -2.8M331 150q3.8 -1.2 5.2 2.5M278.3 139.4q-.5 1.6 -1.8 2.5M312.1 169.5q1.4 -.8 1.6 -2.4M300.3 148q-1.6 -2.3 -1 -5M294.3 165.2q-3.4 .7 -5.4 -2.2M311.8 158.1q.5 -2.5 3 -3.2M314.8 167.1q-2.4 -1 -4.6 .3M327.4 170.7q-2.4 -1.5 -1 -4M297.4 170.1q.8 -2.2 3.1 -2M349.8 158q0 3.2 -3.3 3.3M274.8 164.3q-1.2 .8 -1.2 2.3"/>
<path filter="url(#od)" stroke="#c8005a" stroke-width="1.5" d="M330.9 152.4q3.8 1 4.8 4.8M311.3 154.5q1.9 -2.2 4.9 -2.5M335.3 158.8q1.3 .5 2.2 -.5M261.1 173.6q-1.7 1.2 -3.3 -.2"/>
<path filter="url(#od)" stroke="#4b00be" stroke-width="1.5" d="M234.3 146q-.6 .5 -1.4 .5M265.4 153.6q-2.8 .8 -5.6 .5M335.6 154.3q-.5 -1.3 -1.6 -2.2M286.8 159.9q-.6 1.8 -.6 3.7M234.9 164.6q-.4 .8 .1 1.5M279.8 160.8q-2.2 -2.6 -5.4 -1.6M254.4 152.8q2.2 -.2 3.9 1.3M245.7 161.3q2.2 .2 3.2 -1.9"/>
<path filter="url(#od)" stroke="#8c00a5" stroke-width="1.5" d="M259.4 139.3q-2 2 -3.2 4.6M254.9 165.8q2.3 1.2 1.7 3.6M322.4 156q-2 -2 -4.4 -.5M275.8 162.6q2.2 -1.7 4.8 -.7M316.4 148.9q-1.7 .9 -3.5 .3M277.6 162.6q-2.7 .3 -5.5 .5M240 168q.5 -3.4 -.1 -6.8M333 162.2q1.6 -2.2 .8 -4.8M351.7 151.8q.6 3.7 -1.8 6.6M286.2 145.9q.7 3.5 -.5 6.8M302.8 154.8q1.2 -2.5 -.3 -4.9M361.8 157.7q-1.5 -.7 -2.5 -2.1"/>
<path filter="url(#od)" stroke="#ff5000" stroke-width="2" d="M242.8 166.1q-2.5 2.4 -6 2.6M285 153.3q-1.6 -3.2 -1.1 -6.8M339.6 150.6q.1 1.3 1.3 1.9M294.2 161.9q-2.4 -3.4 0 -6.9M360.9 150.6q-4 -1.5 -6 2.3M312.6 128.8q-.8 3.5 .5 6.9M252.2 164.3q-2.2 1.8 -4.9 2.8M332.3 151.6q.3 -1.4 .8 -2.8M315 147.5q-.8 -.9 -1.9 -1.5M341.6 153.4q-3.2 -.6 -5 -3.3M362.6 141.6q-1.1 -1.8 -.7 -3.8M243.4 156.9q1.1 3.6 -1.1 6.6M303.8 160.8q-1.4 -1.2 -.4 -2.8M322.3 128q3.3 .1 5.8 -2.1M312.4 137.8q-2 1.1 -3.5 2.6M348 158.1q.8 .9 2 .5M319.6 143.5q-.6 2.5 -3.1 1.9M286.1 143.4q-1 -.7 -1.7 -1.7M324.7 138.7q2.7 .7 3.8 -1.9M329.9 130.8q-.1 1.9 -1.9 2.5M358.7 146.1q-2.3 2 -5.4 2M299.5 128.4q1.3 -1.3 3 -.7"/>
<path filter="url(#od)" stroke="#fff45a" stroke-width="1.5" d="M267.3 155.7q-.8 -4 2.8 -5.9M345.2 129.3q1.7 -.2 3.4 -.3M361.6 146.5q-2.2 -2.7 -5.7 -3.1M273.8 164.5q2.3 .9 3.5 -1.3M307 135.6q-.4 2.6 .4 5.1M322 121.2q-1.5 2.2 -1.3 4.9M345.5 139.9q1.5 -.5 1.2 -2.1M295.7 130.8q.4 2.6 2.3 4.4M344.9 127.6q2.6 1.5 4.5 3.8M308.5 126.5q2.7 .8 5.5 1.3"/>
<path filter="url(#od)" stroke="#c8005a" stroke-width="2" d="M361.1 156.7q-2.7 .4 -2.5 3.2M263.7 159.1q-.8 1.8 -.5 3.7M333.7 155.9q-1.3 1.1 -2.5 0"/>
<path filter="url(#od)" stroke="#8c00a5" stroke-width="2" d="M255.7 164q-.6 1.3 -1.7 2.3M359.5 161.3q-2.1 -2.8 -1.4 -6.2M279.9 153.9q.8 1.1 -.2 2.1M304.1 158.2q-.5 3.7 1.8 6.6M309.3 162.5q-3.1 -.6 -5.9 -2.2M294.8 142.1q2.9 1.1 5.9 -.1M241.6 143.2q2.8 2.2 3 5.8M239.6 164.5q1.5 -1.1 1.9 -2.8"/>
<path filter="url(#od)" stroke="#4b00be" stroke-width="2" d="M295.5 163.7q-2.3 -1.7 -1.2 -4.4M260.6 156.1q.5 -1.6 .8 -3.2M259 156.6q-.8 1.9 -1.3 3.9M343.8 157.2q-.5 1.4 -1.4 2.6M249.9 146.7q.9 -1.5 1.9 -2.9M352.6 146q2.1 1 4.3 .1"/>
<path filter="url(#od)" stroke="#eb0f14" stroke-width="1.5" d="M301.2 151.4q1.3 .8 1.3 2.4M326.2 129.6q2.5 .7 2.8 3.4M296.2 146.8q1.7 -1.4 3.7 -2.5M348.5 119.5q.2 1.9 .4 3.9M251.2 146.9q-.9 -3.5 -.2 -7M306.7 138.3q-1.7 -1.2 -3.7 -1.1M246.3 171.8q-.3 -1.7 .7 -3.1M356.5 151.7q1.9 1.8 4.1 3.2M315.3 123.3q2.1 -.8 3.1 1.1M292.8 138.5q3.1 1.9 1.3 5M247.8 153.5q.4 3.3 3.4 4.5M332.8 142.9q-.3 -1.3 -1.5 -1.9M285.7 152.1q-3 .5 -6.1 .6M289.1 160.5q3 -.8 4.6 1.8M297.4 146.6q-2 -1.7 -4.3 -.5M295.6 155.9q1.6 -.6 1.2 -2.3M286.5 157.3q-.5 -3.3 .7 -6.4M243.6 151.6q1.3 .9 2.4 -.2M327.9 150.2q-.4 -3.6 -3 -6M325.1 157.5q.2 1.5 1.7 2.1"/>
<path filter="url(#oc)" stroke="#00a5fa" stroke-width="2" d="M329.4 175.2q-1.4 -2.7 -4.5 -2.6M334.4 170.3q2.9 1.4 1.7 4.3M274.9 177.5q1 2.4 3.5 1.9M306.5 163.3q1.2 -.2 1.9 .7M341.8 163.3q1.2 -.5 2.5 -.7M264.5 167.8q-1.6 -1.4 -3.7 -1.4M280.2 171.5q1.9 -2.5 3.5 -5.2M317.8 143.7q-.1 -1.2 -1.1 -1.7M260.9 172.9q-.4 1.4 -1.8 1M269.6 179.9q3.5 -.8 4.8 -4.2M281.3 174.2q.1 2.7 -2.5 3.2M301.3 136.3q2 .9 3.6 2.4M291.7 167q.7 -1.1 1.6 -2.1M279.2 166.4q-3.1 .7 -5.8 2.4M319.9 171.3q-.2 2.6 -2.8 3M352.1 169q-2 2.4 -4.8 3.6M310.6 174.7q-1.5 .9 -3.2 1.7M311.7 168.3q1.5 -1 3.3 -1.5M277.4 180.6q.2 -3 -2.5 -4.3"/>
<path filter="url(#oc)" stroke="#6ef0ff" stroke-width="1.5" d="M275.6 164.2q1.5 3.2 4.3 5.3M282 168.3q-.2 -1.4 -1.6 -1.5M232.5 185.6q0 .8 -.5 1.4M286.1 173.5q.6 .9 1.6 1.5M343.9 165.9q-1.7 1.4 -3.9 1.4M311.8 167.2q2.6 -2.5 3.5 -6M300.4 176.8q2.9 1.7 4.8 -1.2M232.8 181.1q-.5 -.6 -.5 -1.4M332.1 165.9q.4 1.7 2 2.5M250.8 182.6q.9 -.1 1.3 -.8M231.4 189.9q.5 -.6 .6 -1.4M352.9 171.4q-.9 -4.4 -5.3 -3.5M316.7 178q-.6 -3.2 -2.3 -5.9"/>
<path filter="url(#od)" stroke="#fff45a" stroke-width="2" d="M279.3 139.9q-.8 -2.2 -2.6 -3.6M344.8 123.1q-2 -1.3 -3.8 -3M356.3 132.2q-2.4 .9 -4.8 .5M258.5 131.9q2.4 -2.1 4.5 .3M304.6 141.2q-3.2 2.2 -6.1 -.4M250.8 143.6q-4 .8 -5.3 -3.1M322.9 122.9q-3.2 1.1 -5.2 3.8M294.7 143.6q-2.7 -1.2 -1.6 -3.9M362.1 155.3q.3 2.5 2.9 2.6M340.5 136q.4 2 -.8 3.7M244.7 151.4q3.1 .3 4.4 3.1M266 155.9q-.5 2.2 1.5 3.3M330.2 127.7q2.6 -1.1 5.4 -.4M362.4 123.9q1.4 -1 3.1 -.8M299.3 160.1q-1.6 .4 -2.5 1.7M324.4 148.4q2.1 -1.5 4 .2"/><path stroke="#ffffb0" stroke-width=".6" transform="translate(-.3 -.3)" d="M279.3 139.9q-.8 -2.2 -2.6 -3.6M344.8 123.1q-2 -1.3 -3.8 -3M356.3 132.2q-2.4 .9 -4.8 .5M258.5 131.9q2.4 -2.1 4.5 .3M304.6 141.2q-3.2 2.2 -6.1 -.4M250.8 143.6q-4 .8 -5.3 -3.1M322.9 122.9q-3.2 1.1 -5.2 3.8M294.7 143.6q-2.7 -1.2 -1.6 -3.9M362.1 155.3q.3 2.5 2.9 2.6M340.5 136q.4 2 -.8 3.7M244.7 151.4q3.1 .3 4.4 3.1M266 155.9q-.5 2.2 1.5 3.3M330.2 127.7q2.6 -1.1 5.4 -.4M362.4 123.9q1.4 -1 3.1 -.8M299.3 160.1q-1.6 .4 -2.5 1.7M324.4 148.4q2.1 -1.5 4 .2"/>
<path filter="url(#od)" stroke="#ffbe00" stroke-width="2" d="M246.2 161.7q3 -3 .2 -6.2M311.9 127.8q-.3 2 -1.8 3.3M281.3 138.8q.2 -3.3 -2.7 -4.7M244.3 149.8q-2.6 -.7 -2.4 -3.4M305.7 134.3q-2.5 1.7 -4.2 4.2M252.6 139.9q.2 -1.2 1.2 -1.9M299.5 151.1q-.8 -2 -2.8 -2.7M260.8 144.5q2.4 1.6 4.9 3M316.5 135.5q2.2 -1.7 3.9 -3.8M243.5 139.8q2.2 2.4 4.9 .5M273.2 155.2q0 -2.5 -1.7 -4.4M326.7 139.2q-.4 3 1 5.7M354.3 123.6q2.5 -2.9 6 -1.4M336.5 130.2q1.1 1.7 2.9 .9M242.5 148.3q-1.2 1 -2.7 1.5M251.9 145.4q1 .9 1.2 2.3M340.4 137.3q-1.1 -.2 -2.2 .3M320.5 129.7q-2.4 -2.8 -6 -3.5M349.3 124.1q-.9 2.7 -3.7 2.4M256.5 147.1q1.2 -2.8 .1 -5.6M358.2 133.6q1.2 .8 .5 2.1M240.6 146.9q-1.7 2.5 -3.6 4.7M257.3 131.5q-2 1.2 -3.3 3.2M249.8 136.2q-.7 2.5 -3.4 2.5M287 134.6q.7 3.2 -2.5 4.2M278.2 149q1.8 -2.8 3 -5.8M317.9 141.6q3.2 -.5 6.4 -1.4M368 138.9q-.6 3.9 -4.6 4.3M302.7 155.4q2.8 -.6 2.6 -3.5"/><path stroke="#ffffb0" stroke-width=".6" transform="translate(-.3 -.3)" d="M246.2 161.7q3 -3 .2 -6.2M311.9 127.8q-.3 2 -1.8 3.3M281.3 138.8q.2 -3.3 -2.7 -4.7M244.3 149.8q-2.6 -.7 -2.4 -3.4M305.7 134.3q-2.5 1.7 -4.2 4.2M252.6 139.9q.2 -1.2 1.2 -1.9M299.5 151.1q-.8 -2 -2.8 -2.7M260.8 144.5q2.4 1.6 4.9 3M316.5 135.5q2.2 -1.7 3.9 -3.8M243.5 139.8q2.2 2.4 4.9 .5M273.2 155.2q0 -2.5 -1.7 -4.4M326.7 139.2q-.4 3 1 5.7M354.3 123.6q2.5 -2.9 6 -1.4M336.5 130.2q1.1 1.7 2.9 .9M242.5 148.3q-1.2 1 -2.7 1.5M251.9 145.4q1 .9 1.2 2.3M340.4 137.3q-1.1 -.2 -2.2 .3M320.5 129.7q-2.4 -2.8 -6 -3.5M349.3 124.1q-.9 2.7 -3.7 2.4M256.5 147.1q1.2 -2.8 .1 -5.6M358.2 133.6q1.2 .8 .5 2.1M240.6 146.9q-1.7 2.5 -3.6 4.7M257.3 131.5q-2 1.2 -3.3 3.2M249.8 136.2q-.7 2.5 -3.4 2.5M287 134.6q.7 3.2 -2.5 4.2M278.2 149q1.8 -2.8 3 -5.8M317.9 141.6q3.2 -.5 6.4 -1.4M368 138.9q-.6 3.9 -4.6 4.3M302.7 155.4q2.8 -.6 2.6 -3.5"/>
<path filter="url(#od)" stroke="#ffbe00" stroke-width="1.5" d="M305.5 148.5q2.5 2.6 5.9 3.6M363.9 141.7q-.4 -1.5 1 -2.2M335.3 148.8q-2.6 -.8 -1.8 -3.4M254 135.8q1.9 2 2.9 4.6M274.5 152.6q-.1 -2.1 -1.9 -3M312.9 131.4q1.9 -3.1 5.5 -3.2M315.7 154.8q-1.7 2.1 -3.5 4M313.3 123q3.7 1.5 2.6 5.4M364.2 125.1q1.2 -.8 1.3 -2.2M253.4 149.5q-2.4 .5 -2.3 3M279.4 151.1q-2.4 2 -4.5 4.1M292.2 141q1.5 3.5 -.8 6.6M314.7 147.9q3.1 .2 4.3 3M316.1 147q.5 2.9 3.4 2.5M310.9 141.2q.5 -2.4 -1.2 -4.1M342.3 142.5q2 -1.5 3.9 -3M242.6 155.6q-4.1 -.5 -5.2 -4.4M361.1 128.5q.8 2 -1 3.3M264.4 150.5q3.3 -.8 6.6 .4M312.5 147.5q-1.3 -1 -1.3 -2.7M282.9 141.4q.7 -3.3 3.4 -5.3M336.2 131.7q-3.6 2 -2.1 5.9M240.4 138.2q2.9 -2.2 6.5 -1.4M254.3 148.6q-1.6 .2 -2.5 1.4"/>
<path filter="url(#od)" stroke="#0064f0" stroke-width="1.5" d="M289.8 151.6q1.5 1.4 3.6 1.7M355.9 147.7q2.9 -1.6 4.2 -4.6M338.3 156.1q-1.5 2.1 -3.8 .8M272 163.3q.6 3.1 3.8 3M363.3 164.2q-1.7 -1.7 -3.7 -.5M317.2 168.9q-2.5 .4 -3.6 2.7M358.5 165.3q1 1.1 1.1 2.6M366.8 163.8q-2.8 2.5 -5.4 -.3M351.3 154.6q2.3 -2.3 1.8 -5.5M360.6 153.1q-2.3 .1 -4.5 -.5"/>
<path filter="url(#od)" stroke="#ff9100" stroke-width="2" d="M322.8 129.9q2.5 3 6 1.3M347.9 127.3q2.6 .2 4.6 1.9M336.8 147.3q.9 -2.6 -.2 -5M352.8 126.2q2.1 -2.2 1.1 -5.1M270.6 152.6q2.8 .7 5.4 -.4M352.1 142q-.4 1.2 -1.3 2.2"/>
<path filter="url(#od)" stroke="#ffdc00" stroke-width="2" d="M296.5 128.9q3 2.2 6 0M315.4 136q-.5 -1.4 -2 -1M319.6 141.7q-1.5 -.1 -3 .3M318.8 135.8q2 1.3 4.4 1.8M316.1 132.9q2.1 -.9 4.4 -1.2M335.7 142q-.2 -1.4 .4 -2.7M341.6 121.5q-1.5 -.3 -3 -.1M342.7 134.1q-2.9 -.3 -3.9 -3.1M335.3 148.1q1.1 .6 .9 1.8M248.5 150.1q2.7 1.9 4.6 -.8M342.6 142.4q.9 1.7 .7 3.6M262.2 162.5q-1 .4 -1.6 1.3M319.9 128.5q1.7 -2.4 4.6 -2M341.9 142.9q2.4 -2.2 5.6 -1.7M294.8 136q2.2 -.4 3.8 -2.1M342.6 121.8q-1.5 2.1 -3.9 3.1M328.3 139.1q-2.7 -1.8 -2.4 -5.1M266.3 156.7q3.4 .6 6.2 -1.4M351.7 123.3q-.9 -1.3 -1.6 -2.7M282.7 162.6q-2.5 -.1 -4.9 .9M358.8 122q-.3 1.3 -1.7 1.1M242.1 142.8q-2.2 2 -5.1 1.6M332.5 144.6q-1.6 -.3 -2.7 1M349.3 143.4q-.5 2.3 -2.7 3.2M355.4 134.2q-.8 -1.8 -.3 -3.8M301.6 150q-2 -1.2 -3.4 .7M252.4 140.7q2.7 1.7 2.2 4.8M363.2 144.2q-2.6 -1.5 -4.3 -4M314.5 150.9q3.4 -.7 6.6 .5M323.6 143.7q1.8 -2.5 5 -2.5M353.9 120.6q-2.2 2.4 -4.8 4.2M299.3 131.8q-3.2 -2.4 -6.9 -1.1M329.2 138.8q.5 -1 1.4 -1.7M331.9 122.9q2.2 -1.3 4.7 -2M281.4 142.8q-2.6 .3 -4.5 -1.5"/><path stroke="#ffffb0" stroke-width=".6" transform="translate(-.3 -.3)" d="M296.5 128.9q3 2.2 6 0M315.4 136q-.5 -1.4 -2 -1M319.6 141.7q-1.5 -.1 -3 .3M318.8 135.8q2 1.3 4.4 1.8M316.1 132.9q2.1 -.9 4.4 -1.2M335.7 142q-.2 -1.4 .4 -2.7M341.6 121.5q-1.5 -.3 -3 -.1M342.7 134.1q-2.9 -.3 -3.9 -3.1M335.3 148.1q1.1 .6 .9 1.8M248.5 150.1q2.7 1.9 4.6 -.8M342.6 142.4q.9 1.7 .7 3.6M262.2 162.5q-1 .4 -1.6 1.3M319.9 128.5q1.7 -2.4 4.6 -2M341.9 142.9q2.4 -2.2 5.6 -1.7M294.8 136q2.2 -.4 3.8 -2.1M342.6 121.8q-1.5 2.1 -3.9 3.1M328.3 139.1q-2.7 -1.8 -2.4 -5.1M266.3 156.7q3.4 .6 6.2 -1.4M351.7 123.3q-.9 -1.3 -1.6 -2.7M282.7 162.6q-2.5 -.1 -4.9 .9M358.8 122q-.3 1.3 -1.7 1.1M242.1 142.8q-2.2 2 -5.1 1.6M332.5 144.6q-1.6 -.3 -2.7 1M349.3 143.4q-.5 2.3 -2.7 3.2M355.4 134.2q-.8 -1.8 -.3 -3.8M301.6 150q-2 -1.2 -3.4 .7M252.4 140.7q2.7 1.7 2.2 4.8M363.2 144.2q-2.6 -1.5 -4.3 -4M314.5 150.9q3.4 -.7 6.6 .5M323.6 143.7q1.8 -2.5 5 -2.5M353.9 120.6q-2.2 2.4 -4.8 4.2M299.3 131.8q-3.2 -2.4 -6.9 -1.1M329.2 138.8q.5 -1 1.4 -1.7M331.9 122.9q2.2 -1.3 4.7 -2M281.4 142.8q-2.6 .3 -4.5 -1.5"/>
<path filter="url(#od)" stroke="#141ed7" stroke-width="2" d="M356 160.2q-3 -.7 -5.6 -2.4M334.1 153.3q-1.2 -2.7 -4.1 -3.5M264.4 156.1q-1.1 -1.2 -2.7 -1.5M258.6 162.3q-1.9 -2 -4.5 -1.1M341.1 148.3q-1.4 2.4 -1.6 5.2M316 159q-2.2 -1 -3.1 -3.3M294.2 155q.4 3.3 3.6 2.9M365.6 155.4q-1.4 1.5 -3.3 .7M348.3 154.7q-.6 2.9 -.5 5.9M285.8 161.3q2 1.7 4.3 3"/>
<path filter="url(#oc)" stroke="#6ef0ff" stroke-width="2" d="M276.5 180.1q-.4 -3.5 -1.5 -6.8M269.8 171.8q2.2 .9 1.5 3.1M361.9 165.4q-.5 -2 -.9 -4M246.7 171.4q.2 -1 -.1 -2.1M319.9 172.1q-1.8 -1.5 -4 -2.2M300 164.6q-3.8 -.7 -5.9 2.4M284.3 171.4q-2.4 -3.3 -6.3 -1.8M287.7 168.8q.5 -1.9 1.2 -3.8M300.7 173.6q-2.5 -1.5 -5.1 -.2"/>
<path filter="url(#od)" stroke="#ffdc00" stroke-width="1.5" d="M311.7 153q1.2 -.8 1.4 -2.3M337.7 147.9q1.9 -.6 3.7 -1.2M274.6 143.5q2.2 -1.2 4 -3M364.7 136.9q.7 -1.4 2.3 -1.4M272.5 149.7q.6 2.4 2.8 3.6M298 144.4q-.9 -1.9 -3 -2.3M283 135.3q3.4 .7 6.2 2.8M322.3 128.3q-.4 2.6 -.9 5.2M310.3 142.2q2.1 -2.3 .1 -4.6M327.7 123.1q1.7 2.9 4.2 5.2M264.9 146.7q2.8 -.1 5.2 1.4M283.7 147.8q1.2 -3.2 4.1 -4.9M300.2 128.5q-.1 -2.2 2.2 -2.6M307.6 128q2.6 -2.2 3.6 -5.6M284.9 134.3q-2.1 2.3 -5.1 3.2M320.8 143.6q-.6 -3 -1.7 -5.8M321.6 140q-1.3 .5 -2.1 1.6M275.4 152.4q3.1 -2.4 6.4 -.3M365.5 152.8q-2.9 -.8 -2.1 -3.7M332.6 130.2q1.5 2 2 4.5M358.8 145.4q2.8 2.9 1.4 6.7M276.9 158.7q1.9 2.9 3.7 5.9M254.4 139.9q-.8 2.1 -2.7 3.2M263.2 133.1q-2.1 .8 -4.3 .8M344.7 142.1q-2.6 -1.2 -5.3 -.3M254.8 152.6q-1.7 -2.7 .8 -4.7M348 127.4q1.9 -2.8 3.1 -5.9M259.3 150.8q.3 -1.4 1.6 -2M341.4 139.8q-2.7 -.9 -5 -2.6M266.9 158.2q2.4 -3.2 .3 -6.6M261.7 132.7q-1.9 .3 -3.1 1.8M246.5 138.1q-1 .6 -1.4 1.7M252.2 138q2.5 -1.7 1.3 -4.5"/>
<path filter="url(#oc)" stroke="#1ed2ff" stroke-width="2" d="M292 171.8q.2 1.6 .8 3.2M245 166.4q-.8 1.4 -2.2 2.1M292.9 176.2q.2 1.3 1.2 2M303.6 179.2q-1.9 -2.8 -2.8 -6M254 168.3q3.3 .1 6.3 -1.1M318.5 171.9q.6 1.7 2.1 2.7M332.8 172.4q.6 2.1 2.8 2M298.3 164.4q3 .2 3.8 3.1M342.5 170.2q3 .2 5.9 .7M287.6 164.2q-2.1 1.1 -4.5 1.1M248.7 166q-1.3 -.2 -1.8 .9M343.9 173q-1.7 -1.6 -4 -1.4M332.4 161.2q-1.4 .3 -2.7 .8M287.2 171.7q1.6 -.9 3.2 -1.8M305 169q2.1 3.2 6 3.5M339.6 171.5q.4 1.4 -.4 2.5M355.2 165.8q1.3 -1 .5 -2.5M265.8 163.4q1 2.5 1.5 5.1M297 166.3q3.8 .2 6.3 -2.7M289.9 176.4q-.1 2.4 2.3 2.6M296.7 166.5q-.3 1.2 .2 2.3M337.9 163.8q4.2 -1.5 6.5 2.3"/>
<path filter="url(#od)" stroke="#ff5000" stroke-width="1.5" d="M240.1 161.9q2.2 1.5 4.9 1.2M307.9 142.5q3.2 -3.1 .6 -6.7M270 148.6q3.4 .7 5.8 -1.6M244.1 140.4q1 2 1.8 4M310.9 159.1q-2 .5 -4 .5M331.4 157.7q.4 1.5 1.9 1.7M315.2 129.4q1.2 2.6 3.6 4.3M349.4 120.6q1.7 -.5 2.4 1.1M363 141.3q2.9 0 4.7 2.3M238.2 144.3q-.7 .6 -1.5 .2M313.8 142.8q1.1 .4 1.8 1.3M334.1 138.4q-2.3 .3 -4.3 -.9M350.2 144.8q-.5 -2.1 -2.7 -2.1M296.4 139.9q-1.5 .8 -3.1 .3M320.2 129.1q1.9 0 3.8 -.3M307.5 164q.9 -2.6 1.5 -5.3M346 143.2q3.3 1.6 5.6 -1.3"/>
<path filter="url(#od)" stroke="#141ed7" stroke-width="1.5" d="M356.8 149.7q.3 -1.9 2.2 -2.2M268.8 141.5q-1.9 -1.1 -2.7 -3.2M255.1 174.4q1.9 -1.7 4.4 -2M317.6 134.3q-.3 -3.8 3.3 -5M337 161.9q.4 -3.4 2.2 -6.4M253.9 164.5q-.6 -2.9 .5 -5.6M257.4 163.6q1 2.2 1.2 4.5M279.7 146.2q1.5 2 3.6 3.3"/>
<path filter="url(#oc)" stroke="#1ed2ff" stroke-width="1.5" d="M232.2 173.9q-.6 -.6 -1.5 -.4M353.7 162.9q1.4 .3 1.7 1.8M260.4 166.5q-1.7 2.2 -4.4 2.7M323.2 166.8q2 1.5 2.5 3.9M280 163.1q1.9 1.9 1.6 4.6M284.1 169.1q.8 1 0 2.1M347.3 160q-3.5 -.3 -6.7 1.3M341.8 160.5q-.7 3 -3.6 3.8M362 160.8q2.1 1 1.8 3.3M248 184.4q.4 -.7 1.3 -.8M226.3 177.8q-1 .4 -.7 1.4M235.9 177.8q-.6 .6 -.4 1.4M312.2 166.8q1.4 -.8 .8 -2.4M352.7 165.6q-3.5 .8 -5.4 -2.2M325.7 174.6q-.7 .3 -1.1 1.1M348.6 173q.7 -1.3 .3 -2.8M363 158.9q.4 2.3 -1.9 2.8M289.2 172q-.7 3 -3.6 4.2M356.5 164.2q1.5 -2 .1 -4M313.4 166q.8 2.5 -1.6 3.4M357.3 162.8q-.3 -3.9 -3.7 -5.9M325.2 170q-2.4 -.6 -4.5 .6M235.4 186.9q.7 .3 1.1 1M275.1 169.7q-3.5 1.6 -2.4 5.3M324.2 174.5q-1.6 -3.1 .9 -5.4M291.2 170.7q-1.3 0 -2.6 -.3M268 180.8q-.8 .4 -.6 1.4M268.7 171.9q-2 -1.2 -3.7 .4M321.4 173.2q-.7 -3 2.2 -4M286.9 176.5q1.2 -1 2.5 -.1M253.5 185.6q.2 1 -.7 1.3M331.3 160.6q2.4 .4 4.7 1.4M274.9 178.5q4.3 -.1 4.3 -4.3M267 170.3q-1.9 -.6 -3.9 -.2M331.1 168.6q-2.2 -1.4 -3.6 -3.7"/>
<path filter="url(#od)" stroke="#eb0f14" stroke-width="2" d="M336 153q-.9 .8 -2.1 .6M362.2 144.5q-.3 2.2 -2.5 2.6M255 134.7q2.1 .7 4.2 1.1M291.7 159.5q-.2 -2.1 -1.9 -3.3M355.6 154.5q3.6 -1.1 4.7 2.4M357.3 159.2q-.1 -1.2 -.8 -2.2M279.1 164.9q-.3 -2.5 -2.2 -4.3M243.6 157.4q1.1 .3 2.3 .3M250.1 158.3q.7 1.9 2.1 3.2M334.7 147.6q4 2.8 1.2 6.8M334.3 151.5q.3 2.6 -1.6 4.3"/>
<path filter="url(#oc)" stroke="#00a5fa" stroke-width="1.5" d="M305.7 174.5q.7 -1.7 -.8 -2.8M344 163.5q-.1 -1.4 1 -2.3M253.4 171.4q-1.6 -1.9 -3.7 -.6M293.7 177.1q-.7 -3.7 -4.4 -3.2M262.5 177.3q-.8 -2.2 .1 -4.3M318.3 170.1q-2.8 .8 -5.7 .3M312.2 167.5q1.8 3.5 5.7 3M282.5 151.8q1.3 -.3 2.4 .4M277 166.2q.5 -1.3 1.1 -2.5M353 149.3q-3 1.5 -6.2 2.3M304.4 163q1.2 .2 1.6 1.4M255.8 167.8q1.8 1.6 3.2 3.5M278.5 181.5q2.9 -2.8 1.4 -6.5M347.3 142.7q-1 -.8 -2.1 -.2M314.5 175.5q-1.9 -.9 -2.9 .9"/>
<path filter="url(#od)" stroke="#ff9100" stroke-width="1.5" d="M307.5 140.8q.5 -1.7 -.7 -3.1M243.1 152.8q1.2 2.1 2.7 4.1M293.4 133.1q2 1.2 3.9 2.5M296.5 140.8q3 .7 6.1 .8M251.1 149q.2 2.4 2.1 3.9M338.8 126.7q-1 2.9 0 5.7M256.4 149.3q1.9 -.5 3.5 .6M300.3 148.4q-.2 2.2 1.8 3.1M338.9 133q-.4 2 -2.5 2.1"/>
<path filter="url(#od)" stroke="#fff45a" stroke-width="4.5" d="M264.9 146.7q-1.5 3.3 -.4 6.8M259.8 134.3q-3.9 3.2 -2.2 7.9M267.6 140.1q-3.5 2.3 -4.4 6.4M272.4 143.1q-1.7 1.9 -2.1 4.4M275 141.5q1.2 2.6 1 5.5M252.8 136.4q5.3 3.4 2.1 8.9M281.5 144.1q.1 3 -2.5 4.3"/><path stroke="#ffffb0" stroke-width="1.3" transform="translate(-.3 -.3)" d="M264.9 146.7q-1.5 3.3 -.4 6.8M259.8 134.3q-3.9 3.2 -2.2 7.9M267.6 140.1q-3.5 2.3 -4.4 6.4M272.4 143.1q-1.7 1.9 -2.1 4.4M275 141.5q1.2 2.6 1 5.5M252.8 136.4q5.3 3.4 2.1 8.9M281.5 144.1q.1 3 -2.5 4.3"/>
<path filter="url(#od)" stroke="#ffbe00" stroke-width="3.5" d="M308.9 138.8q3 2.1 3 5.8M295.7 130.6q2.2 1.1 3.9 2.8M356.6 122.9q1.1 4.9 -3 7.8M339.3 129.2q1.6 4.5 6.3 5.4M268.2 131.8q1.2 5.4 -2.6 9.4M244 141q.5 4.4 1 8.8M271 147.6q-.5 2.5 .3 5M333.2 130q1.3 4.2 3.3 8.2M319.1 129.1q1.9 4.3 .2 8.6M282.9 138.5q.8 4 3.3 7.2"/><path stroke="#ffffb0" stroke-width="1.1" transform="translate(-.3 -.3)" d="M308.9 138.8q3 2.1 3 5.8M295.7 130.6q2.2 1.1 3.9 2.8M356.6 122.9q1.1 4.9 -3 7.8M339.3 129.2q1.6 4.5 6.3 5.4M268.2 131.8q1.2 5.4 -2.6 9.4M244 141q.5 4.4 1 8.8M271 147.6q-.5 2.5 .3 5M333.2 130q1.3 4.2 3.3 8.2M319.1 129.1q1.9 4.3 .2 8.6M282.9 138.5q.8 4 3.3 7.2"/>
<path filter="url(#od)" stroke="#ffdc00" stroke-width="4.5" d="M302 138.1q-2.9 3.3 -2.9 7.8M269.6 139.7q.5 3.9 -1.4 7.4M292.9 145.2q.4 4.1 -2.5 7M242.1 150.6q1.7 2.2 .7 4.8M249.5 149.8q2.7 1.5 4.2 4.3M360 135.1q1 2.7 1.1 5.5M305.3 136.6q5.6 1.6 6.7 7.3M360.9 139.2q6.2 1.5 5.8 7.8M333.3 136.5q-.4 3.6 -2.5 6.6M284.9 136.1q.8 4.5 2 9M273.6 147q-1.4 4.1 -4.2 7.4M252.2 141.7q2.5 4 2.7 8.7M302.7 140.5q-.4 5.4 4.3 8.3M283.5 136.8q.6 5.3 5.9 5.1"/><path stroke="#ffffb0" stroke-width="1.3" transform="translate(-.3 -.3)" d="M302 138.1q-2.9 3.3 -2.9 7.8M269.6 139.7q.5 3.9 -1.4 7.4M292.9 145.2q.4 4.1 -2.5 7M242.1 150.6q1.7 2.2 .7 4.8M249.5 149.8q2.7 1.5 4.2 4.3M360 135.1q1 2.7 1.1 5.5M305.3 136.6q5.6 1.6 6.7 7.3M360.9 139.2q6.2 1.5 5.8 7.8M333.3 136.5q-.4 3.6 -2.5 6.6M284.9 136.1q.8 4.5 2 9M273.6 147q-1.4 4.1 -4.2 7.4M252.2 141.7q2.5 4 2.7 8.7M302.7 140.5q-.4 5.4 4.3 8.3M283.5 136.8q.6 5.3 5.9 5.1"/>
<path filter="url(#od)" stroke="#fff45a" stroke-width="3.5" d="M314.8 138.4q3.7 3.9 3.5 9.2M346.1 134.3q-1.7 3.9 -1.6 8.1M330.7 143.8q1.6 2.4 1.4 5.4M286.8 147.2q1.9 2.4 1.7 5.4M323.1 144.5q1.4 3.9 -1.8 6.6M256.9 146.8q-.7 5.4 -5.3 8.2M342 125.4q-1.2 2.2 -.4 4.7M353.6 131.9q-.1 2.7 -.2 5.5M328 129.3q1.1 2.9 -1.5 4.6M361.1 137.7q.9 2.6 3.6 3M284.9 143.4q2.7 1.2 2.6 4.2M333.7 142q-.6 2.2 .3 4.4M314.9 142.5q-1.8 3 -1.3 6.5M315.4 128.3q-2.8 3.6 -1.6 8"/><path stroke="#ffffb0" stroke-width="1.1" transform="translate(-.3 -.3)" d="M314.8 138.4q3.7 3.9 3.5 9.2M346.1 134.3q-1.7 3.9 -1.6 8.1M330.7 143.8q1.6 2.4 1.4 5.4M286.8 147.2q1.9 2.4 1.7 5.4M323.1 144.5q1.4 3.9 -1.8 6.6M256.9 146.8q-.7 5.4 -5.3 8.2M342 125.4q-1.2 2.2 -.4 4.7M353.6 131.9q-.1 2.7 -.2 5.5M328 129.3q1.1 2.9 -1.5 4.6M361.1 137.7q.9 2.6 3.6 3M284.9 143.4q2.7 1.2 2.6 4.2M333.7 142q-.6 2.2 .3 4.4M314.9 142.5q-1.8 3 -1.3 6.5M315.4 128.3q-2.8 3.6 -1.6 8"/>
<path filter="url(#od)" stroke="#ffdc00" stroke-width="3.5" d="M357.5 127.1q1 4.6 .9 9.4M245.7 146.5q.7 5 5.7 5.9M320.9 140.2q-3.3 1.7 -2.2 5.2M251.9 148.1q-2 2.2 -.5 4.8M294.7 137.9q-2.8 4.3 1.2 7.6M273.4 135.5q-.4 4.3 1.9 7.9M258.9 149.8q1.3 2 2 4.2M248.4 142.1q1.9 3.8 1.6 8M307.8 131.6q2.4 1.6 4.2 3.9M276.1 147.5q2.9 1.9 4.6 4.8M281.1 143.9q4.5 2.2 5.5 7.1M325.9 129.3q2.9 .8 3.5 3.8M343.6 128.1q.8 5.2 -2.9 8.9M277.7 139q1.4 4.8 .7 9.7M302.1 132.9q1.7 3.3 -.9 6M286 146.2q3.5 1.4 5.3 4.8M350 133.9q-.5 4.7 4 6.3M341 143.4q-.4 3.3 -1.4 6.4"/><path stroke="#ffffb0" stroke-width="1.1" transform="translate(-.3 -.3)" d="M357.5 127.1q1 4.6 .9 9.4M245.7 146.5q.7 5 5.7 5.9M320.9 140.2q-3.3 1.7 -2.2 5.2M251.9 148.1q-2 2.2 -.5 4.8M294.7 137.9q-2.8 4.3 1.2 7.6M273.4 135.5q-.4 4.3 1.9 7.9M258.9 149.8q1.3 2 2 4.2M248.4 142.1q1.9 3.8 1.6 8M307.8 131.6q2.4 1.6 4.2 3.9M276.1 147.5q2.9 1.9 4.6 4.8M281.1 143.9q4.5 2.2 5.5 7.1M325.9 129.3q2.9 .8 3.5 3.8M343.6 128.1q.8 5.2 -2.9 8.9M277.7 139q1.4 4.8 .7 9.7M302.1 132.9q1.7 3.3 -.9 6M286 146.2q3.5 1.4 5.3 4.8M350 133.9q-.5 4.7 4 6.3M341 143.4q-.4 3.3 -1.4 6.4"/>
<path filter="url(#od)" stroke="#ffbe00" stroke-width="4.5" d="M249.2 136.8q2.2 2.4 4.9 4.2M355.5 133.2q1.7 6.4 -4.6 8.3M339.8 129.4q1.5 4.1 4.8 7M362.2 127.6q.7 4.9 -.9 9.5M274 144.2q1.2 3.2 -.8 5.9M254.5 134.8q1.2 5 5.8 7.2M286 144.4q1.3 3.2 2.8 6.3"/><path stroke="#ffffb0" stroke-width="1.3" transform="translate(-.3 -.3)" d="M249.2 136.8q2.2 2.4 4.9 4.2M355.5 133.2q1.7 6.4 -4.6 8.3M339.8 129.4q1.5 4.1 4.8 7M362.2 127.6q.7 4.9 -.9 9.5M274 144.2q1.2 3.2 -.8 5.9M254.5 134.8q1.2 5 5.8 7.2M286 144.4q1.3 3.2 2.8 6.3"/>
<path filter="url(#oc)" stroke="#00a5fa" stroke-width="2" d="M261.1 169.1q-1.9 -.3 -3.1 -1.9M275.9 152.6q-1.1 -.6 -1.5 -1.8M303.9 163.1q.4 1.9 .6 3.8M356.7 165q-2.2 .6 -4 1.9M248.4 143.5q1.3 1.5 -.1 3M347.7 171.3q-1.5 -1.2 -3.1 -2.3M276.3 169q-1.6 -.4 -3.3 -.3M323.2 133.9q-1.2 .2 -1.9 1.2M315.7 159.6q-.8 3.5 2.7 4.4M357 164.4q2 -2.2 3.3 -4.8M241.3 142.7q-1.4 -.8 -3 -1.3M298.9 172.6q-1.9 1.3 -3.3 -.4M261.2 164.1q1.8 1.1 1.9 3.3M315 151.7q-2.2 -1.3 -3.3 -3.6M286.7 173.3q-2 1.5 -1.5 3.9M345.3 134.4q-.5 -1.5 0 -2.9M328.2 139.2q-1.6 1.3 -.3 2.9"/>
<path filter="url(#oc)" stroke="#1ed2ff" stroke-width="1.5" d="M231.1 179q.6 .7 .1 1.5M276.4 182.9q.1 -1 -.9 -1.2M261.9 180.1q0 -.9 -.8 -1.2M335.5 168q-2.7 2.1 -1.4 5.3M348.1 162.1q-.4 1 -.8 2.1M313.9 167.5q-2.5 1.2 -4.9 2.5M253 168.8q.2 1.6 -1.4 1.9M333.3 174.7q-.5 -.9 .4 -1.4M242.5 185.4q.4 -.6 .9 -1.2M265 169.9q-1.7 3.3 -5.3 2.7M337.6 174.5q-1.2 -1.9 -1.1 -4.2M273.5 166q1.3 -2.2 3.8 -1.9M255.1 179.1q.6 -.5 1 -1.1M285.6 166.6q1.6 -.9 2.6 .7M234.7 181.6q.4 .6 .5 1.4M275.3 178.6q2.9 1.7 5 -1M222.3 185.8q.8 .6 .3 1.5"/>
<path filter="url(#od)" stroke="#c8005a" stroke-width="2" d="M360.2 155.1q-2.1 -1.8 -3.2 -4.3M324.2 155.1q.9 -2.5 -.6 -4.8"/>
<path filter="url(#od)" stroke="#ffbe00" stroke-width="1.5" d="M249 149.6q1.9 1.2 3.7 -.2M294.7 144.5q-1 -3 1.6 -4.7M364 123.6q-.5 3.5 2.8 4.9"/>
<path filter="url(#oc)" stroke="#00a5fa" stroke-width="1.5" d="M290 147.8q-.8 -2.8 .7 -5.2M267.1 170.1q1.2 1.4 -.2 2.7M262.7 134.7q0 -1.9 1.8 -2.2M328.2 171.1q-3.3 -1.3 -3.1 -4.9M325.8 162.6q.2 -1.4 1.5 -1.7M307.6 166.8q-2.1 1.2 -3.7 3M244.9 155.1q2.5 1 4.5 -.9M280.9 180.7q-1.6 -1.4 -.3 -3.1M307.5 170.8q-2.5 1.6 -1.7 4.5"/>
<path filter="url(#oc)" stroke="#6ef0ff" stroke-width="2" d="M325.1 169.7q2.5 2.2 1.3 5.3M331.6 172.8q-1.8 .4 -1.4 2.2M289.8 168.8q-1.1 1.9 -.1 3.8M304.4 175.9q-1.1 -.5 -2.4 -.5M300.9 167.2q2.9 -.2 3.8 2.5M348.7 162.8q-2.2 1 -1.8 3.4"/>
<path filter="url(#od)" stroke="#ffbe00" stroke-width="2" d="M248.4 147.8q.3 -2.1 -.9 -3.9M356.5 125.2q.6 1.9 2.1 3M333.1 127.4q.5 1.6 -.9 2.6M262.3 152.1q1.6 -1.6 3.7 -1M312.1 132.1q1.9 -2.5 4.4 -.6M247.1 145.1q-1.1 -1.5 -2.9 -1.3M302 126.4q1.2 2.7 -1.1 4.6M292 139.8q0 2.9 .9 5.6M353 130.8q.3 -2.3 .2 -4.6M293.5 136.3q-.2 2.5 1.6 4.2"/><path stroke="#ffffb0" stroke-width=".6" transform="translate(-.3 -.3)" d="M248.4 147.8q.3 -2.1 -.9 -3.9M356.5 125.2q.6 1.9 2.1 3M333.1 127.4q.5 1.6 -.9 2.6M262.3 152.1q1.6 -1.6 3.7 -1M312.1 132.1q1.9 -2.5 4.4 -.6M247.1 145.1q-1.1 -1.5 -2.9 -1.3M302 126.4q1.2 2.7 -1.1 4.6M292 139.8q0 2.9 .9 5.6M353 130.8q.3 -2.3 .2 -4.6M293.5 136.3q-.2 2.5 1.6 4.2"/>
<path filter="url(#oc)" stroke="#1ed2ff" stroke-width="2" d="M359.8 158.7q-.2 2.4 -1.9 4.1M286 172.2q2.4 1.3 5.1 1.7M270.5 176.3q-.4 1.5 1 2.3M304.1 169.7q-.3 -1.8 -2.1 -1.6M343.4 164.3q2.4 2.9 0 5.8M295.6 177.7q1.3 .2 2.4 -.7"/>
<path filter="url(#od)" stroke="#ff5000" stroke-width="1.5" d="M310.6 137.2q-2.2 -1.8 -.8 -4.2M338.5 121.8q2.4 -2 4.6 .2M335.9 145.6q2.5 -1.8 3.8 -4.6M309.8 146.5q1.8 .1 3.5 -.1M319.3 160.3q-1.6 -.2 -3.2 -.2M231.8 163.2q-.6 .4 -1.4 .6M252.2 148.2q.7 1.2 1.2 2.4M288.5 155.4q-.3 -1.4 -1 -2.7M275.4 149.7q-1.7 2 -4.2 1.3M294.3 160q2 1.9 2.6 4.6M333.7 144.5q0 -1.1 .5 -2M356.1 129.2q.1 2.2 -1.5 3.8M357.2 157.1q-1.8 -.4 -2.3 1.3"/>
<path filter="url(#od)" stroke="#fff45a" stroke-width="2" d="M359 139.9q2 -1.8 3.9 -3.6M275.5 153.2q-1.1 1.1 -2.2 2.2M319.6 129.7q.6 -2.8 -2.1 -3.8M312.5 132.6q1.1 .3 2.1 .9M341.4 140.7q2.2 -1.4 3.1 -3.8"/><path stroke="#ffffb0" stroke-width=".6" transform="translate(-.3 -.3)" d="M359 139.9q2 -1.8 3.9 -3.6M275.5 153.2q-1.1 1.1 -2.2 2.2M319.6 129.7q.6 -2.8 -2.1 -3.8M312.5 132.6q1.1 .3 2.1 .9M341.4 140.7q2.2 -1.4 3.1 -3.8"/>
<path filter="url(#od)" stroke="#4b00be" stroke-width="1.5" d="M292.6 149.2q1.4 .4 2.2 -.8M257.8 145.8q2.2 -.8 3.9 -2.6M263.6 153.3q1.6 1.4 .7 3.4M311 137.2q-2 -1 -1.1 -3M334.9 130.9q2.5 1.7 5.4 .8M280.5 162.4q-.9 1.7 -2.4 2.8"/>
<path filter="url(#od)" stroke="#0064f0" stroke-width="1.5" d="M259.2 158.6q1.1 .9 1.3 2.2M307 140.3q.5 -2.5 .2 -5M267.9 168.4q1.6 1.1 3.4 .5M305 169.4q-1.8 2.3 -4.2 .6M347.1 144.9q1.2 -.4 1.6 -1.7M330.4 123.3q-.5 1.9 -2.5 2.3M327.4 162.8q2.6 -1.4 1.2 -4M239 167.4q.9 -3 3.9 -2.1M248.2 158.9q-.9 -2 -2.2 -3.8"/>
<path filter="url(#od)" stroke="#eb0f14" stroke-width="2" d="M339.6 123.7q-2 -.5 -3 -2.4M293.8 152.3q2.7 -.4 3.7 2.2M363.9 133.5q-2 .6 -2.8 2.5M305.2 144.3q-1.1 .8 -2.3 .2M318.3 153.2q.2 -1.1 .3 -2.3M245.4 141.5q-3 0 -5.9 .1M258.8 152.3q-1.9 -2 -1.2 -4.6M265.4 140.6q.1 -2.1 -1.8 -3"/>
<path filter="url(#od)" stroke="#c8005a" stroke-width="1.5" d="M331.1 156.8q-.1 2.2 1.2 3.9M280.2 157.9q-2.7 -.1 -4.1 -2.4"/>
<path filter="url(#oc)" stroke="#6ef0ff" stroke-width="1.5" d="M360.2 161.3q.8 -1.6 1.7 -3.2M252.2 168.4q.1 -1.3 -1 -2M356.5 168.7q1.4 -1.1 3.2 -.7M340 172.9q.7 .3 1.4 .6M283.9 165.8q1.5 0 2.3 1.3M271.9 180q.8 .2 1.5 -.3M300.1 176q3.7 -1.5 2.2 -5.1M325.3 170q-1.4 2 -.2 4.1M276.3 174.1q3.6 .6 3.9 4.3M255.2 183.2q.6 .5 1.3 .8"/>
<path filter="url(#od)" stroke="#ff5000" stroke-width="2" d="M282.9 156.6q2.2 -2 4 -4.4M294.7 128.8q1.8 1.9 .8 4.2M349.8 152q-1.7 2 -.5 4.4M320.5 125.1q-2.2 -2.7 -5.3 -1M312.4 134.2q.7 1.9 2.4 2.9M363.7 126.7q-1.2 -.7 -2.4 -1.2M284.6 159.8q-.4 -1.2 -1.7 -1.3M354.4 129q-1.4 -1.2 -3.1 -1.7M361.2 154.9q-2.3 .7 -4.1 2.3M322.6 153.6q-1.7 .6 -2.6 -.9M309.7 137.1q1.2 1.9 2.1 4M319.3 138.3q.5 -2.4 2.7 -3.3"/>
<path filter="url(#od)" stroke="#4b00be" stroke-width="2" d="M349.9 145.2q2.6 1 4 -1.4M264.2 156.8q-1.3 -2.8 1.3 -4.4M304.7 155.1q-1.1 -.5 -2.4 -.2M350.3 140.3q-2.4 .2 -3.4 2.3M300.2 163.8q3.7 -.8 3.6 -4.5M242.4 159.6q2.6 .5 5.2 -.4"/>
<path filter="url(#od)" stroke="#ff9100" stroke-width="1.5" d="M327.2 124.2q2 2.1 4.8 2.7"/>
<path filter="url(#od)" stroke="#ffdc00" stroke-width="1.5" d="M291.6 142.7q.5 -1 .4 -2.1M353.2 125q-1.2 -.3 -1.3 -1.6M313.7 127.2q.8 -1.6 .1 -3.2M342.4 135.2q.3 1.1 .1 2.2M270.5 154.7q-1.1 -2.3 -2.4 -4.5M305.4 129.4q0 1.3 .3 2.5M331.1 132.8q-1.5 -.1 -1.5 1.4M359.6 145.5q.4 -3.1 3 -4.8M319.4 146.6q2.3 -1.5 3.3 -4.1M340.2 143.3q1.5 -1.7 .2 -3.5"/>
<path filter="url(#od)" stroke="#8c00a5" stroke-width="1.5" d="M252.6 152.3q2 .7 2.7 2.6M364.3 149.3q.9 .8 1.3 2M344.1 161.1q.2 -3.1 -2.5 -4.6M339.5 130.8q-.6 -1 -.4 -2.2M329.2 143q3.6 -.2 4.4 3.3"/>
<path filter="url(#od)" stroke="#141ed7" stroke-width="2" d="M262 158.8q1.6 .2 3.1 -.4M281.8 159.6q-1.4 2 .1 3.9"/>
<path filter="url(#od)" stroke="#fff45a" stroke-width="1.5" d="M280.6 148.5q2.3 2.3 5.3 1.1M268 142.3q-.5 -1.2 -1.6 -1.8M314.9 134.3q-1.6 -1.4 -2.5 -3.3M289.1 140.6q.1 -1.1 1 -1.9M330.8 127.1q1.4 0 2.6 .7"/>
<path filter="url(#od)" stroke="#ffdc00" stroke-width="2" d="M296.4 140.2q-1.1 -2.2 -2.6 -4.2M347.5 129.5q1.2 2 3.1 3.3M282.4 145.5q-1.7 .6 -3.1 -.5M360.6 129.6q1.4 -.7 2.5 -1.9M319.6 146.4q-2.9 -.5 -3.4 2.4M306.5 148.8q.5 -1.7 -.9 -2.8M253.4 152q.2 1.2 1.1 1.9M361.6 145.2q1.6 1.8 3.5 .2M305.1 151.6q-.6 -2.8 -3.5 -3.6M245.3 150.4q2.3 -1.5 1.4 -4.1M360.1 149.4q1.5 -.6 3.1 -1M308 138.8q-1.4 .7 -2.4 -.4M363.8 150.6q-2.1 -.1 -2.1 -2.2"/><path stroke="#ffffb0" stroke-width=".6" transform="translate(-.3 -.3)" d="M296.4 140.2q-1.1 -2.2 -2.6 -4.2M347.5 129.5q1.2 2 3.1 3.3M282.4 145.5q-1.7 .6 -3.1 -.5M360.6 129.6q1.4 -.7 2.5 -1.9M319.6 146.4q-2.9 -.5 -3.4 2.4M306.5 148.8q.5 -1.7 -.9 -2.8M253.4 152q.2 1.2 1.1 1.9M361.6 145.2q1.6 1.8 3.5 .2M305.1 151.6q-.6 -2.8 -3.5 -3.6M245.3 150.4q2.3 -1.5 1.4 -4.1M360.1 149.4q1.5 -.6 3.1 -1M308 138.8q-1.4 .7 -2.4 -.4M363.8 150.6q-2.1 -.1 -2.1 -2.2"/>
<path filter="url(#od)" stroke="#8c00a5" stroke-width="2" d="M313.5 155.4q-.3 -2.1 1.7 -2.5M320.4 145.4q-.9 1.1 0 2.3M282.6 155.4q.4 2.8 -.8 5.3"/>
<path filter="url(#od)" stroke="#141ed7" stroke-width="1.5" d="M345 153.5q-3 -.1 -6 .3M346.3 159q-1.3 .3 -2.5 .8M278.3 158.8q1.3 -1.1 2.4 .1M364.1 151.5q3.2 1.7 2.8 5.2M275 151.1q-2 1 -4.1 1.8"/>
<path filter="url(#od)" stroke="#eb0f14" stroke-width="1.5" d="M362.3 150.7q.3 -3.3 -3 -3.9M261.4 134.4q2.8 -1.1 4.6 1.2M301 147.4q-2.5 -.6 -5 0M340.7 147.8q1.8 -2.4 3.1 -5.1M346.3 155.2q-1.2 0 -2.4 .1M291.5 153.4q0 1.6 -1.4 2.2M338.7 137.7q.1 3 -1.3 5.7M307.9 142q.1 -2.6 -.2 -5.1M348.1 150.8q2 -1 4.2 -1.4M367.2 151.2q-.4 2.7 -3.2 2.9M328.7 143.7q1.8 1.9 2.2 4.5M336 124q-1.8 .6 -3.4 -.5"/>
<path filter="url(#od)" stroke="#0064f0" stroke-width="2" d="M334.6 134q-2.2 1.7 -3.9 4M358.5 128.8q-.9 -.7 -2 -1M326.6 145.6q.6 -2.3 1.5 -4.5M325 146.3q-3.2 0 -3.3 -3.2M330.6 167.4q1.6 -1.2 1.6 -3.1"/><path stroke="#dcf8ff" stroke-width="1" d="M268.5 168.5l-1.4 .1M255.7 169.4l.8 1.2M301.6 175.4l1 1M279.6 166.4l1.3 -.5M260.7 171.5l-.6 1.3M275.9 164.6l.8 1.2M321.5 164.8l1.4 .2M288.4 173.5l1.4 .2M286.6 175l-1.3 -.6M255.4 169.6l1.4 .3M296.1 165l-.8 1.1M264.1 176.4l1.2 -.7M328.3 173.6l1.3 -.5M325 165.4l-1.3 -.4M278.4 174.4l-.2 -1.4M343.9 160.7l1.4 -.3M335 167.2l.9 -1.1M288.3 164.9l-1.3 -.5M352.9 159.8l.1 -1.4M281.3 181.2l1.3 .6M288 175.2l-1.2 .8M282.9 168.6l.8 -1.2M317.2 167.6l-1 1M353.6 169l.9 1M265.8 176l1.4 -.1M360 159.5l-1 -.9M324.3 165.5l.9 -1.1M260.1 173.6l-1 .9M301.6 168.6l-1.2 -.8M346.9 165.5l1.4 .2M336.3 167.8l-.7 -1.2M341.3 172l-.9 -1M284.4 171.2l-1.4 0M284.3 164.7l-1.3 -.6M279.9 169.7l.6 -1.2M273.8 177.3l-.5 -1.3M281.8 175.1l-1.4 .2M309.3 168l1.4 .1M264.8 172.5l.8 -1.1M316.6 171.2l1.1 .9M356 167.2l-1.1 .9M341.8 163.9l-.6 -1.2M268.6 170l.9 -1.1M351.7 170.4l-1.4 -.1M288.8 167.9l1.1 .9M257.4 171.8l-.7 -1.2M252.2 170.2l.9 1.1M327.3 174.4l-1.4 .2M362 168.8l1.3 -.5M252 168.1l-.9 1.1M324.9 165.3l-.8 -1.1M275.4 165.4l1.1 -.8M299.8 174.4l-.9 -1.1M277.4 169.2l1.1 .8M326.2 171.7l1.4 .1M293.7 172.4l-1.1 .9M343.5 160.5l1.3 .4M336.1 171.7l-1.4 .2M336.5 169.8l.3 -1.4M341.9 167.9l1 -1M333.8 171.7l1.4 0M359.9 168.9l1.3 .4M265.7 175.5l.9 -1.1M276.3 174l-1 1M268.6 168.7l.6 -1.3M292.7 168.1l1.4 .2M361 167.8l-.3 1.4M289.4 180.6l1.4 .2M256.4 173.4l.9 -1.1M256.6 170.7l-1.4 .3M267.7 173.8l.2 -1.4M329.9 169.9l-1.2 -.8M335.5 173.5l1.2 -.7M281.8 176l1.4 -.2M325.4 163.9l1.4 .1M326.1 172l-.9 -1M289.8 171.8l1.2 -.7M335.4 162.4l-.6 1.3M291.1 168.1l-.5 -1.3M315.9 174.8l-1.3 .5M289.4 174.7l-1.3 .4M253.2 167.6l1.4 0M311.5 171l-1.4 -.3M259.8 171.4l-.9 1.1M361.6 166.9l.7 1.2M289.9 174.6l-.9 -1M298 166.4l-1.4 .2M331.2 165.5l1.4 .3M293 171.7l.7 -1.2M293.6 173.3l.8 -1.1M283.5 172l-.3 1.4M259.4 170.2l.8 1.1M256.8 167.8l-.8 1.2M327.8 168.7l.8 -1.1M301.8 166.9l.5 -1.3M309.2 176.6l-1.3 -.6M341.4 164.6l1.2 .7M264.4 168.4l.4 1.3M272.2 169.3l1 1M264.4 172.2l-1.4 -.3M307.4 167.8l-1.4 .1M256.3 169.6l-.7 -1.2M347.4 167.2l1.2 .7M302.4 171.8l-1.4 0M333.5 173.7l.9 1.1M361.1 165.4l-.9 1M337.5 162.2l-.2 1.4M257.3 172.3l-.6 1.3M323.5 174.7l.2 -1.4M279.8 165.5l-.3 -1.4"/>
<path filter="url(#oc)" stroke="#fffff4" stroke-width="2.6" d="M313 124.5q2 -1.5 4 .5M318.5 129q1.5 1 3 3M311 127.5q.5 2 2.5 3M324.5 133q1 1.5 .5 3.5M352 124q2.5 2 2 6M345 132q1.5 1 2 3M302 134q1 -1 2.5 -.5"/>
</g>
<path d="M202 198.5L363 174" stroke="#8c8c8c" stroke-width="0.9" fill="none"/>
<path d="M221.0 195.8l1.8 4.0M245.0 192.3l0.6 2.5M268.0 189.0l0.6 2.5M291.5 185.6l0.6 2.5M315.0 182.2l0.6 2.5M339.5 178.7l1.2 4.5" stroke="#888" stroke-width="0.7" fill="none"/>
</g>
<text x="226" y="211.5" font-size="11.5" text-anchor="middle" stroke="#000" stroke-width=".15">0</text>
<text x="345" y="193.8" font-size="11.5" text-anchor="middle" stroke="#000" stroke-width=".15">5</text>
<text x="287.5" y="216.3" font-size="16.5" text-anchor="middle" font-style="italic" stroke="#000" stroke-width=".25">x/h</text>
</svg>
</body></html>
